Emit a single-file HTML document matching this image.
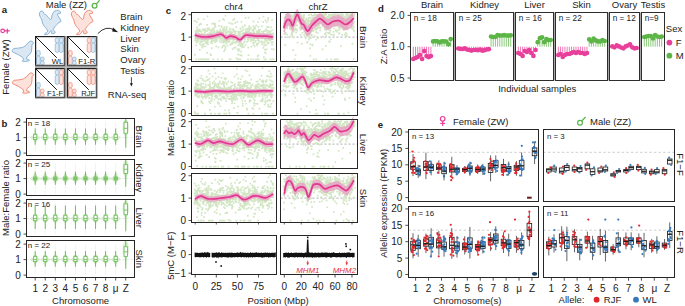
<!DOCTYPE html>
<html><head><meta charset="utf-8"><style>
html,body{margin:0;padding:0;background:#fff;}
svg{display:block;font-family:"Liberation Sans",sans-serif;}
</style></head><body>
<svg width="685" height="306" viewBox="0 0 685 306">
<rect width="685" height="306" fill="#fff"/>
<text x="1.80" y="12.74" font-size="9.6" text-anchor="start" fill="#222222" font-weight="bold">a</text>
<text x="1.60" y="127.04" font-size="9.6" text-anchor="start" fill="#222222" font-weight="bold">b</text>
<text x="165.80" y="14.04" font-size="9.6" text-anchor="start" fill="#222222" font-weight="bold">c</text>
<text x="378.00" y="12.34" font-size="9.6" text-anchor="start" fill="#222222" font-weight="bold">d</text>
<text x="377.80" y="128.14" font-size="9.6" text-anchor="start" fill="#222222" font-weight="bold">e</text>
<polygon points="39.40,14.90 39.60,12.70 40.70,11.30 42.30,11.10 43.50,12.00 43.70,13.30 44.80,14.30 46.70,15.40 48.50,17.70 50.30,19.30 51.50,18.80 51.90,15.80 52.60,13.60 54.00,11.50 56.30,10.40 58.50,10.40 60.40,11.70 60.60,13.30 59.20,13.60 58.10,13.30 57.40,14.00 58.10,15.80 59.50,18.10 60.50,20.00 61.00,21.30 60.50,22.00 58.90,22.60 56.80,24.50 54.80,26.80 53.20,29.20 53.70,30.50 55.30,31.80 54.80,33.10 52.10,33.90 51.40,33.10 51.90,31.30 50.80,30.50 49.50,32.60 47.70,34.40 44.80,34.70 44.50,33.90 46.40,32.60 47.90,31.00 46.60,28.90 44.30,26.30 42.50,23.10 41.90,20.00 40.50,17.50" fill="#dbe8f3" stroke="#8ab6d8" stroke-width="1.0" stroke-linejoin="round"/>
<polygon points="71.40,14.90 71.60,12.70 72.70,11.30 74.30,11.10 75.50,12.00 75.70,13.30 76.80,14.30 78.70,15.40 80.50,17.70 82.30,19.30 83.50,18.80 83.90,15.80 84.60,13.60 86.00,11.50 88.30,10.40 90.50,10.40 92.40,11.70 92.60,13.30 91.20,13.60 90.10,13.30 89.40,14.00 90.10,15.80 91.50,18.10 92.50,20.00 93.00,21.30 92.50,22.00 90.90,22.60 88.80,24.50 86.80,26.80 85.20,29.20 85.70,30.50 87.30,31.80 86.80,33.10 84.10,33.90 83.40,33.10 83.90,31.30 82.80,30.50 81.50,32.60 79.70,34.40 76.80,34.70 76.50,33.90 78.40,32.60 79.90,31.00 78.60,28.90 76.30,26.30 74.50,23.10 73.90,20.00 72.50,17.50" fill="#fde2dc" stroke="#f0907c" stroke-width="1.0" stroke-linejoin="round"/>
<polygon points="12.20,50.40 13.70,48.50 17.60,48.20 22.50,47.50 25.90,45.50 27.90,43.10 29.90,41.30 31.80,41.10 33.50,42.90 32.80,44.00 31.80,45.00 31.80,48.00 31.30,51.90 29.40,54.80 26.90,56.80 26.40,58.90 28.90,59.70 29.40,60.70 25.40,61.50 22.50,61.20 23.50,59.20 22.50,57.30 18.60,54.80 14.70,52.90 12.50,51.90" fill="#dbe8f3" stroke="#8ab6d8" stroke-width="1.0" stroke-linejoin="round"/>
<polygon points="12.40,82.20 13.90,80.30 17.80,80.00 22.70,79.30 26.10,77.30 28.10,74.90 30.10,73.10 32.00,72.90 33.70,74.70 33.00,75.80 32.00,76.80 32.00,79.80 31.50,83.70 29.60,86.60 27.10,88.60 26.60,90.70 29.10,91.50 29.60,92.50 25.60,93.30 22.70,93.00 23.70,91.00 22.70,89.10 18.80,86.60 14.90,84.70 12.70,83.70" fill="#fde2dc" stroke="#f0907c" stroke-width="1.0" stroke-linejoin="round"/>
<text x="66.40" y="8.40" font-size="9.5" text-anchor="middle" fill="#222222" >Male (ZZ)</text>
<g transform="translate(5.90,67.00) rotate(-90)"><text x="0" y="3.40" font-size="9.5" text-anchor="middle" fill="#222222" >Female (ZW)</text></g>
<g stroke="#5cb548" stroke-width="1.25" fill="none"><circle cx="94.6" cy="5.7" r="2.4"/><line x1="96.4" y1="3.9" x2="99.6" y2="0.3"/></g>
<g stroke="#e8409a" stroke-width="1.25" fill="none"><circle cx="2.7" cy="30.85" r="1.85"/><line x1="4.6" y1="30.85" x2="9.8" y2="30.85"/><line x1="7.3" y1="28.7" x2="7.3" y2="33.4"/></g>
<rect x="35" y="36" width="62.5" height="62.5" fill="#b4b4b4"/>
<rect x="35" y="36" width="30" height="30" fill="#fff"/>
<rect x="55.20" y="37.70" width="3.90" height="5.40" rx="1.95" fill="#dbe8f3" stroke="#8ab6d8" stroke-width="0.75"/>
<rect x="55.20" y="43.10" width="3.90" height="9.40" rx="1.95" fill="#dbe8f3" stroke="#8ab6d8" stroke-width="0.75"/>
<rect x="59.30" y="37.70" width="3.90" height="5.40" rx="1.95" fill="#dbe8f3" stroke="#8ab6d8" stroke-width="0.75"/>
<rect x="59.30" y="43.10" width="3.90" height="9.40" rx="1.95" fill="#dbe8f3" stroke="#8ab6d8" stroke-width="0.75"/>
<rect x="36.60" y="50.40" width="3.60" height="5.60" rx="1.80" fill="#dbe8f3" stroke="#8ab6d8" stroke-width="0.75"/>
<rect x="36.60" y="56.00" width="3.60" height="9.00" rx="1.80" fill="#dbe8f3" stroke="#8ab6d8" stroke-width="0.75"/>
<rect x="40.40" y="57.00" width="3.80" height="3.90" rx="1.90" fill="#dbe8f3" stroke="#8ab6d8" stroke-width="0.75"/>
<rect x="40.40" y="60.90" width="3.80" height="4.10" rx="1.90" fill="#dbe8f3" stroke="#8ab6d8" stroke-width="0.75"/>
<line x1="35.50" y1="36.50" x2="56.80" y2="57.80" stroke="#1a1a1a" stroke-width="1.0" />
<line x1="35.00" y1="36.60" x2="65.00" y2="36.60" stroke="#202020" stroke-width="1.2" />
<line x1="35.60" y1="36.00" x2="35.60" y2="66.00" stroke="#202020" stroke-width="1.2" />
<line x1="64.50" y1="36.00" x2="64.50" y2="66.00" stroke="#555" stroke-width="1.5" />
<line x1="35.00" y1="65.50" x2="65.00" y2="65.50" stroke="#555" stroke-width="1.5" />
<text x="63.30" y="64.36" font-size="7.7" text-anchor="end" fill="#222222" >WL</text>
<rect x="67" y="36" width="30" height="30" fill="#fff"/>
<rect x="87.20" y="37.70" width="3.90" height="5.40" rx="1.95" fill="#fde2dc" stroke="#f0907c" stroke-width="0.75"/>
<rect x="87.20" y="43.10" width="3.90" height="9.40" rx="1.95" fill="#fde2dc" stroke="#f0907c" stroke-width="0.75"/>
<rect x="91.30" y="37.70" width="3.90" height="5.40" rx="1.95" fill="#dbe8f3" stroke="#8ab6d8" stroke-width="0.75"/>
<rect x="91.30" y="43.10" width="3.90" height="9.40" rx="1.95" fill="#dbe8f3" stroke="#8ab6d8" stroke-width="0.75"/>
<rect x="68.60" y="50.40" width="3.60" height="5.60" rx="1.80" fill="#fde2dc" stroke="#f0907c" stroke-width="0.75"/>
<rect x="68.60" y="56.00" width="3.60" height="9.00" rx="1.80" fill="#fde2dc" stroke="#f0907c" stroke-width="0.75"/>
<rect x="72.40" y="57.00" width="3.80" height="3.90" rx="1.90" fill="#dbe8f3" stroke="#8ab6d8" stroke-width="0.75"/>
<rect x="72.40" y="60.90" width="3.80" height="4.10" rx="1.90" fill="#dbe8f3" stroke="#8ab6d8" stroke-width="0.75"/>
<line x1="67.50" y1="36.50" x2="88.80" y2="57.80" stroke="#1a1a1a" stroke-width="1.0" />
<line x1="67.00" y1="36.60" x2="97.00" y2="36.60" stroke="#202020" stroke-width="1.2" />
<line x1="67.60" y1="36.00" x2="67.60" y2="66.00" stroke="#202020" stroke-width="1.2" />
<line x1="96.50" y1="36.00" x2="96.50" y2="66.00" stroke="#555" stroke-width="1.5" />
<line x1="67.00" y1="65.50" x2="97.00" y2="65.50" stroke="#555" stroke-width="1.5" />
<text x="95.30" y="64.36" font-size="7.7" text-anchor="end" fill="#222222" >F1-R</text>
<rect x="35" y="68" width="30" height="30" fill="#fff"/>
<rect x="55.20" y="69.70" width="3.90" height="5.40" rx="1.95" fill="#dbe8f3" stroke="#8ab6d8" stroke-width="0.75"/>
<rect x="55.20" y="75.10" width="3.90" height="9.40" rx="1.95" fill="#dbe8f3" stroke="#8ab6d8" stroke-width="0.75"/>
<rect x="59.30" y="69.70" width="3.90" height="5.40" rx="1.95" fill="#fde2dc" stroke="#f0907c" stroke-width="0.75"/>
<rect x="59.30" y="75.10" width="3.90" height="9.40" rx="1.95" fill="#fde2dc" stroke="#f0907c" stroke-width="0.75"/>
<rect x="36.60" y="82.40" width="3.60" height="5.60" rx="1.80" fill="#dbe8f3" stroke="#8ab6d8" stroke-width="0.75"/>
<rect x="36.60" y="88.00" width="3.60" height="9.00" rx="1.80" fill="#dbe8f3" stroke="#8ab6d8" stroke-width="0.75"/>
<rect x="40.40" y="89.00" width="3.80" height="3.90" rx="1.90" fill="#fde2dc" stroke="#f0907c" stroke-width="0.75"/>
<rect x="40.40" y="92.90" width="3.80" height="4.10" rx="1.90" fill="#fde2dc" stroke="#f0907c" stroke-width="0.75"/>
<line x1="35.50" y1="68.50" x2="56.80" y2="89.80" stroke="#1a1a1a" stroke-width="1.0" />
<line x1="35.00" y1="68.60" x2="65.00" y2="68.60" stroke="#202020" stroke-width="1.2" />
<line x1="35.60" y1="68.00" x2="35.60" y2="98.00" stroke="#202020" stroke-width="1.2" />
<line x1="64.50" y1="68.00" x2="64.50" y2="98.00" stroke="#555" stroke-width="1.5" />
<line x1="35.00" y1="97.50" x2="65.00" y2="97.50" stroke="#555" stroke-width="1.5" />
<text x="63.30" y="96.36" font-size="7.7" text-anchor="end" fill="#222222" >F1-F</text>
<rect x="67" y="68" width="30" height="30" fill="#fff"/>
<rect x="87.20" y="69.70" width="3.90" height="5.40" rx="1.95" fill="#fde2dc" stroke="#f0907c" stroke-width="0.75"/>
<rect x="87.20" y="75.10" width="3.90" height="9.40" rx="1.95" fill="#fde2dc" stroke="#f0907c" stroke-width="0.75"/>
<rect x="91.30" y="69.70" width="3.90" height="5.40" rx="1.95" fill="#fde2dc" stroke="#f0907c" stroke-width="0.75"/>
<rect x="91.30" y="75.10" width="3.90" height="9.40" rx="1.95" fill="#fde2dc" stroke="#f0907c" stroke-width="0.75"/>
<rect x="68.60" y="82.40" width="3.60" height="5.60" rx="1.80" fill="#fde2dc" stroke="#f0907c" stroke-width="0.75"/>
<rect x="68.60" y="88.00" width="3.60" height="9.00" rx="1.80" fill="#fde2dc" stroke="#f0907c" stroke-width="0.75"/>
<rect x="72.40" y="89.00" width="3.80" height="3.90" rx="1.90" fill="#fde2dc" stroke="#f0907c" stroke-width="0.75"/>
<rect x="72.40" y="92.90" width="3.80" height="4.10" rx="1.90" fill="#fde2dc" stroke="#f0907c" stroke-width="0.75"/>
<line x1="67.50" y1="68.50" x2="88.80" y2="89.80" stroke="#1a1a1a" stroke-width="1.0" />
<line x1="67.00" y1="68.60" x2="97.00" y2="68.60" stroke="#202020" stroke-width="1.2" />
<line x1="67.60" y1="68.00" x2="67.60" y2="98.00" stroke="#202020" stroke-width="1.2" />
<line x1="96.50" y1="68.00" x2="96.50" y2="98.00" stroke="#555" stroke-width="1.5" />
<line x1="67.00" y1="97.50" x2="97.00" y2="97.50" stroke="#555" stroke-width="1.5" />
<text x="95.30" y="96.36" font-size="7.7" text-anchor="end" fill="#222222" >RJF</text>
<text x="120.30" y="20.20" font-size="9.5" text-anchor="start" fill="#222222" >Brain</text>
<text x="120.30" y="30.96" font-size="9.5" text-anchor="start" fill="#222222" >Kidney</text>
<text x="120.30" y="41.72" font-size="9.5" text-anchor="start" fill="#222222" >Liver</text>
<text x="120.30" y="52.48" font-size="9.5" text-anchor="start" fill="#222222" >Skin</text>
<text x="120.30" y="63.24" font-size="9.5" text-anchor="start" fill="#222222" >Ovary</text>
<text x="120.30" y="74.00" font-size="9.5" text-anchor="start" fill="#222222" >Testis</text>
<path d="M97.8,33.6 Q106,25 114.5,30" fill="none" stroke="#1a1a1a" stroke-width="0.9"/>
<polygon points="113,27.6 118.2,32.2 112.2,31.6" fill="#1a1a1a"/>
<line x1="131.40" y1="77.20" x2="131.40" y2="84.50" stroke="#1a1a1a" stroke-width="0.8" />
<polygon points="129.9,83.2 132.9,83.2 131.4,86.6" fill="#1a1a1a"/>
<text x="107.80" y="98.10" font-size="9.5" text-anchor="start" fill="#222222" >RNA-seq</text>
<line x1="26.50" y1="137.60" x2="134.50" y2="137.60" stroke="#d0d0d0" stroke-width="0.6" stroke-dasharray="2,2"/>
<line x1="35.20" y1="152.79" x2="35.20" y2="122.10" stroke="#eef6ea" stroke-width="1" />
<polygon points="35.20,144.73 36.00,140.70 40.70,137.60 36.00,134.50 35.20,128.45 34.40,134.50 29.70,137.60 34.40,140.70" fill="#cfe8c4" opacity="0.8"/>
<polygon points="33.60,141.47 36.80,141.47 36.80,132.95 33.60,132.95" fill="#cfe8c4"/>
<line x1="35.20" y1="144.73" x2="35.20" y2="128.45" stroke="#6cc057" stroke-width="1" />
<rect x="33.60" y="134.34" width="3.20" height="5.27" fill="#fff" stroke="#6cc057" stroke-width="0.9" />
<line x1="33.60" y1="137.60" x2="36.80" y2="137.60" stroke="#6cc057" stroke-width="0.9" />
<line x1="45.26" y1="152.79" x2="45.26" y2="122.10" stroke="#eef6ea" stroke-width="1" />
<polygon points="45.26,144.73 46.06,140.70 50.76,137.60 46.06,134.50 45.26,128.45 44.46,134.50 39.76,137.60 44.46,140.70" fill="#cfe8c4" opacity="0.8"/>
<polygon points="43.66,141.47 46.86,141.47 46.86,132.95 43.66,132.95" fill="#cfe8c4"/>
<line x1="45.26" y1="144.73" x2="45.26" y2="128.45" stroke="#6cc057" stroke-width="1" />
<rect x="43.66" y="134.34" width="3.20" height="5.27" fill="#fff" stroke="#6cc057" stroke-width="0.9" />
<line x1="43.66" y1="137.60" x2="46.86" y2="137.60" stroke="#6cc057" stroke-width="0.9" />
<line x1="55.32" y1="152.79" x2="55.32" y2="122.10" stroke="#eef6ea" stroke-width="1" />
<polygon points="55.32,144.73 56.12,140.70 60.82,137.60 56.12,134.50 55.32,128.45 54.52,134.50 49.82,137.60 54.52,140.70" fill="#cfe8c4" opacity="0.8"/>
<polygon points="53.72,141.47 56.92,141.47 56.92,132.95 53.72,132.95" fill="#cfe8c4"/>
<line x1="55.32" y1="144.73" x2="55.32" y2="128.45" stroke="#6cc057" stroke-width="1" />
<rect x="53.72" y="134.34" width="3.20" height="5.27" fill="#fff" stroke="#6cc057" stroke-width="0.9" />
<line x1="53.72" y1="137.60" x2="56.92" y2="137.60" stroke="#6cc057" stroke-width="0.9" />
<line x1="65.38" y1="152.79" x2="65.38" y2="122.10" stroke="#eef6ea" stroke-width="1" />
<polygon points="65.38,144.73 66.18,140.70 70.88,137.60 66.18,134.50 65.38,128.45 64.58,134.50 59.88,137.60 64.58,140.70" fill="#cfe8c4" opacity="0.8"/>
<polygon points="63.78,141.47 66.98,141.47 66.98,132.95 63.78,132.95" fill="#cfe8c4"/>
<line x1="65.38" y1="144.73" x2="65.38" y2="128.45" stroke="#6cc057" stroke-width="1" />
<rect x="63.78" y="134.34" width="3.20" height="5.27" fill="#fff" stroke="#6cc057" stroke-width="0.9" />
<line x1="63.78" y1="137.60" x2="66.98" y2="137.60" stroke="#6cc057" stroke-width="0.9" />
<line x1="75.44" y1="152.79" x2="75.44" y2="122.10" stroke="#eef6ea" stroke-width="1" />
<polygon points="75.44,144.73 76.24,140.70 80.94,137.60 76.24,134.50 75.44,128.45 74.64,134.50 69.94,137.60 74.64,140.70" fill="#cfe8c4" opacity="0.8"/>
<polygon points="73.84,141.47 77.04,141.47 77.04,132.95 73.84,132.95" fill="#cfe8c4"/>
<line x1="75.44" y1="144.73" x2="75.44" y2="128.45" stroke="#6cc057" stroke-width="1" />
<rect x="73.84" y="134.34" width="3.20" height="5.27" fill="#fff" stroke="#6cc057" stroke-width="0.9" />
<line x1="73.84" y1="137.60" x2="77.04" y2="137.60" stroke="#6cc057" stroke-width="0.9" />
<line x1="85.50" y1="152.79" x2="85.50" y2="122.10" stroke="#eef6ea" stroke-width="1" />
<polygon points="85.50,144.73 86.30,140.70 91.00,137.60 86.30,134.50 85.50,128.45 84.70,134.50 80.00,137.60 84.70,140.70" fill="#cfe8c4" opacity="0.8"/>
<polygon points="83.90,141.47 87.10,141.47 87.10,132.95 83.90,132.95" fill="#cfe8c4"/>
<line x1="85.50" y1="144.73" x2="85.50" y2="128.45" stroke="#6cc057" stroke-width="1" />
<rect x="83.90" y="134.34" width="3.20" height="5.27" fill="#fff" stroke="#6cc057" stroke-width="0.9" />
<line x1="83.90" y1="137.60" x2="87.10" y2="137.60" stroke="#6cc057" stroke-width="0.9" />
<line x1="95.56" y1="152.79" x2="95.56" y2="122.10" stroke="#eef6ea" stroke-width="1" />
<polygon points="95.56,144.73 96.36,140.70 101.06,137.60 96.36,134.50 95.56,128.45 94.76,134.50 90.06,137.60 94.76,140.70" fill="#cfe8c4" opacity="0.8"/>
<polygon points="93.96,141.47 97.16,141.47 97.16,132.95 93.96,132.95" fill="#cfe8c4"/>
<line x1="95.56" y1="144.73" x2="95.56" y2="128.45" stroke="#6cc057" stroke-width="1" />
<rect x="93.96" y="134.34" width="3.20" height="5.27" fill="#fff" stroke="#6cc057" stroke-width="0.9" />
<line x1="93.96" y1="137.60" x2="97.16" y2="137.60" stroke="#6cc057" stroke-width="0.9" />
<line x1="105.62" y1="152.79" x2="105.62" y2="122.10" stroke="#eef6ea" stroke-width="1" />
<polygon points="105.62,144.73 106.42,140.70 111.12,137.60 106.42,134.50 105.62,128.45 104.82,134.50 100.12,137.60 104.82,140.70" fill="#cfe8c4" opacity="0.8"/>
<polygon points="104.02,141.47 107.22,141.47 107.22,132.95 104.02,132.95" fill="#cfe8c4"/>
<line x1="105.62" y1="144.73" x2="105.62" y2="128.45" stroke="#6cc057" stroke-width="1" />
<rect x="104.02" y="134.34" width="3.20" height="5.27" fill="#fff" stroke="#6cc057" stroke-width="0.9" />
<line x1="104.02" y1="137.60" x2="107.22" y2="137.60" stroke="#6cc057" stroke-width="0.9" />
<line x1="115.68" y1="152.79" x2="115.68" y2="122.10" stroke="#eef6ea" stroke-width="1" />
<polygon points="115.68,144.73 116.48,140.70 121.18,137.60 116.48,134.50 115.68,128.45 114.88,134.50 110.18,137.60 114.88,140.70" fill="#cfe8c4" opacity="0.8"/>
<polygon points="114.08,141.47 117.28,141.47 117.28,132.95 114.08,132.95" fill="#cfe8c4"/>
<line x1="115.68" y1="144.73" x2="115.68" y2="128.45" stroke="#6cc057" stroke-width="1" />
<rect x="114.08" y="134.34" width="3.20" height="5.27" fill="#fff" stroke="#6cc057" stroke-width="0.9" />
<line x1="114.08" y1="137.60" x2="117.28" y2="137.60" stroke="#6cc057" stroke-width="0.9" />
<line x1="125.74" y1="152.79" x2="125.74" y2="122.10" stroke="#eef6ea" stroke-width="1" />
<polygon points="125.74,147.67 126.94,136.05 128.94,130.62 128.74,123.65 127.24,119.78 124.24,119.78 122.74,123.65 122.54,130.62 124.54,136.05" fill="#cfe8c4" opacity="0.8"/>
<line x1="125.74" y1="147.67" x2="125.74" y2="119.00" stroke="#6cc057" stroke-width="1" />
<rect x="124.04" y="122.25" width="3.40" height="11.00" fill="#fff" stroke="#6cc057" stroke-width="0.9" />
<line x1="124.04" y1="128.30" x2="127.44" y2="128.30" stroke="#6cc057" stroke-width="0.9" />
<rect x="26.50" y="118.50" width="108.00" height="37.00" fill="none" stroke="#262626" stroke-width="1" />
<line x1="23.50" y1="153.10" x2="26.50" y2="153.10" stroke="#262626" stroke-width="0.8" />
<text x="20.70" y="156.68" font-size="10" text-anchor="end" fill="#222222" >0</text>
<line x1="23.50" y1="137.60" x2="26.50" y2="137.60" stroke="#262626" stroke-width="0.8" />
<text x="20.70" y="141.18" font-size="10" text-anchor="end" fill="#222222" >1</text>
<line x1="23.50" y1="122.10" x2="26.50" y2="122.10" stroke="#262626" stroke-width="0.8" />
<text x="20.70" y="125.68" font-size="10" text-anchor="end" fill="#222222" >2</text>
<text x="27.80" y="126.16" font-size="8" text-anchor="start" fill="#222222" >n = 18</text>
<g transform="translate(139.60,136.70) rotate(90)"><text x="0" y="3.40" font-size="9.5" text-anchor="middle" fill="#222222" >Brain</text></g>
<line x1="26.50" y1="178.60" x2="134.50" y2="178.60" stroke="#d0d0d0" stroke-width="0.6" stroke-dasharray="2,2"/>
<line x1="35.20" y1="193.79" x2="35.20" y2="163.10" stroke="#eef6ea" stroke-width="1" />
<polygon points="35.20,184.80 36.00,181.70 41.20,178.60 36.00,175.50 35.20,171.62 34.40,175.50 29.20,178.60 34.40,181.70" fill="#cfe8c4" opacity="0.8"/>
<polygon points="33.60,182.47 36.80,182.47 36.80,173.95 33.60,173.95" fill="#cfe8c4"/>
<line x1="35.20" y1="184.80" x2="35.20" y2="171.62" stroke="#6cc057" stroke-width="1" />
<rect x="33.60" y="177.05" width="3.20" height="2.79" fill="#a9dc96" stroke="#6cc057" stroke-width="0.9" />
<line x1="33.60" y1="178.60" x2="36.80" y2="178.60" stroke="#6cc057" stroke-width="0.9" />
<line x1="45.26" y1="193.79" x2="45.26" y2="163.10" stroke="#eef6ea" stroke-width="1" />
<polygon points="45.26,184.80 46.06,181.70 51.26,178.60 46.06,175.50 45.26,171.62 44.46,175.50 39.26,178.60 44.46,181.70" fill="#cfe8c4" opacity="0.8"/>
<polygon points="43.66,182.47 46.86,182.47 46.86,173.95 43.66,173.95" fill="#cfe8c4"/>
<line x1="45.26" y1="184.80" x2="45.26" y2="171.62" stroke="#6cc057" stroke-width="1" />
<rect x="43.66" y="177.05" width="3.20" height="2.79" fill="#a9dc96" stroke="#6cc057" stroke-width="0.9" />
<line x1="43.66" y1="178.60" x2="46.86" y2="178.60" stroke="#6cc057" stroke-width="0.9" />
<line x1="55.32" y1="193.79" x2="55.32" y2="163.10" stroke="#eef6ea" stroke-width="1" />
<polygon points="55.32,184.80 56.12,181.70 61.32,178.60 56.12,175.50 55.32,171.62 54.52,175.50 49.32,178.60 54.52,181.70" fill="#cfe8c4" opacity="0.8"/>
<polygon points="53.72,182.47 56.92,182.47 56.92,173.95 53.72,173.95" fill="#cfe8c4"/>
<line x1="55.32" y1="184.80" x2="55.32" y2="171.62" stroke="#6cc057" stroke-width="1" />
<rect x="53.72" y="177.05" width="3.20" height="2.79" fill="#a9dc96" stroke="#6cc057" stroke-width="0.9" />
<line x1="53.72" y1="178.60" x2="56.92" y2="178.60" stroke="#6cc057" stroke-width="0.9" />
<line x1="65.38" y1="193.79" x2="65.38" y2="163.10" stroke="#eef6ea" stroke-width="1" />
<polygon points="65.38,184.80 66.18,181.70 71.38,178.60 66.18,175.50 65.38,171.62 64.58,175.50 59.38,178.60 64.58,181.70" fill="#cfe8c4" opacity="0.8"/>
<polygon points="63.78,182.47 66.98,182.47 66.98,173.95 63.78,173.95" fill="#cfe8c4"/>
<line x1="65.38" y1="184.80" x2="65.38" y2="171.62" stroke="#6cc057" stroke-width="1" />
<rect x="63.78" y="177.05" width="3.20" height="2.79" fill="#a9dc96" stroke="#6cc057" stroke-width="0.9" />
<line x1="63.78" y1="178.60" x2="66.98" y2="178.60" stroke="#6cc057" stroke-width="0.9" />
<line x1="75.44" y1="193.79" x2="75.44" y2="163.10" stroke="#eef6ea" stroke-width="1" />
<polygon points="75.44,184.80 76.24,181.70 81.44,178.60 76.24,175.50 75.44,171.62 74.64,175.50 69.44,178.60 74.64,181.70" fill="#cfe8c4" opacity="0.8"/>
<polygon points="73.84,182.47 77.04,182.47 77.04,173.95 73.84,173.95" fill="#cfe8c4"/>
<line x1="75.44" y1="184.80" x2="75.44" y2="171.62" stroke="#6cc057" stroke-width="1" />
<rect x="73.84" y="177.05" width="3.20" height="2.79" fill="#a9dc96" stroke="#6cc057" stroke-width="0.9" />
<line x1="73.84" y1="178.60" x2="77.04" y2="178.60" stroke="#6cc057" stroke-width="0.9" />
<line x1="85.50" y1="193.79" x2="85.50" y2="163.10" stroke="#eef6ea" stroke-width="1" />
<polygon points="85.50,184.80 86.30,181.70 91.50,178.60 86.30,175.50 85.50,171.62 84.70,175.50 79.50,178.60 84.70,181.70" fill="#cfe8c4" opacity="0.8"/>
<polygon points="83.90,182.47 87.10,182.47 87.10,173.95 83.90,173.95" fill="#cfe8c4"/>
<line x1="85.50" y1="184.80" x2="85.50" y2="171.62" stroke="#6cc057" stroke-width="1" />
<rect x="83.90" y="177.05" width="3.20" height="2.79" fill="#a9dc96" stroke="#6cc057" stroke-width="0.9" />
<line x1="83.90" y1="178.60" x2="87.10" y2="178.60" stroke="#6cc057" stroke-width="0.9" />
<line x1="95.56" y1="193.79" x2="95.56" y2="163.10" stroke="#eef6ea" stroke-width="1" />
<polygon points="95.56,184.80 96.36,181.70 101.56,178.60 96.36,175.50 95.56,171.62 94.76,175.50 89.56,178.60 94.76,181.70" fill="#cfe8c4" opacity="0.8"/>
<polygon points="93.96,182.47 97.16,182.47 97.16,173.95 93.96,173.95" fill="#cfe8c4"/>
<line x1="95.56" y1="184.80" x2="95.56" y2="171.62" stroke="#6cc057" stroke-width="1" />
<rect x="93.96" y="177.05" width="3.20" height="2.79" fill="#a9dc96" stroke="#6cc057" stroke-width="0.9" />
<line x1="93.96" y1="178.60" x2="97.16" y2="178.60" stroke="#6cc057" stroke-width="0.9" />
<line x1="105.62" y1="193.79" x2="105.62" y2="163.10" stroke="#eef6ea" stroke-width="1" />
<polygon points="105.62,184.80 106.42,181.70 111.62,178.60 106.42,175.50 105.62,171.62 104.82,175.50 99.62,178.60 104.82,181.70" fill="#cfe8c4" opacity="0.8"/>
<polygon points="104.02,182.47 107.22,182.47 107.22,173.95 104.02,173.95" fill="#cfe8c4"/>
<line x1="105.62" y1="184.80" x2="105.62" y2="171.62" stroke="#6cc057" stroke-width="1" />
<rect x="104.02" y="177.05" width="3.20" height="2.79" fill="#a9dc96" stroke="#6cc057" stroke-width="0.9" />
<line x1="104.02" y1="178.60" x2="107.22" y2="178.60" stroke="#6cc057" stroke-width="0.9" />
<line x1="115.68" y1="193.79" x2="115.68" y2="163.10" stroke="#eef6ea" stroke-width="1" />
<polygon points="115.68,184.80 116.48,181.70 121.68,178.60 116.48,175.50 115.68,171.62 114.88,175.50 109.68,178.60 114.88,181.70" fill="#cfe8c4" opacity="0.8"/>
<polygon points="114.08,182.47 117.28,182.47 117.28,173.95 114.08,173.95" fill="#cfe8c4"/>
<line x1="115.68" y1="184.80" x2="115.68" y2="171.62" stroke="#6cc057" stroke-width="1" />
<rect x="114.08" y="177.05" width="3.20" height="2.79" fill="#a9dc96" stroke="#6cc057" stroke-width="0.9" />
<line x1="114.08" y1="178.60" x2="117.28" y2="178.60" stroke="#6cc057" stroke-width="0.9" />
<line x1="125.74" y1="193.79" x2="125.74" y2="163.10" stroke="#eef6ea" stroke-width="1" />
<polygon points="125.74,186.81 126.94,177.05 128.94,171.62 128.74,164.65 127.24,160.78 124.24,160.78 122.74,164.65 122.54,171.62 124.54,177.05" fill="#cfe8c4" opacity="0.8"/>
<line x1="125.74" y1="186.81" x2="125.74" y2="160.00" stroke="#6cc057" stroke-width="1" />
<rect x="124.04" y="164.65" width="3.40" height="8.83" fill="#fff" stroke="#6cc057" stroke-width="0.9" />
<line x1="124.04" y1="169.30" x2="127.44" y2="169.30" stroke="#6cc057" stroke-width="0.9" />
<rect x="26.50" y="159.50" width="108.00" height="36.00" fill="none" stroke="#262626" stroke-width="1" />
<line x1="23.50" y1="194.10" x2="26.50" y2="194.10" stroke="#262626" stroke-width="0.8" />
<text x="20.70" y="197.68" font-size="10" text-anchor="end" fill="#222222" >0</text>
<line x1="23.50" y1="178.60" x2="26.50" y2="178.60" stroke="#262626" stroke-width="0.8" />
<text x="20.70" y="182.18" font-size="10" text-anchor="end" fill="#222222" >1</text>
<line x1="23.50" y1="163.10" x2="26.50" y2="163.10" stroke="#262626" stroke-width="0.8" />
<text x="20.70" y="166.68" font-size="10" text-anchor="end" fill="#222222" >2</text>
<text x="27.80" y="167.16" font-size="8" text-anchor="start" fill="#222222" >n = 25</text>
<g transform="translate(139.60,177.70) rotate(90)"><text x="0" y="3.40" font-size="9.5" text-anchor="middle" fill="#222222" >Kidney</text></g>
<line x1="26.50" y1="218.60" x2="134.50" y2="218.60" stroke="#d0d0d0" stroke-width="0.6" stroke-dasharray="2,2"/>
<line x1="35.20" y1="233.79" x2="35.20" y2="203.10" stroke="#eef6ea" stroke-width="1" />
<polygon points="35.20,228.98 36.00,221.70 40.70,218.60 36.00,215.50 35.20,205.58 34.40,215.50 29.70,218.60 34.40,221.70" fill="#cfe8c4" opacity="0.8"/>
<polygon points="33.60,222.47 36.80,222.47 36.80,213.95 33.60,213.95" fill="#cfe8c4"/>
<line x1="35.20" y1="228.98" x2="35.20" y2="205.58" stroke="#6cc057" stroke-width="1" />
<rect x="33.60" y="215.19" width="3.20" height="5.58" fill="#fff" stroke="#6cc057" stroke-width="0.9" />
<line x1="33.60" y1="218.60" x2="36.80" y2="218.60" stroke="#6cc057" stroke-width="0.9" />
<line x1="45.26" y1="233.79" x2="45.26" y2="203.10" stroke="#eef6ea" stroke-width="1" />
<polygon points="45.26,228.98 46.06,221.70 50.76,218.60 46.06,215.50 45.26,205.58 44.46,215.50 39.76,218.60 44.46,221.70" fill="#cfe8c4" opacity="0.8"/>
<polygon points="43.66,222.47 46.86,222.47 46.86,213.95 43.66,213.95" fill="#cfe8c4"/>
<line x1="45.26" y1="228.98" x2="45.26" y2="205.58" stroke="#6cc057" stroke-width="1" />
<rect x="43.66" y="215.19" width="3.20" height="5.58" fill="#fff" stroke="#6cc057" stroke-width="0.9" />
<line x1="43.66" y1="218.60" x2="46.86" y2="218.60" stroke="#6cc057" stroke-width="0.9" />
<line x1="55.32" y1="233.79" x2="55.32" y2="203.10" stroke="#eef6ea" stroke-width="1" />
<polygon points="55.32,228.98 56.12,221.70 60.82,218.60 56.12,215.50 55.32,205.58 54.52,215.50 49.82,218.60 54.52,221.70" fill="#cfe8c4" opacity="0.8"/>
<polygon points="53.72,222.47 56.92,222.47 56.92,213.95 53.72,213.95" fill="#cfe8c4"/>
<line x1="55.32" y1="228.98" x2="55.32" y2="205.58" stroke="#6cc057" stroke-width="1" />
<rect x="53.72" y="215.19" width="3.20" height="5.58" fill="#fff" stroke="#6cc057" stroke-width="0.9" />
<line x1="53.72" y1="218.60" x2="56.92" y2="218.60" stroke="#6cc057" stroke-width="0.9" />
<line x1="65.38" y1="233.79" x2="65.38" y2="203.10" stroke="#eef6ea" stroke-width="1" />
<polygon points="65.38,228.98 66.18,221.70 70.88,218.60 66.18,215.50 65.38,205.58 64.58,215.50 59.88,218.60 64.58,221.70" fill="#cfe8c4" opacity="0.8"/>
<polygon points="63.78,222.47 66.98,222.47 66.98,213.95 63.78,213.95" fill="#cfe8c4"/>
<line x1="65.38" y1="228.98" x2="65.38" y2="205.58" stroke="#6cc057" stroke-width="1" />
<rect x="63.78" y="215.19" width="3.20" height="5.58" fill="#fff" stroke="#6cc057" stroke-width="0.9" />
<line x1="63.78" y1="218.60" x2="66.98" y2="218.60" stroke="#6cc057" stroke-width="0.9" />
<line x1="75.44" y1="233.79" x2="75.44" y2="203.10" stroke="#eef6ea" stroke-width="1" />
<polygon points="75.44,228.98 76.24,221.70 80.94,218.60 76.24,215.50 75.44,205.58 74.64,215.50 69.94,218.60 74.64,221.70" fill="#cfe8c4" opacity="0.8"/>
<polygon points="73.84,222.47 77.04,222.47 77.04,213.95 73.84,213.95" fill="#cfe8c4"/>
<line x1="75.44" y1="228.98" x2="75.44" y2="205.58" stroke="#6cc057" stroke-width="1" />
<rect x="73.84" y="215.19" width="3.20" height="5.58" fill="#fff" stroke="#6cc057" stroke-width="0.9" />
<line x1="73.84" y1="218.60" x2="77.04" y2="218.60" stroke="#6cc057" stroke-width="0.9" />
<line x1="85.50" y1="233.79" x2="85.50" y2="203.10" stroke="#eef6ea" stroke-width="1" />
<polygon points="85.50,228.98 86.30,221.70 91.00,218.60 86.30,215.50 85.50,205.58 84.70,215.50 80.00,218.60 84.70,221.70" fill="#cfe8c4" opacity="0.8"/>
<polygon points="83.90,222.47 87.10,222.47 87.10,213.95 83.90,213.95" fill="#cfe8c4"/>
<line x1="85.50" y1="228.98" x2="85.50" y2="205.58" stroke="#6cc057" stroke-width="1" />
<rect x="83.90" y="215.19" width="3.20" height="5.58" fill="#fff" stroke="#6cc057" stroke-width="0.9" />
<line x1="83.90" y1="218.60" x2="87.10" y2="218.60" stroke="#6cc057" stroke-width="0.9" />
<line x1="95.56" y1="233.79" x2="95.56" y2="203.10" stroke="#eef6ea" stroke-width="1" />
<polygon points="95.56,228.98 96.36,221.70 101.06,218.60 96.36,215.50 95.56,205.58 94.76,215.50 90.06,218.60 94.76,221.70" fill="#cfe8c4" opacity="0.8"/>
<polygon points="93.96,222.47 97.16,222.47 97.16,213.95 93.96,213.95" fill="#cfe8c4"/>
<line x1="95.56" y1="228.98" x2="95.56" y2="205.58" stroke="#6cc057" stroke-width="1" />
<rect x="93.96" y="215.19" width="3.20" height="5.58" fill="#fff" stroke="#6cc057" stroke-width="0.9" />
<line x1="93.96" y1="218.60" x2="97.16" y2="218.60" stroke="#6cc057" stroke-width="0.9" />
<line x1="105.62" y1="233.79" x2="105.62" y2="203.10" stroke="#eef6ea" stroke-width="1" />
<polygon points="105.62,228.98 106.42,221.70 111.12,218.60 106.42,215.50 105.62,205.58 104.82,215.50 100.12,218.60 104.82,221.70" fill="#cfe8c4" opacity="0.8"/>
<polygon points="104.02,222.47 107.22,222.47 107.22,213.95 104.02,213.95" fill="#cfe8c4"/>
<line x1="105.62" y1="228.98" x2="105.62" y2="205.58" stroke="#6cc057" stroke-width="1" />
<rect x="104.02" y="215.19" width="3.20" height="5.58" fill="#fff" stroke="#6cc057" stroke-width="0.9" />
<line x1="104.02" y1="218.60" x2="107.22" y2="218.60" stroke="#6cc057" stroke-width="0.9" />
<line x1="115.68" y1="233.79" x2="115.68" y2="203.10" stroke="#eef6ea" stroke-width="1" />
<polygon points="115.68,228.98 116.48,221.70 121.18,218.60 116.48,215.50 115.68,205.58 114.88,215.50 110.18,218.60 114.88,221.70" fill="#cfe8c4" opacity="0.8"/>
<polygon points="114.08,222.47 117.28,222.47 117.28,213.95 114.08,213.95" fill="#cfe8c4"/>
<line x1="115.68" y1="228.98" x2="115.68" y2="205.58" stroke="#6cc057" stroke-width="1" />
<rect x="114.08" y="215.19" width="3.20" height="5.58" fill="#fff" stroke="#6cc057" stroke-width="0.9" />
<line x1="114.08" y1="218.60" x2="117.28" y2="218.60" stroke="#6cc057" stroke-width="0.9" />
<line x1="125.74" y1="233.79" x2="125.74" y2="203.10" stroke="#eef6ea" stroke-width="1" />
<polygon points="125.74,231.31 126.94,217.05 128.94,211.62 128.74,204.65 127.24,200.78 124.24,200.78 122.74,204.65 122.54,211.62 124.54,217.05" fill="#cfe8c4" opacity="0.8"/>
<line x1="125.74" y1="231.31" x2="125.74" y2="200.00" stroke="#6cc057" stroke-width="1" />
<rect x="124.04" y="203.88" width="3.40" height="10.85" fill="#fff" stroke="#6cc057" stroke-width="0.9" />
<line x1="124.04" y1="210.07" x2="127.44" y2="210.07" stroke="#6cc057" stroke-width="0.9" />
<rect x="26.50" y="199.50" width="108.00" height="37.00" fill="none" stroke="#262626" stroke-width="1" />
<line x1="23.50" y1="234.10" x2="26.50" y2="234.10" stroke="#262626" stroke-width="0.8" />
<text x="20.70" y="237.68" font-size="10" text-anchor="end" fill="#222222" >0</text>
<line x1="23.50" y1="218.60" x2="26.50" y2="218.60" stroke="#262626" stroke-width="0.8" />
<text x="20.70" y="222.18" font-size="10" text-anchor="end" fill="#222222" >1</text>
<line x1="23.50" y1="203.10" x2="26.50" y2="203.10" stroke="#262626" stroke-width="0.8" />
<text x="20.70" y="206.68" font-size="10" text-anchor="end" fill="#222222" >2</text>
<text x="27.80" y="207.16" font-size="8" text-anchor="start" fill="#222222" >n = 16</text>
<g transform="translate(139.60,217.70) rotate(90)"><text x="0" y="3.40" font-size="9.5" text-anchor="middle" fill="#222222" >Liver</text></g>
<line x1="26.50" y1="259.60" x2="134.50" y2="259.60" stroke="#d0d0d0" stroke-width="0.6" stroke-dasharray="2,2"/>
<line x1="35.20" y1="274.79" x2="35.20" y2="244.10" stroke="#eef6ea" stroke-width="1" />
<polygon points="35.20,266.73 36.00,262.70 40.70,259.60 36.00,256.50 35.20,251.08 34.40,256.50 29.70,259.60 34.40,262.70" fill="#cfe8c4" opacity="0.8"/>
<polygon points="33.60,263.48 36.80,263.48 36.80,254.95 33.60,254.95" fill="#cfe8c4"/>
<line x1="35.20" y1="266.73" x2="35.20" y2="251.08" stroke="#6cc057" stroke-width="1" />
<rect x="33.60" y="256.35" width="3.20" height="5.27" fill="#fff" stroke="#6cc057" stroke-width="0.9" />
<line x1="33.60" y1="259.60" x2="36.80" y2="259.60" stroke="#6cc057" stroke-width="0.9" />
<line x1="45.26" y1="274.79" x2="45.26" y2="244.10" stroke="#eef6ea" stroke-width="1" />
<polygon points="45.26,266.73 46.06,262.70 50.76,259.60 46.06,256.50 45.26,251.08 44.46,256.50 39.76,259.60 44.46,262.70" fill="#cfe8c4" opacity="0.8"/>
<polygon points="43.66,263.48 46.86,263.48 46.86,254.95 43.66,254.95" fill="#cfe8c4"/>
<line x1="45.26" y1="266.73" x2="45.26" y2="251.08" stroke="#6cc057" stroke-width="1" />
<rect x="43.66" y="256.35" width="3.20" height="5.27" fill="#fff" stroke="#6cc057" stroke-width="0.9" />
<line x1="43.66" y1="259.60" x2="46.86" y2="259.60" stroke="#6cc057" stroke-width="0.9" />
<line x1="55.32" y1="274.79" x2="55.32" y2="244.10" stroke="#eef6ea" stroke-width="1" />
<polygon points="55.32,266.73 56.12,262.70 60.82,259.60 56.12,256.50 55.32,251.08 54.52,256.50 49.82,259.60 54.52,262.70" fill="#cfe8c4" opacity="0.8"/>
<polygon points="53.72,263.48 56.92,263.48 56.92,254.95 53.72,254.95" fill="#cfe8c4"/>
<line x1="55.32" y1="266.73" x2="55.32" y2="251.08" stroke="#6cc057" stroke-width="1" />
<rect x="53.72" y="256.35" width="3.20" height="5.27" fill="#fff" stroke="#6cc057" stroke-width="0.9" />
<line x1="53.72" y1="259.60" x2="56.92" y2="259.60" stroke="#6cc057" stroke-width="0.9" />
<line x1="65.38" y1="274.79" x2="65.38" y2="244.10" stroke="#eef6ea" stroke-width="1" />
<polygon points="65.38,266.73 66.18,262.70 70.88,259.60 66.18,256.50 65.38,251.08 64.58,256.50 59.88,259.60 64.58,262.70" fill="#cfe8c4" opacity="0.8"/>
<polygon points="63.78,263.48 66.98,263.48 66.98,254.95 63.78,254.95" fill="#cfe8c4"/>
<line x1="65.38" y1="266.73" x2="65.38" y2="251.08" stroke="#6cc057" stroke-width="1" />
<rect x="63.78" y="256.35" width="3.20" height="5.27" fill="#fff" stroke="#6cc057" stroke-width="0.9" />
<line x1="63.78" y1="259.60" x2="66.98" y2="259.60" stroke="#6cc057" stroke-width="0.9" />
<line x1="75.44" y1="274.79" x2="75.44" y2="244.10" stroke="#eef6ea" stroke-width="1" />
<polygon points="75.44,266.73 76.24,262.70 80.94,259.60 76.24,256.50 75.44,251.08 74.64,256.50 69.94,259.60 74.64,262.70" fill="#cfe8c4" opacity="0.8"/>
<polygon points="73.84,263.48 77.04,263.48 77.04,254.95 73.84,254.95" fill="#cfe8c4"/>
<line x1="75.44" y1="266.73" x2="75.44" y2="251.08" stroke="#6cc057" stroke-width="1" />
<rect x="73.84" y="256.35" width="3.20" height="5.27" fill="#fff" stroke="#6cc057" stroke-width="0.9" />
<line x1="73.84" y1="259.60" x2="77.04" y2="259.60" stroke="#6cc057" stroke-width="0.9" />
<line x1="85.50" y1="274.79" x2="85.50" y2="244.10" stroke="#eef6ea" stroke-width="1" />
<polygon points="85.50,266.73 86.30,262.70 91.00,259.60 86.30,256.50 85.50,251.08 84.70,256.50 80.00,259.60 84.70,262.70" fill="#cfe8c4" opacity="0.8"/>
<polygon points="83.90,263.48 87.10,263.48 87.10,254.95 83.90,254.95" fill="#cfe8c4"/>
<line x1="85.50" y1="266.73" x2="85.50" y2="251.08" stroke="#6cc057" stroke-width="1" />
<rect x="83.90" y="256.35" width="3.20" height="5.27" fill="#fff" stroke="#6cc057" stroke-width="0.9" />
<line x1="83.90" y1="259.60" x2="87.10" y2="259.60" stroke="#6cc057" stroke-width="0.9" />
<line x1="95.56" y1="274.79" x2="95.56" y2="244.10" stroke="#eef6ea" stroke-width="1" />
<polygon points="95.56,266.73 96.36,262.70 101.06,259.60 96.36,256.50 95.56,251.08 94.76,256.50 90.06,259.60 94.76,262.70" fill="#cfe8c4" opacity="0.8"/>
<polygon points="93.96,263.48 97.16,263.48 97.16,254.95 93.96,254.95" fill="#cfe8c4"/>
<line x1="95.56" y1="266.73" x2="95.56" y2="251.08" stroke="#6cc057" stroke-width="1" />
<rect x="93.96" y="256.35" width="3.20" height="5.27" fill="#fff" stroke="#6cc057" stroke-width="0.9" />
<line x1="93.96" y1="259.60" x2="97.16" y2="259.60" stroke="#6cc057" stroke-width="0.9" />
<line x1="105.62" y1="274.79" x2="105.62" y2="244.10" stroke="#eef6ea" stroke-width="1" />
<polygon points="105.62,266.73 106.42,262.70 111.12,259.60 106.42,256.50 105.62,251.08 104.82,256.50 100.12,259.60 104.82,262.70" fill="#cfe8c4" opacity="0.8"/>
<polygon points="104.02,263.48 107.22,263.48 107.22,254.95 104.02,254.95" fill="#cfe8c4"/>
<line x1="105.62" y1="266.73" x2="105.62" y2="251.08" stroke="#6cc057" stroke-width="1" />
<rect x="104.02" y="256.35" width="3.20" height="5.27" fill="#fff" stroke="#6cc057" stroke-width="0.9" />
<line x1="104.02" y1="259.60" x2="107.22" y2="259.60" stroke="#6cc057" stroke-width="0.9" />
<line x1="115.68" y1="274.79" x2="115.68" y2="244.10" stroke="#eef6ea" stroke-width="1" />
<polygon points="115.68,266.73 116.48,262.70 121.18,259.60 116.48,256.50 115.68,251.08 114.88,256.50 110.18,259.60 114.88,262.70" fill="#cfe8c4" opacity="0.8"/>
<polygon points="114.08,263.48 117.28,263.48 117.28,254.95 114.08,254.95" fill="#cfe8c4"/>
<line x1="115.68" y1="266.73" x2="115.68" y2="251.08" stroke="#6cc057" stroke-width="1" />
<rect x="114.08" y="256.35" width="3.20" height="5.27" fill="#fff" stroke="#6cc057" stroke-width="0.9" />
<line x1="114.08" y1="259.60" x2="117.28" y2="259.60" stroke="#6cc057" stroke-width="0.9" />
<line x1="125.74" y1="274.79" x2="125.74" y2="244.10" stroke="#eef6ea" stroke-width="1" />
<polygon points="125.74,268.75 126.94,258.05 128.94,252.63 128.74,245.65 127.24,241.78 124.24,241.78 122.74,245.65 122.54,252.63 124.54,258.05" fill="#cfe8c4" opacity="0.8"/>
<line x1="125.74" y1="268.75" x2="125.74" y2="241.00" stroke="#6cc057" stroke-width="1" />
<rect x="124.04" y="246.74" width="3.40" height="9.61" fill="#fff" stroke="#6cc057" stroke-width="0.9" />
<line x1="124.04" y1="251.85" x2="127.44" y2="251.85" stroke="#6cc057" stroke-width="0.9" />
<rect x="26.50" y="240.50" width="108.00" height="37.00" fill="none" stroke="#262626" stroke-width="1" />
<line x1="23.50" y1="275.10" x2="26.50" y2="275.10" stroke="#262626" stroke-width="0.8" />
<text x="20.70" y="278.68" font-size="10" text-anchor="end" fill="#222222" >0</text>
<line x1="23.50" y1="259.60" x2="26.50" y2="259.60" stroke="#262626" stroke-width="0.8" />
<text x="20.70" y="263.18" font-size="10" text-anchor="end" fill="#222222" >1</text>
<line x1="23.50" y1="244.10" x2="26.50" y2="244.10" stroke="#262626" stroke-width="0.8" />
<text x="20.70" y="247.68" font-size="10" text-anchor="end" fill="#222222" >2</text>
<text x="27.80" y="248.16" font-size="8" text-anchor="start" fill="#222222" >n = 22</text>
<g transform="translate(139.60,258.70) rotate(90)"><text x="0" y="3.40" font-size="9.5" text-anchor="middle" fill="#222222" >Skin</text></g>
<line x1="35.20" y1="277.50" x2="35.20" y2="280.50" stroke="#262626" stroke-width="0.8" />
<text x="35.20" y="291.58" font-size="10" text-anchor="middle" fill="#222222" >1</text>
<line x1="45.26" y1="277.50" x2="45.26" y2="280.50" stroke="#262626" stroke-width="0.8" />
<text x="45.26" y="291.58" font-size="10" text-anchor="middle" fill="#222222" >2</text>
<line x1="55.32" y1="277.50" x2="55.32" y2="280.50" stroke="#262626" stroke-width="0.8" />
<text x="55.32" y="291.58" font-size="10" text-anchor="middle" fill="#222222" >3</text>
<line x1="65.38" y1="277.50" x2="65.38" y2="280.50" stroke="#262626" stroke-width="0.8" />
<text x="65.38" y="291.58" font-size="10" text-anchor="middle" fill="#222222" >4</text>
<line x1="75.44" y1="277.50" x2="75.44" y2="280.50" stroke="#262626" stroke-width="0.8" />
<text x="75.44" y="291.58" font-size="10" text-anchor="middle" fill="#222222" >5</text>
<line x1="85.50" y1="277.50" x2="85.50" y2="280.50" stroke="#262626" stroke-width="0.8" />
<text x="85.50" y="291.58" font-size="10" text-anchor="middle" fill="#222222" >6</text>
<line x1="95.56" y1="277.50" x2="95.56" y2="280.50" stroke="#262626" stroke-width="0.8" />
<text x="95.56" y="291.58" font-size="10" text-anchor="middle" fill="#222222" >7</text>
<line x1="105.62" y1="277.50" x2="105.62" y2="280.50" stroke="#262626" stroke-width="0.8" />
<text x="105.62" y="291.58" font-size="10" text-anchor="middle" fill="#222222" >8</text>
<line x1="115.68" y1="277.50" x2="115.68" y2="280.50" stroke="#262626" stroke-width="0.8" />
<text x="115.68" y="291.58" font-size="10" text-anchor="middle" fill="#222222" >&#956;</text>
<line x1="125.74" y1="277.50" x2="125.74" y2="280.50" stroke="#262626" stroke-width="0.8" />
<text x="125.74" y="291.58" font-size="10" text-anchor="middle" fill="#222222" >Z</text>
<text x="80.60" y="303.80" font-size="9.5" text-anchor="middle" fill="#222222" >Chromosome</text>
<g transform="translate(6.00,198.00) rotate(-90)"><text x="0" y="3.40" font-size="9.5" text-anchor="middle" fill="#222222" >Male:Female ratio</text></g>
<line x1="280.50" y1="37.10" x2="357.50" y2="37.10" stroke="#9a9a9a" stroke-width="0.8" stroke-dasharray="2,2"/>
<path d="M203.8,38.7h1.7v1.7h-1.7zM233.2,39.1h1.7v1.7h-1.7zM241.3,45.0h1.7v1.7h-1.7zM195.9,34.5h1.7v1.7h-1.7zM205.4,38.1h1.7v1.7h-1.7zM267.3,19.1h1.7v1.7h-1.7zM199.2,29.8h1.7v1.7h-1.7zM203.9,30.0h1.7v1.7h-1.7zM268.9,30.5h1.7v1.7h-1.7zM243.0,37.0h1.7v1.7h-1.7zM222.9,40.0h1.7v1.7h-1.7zM234.2,32.5h1.7v1.7h-1.7zM246.2,32.3h1.7v1.7h-1.7zM215.5,32.3h1.7v1.7h-1.7zM204.6,36.7h1.7v1.7h-1.7zM256.1,30.4h1.7v1.7h-1.7zM246.8,38.4h1.7v1.7h-1.7zM234.3,41.9h1.7v1.7h-1.7zM258.4,36.8h1.7v1.7h-1.7zM237.2,44.6h1.7v1.7h-1.7zM271.4,36.3h1.7v1.7h-1.7zM209.9,36.2h1.7v1.7h-1.7zM237.6,53.7h1.7v1.7h-1.7zM232.0,35.6h1.7v1.7h-1.7zM221.7,37.8h1.7v1.7h-1.7zM240.6,38.5h1.7v1.7h-1.7zM212.3,33.2h1.7v1.7h-1.7zM257.3,33.2h1.7v1.7h-1.7zM262.4,31.6h1.7v1.7h-1.7zM203.9,36.1h1.7v1.7h-1.7zM230.7,32.8h1.7v1.7h-1.7zM215.6,30.8h1.7v1.7h-1.7zM200.2,41.2h1.7v1.7h-1.7zM264.7,34.7h1.7v1.7h-1.7zM227.7,41.1h1.7v1.7h-1.7zM205.4,38.5h1.7v1.7h-1.7zM247.0,38.4h1.7v1.7h-1.7zM209.7,32.9h1.7v1.7h-1.7zM265.1,36.0h1.7v1.7h-1.7zM210.9,47.3h1.7v1.7h-1.7zM196.3,38.5h1.7v1.7h-1.7zM209.6,53.6h1.7v1.7h-1.7zM221.1,34.8h1.7v1.7h-1.7zM230.8,43.2h1.7v1.7h-1.7zM265.5,30.1h1.7v1.7h-1.7zM249.0,27.0h1.7v1.7h-1.7zM220.6,35.4h1.7v1.7h-1.7zM195.0,38.1h1.7v1.7h-1.7zM206.3,34.2h1.7v1.7h-1.7zM272.7,34.4h1.7v1.7h-1.7zM230.1,32.1h1.7v1.7h-1.7zM248.4,32.9h1.7v1.7h-1.7zM198.0,29.9h1.7v1.7h-1.7zM196.4,28.4h1.7v1.7h-1.7zM260.7,34.8h1.7v1.7h-1.7zM240.3,30.4h1.7v1.7h-1.7zM218.1,25.1h1.7v1.7h-1.7zM218.8,30.8h1.7v1.7h-1.7zM200.7,31.1h1.7v1.7h-1.7zM207.3,36.9h1.7v1.7h-1.7zM195.6,30.5h1.7v1.7h-1.7zM260.2,34.8h1.7v1.7h-1.7zM230.6,30.9h1.7v1.7h-1.7zM203.7,29.2h1.7v1.7h-1.7zM252.3,39.4h1.7v1.7h-1.7zM209.2,37.2h1.7v1.7h-1.7zM198.6,33.3h1.7v1.7h-1.7zM241.1,43.7h1.7v1.7h-1.7zM264.7,36.0h1.7v1.7h-1.7zM195.8,35.9h1.7v1.7h-1.7zM257.5,42.3h1.7v1.7h-1.7zM208.7,31.9h1.7v1.7h-1.7zM201.0,37.6h1.7v1.7h-1.7zM195.1,36.3h1.7v1.7h-1.7zM216.9,33.1h1.7v1.7h-1.7zM251.3,29.5h1.7v1.7h-1.7zM232.8,41.9h1.7v1.7h-1.7zM261.3,37.3h1.7v1.7h-1.7zM210.9,35.5h1.7v1.7h-1.7zM218.6,33.9h1.7v1.7h-1.7zM214.1,34.8h1.7v1.7h-1.7zM271.2,19.4h1.7v1.7h-1.7zM268.3,36.8h1.7v1.7h-1.7zM220.7,25.2h1.7v1.7h-1.7zM228.2,35.5h1.7v1.7h-1.7zM218.6,20.1h1.7v1.7h-1.7zM252.8,31.5h1.7v1.7h-1.7zM196.8,38.0h1.7v1.7h-1.7zM199.0,34.2h1.7v1.7h-1.7zM225.7,32.1h1.7v1.7h-1.7zM213.1,37.2h1.7v1.7h-1.7zM260.7,33.8h1.7v1.7h-1.7zM252.5,30.9h1.7v1.7h-1.7zM236.9,35.6h1.7v1.7h-1.7zM246.1,41.0h1.7v1.7h-1.7zM248.5,37.4h1.7v1.7h-1.7zM255.6,37.2h1.7v1.7h-1.7zM267.2,30.0h1.7v1.7h-1.7zM205.5,38.7h1.7v1.7h-1.7zM205.0,38.0h1.7v1.7h-1.7zM228.8,30.3h1.7v1.7h-1.7zM256.0,43.7h1.7v1.7h-1.7zM264.6,19.6h1.7v1.7h-1.7zM253.9,45.5h1.7v1.7h-1.7zM196.5,41.5h1.7v1.7h-1.7zM222.2,18.2h1.7v1.7h-1.7zM206.6,33.3h1.7v1.7h-1.7zM272.9,48.6h1.7v1.7h-1.7zM205.1,40.9h1.7v1.7h-1.7zM213.0,27.4h1.7v1.7h-1.7zM222.0,29.3h1.7v1.7h-1.7zM198.5,24.4h1.7v1.7h-1.7zM262.7,15.8h1.7v1.7h-1.7zM244.1,31.9h1.7v1.7h-1.7zM206.3,52.0h1.7v1.7h-1.7zM233.2,36.4h1.7v1.7h-1.7zM199.9,30.6h1.7v1.7h-1.7zM242.1,29.6h1.7v1.7h-1.7zM212.0,38.0h1.7v1.7h-1.7zM196.7,37.8h1.7v1.7h-1.7zM202.8,18.4h1.7v1.7h-1.7zM237.7,58.6h1.7v1.7h-1.7zM244.2,24.7h1.7v1.7h-1.7zM219.4,32.2h1.7v1.7h-1.7zM244.7,36.3h1.7v1.7h-1.7zM221.6,41.6h1.7v1.7h-1.7zM204.0,28.7h1.7v1.7h-1.7zM218.6,35.9h1.7v1.7h-1.7zM225.0,42.5h1.7v1.7h-1.7zM266.0,40.4h1.7v1.7h-1.7zM202.8,45.5h1.7v1.7h-1.7zM200.5,40.2h1.7v1.7h-1.7zM238.2,39.9h1.7v1.7h-1.7zM270.0,38.5h1.7v1.7h-1.7zM265.6,39.2h1.7v1.7h-1.7zM249.2,34.3h1.7v1.7h-1.7zM198.9,42.4h1.7v1.7h-1.7zM257.6,26.1h1.7v1.7h-1.7zM247.8,30.2h1.7v1.7h-1.7zM205.1,42.3h1.7v1.7h-1.7zM230.5,37.1h1.7v1.7h-1.7zM197.6,28.8h1.7v1.7h-1.7zM257.2,36.7h1.7v1.7h-1.7zM250.6,39.4h1.7v1.7h-1.7zM257.5,32.5h1.7v1.7h-1.7zM254.0,41.4h1.7v1.7h-1.7zM214.8,33.1h1.7v1.7h-1.7zM256.3,33.7h1.7v1.7h-1.7zM213.4,33.9h1.7v1.7h-1.7zM204.6,45.5h1.7v1.7h-1.7zM224.6,31.3h1.7v1.7h-1.7zM233.1,34.2h1.7v1.7h-1.7zM216.3,37.1h1.7v1.7h-1.7zM241.7,25.6h1.7v1.7h-1.7zM241.4,29.9h1.7v1.7h-1.7zM212.7,39.8h1.7v1.7h-1.7zM243.0,35.7h1.7v1.7h-1.7zM222.0,33.6h1.7v1.7h-1.7zM251.9,35.3h1.7v1.7h-1.7zM216.7,29.7h1.7v1.7h-1.7zM257.0,58.6h1.7v1.7h-1.7zM226.6,31.8h1.7v1.7h-1.7zM237.5,33.4h1.7v1.7h-1.7zM247.0,27.9h1.7v1.7h-1.7zM234.8,34.4h1.7v1.7h-1.7zM214.1,41.5h1.7v1.7h-1.7zM271.3,35.9h1.7v1.7h-1.7zM201.3,38.2h1.7v1.7h-1.7zM219.4,28.8h1.7v1.7h-1.7zM237.2,53.4h1.7v1.7h-1.7zM195.9,35.6h1.7v1.7h-1.7zM205.9,30.2h1.7v1.7h-1.7zM257.0,38.4h1.7v1.7h-1.7zM255.8,33.3h1.7v1.7h-1.7zM244.2,37.4h1.7v1.7h-1.7zM265.2,35.7h1.7v1.7h-1.7zM253.6,36.9h1.7v1.7h-1.7zM217.3,34.5h1.7v1.7h-1.7zM244.8,17.1h1.7v1.7h-1.7zM220.6,26.4h1.7v1.7h-1.7zM253.1,39.1h1.7v1.7h-1.7zM224.2,35.4h1.7v1.7h-1.7zM205.8,38.1h1.7v1.7h-1.7zM263.2,30.5h1.7v1.7h-1.7zM248.4,25.3h1.7v1.7h-1.7zM252.7,29.0h1.7v1.7h-1.7zM238.0,50.0h1.7v1.7h-1.7zM255.7,31.4h1.7v1.7h-1.7zM229.2,33.4h1.7v1.7h-1.7zM198.6,30.2h1.7v1.7h-1.7zM237.7,36.0h1.7v1.7h-1.7zM258.2,34.0h1.7v1.7h-1.7zM249.6,32.2h1.7v1.7h-1.7zM257.3,32.1h1.7v1.7h-1.7zM233.0,30.3h1.7v1.7h-1.7zM263.5,34.5h1.7v1.7h-1.7zM202.2,38.2h1.7v1.7h-1.7zM263.1,33.4h1.7v1.7h-1.7zM223.1,50.4h1.7v1.7h-1.7zM200.9,36.5h1.7v1.7h-1.7zM242.8,37.0h1.7v1.7h-1.7zM229.7,32.0h1.7v1.7h-1.7zM227.6,40.4h1.7v1.7h-1.7zM261.2,25.5h1.7v1.7h-1.7zM204.6,28.5h1.7v1.7h-1.7zM242.6,27.0h1.7v1.7h-1.7zM226.5,39.0h1.7v1.7h-1.7zM235.5,26.0h1.7v1.7h-1.7zM233.3,47.1h1.7v1.7h-1.7zM204.3,35.7h1.7v1.7h-1.7zM234.3,22.1h1.7v1.7h-1.7zM262.0,33.9h1.7v1.7h-1.7zM207.2,43.6h1.7v1.7h-1.7zM194.6,30.2h1.7v1.7h-1.7zM199.0,29.4h1.7v1.7h-1.7zM230.1,37.3h1.7v1.7h-1.7zM270.9,41.6h1.7v1.7h-1.7zM197.2,39.3h1.7v1.7h-1.7zM272.2,32.6h1.7v1.7h-1.7zM236.2,37.7h1.7v1.7h-1.7zM203.2,38.3h1.7v1.7h-1.7zM226.8,41.3h1.7v1.7h-1.7zM210.1,54.2h1.7v1.7h-1.7zM250.3,34.0h1.7v1.7h-1.7zM236.6,48.4h1.7v1.7h-1.7zM216.5,30.7h1.7v1.7h-1.7zM213.9,39.6h1.7v1.7h-1.7zM262.4,30.7h1.7v1.7h-1.7zM254.4,27.7h1.7v1.7h-1.7zM228.2,37.4h1.7v1.7h-1.7zM225.8,28.1h1.7v1.7h-1.7zM252.1,42.3h1.7v1.7h-1.7zM270.6,33.2h1.7v1.7h-1.7zM200.0,35.8h1.7v1.7h-1.7zM206.3,34.6h1.7v1.7h-1.7zM222.4,27.6h1.7v1.7h-1.7zM233.9,36.8h1.7v1.7h-1.7zM199.3,40.2h1.7v1.7h-1.7zM197.9,58.6h1.7v1.7h-1.7zM211.1,29.8h1.7v1.7h-1.7zM224.3,37.4h1.7v1.7h-1.7zM252.3,32.8h1.7v1.7h-1.7zM242.0,32.4h1.7v1.7h-1.7zM196.0,36.7h1.7v1.7h-1.7zM197.2,30.8h1.7v1.7h-1.7zM229.5,34.6h1.7v1.7h-1.7zM263.0,56.2h1.7v1.7h-1.7zM266.2,26.1h1.7v1.7h-1.7zM222.6,35.8h1.7v1.7h-1.7zM264.0,38.6h1.7v1.7h-1.7zM267.3,17.1h1.7v1.7h-1.7zM225.9,38.8h1.7v1.7h-1.7zM252.8,37.5h1.7v1.7h-1.7zM222.6,33.1h1.7v1.7h-1.7zM205.8,41.2h1.7v1.7h-1.7zM239.3,32.5h1.7v1.7h-1.7zM200.5,38.4h1.7v1.7h-1.7zM246.3,33.1h1.7v1.7h-1.7zM257.8,30.2h1.7v1.7h-1.7zM266.2,34.3h1.7v1.7h-1.7zM229.2,31.7h1.7v1.7h-1.7zM203.0,42.7h1.7v1.7h-1.7zM265.2,28.3h1.7v1.7h-1.7zM262.7,34.1h1.7v1.7h-1.7zM270.4,26.5h1.7v1.7h-1.7zM240.8,44.6h1.7v1.7h-1.7zM247.1,29.2h1.7v1.7h-1.7zM223.3,44.4h1.7v1.7h-1.7zM208.2,27.6h1.7v1.7h-1.7zM216.8,35.5h1.7v1.7h-1.7zM250.8,33.9h1.7v1.7h-1.7zM219.4,35.1h1.7v1.7h-1.7zM248.5,31.2h1.7v1.7h-1.7zM233.5,18.0h1.7v1.7h-1.7zM229.3,28.1h1.7v1.7h-1.7zM270.4,41.5h1.7v1.7h-1.7zM206.8,36.6h1.7v1.7h-1.7zM232.3,19.0h1.7v1.7h-1.7zM206.3,39.7h1.7v1.7h-1.7zM268.0,32.0h1.7v1.7h-1.7zM232.4,28.6h1.7v1.7h-1.7zM207.0,40.8h1.7v1.7h-1.7zM240.8,54.7h1.7v1.7h-1.7zM225.3,32.3h1.7v1.7h-1.7zM203.7,36.9h1.7v1.7h-1.7zM196.2,38.8h1.7v1.7h-1.7zM224.7,45.8h1.7v1.7h-1.7zM239.9,27.4h1.7v1.7h-1.7zM234.8,36.8h1.7v1.7h-1.7zM265.0,37.8h1.7v1.7h-1.7zM265.9,21.3h1.7v1.7h-1.7zM267.9,38.5h1.7v1.7h-1.7zM257.1,35.7h1.7v1.7h-1.7zM231.5,38.5h1.7v1.7h-1.7zM235.2,30.7h1.7v1.7h-1.7zM225.2,40.0h1.7v1.7h-1.7zM225.3,33.8h1.7v1.7h-1.7zM196.9,39.6h1.7v1.7h-1.7zM257.0,35.5h1.7v1.7h-1.7zM213.2,30.9h1.7v1.7h-1.7zM196.0,21.2h1.7v1.7h-1.7zM230.6,42.4h1.7v1.7h-1.7zM250.6,39.4h1.7v1.7h-1.7zM228.2,39.3h1.7v1.7h-1.7zM222.5,28.1h1.7v1.7h-1.7zM245.9,30.4h1.7v1.7h-1.7zM206.6,43.1h1.7v1.7h-1.7zM194.5,37.3h1.7v1.7h-1.7zM240.6,21.0h1.7v1.7h-1.7zM235.7,36.8h1.7v1.7h-1.7zM262.3,35.5h1.7v1.7h-1.7zM226.6,35.1h1.7v1.7h-1.7zM256.0,30.6h1.7v1.7h-1.7zM195.1,39.7h1.7v1.7h-1.7zM195.8,39.1h1.7v1.7h-1.7zM241.1,36.3h1.7v1.7h-1.7zM211.6,27.9h1.7v1.7h-1.7zM199.0,23.5h1.7v1.7h-1.7zM203.8,35.6h1.7v1.7h-1.7zM223.4,39.1h1.7v1.7h-1.7zM220.4,31.5h1.7v1.7h-1.7zM238.4,42.8h1.7v1.7h-1.7zM264.0,35.5h1.7v1.7h-1.7zM222.6,27.6h1.7v1.7h-1.7zM239.5,27.5h1.7v1.7h-1.7zM193.8,20.3h1.7v1.7h-1.7zM224.2,34.2h1.7v1.7h-1.7zM218.8,35.0h1.7v1.7h-1.7zM224.4,48.2h1.7v1.7h-1.7zM197.7,34.4h1.7v1.7h-1.7zM237.6,32.4h1.7v1.7h-1.7zM243.1,46.0h1.7v1.7h-1.7zM253.1,36.1h1.7v1.7h-1.7zM269.6,32.8h1.7v1.7h-1.7zM221.8,32.8h1.7v1.7h-1.7zM245.7,28.0h1.7v1.7h-1.7zM228.7,40.7h1.7v1.7h-1.7zM210.7,38.2h1.7v1.7h-1.7zM264.2,48.8h1.7v1.7h-1.7zM252.8,44.2h1.7v1.7h-1.7zM268.4,39.3h1.7v1.7h-1.7zM258.8,40.6h1.7v1.7h-1.7zM266.4,33.9h1.7v1.7h-1.7zM203.8,31.5h1.7v1.7h-1.7zM194.9,32.3h1.7v1.7h-1.7zM209.4,29.8h1.7v1.7h-1.7zM226.3,34.7h1.7v1.7h-1.7zM248.2,32.9h1.7v1.7h-1.7zM228.4,38.5h1.7v1.7h-1.7zM234.4,35.0h1.7v1.7h-1.7zM254.0,26.3h1.7v1.7h-1.7zM199.2,35.5h1.7v1.7h-1.7zM247.4,46.7h1.7v1.7h-1.7zM197.5,18.2h1.7v1.7h-1.7zM213.4,31.4h1.7v1.7h-1.7zM250.9,34.5h1.7v1.7h-1.7zM225.8,26.0h1.7v1.7h-1.7zM217.0,34.3h1.7v1.7h-1.7zM259.3,29.1h1.7v1.7h-1.7zM215.4,35.7h1.7v1.7h-1.7zM196.1,36.4h1.7v1.7h-1.7zM213.3,23.3h1.7v1.7h-1.7zM195.3,34.4h1.7v1.7h-1.7zM257.9,39.9h1.7v1.7h-1.7zM203.3,35.0h1.7v1.7h-1.7zM270.9,37.8h1.7v1.7h-1.7zM210.5,40.8h1.7v1.7h-1.7zM217.9,31.5h1.7v1.7h-1.7zM240.1,42.6h1.7v1.7h-1.7zM218.1,37.1h1.7v1.7h-1.7zM223.7,26.6h1.7v1.7h-1.7zM201.9,40.2h1.7v1.7h-1.7zM224.5,40.2h1.7v1.7h-1.7zM195.7,41.5h1.7v1.7h-1.7zM211.4,29.3h1.7v1.7h-1.7zM265.8,39.2h1.7v1.7h-1.7zM215.9,40.5h1.7v1.7h-1.7zM215.1,35.5h1.7v1.7h-1.7zM247.5,39.7h1.7v1.7h-1.7zM263.7,40.9h1.7v1.7h-1.7zM217.1,33.9h1.7v1.7h-1.7zM223.5,41.4h1.7v1.7h-1.7zM250.3,31.9h1.7v1.7h-1.7zM256.5,44.6h1.7v1.7h-1.7zM242.3,35.5h1.7v1.7h-1.7zM207.8,33.2h1.7v1.7h-1.7zM208.0,35.6h1.7v1.7h-1.7zM253.8,34.6h1.7v1.7h-1.7zM249.7,37.9h1.7v1.7h-1.7zM264.7,39.2h1.7v1.7h-1.7zM255.5,24.6h1.7v1.7h-1.7zM227.1,30.2h1.7v1.7h-1.7zM204.2,39.1h1.7v1.7h-1.7zM264.3,43.5h1.7v1.7h-1.7zM248.8,35.2h1.7v1.7h-1.7zM239.4,58.6h1.7v1.7h-1.7zM247.7,54.3h1.7v1.7h-1.7zM224.2,35.4h1.7v1.7h-1.7zM220.9,40.0h1.7v1.7h-1.7zM239.3,44.6h1.7v1.7h-1.7zM231.9,37.4h1.7v1.7h-1.7zM267.9,36.0h1.7v1.7h-1.7zM260.8,35.4h1.7v1.7h-1.7zM224.4,46.0h1.7v1.7h-1.7zM223.2,19.0h1.7v1.7h-1.7zM267.1,42.5h1.7v1.7h-1.7zM224.9,35.5h1.7v1.7h-1.7zM257.1,39.4h1.7v1.7h-1.7zM201.0,33.2h1.7v1.7h-1.7zM229.4,36.9h1.7v1.7h-1.7zM234.6,46.6h1.7v1.7h-1.7zM257.8,35.6h1.7v1.7h-1.7zM263.2,44.7h1.7v1.7h-1.7zM205.8,35.4h1.7v1.7h-1.7zM242.6,32.7h1.7v1.7h-1.7zM243.5,34.6h1.7v1.7h-1.7zM205.7,33.9h1.7v1.7h-1.7zM259.8,34.2h1.7v1.7h-1.7zM237.5,50.1h1.7v1.7h-1.7zM269.9,30.7h1.7v1.7h-1.7zM208.4,28.4h1.7v1.7h-1.7zM235.3,36.7h1.7v1.7h-1.7zM219.3,41.4h1.7v1.7h-1.7zM244.6,44.1h1.7v1.7h-1.7zM241.9,42.9h1.7v1.7h-1.7zM234.3,42.0h1.7v1.7h-1.7zM219.4,30.5h1.7v1.7h-1.7zM233.6,36.8h1.7v1.7h-1.7zM264.3,29.9h1.7v1.7h-1.7zM230.2,38.2h1.7v1.7h-1.7zM231.3,28.8h1.7v1.7h-1.7zM214.2,25.8h1.7v1.7h-1.7zM213.8,23.5h1.7v1.7h-1.7zM269.3,38.0h1.7v1.7h-1.7zM218.6,39.3h1.7v1.7h-1.7zM262.5,47.0h1.7v1.7h-1.7zM240.8,44.3h1.7v1.7h-1.7zM271.4,29.4h1.7v1.7h-1.7zM206.7,15.5h1.7v1.7h-1.7zM268.3,39.0h1.7v1.7h-1.7zM254.9,40.1h1.7v1.7h-1.7zM238.7,31.3h1.7v1.7h-1.7zM249.9,32.6h1.7v1.7h-1.7zM250.9,33.0h1.7v1.7h-1.7zM229.2,36.1h1.7v1.7h-1.7zM244.0,34.6h1.7v1.7h-1.7zM211.8,40.4h1.7v1.7h-1.7zM195.3,44.5h1.7v1.7h-1.7zM247.3,35.1h1.7v1.7h-1.7zM231.3,42.8h1.7v1.7h-1.7zM265.5,44.5h1.7v1.7h-1.7zM214.6,26.1h1.7v1.7h-1.7zM258.5,30.8h1.7v1.7h-1.7zM271.9,41.3h1.7v1.7h-1.7zM264.9,52.4h1.7v1.7h-1.7zM270.1,37.0h1.7v1.7h-1.7zM206.3,41.2h1.7v1.7h-1.7zM206.7,33.8h1.7v1.7h-1.7zM211.8,39.8h1.7v1.7h-1.7zM222.3,29.8h1.7v1.7h-1.7zM202.8,39.3h1.7v1.7h-1.7zM205.6,38.2h1.7v1.7h-1.7zM195.1,38.7h1.7v1.7h-1.7zM267.7,42.1h1.7v1.7h-1.7zM222.3,45.0h1.7v1.7h-1.7zM243.3,33.4h1.7v1.7h-1.7zM229.7,44.0h1.7v1.7h-1.7zM252.6,20.5h1.7v1.7h-1.7zM257.6,54.6h1.7v1.7h-1.7zM224.0,48.9h1.7v1.7h-1.7zM236.1,40.0h1.7v1.7h-1.7zM201.4,46.7h1.7v1.7h-1.7zM216.3,35.1h1.7v1.7h-1.7zM211.3,39.6h1.7v1.7h-1.7zM218.1,30.9h1.7v1.7h-1.7zM219.4,37.2h1.7v1.7h-1.7zM239.2,35.8h1.7v1.7h-1.7zM220.0,30.8h1.7v1.7h-1.7zM219.6,35.8h1.7v1.7h-1.7zM259.6,35.5h1.7v1.7h-1.7zM194.6,19.9h1.7v1.7h-1.7zM194.1,54.0h1.7v1.7h-1.7zM198.2,37.7h1.7v1.7h-1.7zM262.3,21.2h1.7v1.7h-1.7zM243.9,40.6h1.7v1.7h-1.7zM251.4,35.7h1.7v1.7h-1.7zM269.6,38.8h1.7v1.7h-1.7zM210.9,39.2h1.7v1.7h-1.7zM266.6,32.0h1.7v1.7h-1.7zM212.9,22.5h1.7v1.7h-1.7zM234.8,36.6h1.7v1.7h-1.7zM247.7,36.2h1.7v1.7h-1.7zM256.9,55.5h1.7v1.7h-1.7zM213.3,29.4h1.7v1.7h-1.7zM231.5,34.4h1.7v1.7h-1.7zM197.3,39.8h1.7v1.7h-1.7zM216.5,32.7h1.7v1.7h-1.7zM271.4,35.5h1.7v1.7h-1.7zM265.4,37.1h1.7v1.7h-1.7zM239.8,34.7h1.7v1.7h-1.7zM256.0,42.9h1.7v1.7h-1.7zM265.2,28.2h1.7v1.7h-1.7zM220.0,34.3h1.7v1.7h-1.7zM271.4,35.2h1.7v1.7h-1.7zM229.2,32.8h1.7v1.7h-1.7zM206.3,39.0h1.7v1.7h-1.7zM235.7,57.3h1.7v1.7h-1.7zM240.7,44.9h1.7v1.7h-1.7zM248.6,37.8h1.7v1.7h-1.7zM246.9,33.1h1.7v1.7h-1.7zM196.9,39.4h1.7v1.7h-1.7zM244.3,28.9h1.7v1.7h-1.7zM266.7,36.3h1.7v1.7h-1.7zM246.8,37.4h1.7v1.7h-1.7zM271.0,48.3h1.7v1.7h-1.7zM234.2,31.7h1.7v1.7h-1.7zM257.9,29.1h1.7v1.7h-1.7zM204.8,58.6h1.7v1.7h-1.7zM264.7,33.5h1.7v1.7h-1.7zM228.3,22.0h1.7v1.7h-1.7zM263.2,30.2h1.7v1.7h-1.7zM219.1,34.3h1.7v1.7h-1.7zM243.2,41.6h1.7v1.7h-1.7zM260.8,35.7h1.7v1.7h-1.7zM250.1,40.6h1.7v1.7h-1.7zM242.8,37.6h1.7v1.7h-1.7zM270.6,38.6h1.7v1.7h-1.7zM200.6,40.7h1.7v1.7h-1.7zM201.7,33.4h1.7v1.7h-1.7zM237.4,39.5h1.7v1.7h-1.7zM269.4,34.5h1.7v1.7h-1.7zM248.1,29.7h1.7v1.7h-1.7zM218.2,37.3h1.7v1.7h-1.7zM202.2,29.4h1.7v1.7h-1.7zM229.2,36.2h1.7v1.7h-1.7zM231.7,23.1h1.7v1.7h-1.7zM230.8,35.5h1.7v1.7h-1.7zM242.8,32.2h1.7v1.7h-1.7zM215.3,39.9h1.7v1.7h-1.7zM263.5,36.0h1.7v1.7h-1.7zM216.5,35.8h1.7v1.7h-1.7zM202.1,43.6h1.7v1.7h-1.7zM267.9,26.3h1.7v1.7h-1.7zM206.3,24.0h1.7v1.7h-1.7zM215.7,35.0h1.7v1.7h-1.7zM267.1,37.8h1.7v1.7h-1.7zM221.3,46.5h1.7v1.7h-1.7zM260.5,36.7h1.7v1.7h-1.7zM197.3,31.4h1.7v1.7h-1.7zM264.1,51.4h1.7v1.7h-1.7zM212.5,36.8h1.7v1.7h-1.7zM208.0,34.9h1.7v1.7h-1.7zM252.5,25.3h1.7v1.7h-1.7zM272.1,38.2h1.7v1.7h-1.7zM269.7,33.9h1.7v1.7h-1.7zM253.3,33.2h1.7v1.7h-1.7zM266.2,36.5h1.7v1.7h-1.7zM271.9,38.4h1.7v1.7h-1.7zM237.5,30.8h1.7v1.7h-1.7zM205.1,41.9h1.7v1.7h-1.7zM261.0,30.9h1.7v1.7h-1.7zM225.0,32.1h1.7v1.7h-1.7zM218.4,35.5h1.7v1.7h-1.7zM233.4,36.8h1.7v1.7h-1.7zM196.4,35.7h1.7v1.7h-1.7zM195.1,32.8h1.7v1.7h-1.7zM214.6,35.1h1.7v1.7h-1.7zM240.9,32.9h1.7v1.7h-1.7zM253.1,27.8h1.7v1.7h-1.7zM269.6,39.3h1.7v1.7h-1.7zM258.5,17.5h1.7v1.7h-1.7zM268.3,32.0h1.7v1.7h-1.7zM244.1,38.4h1.7v1.7h-1.7zM251.8,35.3h1.7v1.7h-1.7zM240.2,50.7h1.7v1.7h-1.7zM200.1,23.4h1.7v1.7h-1.7zM198.6,28.9h1.7v1.7h-1.7zM253.9,36.1h1.7v1.7h-1.7zM209.7,41.8h1.7v1.7h-1.7zM256.3,34.2h1.7v1.7h-1.7zM230.4,22.8h1.7v1.7h-1.7zM194.2,39.5h1.7v1.7h-1.7zM238.2,34.1h1.7v1.7h-1.7zM228.8,34.0h1.7v1.7h-1.7zM199.5,43.7h1.7v1.7h-1.7zM214.4,23.1h1.7v1.7h-1.7zM218.0,32.1h1.7v1.7h-1.7zM221.1,38.3h1.7v1.7h-1.7zM249.7,33.9h1.7v1.7h-1.7zM206.9,37.3h1.7v1.7h-1.7zM228.8,31.4h1.7v1.7h-1.7zM241.8,36.5h1.7v1.7h-1.7zM268.7,30.9h1.7v1.7h-1.7zM202.8,29.0h1.7v1.7h-1.7zM199.9,58.6h1.7v1.7h-1.7zM208.9,37.8h1.7v1.7h-1.7zM211.1,39.6h1.7v1.7h-1.7zM206.6,27.4h1.7v1.7h-1.7zM199.7,35.5h1.7v1.7h-1.7zM210.3,33.7h1.7v1.7h-1.7zM211.4,22.7h1.7v1.7h-1.7zM231.7,40.7h1.7v1.7h-1.7zM245.0,31.1h1.7v1.7h-1.7zM222.5,31.4h1.7v1.7h-1.7zM207.0,29.2h1.7v1.7h-1.7zM201.2,44.8h1.7v1.7h-1.7zM214.5,38.2h1.7v1.7h-1.7zM207.2,37.7h1.7v1.7h-1.7zM231.8,31.7h1.7v1.7h-1.7zM262.7,32.9h1.7v1.7h-1.7zM250.5,45.8h1.7v1.7h-1.7zM209.8,33.2h1.7v1.7h-1.7zM196.5,37.3h1.7v1.7h-1.7zM199.0,36.2h1.7v1.7h-1.7zM228.2,30.8h1.7v1.7h-1.7zM222.5,41.8h1.7v1.7h-1.7zM247.8,16.8h1.7v1.7h-1.7zM200.3,36.8h1.7v1.7h-1.7zM213.8,34.6h1.7v1.7h-1.7zM248.0,27.4h1.7v1.7h-1.7zM238.7,41.4h1.7v1.7h-1.7zM234.6,41.1h1.7v1.7h-1.7zM265.2,35.6h1.7v1.7h-1.7zM202.6,28.6h1.7v1.7h-1.7zM209.2,37.7h1.7v1.7h-1.7zM238.5,48.4h1.7v1.7h-1.7zM238.5,39.3h1.7v1.7h-1.7zM271.4,43.8h1.7v1.7h-1.7zM271.2,43.8h1.7v1.7h-1.7zM240.2,41.8h1.7v1.7h-1.7zM253.8,41.3h1.7v1.7h-1.7zM249.0,28.8h1.7v1.7h-1.7zM204.2,31.4h1.7v1.7h-1.7zM241.4,46.6h1.7v1.7h-1.7zM217.9,36.4h1.7v1.7h-1.7zM222.1,41.4h1.7v1.7h-1.7zM206.0,41.2h1.7v1.7h-1.7zM194.3,35.2h1.7v1.7h-1.7zM261.3,36.3h1.7v1.7h-1.7zM250.5,33.6h1.7v1.7h-1.7zM253.3,31.9h1.7v1.7h-1.7zM216.5,32.4h1.7v1.7h-1.7zM226.7,44.6h1.7v1.7h-1.7zM207.6,33.8h1.7v1.7h-1.7zM241.4,35.8h1.7v1.7h-1.7zM260.2,36.0h1.7v1.7h-1.7zM255.4,33.0h1.7v1.7h-1.7zM267.7,34.7h1.7v1.7h-1.7zM214.3,25.2h1.7v1.7h-1.7zM249.3,36.5h1.7v1.7h-1.7zM203.7,33.5h1.7v1.7h-1.7zM236.2,38.2h1.7v1.7h-1.7zM202.4,37.7h1.7v1.7h-1.7zM236.5,21.0h1.7v1.7h-1.7zM236.6,48.3h1.7v1.7h-1.7zM221.2,34.8h1.7v1.7h-1.7zM221.4,38.1h1.7v1.7h-1.7zM250.0,27.1h1.7v1.7h-1.7zM231.8,48.2h1.7v1.7h-1.7zM226.0,41.1h1.7v1.7h-1.7zM202.6,34.7h1.7v1.7h-1.7zM216.0,36.0h1.7v1.7h-1.7zM260.8,41.5h1.7v1.7h-1.7zM270.7,35.0h1.7v1.7h-1.7zM223.2,28.5h1.7v1.7h-1.7zM262.7,41.8h1.7v1.7h-1.7zM262.9,37.0h1.7v1.7h-1.7zM210.9,35.3h1.7v1.7h-1.7zM215.4,45.6h1.7v1.7h-1.7zM248.8,36.0h1.7v1.7h-1.7zM217.9,33.6h1.7v1.7h-1.7zM269.4,39.5h1.7v1.7h-1.7zM222.6,30.5h1.7v1.7h-1.7zM251.6,36.5h1.7v1.7h-1.7zM249.7,37.4h1.7v1.7h-1.7zM210.6,30.9h1.7v1.7h-1.7zM262.3,34.7h1.7v1.7h-1.7zM219.7,37.7h1.7v1.7h-1.7zM202.4,38.3h1.7v1.7h-1.7zM197.6,38.4h1.7v1.7h-1.7zM229.5,43.6h1.7v1.7h-1.7zM243.8,37.0h1.7v1.7h-1.7zM215.2,37.6h1.7v1.7h-1.7zM260.4,33.0h1.7v1.7h-1.7zM214.9,34.2h1.7v1.7h-1.7zM260.9,40.5h1.7v1.7h-1.7zM196.3,26.5h1.7v1.7h-1.7zM214.5,37.0h1.7v1.7h-1.7zM206.3,58.6h1.7v1.7h-1.7zM229.2,27.7h1.7v1.7h-1.7zM221.5,58.6h1.7v1.7h-1.7zM225.0,29.5h1.7v1.7h-1.7zM261.2,43.6h1.7v1.7h-1.7zM239.6,54.2h1.7v1.7h-1.7zM241.7,44.2h1.7v1.7h-1.7zM224.6,29.2h1.7v1.7h-1.7zM257.7,29.8h1.7v1.7h-1.7zM233.4,30.1h1.7v1.7h-1.7zM252.8,42.1h1.7v1.7h-1.7zM266.1,34.0h1.7v1.7h-1.7zM242.2,37.0h1.7v1.7h-1.7zM228.2,38.7h1.7v1.7h-1.7zM214.6,39.0h1.7v1.7h-1.7zM266.0,40.7h1.7v1.7h-1.7zM254.3,35.9h1.7v1.7h-1.7zM257.1,21.3h1.7v1.7h-1.7zM211.2,42.2h1.7v1.7h-1.7zM263.7,41.0h1.7v1.7h-1.7zM213.2,30.1h1.7v1.7h-1.7zM258.2,34.6h1.7v1.7h-1.7zM236.4,35.1h1.7v1.7h-1.7zM211.0,32.5h1.7v1.7h-1.7zM223.4,35.9h1.7v1.7h-1.7zM199.7,33.6h1.7v1.7h-1.7zM247.0,29.8h1.7v1.7h-1.7zM251.3,38.9h1.7v1.7h-1.7zM195.9,29.9h1.7v1.7h-1.7zM217.6,46.5h1.7v1.7h-1.7zM254.6,34.1h1.7v1.7h-1.7zM209.5,29.6h1.7v1.7h-1.7zM236.2,41.5h1.7v1.7h-1.7zM257.6,39.4h1.7v1.7h-1.7zM238.8,34.5h1.7v1.7h-1.7zM203.3,34.9h1.7v1.7h-1.7zM265.7,48.5h1.7v1.7h-1.7zM252.9,30.7h1.7v1.7h-1.7zM238.4,31.0h1.7v1.7h-1.7zM220.0,35.4h1.7v1.7h-1.7zM239.8,28.1h1.7v1.7h-1.7zM224.7,14.9h1.7v1.7h-1.7zM203.1,28.7h1.7v1.7h-1.7zM203.3,39.7h1.7v1.7h-1.7zM197.2,38.2h1.7v1.7h-1.7zM207.2,38.7h1.7v1.7h-1.7zM213.1,37.0h1.7v1.7h-1.7zM244.0,24.4h1.7v1.7h-1.7zM239.7,45.2h1.7v1.7h-1.7zM240.5,43.4h1.7v1.7h-1.7zM258.8,32.3h1.7v1.7h-1.7zM201.2,44.6h1.7v1.7h-1.7zM224.5,30.6h1.7v1.7h-1.7zM199.9,36.8h1.7v1.7h-1.7zM226.9,38.2h1.7v1.7h-1.7zM199.9,22.8h1.7v1.7h-1.7zM198.9,49.0h1.7v1.7h-1.7zM201.9,28.6h1.7v1.7h-1.7zM224.6,36.3h1.7v1.7h-1.7zM254.2,33.1h1.7v1.7h-1.7zM216.0,38.9h1.7v1.7h-1.7zM252.5,37.1h1.7v1.7h-1.7zM212.1,35.6h1.7v1.7h-1.7zM200.2,58.6h1.7v1.7h-1.7zM255.2,58.6h1.7v1.7h-1.7zM269.3,58.6h1.7v1.7h-1.7zM201.8,58.6h1.7v1.7h-1.7zM255.7,58.6h1.7v1.7h-1.7zM195.5,58.6h1.7v1.7h-1.7zM203.6,58.6h1.7v1.7h-1.7zM216.9,58.6h1.7v1.7h-1.7zM272.9,58.6h1.7v1.7h-1.7zM197.9,58.6h1.7v1.7h-1.7zM229.8,58.6h1.7v1.7h-1.7zM228.7,58.6h1.7v1.7h-1.7zM207.7,58.6h1.7v1.7h-1.7zM271.2,58.6h1.7v1.7h-1.7zM212.4,58.6h1.7v1.7h-1.7zM265.1,58.6h1.7v1.7h-1.7zM236.7,58.6h1.7v1.7h-1.7zM250.2,58.6h1.7v1.7h-1.7zM252.6,58.6h1.7v1.7h-1.7zM247.2,58.6h1.7v1.7h-1.7zM257.8,58.6h1.7v1.7h-1.7zM263.5,58.6h1.7v1.7h-1.7zM292.7,20.0h1.7v1.7h-1.7zM289.0,22.9h1.7v1.7h-1.7zM315.0,14.4h1.7v1.7h-1.7zM290.3,15.4h1.7v1.7h-1.7zM324.8,21.8h1.7v1.7h-1.7zM349.8,14.4h1.7v1.7h-1.7zM319.4,19.1h1.7v1.7h-1.7zM294.6,14.9h1.7v1.7h-1.7zM291.0,17.7h1.7v1.7h-1.7zM320.6,21.5h1.7v1.7h-1.7zM335.6,22.5h1.7v1.7h-1.7zM336.5,16.7h1.7v1.7h-1.7zM315.8,19.5h1.7v1.7h-1.7zM345.1,23.8h1.7v1.7h-1.7zM321.2,13.2h1.7v1.7h-1.7zM331.4,14.2h1.7v1.7h-1.7zM282.8,25.5h1.7v1.7h-1.7zM317.6,22.4h1.7v1.7h-1.7zM304.1,20.0h1.7v1.7h-1.7zM288.1,14.7h1.7v1.7h-1.7zM333.4,22.3h1.7v1.7h-1.7zM310.8,18.6h1.7v1.7h-1.7zM298.2,15.9h1.7v1.7h-1.7zM329.8,23.5h1.7v1.7h-1.7zM306.6,32.8h1.7v1.7h-1.7zM291.4,32.4h1.7v1.7h-1.7zM317.6,17.7h1.7v1.7h-1.7zM337.7,26.2h1.7v1.7h-1.7zM319.2,17.8h1.7v1.7h-1.7zM304.7,22.0h1.7v1.7h-1.7zM290.7,27.4h1.7v1.7h-1.7zM298.6,13.4h1.7v1.7h-1.7zM339.0,20.0h1.7v1.7h-1.7zM294.0,27.6h1.7v1.7h-1.7zM352.6,22.7h1.7v1.7h-1.7zM311.4,23.9h1.7v1.7h-1.7zM315.8,17.2h1.7v1.7h-1.7zM291.1,25.0h1.7v1.7h-1.7zM288.1,19.0h1.7v1.7h-1.7zM334.3,21.4h1.7v1.7h-1.7zM350.4,21.8h1.7v1.7h-1.7zM322.3,35.7h1.7v1.7h-1.7zM351.1,14.8h1.7v1.7h-1.7zM309.3,32.5h1.7v1.7h-1.7zM293.0,14.3h1.7v1.7h-1.7zM287.6,14.2h1.7v1.7h-1.7zM301.7,16.4h1.7v1.7h-1.7zM337.1,16.1h1.7v1.7h-1.7zM316.1,17.3h1.7v1.7h-1.7zM346.9,20.4h1.7v1.7h-1.7zM323.8,28.2h1.7v1.7h-1.7zM325.6,22.4h1.7v1.7h-1.7zM341.1,14.3h1.7v1.7h-1.7zM330.5,26.2h1.7v1.7h-1.7zM299.9,22.6h1.7v1.7h-1.7zM350.6,19.2h1.7v1.7h-1.7zM328.9,21.0h1.7v1.7h-1.7zM332.7,22.7h1.7v1.7h-1.7zM289.7,26.1h1.7v1.7h-1.7zM316.5,27.9h1.7v1.7h-1.7zM350.2,24.1h1.7v1.7h-1.7zM346.5,28.0h1.7v1.7h-1.7zM339.2,27.7h1.7v1.7h-1.7zM329.9,21.1h1.7v1.7h-1.7zM299.3,19.6h1.7v1.7h-1.7zM343.9,33.7h1.7v1.7h-1.7zM326.2,23.3h1.7v1.7h-1.7zM325.1,45.0h1.7v1.7h-1.7zM350.6,18.7h1.7v1.7h-1.7zM322.5,15.4h1.7v1.7h-1.7zM305.9,24.3h1.7v1.7h-1.7zM312.8,19.1h1.7v1.7h-1.7zM344.8,21.5h1.7v1.7h-1.7zM342.7,19.8h1.7v1.7h-1.7zM311.0,20.7h1.7v1.7h-1.7zM328.2,24.3h1.7v1.7h-1.7zM339.9,14.9h1.7v1.7h-1.7zM296.7,18.6h1.7v1.7h-1.7zM328.0,15.7h1.7v1.7h-1.7zM292.6,23.6h1.7v1.7h-1.7zM342.5,14.1h1.7v1.7h-1.7zM334.7,13.4h1.7v1.7h-1.7zM349.3,18.2h1.7v1.7h-1.7zM302.9,26.9h1.7v1.7h-1.7zM294.8,28.2h1.7v1.7h-1.7zM323.3,23.3h1.7v1.7h-1.7zM341.2,19.9h1.7v1.7h-1.7zM293.2,23.7h1.7v1.7h-1.7zM332.8,31.1h1.7v1.7h-1.7zM286.2,14.4h1.7v1.7h-1.7zM312.7,30.1h1.7v1.7h-1.7zM295.6,19.6h1.7v1.7h-1.7zM338.3,13.5h1.7v1.7h-1.7zM286.5,25.5h1.7v1.7h-1.7zM296.7,19.9h1.7v1.7h-1.7zM337.7,19.3h1.7v1.7h-1.7zM319.4,29.6h1.7v1.7h-1.7zM290.9,22.3h1.7v1.7h-1.7zM353.2,21.1h1.7v1.7h-1.7zM309.1,30.9h1.7v1.7h-1.7zM335.5,19.5h1.7v1.7h-1.7zM317.8,15.7h1.7v1.7h-1.7zM341.8,18.0h1.7v1.7h-1.7zM300.2,16.2h1.7v1.7h-1.7zM342.5,25.7h1.7v1.7h-1.7zM328.0,21.6h1.7v1.7h-1.7zM324.0,16.8h1.7v1.7h-1.7zM308.3,32.7h1.7v1.7h-1.7zM330.0,25.5h1.7v1.7h-1.7zM343.1,20.2h1.7v1.7h-1.7zM316.3,20.7h1.7v1.7h-1.7zM292.4,19.4h1.7v1.7h-1.7zM340.0,22.1h1.7v1.7h-1.7zM320.3,21.0h1.7v1.7h-1.7zM331.3,17.3h1.7v1.7h-1.7zM289.9,19.1h1.7v1.7h-1.7zM338.6,32.2h1.7v1.7h-1.7zM309.2,16.7h1.7v1.7h-1.7zM346.1,35.3h1.7v1.7h-1.7zM300.3,17.0h1.7v1.7h-1.7zM283.1,22.4h1.7v1.7h-1.7zM305.4,19.5h1.7v1.7h-1.7zM343.1,18.4h1.7v1.7h-1.7zM297.7,19.7h1.7v1.7h-1.7zM325.0,20.0h1.7v1.7h-1.7zM287.8,14.4h1.7v1.7h-1.7zM346.5,15.2h1.7v1.7h-1.7zM325.5,29.4h1.7v1.7h-1.7zM325.6,22.7h1.7v1.7h-1.7zM347.1,13.5h1.7v1.7h-1.7zM306.2,30.6h1.7v1.7h-1.7zM322.3,25.0h1.7v1.7h-1.7zM340.4,14.4h1.7v1.7h-1.7zM309.0,47.6h1.7v1.7h-1.7zM295.8,28.2h1.7v1.7h-1.7zM313.5,14.7h1.7v1.7h-1.7zM287.0,23.4h1.7v1.7h-1.7zM314.3,28.0h1.7v1.7h-1.7zM310.5,27.6h1.7v1.7h-1.7zM335.0,29.9h1.7v1.7h-1.7zM283.7,20.5h1.7v1.7h-1.7zM328.0,22.5h1.7v1.7h-1.7zM285.8,24.5h1.7v1.7h-1.7zM317.3,15.9h1.7v1.7h-1.7zM284.1,25.5h1.7v1.7h-1.7zM347.6,18.5h1.7v1.7h-1.7zM317.4,20.8h1.7v1.7h-1.7zM316.7,20.3h1.7v1.7h-1.7zM338.7,19.2h1.7v1.7h-1.7zM339.1,22.3h1.7v1.7h-1.7zM310.2,21.7h1.7v1.7h-1.7zM287.0,15.4h1.7v1.7h-1.7zM352.9,25.7h1.7v1.7h-1.7zM300.8,26.6h1.7v1.7h-1.7zM285.6,16.8h1.7v1.7h-1.7zM344.9,32.0h1.7v1.7h-1.7zM288.9,16.0h1.7v1.7h-1.7zM285.9,15.3h1.7v1.7h-1.7zM330.9,25.3h1.7v1.7h-1.7zM323.5,14.1h1.7v1.7h-1.7zM301.1,20.8h1.7v1.7h-1.7zM301.5,25.4h1.7v1.7h-1.7zM337.4,22.5h1.7v1.7h-1.7zM284.1,16.8h1.7v1.7h-1.7zM299.8,25.4h1.7v1.7h-1.7zM308.5,31.9h1.7v1.7h-1.7zM337.9,26.5h1.7v1.7h-1.7zM305.1,25.9h1.7v1.7h-1.7zM286.5,19.3h1.7v1.7h-1.7zM335.7,23.0h1.7v1.7h-1.7zM331.7,21.1h1.7v1.7h-1.7zM291.7,23.9h1.7v1.7h-1.7zM334.6,18.0h1.7v1.7h-1.7zM327.1,20.4h1.7v1.7h-1.7zM308.9,23.2h1.7v1.7h-1.7zM323.9,14.4h1.7v1.7h-1.7zM318.5,18.3h1.7v1.7h-1.7zM339.2,17.4h1.7v1.7h-1.7zM307.0,28.0h1.7v1.7h-1.7zM289.1,25.7h1.7v1.7h-1.7zM308.6,32.6h1.7v1.7h-1.7zM293.7,29.9h1.7v1.7h-1.7zM297.8,15.1h1.7v1.7h-1.7zM343.2,21.3h1.7v1.7h-1.7zM333.6,17.6h1.7v1.7h-1.7zM291.6,23.1h1.7v1.7h-1.7zM304.0,19.8h1.7v1.7h-1.7zM302.0,26.9h1.7v1.7h-1.7zM342.5,19.5h1.7v1.7h-1.7zM303.3,29.9h1.7v1.7h-1.7zM322.9,23.6h1.7v1.7h-1.7zM309.9,24.6h1.7v1.7h-1.7zM287.6,16.8h1.7v1.7h-1.7zM285.2,16.2h1.7v1.7h-1.7zM332.2,16.6h1.7v1.7h-1.7zM327.4,19.8h1.7v1.7h-1.7zM317.7,23.0h1.7v1.7h-1.7zM306.9,30.3h1.7v1.7h-1.7zM318.8,19.6h1.7v1.7h-1.7zM298.0,16.8h1.7v1.7h-1.7zM323.8,18.1h1.7v1.7h-1.7zM342.5,26.5h1.7v1.7h-1.7zM295.3,14.7h1.7v1.7h-1.7zM349.0,20.0h1.7v1.7h-1.7zM351.7,20.1h1.7v1.7h-1.7zM287.2,20.4h1.7v1.7h-1.7zM331.3,17.2h1.7v1.7h-1.7zM300.0,18.1h1.7v1.7h-1.7zM326.9,24.2h1.7v1.7h-1.7zM346.1,13.7h1.7v1.7h-1.7zM315.3,24.4h1.7v1.7h-1.7zM329.2,26.3h1.7v1.7h-1.7zM330.3,23.8h1.7v1.7h-1.7zM296.0,19.8h1.7v1.7h-1.7zM303.4,25.7h1.7v1.7h-1.7zM317.1,14.2h1.7v1.7h-1.7zM337.0,23.1h1.7v1.7h-1.7zM293.0,36.6h1.7v1.7h-1.7zM322.1,24.7h1.7v1.7h-1.7zM318.6,15.9h1.7v1.7h-1.7zM310.1,37.0h1.7v1.7h-1.7zM342.7,20.6h1.7v1.7h-1.7zM307.6,23.4h1.7v1.7h-1.7zM339.7,23.5h1.7v1.7h-1.7zM314.0,35.3h1.7v1.7h-1.7zM290.4,28.4h1.7v1.7h-1.7zM343.0,27.0h1.7v1.7h-1.7zM330.0,24.9h1.7v1.7h-1.7zM297.8,18.0h1.7v1.7h-1.7zM309.2,20.0h1.7v1.7h-1.7zM291.7,20.3h1.7v1.7h-1.7zM345.8,24.0h1.7v1.7h-1.7zM346.3,20.3h1.7v1.7h-1.7zM346.3,22.9h1.7v1.7h-1.7zM325.8,18.1h1.7v1.7h-1.7zM315.2,21.5h1.7v1.7h-1.7zM330.1,23.6h1.7v1.7h-1.7zM313.0,21.4h1.7v1.7h-1.7zM288.9,27.3h1.7v1.7h-1.7zM299.4,13.1h1.7v1.7h-1.7zM340.9,16.0h1.7v1.7h-1.7zM326.4,16.1h1.7v1.7h-1.7zM339.5,23.1h1.7v1.7h-1.7zM331.1,13.9h1.7v1.7h-1.7zM329.5,22.9h1.7v1.7h-1.7zM300.3,21.4h1.7v1.7h-1.7zM291.7,23.5h1.7v1.7h-1.7zM283.9,16.9h1.7v1.7h-1.7zM306.8,26.7h1.7v1.7h-1.7zM293.8,23.3h1.7v1.7h-1.7zM332.2,17.2h1.7v1.7h-1.7zM303.0,15.7h1.7v1.7h-1.7zM337.9,17.3h1.7v1.7h-1.7zM349.3,20.8h1.7v1.7h-1.7zM338.5,22.3h1.7v1.7h-1.7zM348.9,19.1h1.7v1.7h-1.7zM330.6,20.0h1.7v1.7h-1.7zM338.6,20.1h1.7v1.7h-1.7zM339.4,17.6h1.7v1.7h-1.7zM291.0,19.3h1.7v1.7h-1.7zM305.5,27.6h1.7v1.7h-1.7zM326.6,26.8h1.7v1.7h-1.7zM305.6,28.8h1.7v1.7h-1.7zM344.9,21.8h1.7v1.7h-1.7zM286.5,13.0h1.7v1.7h-1.7zM291.8,23.9h1.7v1.7h-1.7zM306.0,22.4h1.7v1.7h-1.7zM307.1,24.8h1.7v1.7h-1.7zM342.0,21.5h1.7v1.7h-1.7zM283.7,23.8h1.7v1.7h-1.7zM341.6,25.0h1.7v1.7h-1.7zM352.0,20.3h1.7v1.7h-1.7zM286.2,21.7h1.7v1.7h-1.7zM350.5,15.4h1.7v1.7h-1.7zM329.7,20.1h1.7v1.7h-1.7zM292.1,20.5h1.7v1.7h-1.7zM341.9,28.0h1.7v1.7h-1.7zM291.1,23.7h1.7v1.7h-1.7zM310.0,21.6h1.7v1.7h-1.7zM299.7,14.8h1.7v1.7h-1.7zM310.1,29.9h1.7v1.7h-1.7zM293.0,15.7h1.7v1.7h-1.7zM309.7,26.6h1.7v1.7h-1.7zM323.2,19.7h1.7v1.7h-1.7zM315.7,23.1h1.7v1.7h-1.7zM346.3,28.2h1.7v1.7h-1.7zM343.4,24.2h1.7v1.7h-1.7zM290.7,24.3h1.7v1.7h-1.7zM335.1,28.9h1.7v1.7h-1.7zM339.4,19.3h1.7v1.7h-1.7zM347.5,18.7h1.7v1.7h-1.7zM310.7,30.4h1.7v1.7h-1.7zM322.3,19.1h1.7v1.7h-1.7zM316.1,13.9h1.7v1.7h-1.7zM320.6,20.7h1.7v1.7h-1.7zM345.3,35.1h1.7v1.7h-1.7zM316.1,18.7h1.7v1.7h-1.7zM286.4,33.8h1.7v1.7h-1.7zM293.8,17.9h1.7v1.7h-1.7zM312.1,19.8h1.7v1.7h-1.7zM340.6,25.6h1.7v1.7h-1.7zM324.8,23.8h1.7v1.7h-1.7zM294.7,25.0h1.7v1.7h-1.7zM304.2,21.3h1.7v1.7h-1.7zM320.9,16.0h1.7v1.7h-1.7zM333.2,23.8h1.7v1.7h-1.7zM328.3,32.2h1.7v1.7h-1.7zM300.9,23.4h1.7v1.7h-1.7zM323.3,19.0h1.7v1.7h-1.7zM300.1,18.6h1.7v1.7h-1.7zM287.3,14.1h1.7v1.7h-1.7zM336.7,23.0h1.7v1.7h-1.7zM329.0,15.9h1.7v1.7h-1.7zM353.1,30.0h1.7v1.7h-1.7zM335.9,19.6h1.7v1.7h-1.7zM300.7,16.5h1.7v1.7h-1.7zM284.6,13.8h1.7v1.7h-1.7zM313.3,14.8h1.7v1.7h-1.7zM306.9,27.6h1.7v1.7h-1.7zM309.4,30.5h1.7v1.7h-1.7zM286.1,23.2h1.7v1.7h-1.7zM287.5,21.1h1.7v1.7h-1.7zM308.2,14.2h1.7v1.7h-1.7zM295.2,21.1h1.7v1.7h-1.7zM295.4,20.3h1.7v1.7h-1.7zM299.2,14.5h1.7v1.7h-1.7zM335.5,20.7h1.7v1.7h-1.7zM337.1,16.1h1.7v1.7h-1.7zM317.4,14.5h1.7v1.7h-1.7zM286.5,25.4h1.7v1.7h-1.7zM349.7,14.7h1.7v1.7h-1.7zM344.6,25.7h1.7v1.7h-1.7zM304.1,32.4h1.7v1.7h-1.7zM283.3,23.5h1.7v1.7h-1.7zM317.7,25.4h1.7v1.7h-1.7zM309.7,29.1h1.7v1.7h-1.7zM311.2,23.1h1.7v1.7h-1.7zM304.9,37.5h1.7v1.7h-1.7zM347.8,20.8h1.7v1.7h-1.7zM310.4,20.5h1.7v1.7h-1.7zM290.6,33.5h1.7v1.7h-1.7zM346.0,23.2h1.7v1.7h-1.7zM318.8,27.1h1.7v1.7h-1.7zM309.6,24.5h1.7v1.7h-1.7zM330.8,23.5h1.7v1.7h-1.7zM304.9,26.0h1.7v1.7h-1.7zM341.4,34.0h1.7v1.7h-1.7zM332.8,19.9h1.7v1.7h-1.7zM349.2,17.9h1.7v1.7h-1.7zM286.7,21.9h1.7v1.7h-1.7zM314.1,13.4h1.7v1.7h-1.7zM327.1,32.0h1.7v1.7h-1.7zM291.8,21.2h1.7v1.7h-1.7zM353.6,13.2h1.7v1.7h-1.7zM331.6,25.0h1.7v1.7h-1.7zM336.8,19.1h1.7v1.7h-1.7zM323.9,23.6h1.7v1.7h-1.7zM347.7,23.9h1.7v1.7h-1.7zM309.2,43.4h1.7v1.7h-1.7zM337.9,20.9h1.7v1.7h-1.7zM302.0,19.7h1.7v1.7h-1.7zM322.3,15.7h1.7v1.7h-1.7zM319.4,19.0h1.7v1.7h-1.7zM348.5,14.3h1.7v1.7h-1.7zM315.2,38.9h1.7v1.7h-1.7zM345.1,19.4h1.7v1.7h-1.7zM290.6,19.9h1.7v1.7h-1.7zM324.4,28.9h1.7v1.7h-1.7zM289.9,20.1h1.7v1.7h-1.7zM330.7,24.5h1.7v1.7h-1.7zM348.4,20.1h1.7v1.7h-1.7zM286.6,16.4h1.7v1.7h-1.7zM314.1,19.6h1.7v1.7h-1.7zM283.7,17.2h1.7v1.7h-1.7zM330.7,23.1h1.7v1.7h-1.7zM315.1,17.4h1.7v1.7h-1.7zM313.1,23.2h1.7v1.7h-1.7zM293.7,13.5h1.7v1.7h-1.7zM287.6,22.5h1.7v1.7h-1.7zM345.7,24.5h1.7v1.7h-1.7zM325.3,34.5h1.7v1.7h-1.7zM307.3,26.8h1.7v1.7h-1.7zM345.4,19.2h1.7v1.7h-1.7zM291.0,23.5h1.7v1.7h-1.7zM311.0,19.4h1.7v1.7h-1.7zM339.2,19.0h1.7v1.7h-1.7zM345.6,20.9h1.7v1.7h-1.7zM303.0,17.3h1.7v1.7h-1.7zM341.0,16.8h1.7v1.7h-1.7zM350.5,13.6h1.7v1.7h-1.7zM299.1,18.3h1.7v1.7h-1.7zM306.6,41.0h1.7v1.7h-1.7zM333.2,18.8h1.7v1.7h-1.7zM320.9,21.5h1.7v1.7h-1.7zM307.6,18.5h1.7v1.7h-1.7zM325.5,26.1h1.7v1.7h-1.7zM282.7,24.4h1.7v1.7h-1.7zM318.4,24.2h1.7v1.7h-1.7zM318.3,20.5h1.7v1.7h-1.7zM327.9,14.0h1.7v1.7h-1.7zM337.2,23.2h1.7v1.7h-1.7zM345.4,14.8h1.7v1.7h-1.7zM339.8,25.1h1.7v1.7h-1.7zM344.8,21.4h1.7v1.7h-1.7zM309.4,20.0h1.7v1.7h-1.7zM290.2,23.0h1.7v1.7h-1.7zM329.0,20.8h1.7v1.7h-1.7zM350.7,14.4h1.7v1.7h-1.7zM317.0,21.3h1.7v1.7h-1.7zM300.9,15.0h1.7v1.7h-1.7zM342.8,29.1h1.7v1.7h-1.7zM342.1,17.0h1.7v1.7h-1.7zM292.2,23.7h1.7v1.7h-1.7zM337.7,20.0h1.7v1.7h-1.7zM288.9,25.6h1.7v1.7h-1.7zM332.3,22.8h1.7v1.7h-1.7zM328.4,18.9h1.7v1.7h-1.7zM292.4,30.7h1.7v1.7h-1.7zM338.8,26.7h1.7v1.7h-1.7zM342.7,21.8h1.7v1.7h-1.7zM311.4,17.2h1.7v1.7h-1.7zM301.1,23.8h1.7v1.7h-1.7zM321.8,48.6h1.7v1.7h-1.7zM332.5,13.5h1.7v1.7h-1.7zM336.9,20.6h1.7v1.7h-1.7zM326.1,16.6h1.7v1.7h-1.7zM328.7,21.8h1.7v1.7h-1.7zM324.8,24.2h1.7v1.7h-1.7zM333.8,24.2h1.7v1.7h-1.7zM304.7,27.4h1.7v1.7h-1.7zM299.4,28.8h1.7v1.7h-1.7zM303.2,14.4h1.7v1.7h-1.7zM351.7,19.3h1.7v1.7h-1.7zM305.3,28.4h1.7v1.7h-1.7zM329.3,14.0h1.7v1.7h-1.7zM324.1,33.2h1.7v1.7h-1.7zM345.4,16.0h1.7v1.7h-1.7zM327.0,23.8h1.7v1.7h-1.7zM344.7,24.8h1.7v1.7h-1.7zM351.5,27.6h1.7v1.7h-1.7zM312.3,14.8h1.7v1.7h-1.7zM342.5,18.5h1.7v1.7h-1.7zM349.3,17.2h1.7v1.7h-1.7zM299.5,17.6h1.7v1.7h-1.7zM346.0,15.6h1.7v1.7h-1.7zM291.2,14.8h1.7v1.7h-1.7zM286.3,14.3h1.7v1.7h-1.7zM285.0,22.3h1.7v1.7h-1.7zM288.0,23.5h1.7v1.7h-1.7zM289.5,13.6h1.7v1.7h-1.7zM299.4,20.3h1.7v1.7h-1.7zM303.2,26.2h1.7v1.7h-1.7zM351.8,14.5h1.7v1.7h-1.7zM339.8,17.6h1.7v1.7h-1.7zM290.0,19.9h1.7v1.7h-1.7zM296.4,24.5h1.7v1.7h-1.7zM332.1,20.3h1.7v1.7h-1.7zM325.5,13.7h1.7v1.7h-1.7zM314.4,18.9h1.7v1.7h-1.7zM313.0,16.7h1.7v1.7h-1.7zM335.8,23.4h1.7v1.7h-1.7zM283.5,30.3h1.7v1.7h-1.7zM289.8,21.0h1.7v1.7h-1.7zM295.9,13.0h1.7v1.7h-1.7zM324.9,31.8h1.7v1.7h-1.7zM344.6,24.8h1.7v1.7h-1.7zM306.3,29.9h1.7v1.7h-1.7zM286.9,13.7h1.7v1.7h-1.7zM345.8,18.5h1.7v1.7h-1.7zM349.0,22.4h1.7v1.7h-1.7zM284.4,16.2h1.7v1.7h-1.7zM282.9,29.9h1.7v1.7h-1.7zM295.3,31.8h1.7v1.7h-1.7zM308.4,25.4h1.7v1.7h-1.7zM333.0,34.1h1.7v1.7h-1.7zM315.2,31.3h1.7v1.7h-1.7zM329.8,14.5h1.7v1.7h-1.7zM340.7,13.5h1.7v1.7h-1.7zM295.2,14.2h1.7v1.7h-1.7zM351.9,16.8h1.7v1.7h-1.7zM321.2,18.7h1.7v1.7h-1.7zM317.8,19.1h1.7v1.7h-1.7zM321.9,21.7h1.7v1.7h-1.7zM321.7,23.9h1.7v1.7h-1.7zM334.3,17.1h1.7v1.7h-1.7zM344.7,28.0h1.7v1.7h-1.7zM327.2,26.1h1.7v1.7h-1.7zM327.7,23.9h1.7v1.7h-1.7zM323.9,18.8h1.7v1.7h-1.7zM299.7,34.1h1.7v1.7h-1.7zM337.1,14.7h1.7v1.7h-1.7zM296.8,16.0h1.7v1.7h-1.7zM301.0,26.3h1.7v1.7h-1.7zM306.9,22.6h1.7v1.7h-1.7zM341.0,13.9h1.7v1.7h-1.7zM308.1,27.3h1.7v1.7h-1.7zM325.6,22.6h1.7v1.7h-1.7zM313.7,24.4h1.7v1.7h-1.7zM314.5,28.2h1.7v1.7h-1.7zM351.6,43.0h1.7v1.7h-1.7zM328.8,23.1h1.7v1.7h-1.7zM283.9,20.7h1.7v1.7h-1.7zM344.3,16.3h1.7v1.7h-1.7zM318.4,23.2h1.7v1.7h-1.7zM351.4,21.4h1.7v1.7h-1.7zM291.5,20.4h1.7v1.7h-1.7zM351.1,15.1h1.7v1.7h-1.7zM329.4,20.0h1.7v1.7h-1.7zM318.1,16.6h1.7v1.7h-1.7zM351.6,22.4h1.7v1.7h-1.7zM342.3,18.9h1.7v1.7h-1.7zM309.4,25.7h1.7v1.7h-1.7zM310.4,28.0h1.7v1.7h-1.7zM316.7,32.2h1.7v1.7h-1.7zM295.5,18.5h1.7v1.7h-1.7zM299.3,22.6h1.7v1.7h-1.7zM329.8,20.1h1.7v1.7h-1.7zM347.3,18.5h1.7v1.7h-1.7zM304.7,25.3h1.7v1.7h-1.7zM295.8,21.5h1.7v1.7h-1.7zM327.3,26.5h1.7v1.7h-1.7zM304.2,28.9h1.7v1.7h-1.7zM305.5,27.5h1.7v1.7h-1.7zM287.5,21.3h1.7v1.7h-1.7zM337.8,14.0h1.7v1.7h-1.7zM292.4,22.3h1.7v1.7h-1.7zM317.6,17.4h1.7v1.7h-1.7zM344.6,17.8h1.7v1.7h-1.7zM307.7,16.9h1.7v1.7h-1.7zM286.9,15.1h1.7v1.7h-1.7zM337.3,23.6h1.7v1.7h-1.7zM333.2,15.9h1.7v1.7h-1.7zM310.9,33.9h1.7v1.7h-1.7zM352.7,17.1h1.7v1.7h-1.7zM333.7,15.3h1.7v1.7h-1.7zM324.7,26.2h1.7v1.7h-1.7zM288.3,23.0h1.7v1.7h-1.7zM294.4,21.0h1.7v1.7h-1.7zM337.5,14.7h1.7v1.7h-1.7zM324.0,26.1h1.7v1.7h-1.7zM310.8,14.7h1.7v1.7h-1.7zM324.8,13.0h1.7v1.7h-1.7zM291.3,33.8h1.7v1.7h-1.7zM307.6,18.7h1.7v1.7h-1.7zM306.4,21.2h1.7v1.7h-1.7zM320.3,14.0h1.7v1.7h-1.7zM303.2,22.5h1.7v1.7h-1.7zM310.0,29.1h1.7v1.7h-1.7zM308.5,33.7h1.7v1.7h-1.7zM338.7,16.8h1.7v1.7h-1.7zM341.7,27.6h1.7v1.7h-1.7zM350.5,27.2h1.7v1.7h-1.7zM349.7,17.9h1.7v1.7h-1.7zM317.5,19.6h1.7v1.7h-1.7zM322.5,25.4h1.7v1.7h-1.7zM325.6,27.7h1.7v1.7h-1.7zM318.8,19.7h1.7v1.7h-1.7zM285.4,17.6h1.7v1.7h-1.7zM290.5,34.1h1.7v1.7h-1.7zM339.4,20.0h1.7v1.7h-1.7zM336.3,19.1h1.7v1.7h-1.7zM304.8,27.2h1.7v1.7h-1.7zM296.7,41.7h1.7v1.7h-1.7zM323.2,13.6h1.7v1.7h-1.7zM343.1,20.5h1.7v1.7h-1.7zM329.1,27.7h1.7v1.7h-1.7zM298.7,21.4h1.7v1.7h-1.7zM300.9,43.0h1.7v1.7h-1.7zM314.1,14.6h1.7v1.7h-1.7zM294.3,16.3h1.7v1.7h-1.7zM335.8,30.9h1.7v1.7h-1.7zM289.5,20.4h1.7v1.7h-1.7zM318.0,18.3h1.7v1.7h-1.7zM330.3,20.9h1.7v1.7h-1.7zM341.8,21.6h1.7v1.7h-1.7zM322.1,16.7h1.7v1.7h-1.7zM291.9,25.0h1.7v1.7h-1.7zM349.6,17.1h1.7v1.7h-1.7zM347.9,19.8h1.7v1.7h-1.7zM327.0,16.3h1.7v1.7h-1.7zM325.3,23.1h1.7v1.7h-1.7zM310.3,34.3h1.7v1.7h-1.7zM325.5,17.3h1.7v1.7h-1.7zM345.8,27.0h1.7v1.7h-1.7zM284.4,44.3h1.7v1.7h-1.7zM322.2,24.6h1.7v1.7h-1.7zM328.1,28.7h1.7v1.7h-1.7zM348.2,20.0h1.7v1.7h-1.7zM283.7,21.0h1.7v1.7h-1.7zM309.0,27.9h1.7v1.7h-1.7zM291.7,27.0h1.7v1.7h-1.7zM304.8,28.9h1.7v1.7h-1.7zM347.3,16.1h1.7v1.7h-1.7zM308.3,20.6h1.7v1.7h-1.7zM341.2,17.2h1.7v1.7h-1.7zM348.0,21.8h1.7v1.7h-1.7zM291.5,16.0h1.7v1.7h-1.7zM287.8,15.7h1.7v1.7h-1.7zM298.5,17.5h1.7v1.7h-1.7zM317.9,23.5h1.7v1.7h-1.7zM331.1,21.6h1.7v1.7h-1.7zM291.0,31.2h1.7v1.7h-1.7zM327.4,19.0h1.7v1.7h-1.7zM351.3,22.2h1.7v1.7h-1.7zM322.3,14.4h1.7v1.7h-1.7zM292.6,18.8h1.7v1.7h-1.7zM317.9,26.0h1.7v1.7h-1.7zM337.6,21.4h1.7v1.7h-1.7zM321.3,14.2h1.7v1.7h-1.7zM345.7,13.5h1.7v1.7h-1.7zM302.7,24.2h1.7v1.7h-1.7zM351.8,19.0h1.7v1.7h-1.7zM283.9,27.6h1.7v1.7h-1.7zM309.5,55.0h1.7v1.7h-1.7zM293.9,18.4h1.7v1.7h-1.7zM353.1,15.1h1.7v1.7h-1.7zM284.0,20.2h1.7v1.7h-1.7zM303.2,21.7h1.7v1.7h-1.7zM310.3,13.4h1.7v1.7h-1.7zM348.1,19.6h1.7v1.7h-1.7zM311.6,28.0h1.7v1.7h-1.7zM294.4,28.9h1.7v1.7h-1.7zM311.6,27.5h1.7v1.7h-1.7zM326.4,21.7h1.7v1.7h-1.7zM343.5,25.1h1.7v1.7h-1.7zM300.0,16.8h1.7v1.7h-1.7zM329.8,19.5h1.7v1.7h-1.7zM294.0,17.2h1.7v1.7h-1.7zM284.9,20.4h1.7v1.7h-1.7zM284.4,21.6h1.7v1.7h-1.7zM351.4,14.1h1.7v1.7h-1.7zM300.2,28.3h1.7v1.7h-1.7zM287.4,15.4h1.7v1.7h-1.7zM329.6,17.2h1.7v1.7h-1.7zM302.3,26.0h1.7v1.7h-1.7zM349.9,14.1h1.7v1.7h-1.7zM330.0,20.3h1.7v1.7h-1.7zM345.9,33.1h1.7v1.7h-1.7zM329.1,22.1h1.7v1.7h-1.7zM334.9,25.0h1.7v1.7h-1.7zM315.5,17.6h1.7v1.7h-1.7zM312.9,17.3h1.7v1.7h-1.7zM338.4,17.7h1.7v1.7h-1.7zM287.3,15.3h1.7v1.7h-1.7zM347.6,14.0h1.7v1.7h-1.7zM310.0,31.2h1.7v1.7h-1.7zM322.5,21.8h1.7v1.7h-1.7zM310.8,22.6h1.7v1.7h-1.7zM338.0,32.7h1.7v1.7h-1.7zM337.7,29.3h1.7v1.7h-1.7zM305.3,17.8h1.7v1.7h-1.7zM323.2,15.8h1.7v1.7h-1.7zM317.1,37.4h1.7v1.7h-1.7zM343.0,16.1h1.7v1.7h-1.7zM312.4,16.9h1.7v1.7h-1.7zM341.5,20.0h1.7v1.7h-1.7zM349.7,13.3h1.7v1.7h-1.7zM323.6,17.3h1.7v1.7h-1.7zM340.8,21.2h1.7v1.7h-1.7zM345.9,28.4h1.7v1.7h-1.7zM298.9,17.9h1.7v1.7h-1.7zM314.8,20.7h1.7v1.7h-1.7zM346.9,26.9h1.7v1.7h-1.7zM336.9,24.6h1.7v1.7h-1.7zM343.0,19.5h1.7v1.7h-1.7zM309.7,20.6h1.7v1.7h-1.7zM338.7,27.3h1.7v1.7h-1.7zM307.3,21.0h1.7v1.7h-1.7zM324.1,16.7h1.7v1.7h-1.7zM311.2,30.1h1.7v1.7h-1.7zM314.6,19.8h1.7v1.7h-1.7zM290.8,18.3h1.7v1.7h-1.7zM289.9,14.1h1.7v1.7h-1.7zM345.8,13.0h1.7v1.7h-1.7zM352.9,58.6h1.7v1.7h-1.7zM294.2,16.3h1.7v1.7h-1.7zM308.8,27.9h1.7v1.7h-1.7zM330.7,17.5h1.7v1.7h-1.7zM292.9,28.9h1.7v1.7h-1.7zM302.8,19.7h1.7v1.7h-1.7zM350.8,19.4h1.7v1.7h-1.7zM319.8,26.8h1.7v1.7h-1.7zM324.5,19.7h1.7v1.7h-1.7zM321.2,13.7h1.7v1.7h-1.7zM318.8,14.8h1.7v1.7h-1.7zM301.8,18.2h1.7v1.7h-1.7zM327.3,18.3h1.7v1.7h-1.7zM314.0,20.6h1.7v1.7h-1.7zM343.2,23.7h1.7v1.7h-1.7zM303.3,20.3h1.7v1.7h-1.7zM296.4,29.9h1.7v1.7h-1.7zM344.0,21.4h1.7v1.7h-1.7zM320.9,18.5h1.7v1.7h-1.7zM299.0,14.8h1.7v1.7h-1.7zM338.1,21.4h1.7v1.7h-1.7zM303.1,26.3h1.7v1.7h-1.7zM333.9,21.8h1.7v1.7h-1.7zM329.4,17.0h1.7v1.7h-1.7zM303.5,34.2h1.7v1.7h-1.7zM328.4,16.9h1.7v1.7h-1.7zM317.5,17.8h1.7v1.7h-1.7zM284.8,23.3h1.7v1.7h-1.7zM352.4,28.4h1.7v1.7h-1.7zM301.2,18.1h1.7v1.7h-1.7zM310.0,19.7h1.7v1.7h-1.7zM345.4,23.0h1.7v1.7h-1.7zM331.9,24.8h1.7v1.7h-1.7zM328.4,40.6h1.7v1.7h-1.7zM336.0,30.5h1.7v1.7h-1.7zM325.8,26.4h1.7v1.7h-1.7zM329.9,38.6h1.7v1.7h-1.7zM307.9,38.8h1.7v1.7h-1.7zM329.4,30.1h1.7v1.7h-1.7zM315.4,29.0h1.7v1.7h-1.7zM336.0,16.9h1.7v1.7h-1.7zM285.1,17.5h1.7v1.7h-1.7zM301.6,32.1h1.7v1.7h-1.7zM293.8,19.3h1.7v1.7h-1.7zM319.1,14.6h1.7v1.7h-1.7zM298.3,18.1h1.7v1.7h-1.7zM309.1,28.7h1.7v1.7h-1.7zM283.6,24.8h1.7v1.7h-1.7zM290.6,24.7h1.7v1.7h-1.7zM283.7,32.9h1.7v1.7h-1.7zM303.3,24.4h1.7v1.7h-1.7zM299.8,14.5h1.7v1.7h-1.7zM306.2,41.7h1.7v1.7h-1.7zM308.1,24.8h1.7v1.7h-1.7zM339.4,24.3h1.7v1.7h-1.7zM304.8,24.1h1.7v1.7h-1.7zM324.1,17.3h1.7v1.7h-1.7zM297.6,18.1h1.7v1.7h-1.7zM291.5,35.6h1.7v1.7h-1.7zM305.3,30.4h1.7v1.7h-1.7zM332.9,15.6h1.7v1.7h-1.7zM298.7,16.2h1.7v1.7h-1.7zM305.8,35.1h1.7v1.7h-1.7zM299.8,18.4h1.7v1.7h-1.7zM306.3,33.5h1.7v1.7h-1.7zM331.6,15.3h1.7v1.7h-1.7zM300.4,27.3h1.7v1.7h-1.7zM348.9,22.0h1.7v1.7h-1.7zM295.0,23.3h1.7v1.7h-1.7zM284.4,33.3h1.7v1.7h-1.7zM313.1,23.9h1.7v1.7h-1.7zM323.3,14.5h1.7v1.7h-1.7zM305.7,22.1h1.7v1.7h-1.7zM338.3,21.7h1.7v1.7h-1.7zM342.9,22.6h1.7v1.7h-1.7zM317.4,19.5h1.7v1.7h-1.7zM341.1,21.8h1.7v1.7h-1.7zM340.0,45.2h1.7v1.7h-1.7zM295.4,19.0h1.7v1.7h-1.7zM292.7,25.5h1.7v1.7h-1.7zM292.1,19.6h1.7v1.7h-1.7zM288.8,16.8h1.7v1.7h-1.7zM309.9,22.0h1.7v1.7h-1.7zM292.7,21.5h1.7v1.7h-1.7zM303.8,21.3h1.7v1.7h-1.7zM286.0,27.4h1.7v1.7h-1.7zM312.2,20.7h1.7v1.7h-1.7zM341.6,13.5h1.7v1.7h-1.7zM332.9,13.3h1.7v1.7h-1.7zM352.9,15.6h1.7v1.7h-1.7zM316.5,24.9h1.7v1.7h-1.7zM351.3,16.9h1.7v1.7h-1.7zM309.9,31.9h1.7v1.7h-1.7zM317.6,18.7h1.7v1.7h-1.7zM335.8,13.4h1.7v1.7h-1.7zM315.3,27.3h1.7v1.7h-1.7zM294.6,13.7h1.7v1.7h-1.7zM333.3,27.4h1.7v1.7h-1.7zM348.0,17.8h1.7v1.7h-1.7zM308.1,26.9h1.7v1.7h-1.7zM312.3,17.8h1.7v1.7h-1.7zM304.7,23.9h1.7v1.7h-1.7zM331.8,23.1h1.7v1.7h-1.7zM317.8,15.9h1.7v1.7h-1.7zM299.0,26.8h1.7v1.7h-1.7zM346.7,23.0h1.7v1.7h-1.7zM283.7,30.4h1.7v1.7h-1.7zM342.2,21.4h1.7v1.7h-1.7zM344.3,27.7h1.7v1.7h-1.7zM289.4,28.5h1.7v1.7h-1.7zM283.9,22.1h1.7v1.7h-1.7zM328.8,41.3h1.7v1.7h-1.7zM324.2,26.8h1.7v1.7h-1.7zM295.0,17.4h1.7v1.7h-1.7zM313.5,19.9h1.7v1.7h-1.7zM289.5,18.6h1.7v1.7h-1.7zM312.1,21.4h1.7v1.7h-1.7zM320.1,19.4h1.7v1.7h-1.7zM309.4,26.0h1.7v1.7h-1.7zM350.5,25.8h1.7v1.7h-1.7zM328.1,25.0h1.7v1.7h-1.7zM292.3,49.3h1.7v1.7h-1.7zM286.9,36.5h1.7v1.7h-1.7zM309.8,27.3h1.7v1.7h-1.7zM299.9,28.6h1.7v1.7h-1.7zM308.8,29.8h1.7v1.7h-1.7zM302.0,27.2h1.7v1.7h-1.7zM347.7,16.4h1.7v1.7h-1.7zM340.5,20.8h1.7v1.7h-1.7zM330.5,26.6h1.7v1.7h-1.7zM289.1,20.9h1.7v1.7h-1.7zM339.1,17.4h1.7v1.7h-1.7zM311.0,23.5h1.7v1.7h-1.7zM344.6,16.6h1.7v1.7h-1.7zM286.3,15.1h1.7v1.7h-1.7zM293.1,13.4h1.7v1.7h-1.7zM291.9,28.2h1.7v1.7h-1.7zM340.8,25.0h1.7v1.7h-1.7zM350.7,17.7h1.7v1.7h-1.7zM304.6,24.3h1.7v1.7h-1.7zM286.3,27.2h1.7v1.7h-1.7zM294.8,13.0h1.7v1.7h-1.7zM340.4,13.3h1.7v1.7h-1.7zM316.3,25.0h1.7v1.7h-1.7zM311.9,23.7h1.7v1.7h-1.7zM291.0,19.1h1.7v1.7h-1.7zM314.9,21.8h1.7v1.7h-1.7zM330.6,17.9h1.7v1.7h-1.7zM306.4,23.6h1.7v1.7h-1.7zM317.0,26.8h1.7v1.7h-1.7zM339.3,20.7h1.7v1.7h-1.7zM328.7,31.9h1.7v1.7h-1.7zM311.1,26.9h1.7v1.7h-1.7zM315.5,19.3h1.7v1.7h-1.7zM353.0,16.9h1.7v1.7h-1.7zM285.0,31.9h1.7v1.7h-1.7zM311.3,43.7h1.7v1.7h-1.7zM291.9,21.2h1.7v1.7h-1.7zM290.1,22.9h1.7v1.7h-1.7zM286.4,15.7h1.7v1.7h-1.7zM337.2,21.4h1.7v1.7h-1.7zM315.2,16.9h1.7v1.7h-1.7zM321.8,14.2h1.7v1.7h-1.7zM304.2,27.1h1.7v1.7h-1.7zM310.8,34.7h1.7v1.7h-1.7zM314.9,23.4h1.7v1.7h-1.7zM341.7,24.0h1.7v1.7h-1.7zM289.1,19.4h1.7v1.7h-1.7zM294.7,14.7h1.7v1.7h-1.7zM315.8,17.4h1.7v1.7h-1.7zM316.7,20.5h1.7v1.7h-1.7zM331.2,33.9h1.7v1.7h-1.7zM353.1,29.2h1.7v1.7h-1.7zM299.8,19.2h1.7v1.7h-1.7zM311.7,21.0h1.7v1.7h-1.7zM320.5,20.5h1.7v1.7h-1.7zM339.0,18.8h1.7v1.7h-1.7zM294.0,13.0h1.7v1.7h-1.7zM286.2,16.8h1.7v1.7h-1.7zM325.9,20.6h1.7v1.7h-1.7zM315.1,27.9h1.7v1.7h-1.7zM310.0,24.1h1.7v1.7h-1.7zM351.1,14.8h1.7v1.7h-1.7zM332.5,18.5h1.7v1.7h-1.7zM352.2,16.8h1.7v1.7h-1.7zM319.6,21.0h1.7v1.7h-1.7zM311.7,44.6h1.7v1.7h-1.7zM322.1,24.5h1.7v1.7h-1.7zM284.4,21.7h1.7v1.7h-1.7zM294.7,54.4h1.7v1.7h-1.7zM303.1,14.1h1.7v1.7h-1.7zM300.1,16.2h1.7v1.7h-1.7zM313.6,14.3h1.7v1.7h-1.7zM346.0,25.4h1.7v1.7h-1.7zM286.0,21.8h1.7v1.7h-1.7zM322.8,17.2h1.7v1.7h-1.7zM308.6,37.3h1.7v1.7h-1.7zM286.0,22.2h1.7v1.7h-1.7zM349.5,19.1h1.7v1.7h-1.7zM335.8,13.3h1.7v1.7h-1.7zM339.7,18.6h1.7v1.7h-1.7zM336.7,18.3h1.7v1.7h-1.7zM352.4,26.3h1.7v1.7h-1.7zM292.6,19.3h1.7v1.7h-1.7zM345.2,14.5h1.7v1.7h-1.7zM332.7,19.4h1.7v1.7h-1.7zM343.0,29.4h1.7v1.7h-1.7zM322.0,21.4h1.7v1.7h-1.7zM329.6,33.2h1.7v1.7h-1.7zM300.2,16.9h1.7v1.7h-1.7zM306.5,19.7h1.7v1.7h-1.7zM330.4,58.6h1.7v1.7h-1.7zM335.6,58.6h1.7v1.7h-1.7zM325.9,58.6h1.7v1.7h-1.7zM293.9,58.6h1.7v1.7h-1.7zM336.9,58.6h1.7v1.7h-1.7zM334.0,58.6h1.7v1.7h-1.7zM334.8,58.6h1.7v1.7h-1.7zM315.4,58.6h1.7v1.7h-1.7zM312.9,58.6h1.7v1.7h-1.7z" fill="#d2e6c4"/>
<path d="M195.40,32.60 C196.25,32.83 198.70,33.70 200.50,34.00 C202.30,34.30 204.05,34.48 206.20,34.40 C208.35,34.32 210.85,33.95 213.40,33.50 C215.95,33.05 219.40,31.40 221.50,31.70 C223.60,32.00 224.50,35.00 226.00,35.30 C227.50,35.60 228.92,33.60 230.50,33.50 C232.08,33.40 233.85,34.10 235.50,34.70 C237.15,35.30 238.68,37.45 240.40,37.10 C242.12,36.75 243.12,33.20 245.80,32.60 C248.48,32.00 253.22,33.35 256.50,33.50 C259.78,33.65 262.80,33.35 265.50,33.50 C268.20,33.65 271.50,34.25 272.70,34.40 L272.70,39.60 C271.50,39.45 268.20,38.85 265.50,38.70 C262.80,38.55 259.78,38.85 256.50,38.70 C253.22,38.55 248.48,37.20 245.80,37.80 C243.12,38.40 242.12,41.95 240.40,42.30 C238.68,42.65 237.15,40.50 235.50,39.90 C233.85,39.30 232.08,38.60 230.50,38.70 C228.92,38.80 227.50,40.80 226.00,40.50 C224.50,40.20 223.60,37.20 221.50,36.90 C219.40,36.60 215.95,38.25 213.40,38.70 C210.85,39.15 208.35,39.52 206.20,39.60 C204.05,39.68 202.30,39.50 200.50,39.20 C198.70,38.90 196.25,38.03 195.40,37.80 Z" fill="#ee92c2" opacity="0.68"/>
<path d="M195.40,35.20 C196.25,35.43 198.70,36.30 200.50,36.60 C202.30,36.90 204.05,37.08 206.20,37.00 C208.35,36.92 210.85,36.55 213.40,36.10 C215.95,35.65 219.40,34.00 221.50,34.30 C223.60,34.60 224.50,37.60 226.00,37.90 C227.50,38.20 228.92,36.20 230.50,36.10 C232.08,36.00 233.85,36.70 235.50,37.30 C237.15,37.90 238.68,40.05 240.40,39.70 C242.12,39.35 243.12,35.80 245.80,35.20 C248.48,34.60 253.22,35.95 256.50,36.10 C259.78,36.25 262.80,35.95 265.50,36.10 C268.20,36.25 271.50,36.85 272.70,37.00" fill="none" stroke="#e2368f" stroke-width="1.7" stroke-linecap="round"/>
<path d="M283.90,20.04 C284.22,19.17 285.07,16.02 285.80,14.82 C286.53,13.62 287.50,12.75 288.30,12.86 C289.10,12.97 289.87,14.33 290.60,15.49 C291.33,16.65 291.97,20.17 292.70,19.80 C293.43,19.43 294.25,15.10 295.00,13.26 C295.75,11.42 296.45,8.77 297.20,8.76 C297.95,8.76 298.77,11.67 299.50,13.24 C300.23,14.81 300.93,17.22 301.60,18.19 C302.27,19.15 302.68,17.94 303.50,19.02 C304.32,20.09 305.67,23.62 306.50,24.65 C307.33,25.67 307.58,25.93 308.50,25.16 C309.42,24.40 310.75,21.59 312.00,20.08 C313.25,18.57 314.67,17.23 316.00,16.09 C317.33,14.94 318.67,13.19 320.00,13.19 C321.33,13.19 322.70,15.10 324.00,16.09 C325.30,17.07 326.30,19.08 327.80,19.08 C329.30,19.07 331.20,16.71 333.00,16.04 C334.80,15.37 337.10,14.92 338.60,15.06 C340.10,15.19 340.85,16.25 342.00,16.85 C343.15,17.45 344.25,18.76 345.50,18.66 C346.75,18.55 348.20,17.42 349.50,16.24 C350.80,15.06 352.67,12.36 353.30,11.58 L353.30,25.62 C352.67,26.14 350.80,27.98 349.50,28.76 C348.20,29.55 346.75,30.45 345.50,30.34 C344.25,30.24 343.15,28.85 342.00,28.15 C340.85,27.45 340.10,26.34 338.60,26.14 C337.10,25.94 334.80,26.33 333.00,26.96 C331.20,27.59 329.30,29.93 327.80,29.92 C326.30,29.92 325.30,27.90 324.00,26.91 C322.70,25.93 321.33,24.01 320.00,24.01 C318.67,24.01 317.33,25.76 316.00,26.91 C314.67,28.07 313.25,29.40 312.00,30.92 C310.75,32.44 309.42,35.27 308.50,36.04 C307.58,36.81 307.33,36.56 306.50,35.55 C305.67,34.54 304.32,31.04 303.50,29.98 C302.68,28.93 302.27,30.15 301.60,29.21 C300.93,28.28 300.23,25.89 299.50,24.36 C298.77,22.83 297.95,19.97 297.20,20.04 C296.45,20.10 295.75,22.81 295.00,24.74 C294.25,26.67 293.43,31.11 292.70,31.60 C291.97,32.10 291.33,28.69 290.60,27.71 C289.87,26.73 289.10,25.56 288.30,25.74 C287.50,25.92 286.53,27.21 285.80,28.78 C285.07,30.35 284.22,34.10 283.90,35.16 Z" fill="#ee92c2" opacity="0.68"/>
<path d="M283.90,27.60 C284.22,26.63 285.07,23.18 285.80,21.80 C286.53,20.42 287.50,19.33 288.30,19.30 C289.10,19.27 289.87,20.53 290.60,21.60 C291.33,22.67 291.97,26.13 292.70,25.70 C293.43,25.27 294.25,20.88 295.00,19.00 C295.75,17.12 296.45,14.43 297.20,14.40 C297.95,14.37 298.77,17.25 299.50,18.80 C300.23,20.35 300.93,22.75 301.60,23.70 C302.27,24.65 302.68,23.43 303.50,24.50 C304.32,25.57 305.67,29.08 306.50,30.10 C307.33,31.12 307.58,31.37 308.50,30.60 C309.42,29.83 310.75,27.02 312.00,25.50 C313.25,23.98 314.67,22.65 316.00,21.50 C317.33,20.35 318.67,18.60 320.00,18.60 C321.33,18.60 322.70,20.52 324.00,21.50 C325.30,22.48 326.30,24.50 327.80,24.50 C329.30,24.50 331.20,22.15 333.00,21.50 C334.80,20.85 337.10,20.43 338.60,20.60 C340.10,20.77 340.85,21.85 342.00,22.50 C343.15,23.15 344.25,24.50 345.50,24.50 C346.75,24.50 348.20,23.48 349.50,22.50 C350.80,21.52 352.67,19.25 353.30,18.60" fill="none" stroke="#e2368f" stroke-width="1.7" stroke-linecap="round"/>
<rect x="191.50" y="12.50" width="85.00" height="49.00" fill="none" stroke="#262626" stroke-width="1" />
<rect x="280.50" y="12.50" width="77.00" height="49.00" fill="none" stroke="#262626" stroke-width="1" />
<line x1="188.50" y1="59.50" x2="191.50" y2="59.50" stroke="#262626" stroke-width="0.8" />
<text x="186.00" y="63.08" font-size="10" text-anchor="end" fill="#222222" >0</text>
<line x1="188.50" y1="37.10" x2="191.50" y2="37.10" stroke="#262626" stroke-width="0.8" />
<text x="186.00" y="40.68" font-size="10" text-anchor="end" fill="#222222" >1</text>
<line x1="188.50" y1="14.70" x2="191.50" y2="14.70" stroke="#262626" stroke-width="0.8" />
<text x="186.00" y="20.48" font-size="10" text-anchor="end" fill="#222222" >2</text>
<g transform="translate(363.40,37.10) rotate(90)"><text x="0" y="3.40" font-size="9.5" text-anchor="middle" fill="#222222" >Brain</text></g>
<line x1="280.50" y1="91.10" x2="357.50" y2="91.10" stroke="#9a9a9a" stroke-width="0.8" stroke-dasharray="2,2"/>
<path d="M205.3,89.9h1.7v1.7h-1.7zM258.3,95.0h1.7v1.7h-1.7zM228.2,92.4h1.7v1.7h-1.7zM269.3,79.2h1.7v1.7h-1.7zM215.2,94.6h1.7v1.7h-1.7zM232.0,92.0h1.7v1.7h-1.7zM221.5,89.1h1.7v1.7h-1.7zM241.8,90.0h1.7v1.7h-1.7zM270.3,84.2h1.7v1.7h-1.7zM211.3,95.5h1.7v1.7h-1.7zM224.2,89.8h1.7v1.7h-1.7zM217.1,83.0h1.7v1.7h-1.7zM201.1,86.9h1.7v1.7h-1.7zM196.5,105.2h1.7v1.7h-1.7zM272.4,100.3h1.7v1.7h-1.7zM219.8,93.9h1.7v1.7h-1.7zM249.7,86.9h1.7v1.7h-1.7zM255.7,92.8h1.7v1.7h-1.7zM244.5,94.9h1.7v1.7h-1.7zM214.7,90.5h1.7v1.7h-1.7zM246.8,93.6h1.7v1.7h-1.7zM266.7,100.4h1.7v1.7h-1.7zM229.9,95.2h1.7v1.7h-1.7zM264.4,94.3h1.7v1.7h-1.7zM261.9,98.6h1.7v1.7h-1.7zM254.8,84.9h1.7v1.7h-1.7zM248.9,87.9h1.7v1.7h-1.7zM269.7,93.9h1.7v1.7h-1.7zM233.4,98.0h1.7v1.7h-1.7zM266.6,91.0h1.7v1.7h-1.7zM200.6,95.7h1.7v1.7h-1.7zM249.9,90.7h1.7v1.7h-1.7zM203.1,86.6h1.7v1.7h-1.7zM223.0,92.5h1.7v1.7h-1.7zM240.0,92.1h1.7v1.7h-1.7zM248.6,74.6h1.7v1.7h-1.7zM247.8,82.7h1.7v1.7h-1.7zM207.9,90.9h1.7v1.7h-1.7zM200.7,86.3h1.7v1.7h-1.7zM205.0,93.2h1.7v1.7h-1.7zM242.7,84.1h1.7v1.7h-1.7zM207.8,94.4h1.7v1.7h-1.7zM266.3,84.7h1.7v1.7h-1.7zM247.6,93.7h1.7v1.7h-1.7zM217.6,76.3h1.7v1.7h-1.7zM243.7,94.5h1.7v1.7h-1.7zM199.5,91.7h1.7v1.7h-1.7zM241.6,99.7h1.7v1.7h-1.7zM205.9,76.0h1.7v1.7h-1.7zM243.8,82.0h1.7v1.7h-1.7zM215.8,96.8h1.7v1.7h-1.7zM237.5,94.1h1.7v1.7h-1.7zM249.3,82.5h1.7v1.7h-1.7zM211.1,92.8h1.7v1.7h-1.7zM198.3,94.9h1.7v1.7h-1.7zM204.9,97.3h1.7v1.7h-1.7zM260.1,91.5h1.7v1.7h-1.7zM269.1,76.4h1.7v1.7h-1.7zM239.4,81.3h1.7v1.7h-1.7zM200.3,100.2h1.7v1.7h-1.7zM241.1,92.0h1.7v1.7h-1.7zM220.5,99.4h1.7v1.7h-1.7zM207.4,89.3h1.7v1.7h-1.7zM252.8,89.5h1.7v1.7h-1.7zM262.3,89.2h1.7v1.7h-1.7zM236.0,73.6h1.7v1.7h-1.7zM239.2,88.7h1.7v1.7h-1.7zM268.7,85.2h1.7v1.7h-1.7zM193.9,86.8h1.7v1.7h-1.7zM261.6,95.2h1.7v1.7h-1.7zM267.3,90.5h1.7v1.7h-1.7zM260.9,84.1h1.7v1.7h-1.7zM237.3,105.8h1.7v1.7h-1.7zM264.3,112.7h1.7v1.7h-1.7zM233.0,90.6h1.7v1.7h-1.7zM222.8,82.7h1.7v1.7h-1.7zM233.2,96.2h1.7v1.7h-1.7zM197.1,96.5h1.7v1.7h-1.7zM196.0,87.9h1.7v1.7h-1.7zM234.8,96.7h1.7v1.7h-1.7zM240.4,86.4h1.7v1.7h-1.7zM199.2,89.6h1.7v1.7h-1.7zM254.2,88.4h1.7v1.7h-1.7zM205.6,91.8h1.7v1.7h-1.7zM210.6,89.3h1.7v1.7h-1.7zM231.4,97.0h1.7v1.7h-1.7zM255.1,88.9h1.7v1.7h-1.7zM232.4,94.6h1.7v1.7h-1.7zM265.1,90.7h1.7v1.7h-1.7zM253.7,92.8h1.7v1.7h-1.7zM238.2,82.8h1.7v1.7h-1.7zM262.6,90.0h1.7v1.7h-1.7zM221.1,96.7h1.7v1.7h-1.7zM239.6,93.8h1.7v1.7h-1.7zM244.7,69.5h1.7v1.7h-1.7zM200.9,87.3h1.7v1.7h-1.7zM214.5,72.3h1.7v1.7h-1.7zM271.5,83.8h1.7v1.7h-1.7zM217.9,84.6h1.7v1.7h-1.7zM265.8,79.3h1.7v1.7h-1.7zM197.7,92.8h1.7v1.7h-1.7zM213.5,98.5h1.7v1.7h-1.7zM212.0,91.8h1.7v1.7h-1.7zM193.8,88.3h1.7v1.7h-1.7zM251.1,91.4h1.7v1.7h-1.7zM212.2,86.9h1.7v1.7h-1.7zM240.1,94.8h1.7v1.7h-1.7zM201.3,101.4h1.7v1.7h-1.7zM232.9,92.2h1.7v1.7h-1.7zM231.0,90.7h1.7v1.7h-1.7zM256.2,92.3h1.7v1.7h-1.7zM221.5,89.2h1.7v1.7h-1.7zM257.6,89.2h1.7v1.7h-1.7zM213.0,86.7h1.7v1.7h-1.7zM217.2,89.6h1.7v1.7h-1.7zM242.2,89.9h1.7v1.7h-1.7zM208.1,88.4h1.7v1.7h-1.7zM194.1,111.2h1.7v1.7h-1.7zM241.9,84.6h1.7v1.7h-1.7zM249.5,87.1h1.7v1.7h-1.7zM202.1,79.5h1.7v1.7h-1.7zM238.9,89.3h1.7v1.7h-1.7zM231.3,97.5h1.7v1.7h-1.7zM234.1,90.0h1.7v1.7h-1.7zM267.9,75.4h1.7v1.7h-1.7zM197.1,84.6h1.7v1.7h-1.7zM208.3,100.7h1.7v1.7h-1.7zM200.2,87.6h1.7v1.7h-1.7zM242.8,93.0h1.7v1.7h-1.7zM262.0,87.0h1.7v1.7h-1.7zM236.3,87.8h1.7v1.7h-1.7zM196.2,90.3h1.7v1.7h-1.7zM233.6,75.7h1.7v1.7h-1.7zM202.4,96.3h1.7v1.7h-1.7zM200.5,85.7h1.7v1.7h-1.7zM217.7,91.7h1.7v1.7h-1.7zM261.2,92.1h1.7v1.7h-1.7zM248.8,101.1h1.7v1.7h-1.7zM271.7,94.5h1.7v1.7h-1.7zM231.9,98.1h1.7v1.7h-1.7zM208.4,88.3h1.7v1.7h-1.7zM222.4,89.9h1.7v1.7h-1.7zM200.3,90.8h1.7v1.7h-1.7zM225.4,100.3h1.7v1.7h-1.7zM241.5,85.7h1.7v1.7h-1.7zM245.7,94.1h1.7v1.7h-1.7zM270.6,103.1h1.7v1.7h-1.7zM223.6,86.2h1.7v1.7h-1.7zM200.6,82.5h1.7v1.7h-1.7zM262.1,85.5h1.7v1.7h-1.7zM207.5,90.1h1.7v1.7h-1.7zM219.4,105.4h1.7v1.7h-1.7zM205.0,93.1h1.7v1.7h-1.7zM250.0,95.7h1.7v1.7h-1.7zM263.7,87.0h1.7v1.7h-1.7zM210.4,90.3h1.7v1.7h-1.7zM239.6,91.4h1.7v1.7h-1.7zM195.6,86.7h1.7v1.7h-1.7zM248.0,93.2h1.7v1.7h-1.7zM205.1,89.7h1.7v1.7h-1.7zM218.4,91.4h1.7v1.7h-1.7zM237.5,77.7h1.7v1.7h-1.7zM230.2,81.4h1.7v1.7h-1.7zM255.1,102.9h1.7v1.7h-1.7zM196.3,91.1h1.7v1.7h-1.7zM210.3,89.8h1.7v1.7h-1.7zM209.4,102.2h1.7v1.7h-1.7zM224.4,109.4h1.7v1.7h-1.7zM261.0,98.8h1.7v1.7h-1.7zM270.1,84.6h1.7v1.7h-1.7zM270.0,93.9h1.7v1.7h-1.7zM208.4,91.8h1.7v1.7h-1.7zM209.9,86.8h1.7v1.7h-1.7zM216.4,96.8h1.7v1.7h-1.7zM240.4,97.3h1.7v1.7h-1.7zM259.9,92.9h1.7v1.7h-1.7zM234.0,83.4h1.7v1.7h-1.7zM196.6,87.7h1.7v1.7h-1.7zM247.7,95.6h1.7v1.7h-1.7zM242.8,91.5h1.7v1.7h-1.7zM223.6,88.3h1.7v1.7h-1.7zM236.1,91.9h1.7v1.7h-1.7zM212.7,90.6h1.7v1.7h-1.7zM217.4,83.7h1.7v1.7h-1.7zM240.2,89.5h1.7v1.7h-1.7zM223.1,97.9h1.7v1.7h-1.7zM220.8,92.2h1.7v1.7h-1.7zM205.0,83.8h1.7v1.7h-1.7zM263.2,84.1h1.7v1.7h-1.7zM234.7,93.5h1.7v1.7h-1.7zM262.2,81.3h1.7v1.7h-1.7zM240.6,91.8h1.7v1.7h-1.7zM199.5,90.2h1.7v1.7h-1.7zM196.5,79.5h1.7v1.7h-1.7zM207.6,69.7h1.7v1.7h-1.7zM223.0,83.5h1.7v1.7h-1.7zM207.2,90.9h1.7v1.7h-1.7zM221.4,90.6h1.7v1.7h-1.7zM266.3,96.0h1.7v1.7h-1.7zM195.0,90.9h1.7v1.7h-1.7zM199.6,90.6h1.7v1.7h-1.7zM250.1,92.4h1.7v1.7h-1.7zM251.7,83.6h1.7v1.7h-1.7zM214.0,105.9h1.7v1.7h-1.7zM199.6,88.3h1.7v1.7h-1.7zM220.5,83.0h1.7v1.7h-1.7zM248.8,88.4h1.7v1.7h-1.7zM215.6,95.7h1.7v1.7h-1.7zM233.9,85.5h1.7v1.7h-1.7zM228.2,87.4h1.7v1.7h-1.7zM264.5,101.3h1.7v1.7h-1.7zM242.5,95.6h1.7v1.7h-1.7zM221.1,88.7h1.7v1.7h-1.7zM224.9,93.8h1.7v1.7h-1.7zM203.6,88.1h1.7v1.7h-1.7zM256.7,103.1h1.7v1.7h-1.7zM208.8,85.9h1.7v1.7h-1.7zM202.6,86.5h1.7v1.7h-1.7zM219.4,86.7h1.7v1.7h-1.7zM246.3,82.2h1.7v1.7h-1.7zM235.5,89.9h1.7v1.7h-1.7zM194.4,93.5h1.7v1.7h-1.7zM239.8,86.4h1.7v1.7h-1.7zM252.4,107.7h1.7v1.7h-1.7zM251.7,91.7h1.7v1.7h-1.7zM209.9,93.6h1.7v1.7h-1.7zM199.6,83.9h1.7v1.7h-1.7zM223.2,90.2h1.7v1.7h-1.7zM210.4,94.4h1.7v1.7h-1.7zM269.5,85.7h1.7v1.7h-1.7zM247.7,87.3h1.7v1.7h-1.7zM218.0,86.6h1.7v1.7h-1.7zM259.0,78.5h1.7v1.7h-1.7zM241.3,92.9h1.7v1.7h-1.7zM196.9,83.4h1.7v1.7h-1.7zM210.9,97.8h1.7v1.7h-1.7zM214.1,84.5h1.7v1.7h-1.7zM266.3,88.6h1.7v1.7h-1.7zM244.4,90.4h1.7v1.7h-1.7zM208.6,72.9h1.7v1.7h-1.7zM260.8,80.5h1.7v1.7h-1.7zM224.4,87.6h1.7v1.7h-1.7zM272.3,90.1h1.7v1.7h-1.7zM237.5,81.6h1.7v1.7h-1.7zM194.6,91.6h1.7v1.7h-1.7zM225.7,82.3h1.7v1.7h-1.7zM246.9,91.7h1.7v1.7h-1.7zM228.1,109.4h1.7v1.7h-1.7zM246.0,107.6h1.7v1.7h-1.7zM201.1,95.2h1.7v1.7h-1.7zM194.9,84.1h1.7v1.7h-1.7zM201.1,88.9h1.7v1.7h-1.7zM244.3,100.3h1.7v1.7h-1.7zM211.3,88.8h1.7v1.7h-1.7zM258.4,93.1h1.7v1.7h-1.7zM256.4,85.9h1.7v1.7h-1.7zM203.9,94.4h1.7v1.7h-1.7zM198.3,91.4h1.7v1.7h-1.7zM246.6,70.4h1.7v1.7h-1.7zM249.1,89.9h1.7v1.7h-1.7zM264.0,92.6h1.7v1.7h-1.7zM221.4,92.8h1.7v1.7h-1.7zM195.8,92.1h1.7v1.7h-1.7zM253.6,96.2h1.7v1.7h-1.7zM241.1,89.8h1.7v1.7h-1.7zM269.3,83.3h1.7v1.7h-1.7zM217.7,98.4h1.7v1.7h-1.7zM194.4,112.7h1.7v1.7h-1.7zM198.1,87.6h1.7v1.7h-1.7zM263.8,103.7h1.7v1.7h-1.7zM221.7,89.6h1.7v1.7h-1.7zM199.5,77.4h1.7v1.7h-1.7zM195.9,82.5h1.7v1.7h-1.7zM244.3,82.5h1.7v1.7h-1.7zM222.2,95.7h1.7v1.7h-1.7zM252.5,91.4h1.7v1.7h-1.7zM241.9,85.2h1.7v1.7h-1.7zM212.0,92.6h1.7v1.7h-1.7zM241.9,102.7h1.7v1.7h-1.7zM225.0,89.9h1.7v1.7h-1.7zM246.9,87.1h1.7v1.7h-1.7zM213.2,91.8h1.7v1.7h-1.7zM217.7,86.5h1.7v1.7h-1.7zM207.0,95.2h1.7v1.7h-1.7zM204.3,95.4h1.7v1.7h-1.7zM225.6,92.3h1.7v1.7h-1.7zM242.3,88.2h1.7v1.7h-1.7zM240.1,90.5h1.7v1.7h-1.7zM208.7,77.8h1.7v1.7h-1.7zM224.4,97.6h1.7v1.7h-1.7zM228.3,111.8h1.7v1.7h-1.7zM210.9,90.5h1.7v1.7h-1.7zM242.9,80.9h1.7v1.7h-1.7zM220.7,87.3h1.7v1.7h-1.7zM201.5,77.8h1.7v1.7h-1.7zM247.9,82.0h1.7v1.7h-1.7zM207.4,89.4h1.7v1.7h-1.7zM221.6,88.9h1.7v1.7h-1.7zM254.8,87.5h1.7v1.7h-1.7zM203.8,95.9h1.7v1.7h-1.7zM237.3,90.4h1.7v1.7h-1.7zM240.5,85.6h1.7v1.7h-1.7zM215.1,93.8h1.7v1.7h-1.7zM202.6,79.5h1.7v1.7h-1.7zM225.7,87.4h1.7v1.7h-1.7zM212.1,82.8h1.7v1.7h-1.7zM224.1,91.8h1.7v1.7h-1.7zM204.8,86.0h1.7v1.7h-1.7zM225.4,88.0h1.7v1.7h-1.7zM266.7,91.3h1.7v1.7h-1.7zM194.4,94.6h1.7v1.7h-1.7zM239.1,91.1h1.7v1.7h-1.7zM226.7,95.6h1.7v1.7h-1.7zM260.7,85.4h1.7v1.7h-1.7zM254.6,94.0h1.7v1.7h-1.7zM229.5,98.0h1.7v1.7h-1.7zM213.9,90.1h1.7v1.7h-1.7zM268.4,70.3h1.7v1.7h-1.7zM258.7,107.7h1.7v1.7h-1.7zM263.7,89.2h1.7v1.7h-1.7zM200.5,93.6h1.7v1.7h-1.7zM224.8,91.8h1.7v1.7h-1.7zM230.7,96.0h1.7v1.7h-1.7zM217.0,101.2h1.7v1.7h-1.7zM211.3,90.9h1.7v1.7h-1.7zM219.5,93.8h1.7v1.7h-1.7zM207.2,79.0h1.7v1.7h-1.7zM269.5,86.1h1.7v1.7h-1.7zM265.1,89.5h1.7v1.7h-1.7zM242.9,97.2h1.7v1.7h-1.7zM239.1,86.2h1.7v1.7h-1.7zM272.2,88.6h1.7v1.7h-1.7zM233.2,93.3h1.7v1.7h-1.7zM254.1,85.7h1.7v1.7h-1.7zM196.2,84.6h1.7v1.7h-1.7zM208.8,94.1h1.7v1.7h-1.7zM200.4,85.6h1.7v1.7h-1.7zM260.5,91.6h1.7v1.7h-1.7zM251.6,92.8h1.7v1.7h-1.7zM221.8,72.4h1.7v1.7h-1.7zM203.3,92.9h1.7v1.7h-1.7zM256.9,80.6h1.7v1.7h-1.7zM221.6,89.9h1.7v1.7h-1.7zM255.6,80.9h1.7v1.7h-1.7zM241.7,91.1h1.7v1.7h-1.7zM250.8,91.4h1.7v1.7h-1.7zM241.0,91.6h1.7v1.7h-1.7zM269.8,92.9h1.7v1.7h-1.7zM212.7,87.3h1.7v1.7h-1.7zM262.8,83.5h1.7v1.7h-1.7zM243.2,84.6h1.7v1.7h-1.7zM248.8,99.3h1.7v1.7h-1.7zM271.7,80.7h1.7v1.7h-1.7zM196.3,88.9h1.7v1.7h-1.7zM214.9,93.2h1.7v1.7h-1.7zM251.1,89.1h1.7v1.7h-1.7zM256.2,85.8h1.7v1.7h-1.7zM213.4,80.6h1.7v1.7h-1.7zM231.0,98.8h1.7v1.7h-1.7zM261.8,79.5h1.7v1.7h-1.7zM270.9,75.4h1.7v1.7h-1.7zM270.7,87.2h1.7v1.7h-1.7zM210.2,90.6h1.7v1.7h-1.7zM223.8,81.6h1.7v1.7h-1.7zM227.8,91.2h1.7v1.7h-1.7zM232.1,90.4h1.7v1.7h-1.7zM261.8,94.0h1.7v1.7h-1.7zM232.1,90.4h1.7v1.7h-1.7zM216.9,85.7h1.7v1.7h-1.7zM243.8,82.8h1.7v1.7h-1.7zM256.2,86.6h1.7v1.7h-1.7zM241.7,87.7h1.7v1.7h-1.7zM267.2,103.8h1.7v1.7h-1.7zM271.4,84.7h1.7v1.7h-1.7zM252.9,94.0h1.7v1.7h-1.7zM264.1,90.5h1.7v1.7h-1.7zM200.6,74.9h1.7v1.7h-1.7zM239.7,93.3h1.7v1.7h-1.7zM195.5,88.3h1.7v1.7h-1.7zM215.1,83.5h1.7v1.7h-1.7zM244.6,92.0h1.7v1.7h-1.7zM248.1,95.9h1.7v1.7h-1.7zM259.4,88.9h1.7v1.7h-1.7zM260.2,84.7h1.7v1.7h-1.7zM215.2,84.2h1.7v1.7h-1.7zM228.7,88.5h1.7v1.7h-1.7zM254.8,95.3h1.7v1.7h-1.7zM210.2,91.0h1.7v1.7h-1.7zM263.4,91.9h1.7v1.7h-1.7zM196.1,95.4h1.7v1.7h-1.7zM223.6,77.3h1.7v1.7h-1.7zM197.0,91.8h1.7v1.7h-1.7zM216.0,95.0h1.7v1.7h-1.7zM260.4,91.0h1.7v1.7h-1.7zM271.7,83.4h1.7v1.7h-1.7zM227.5,87.0h1.7v1.7h-1.7zM212.4,93.1h1.7v1.7h-1.7zM219.3,92.0h1.7v1.7h-1.7zM260.2,92.0h1.7v1.7h-1.7zM209.0,85.3h1.7v1.7h-1.7zM254.6,92.6h1.7v1.7h-1.7zM218.2,103.0h1.7v1.7h-1.7zM213.4,90.2h1.7v1.7h-1.7zM264.7,101.9h1.7v1.7h-1.7zM211.1,94.1h1.7v1.7h-1.7zM268.3,93.7h1.7v1.7h-1.7zM228.8,87.4h1.7v1.7h-1.7zM272.7,87.1h1.7v1.7h-1.7zM251.6,84.3h1.7v1.7h-1.7zM259.9,100.1h1.7v1.7h-1.7zM236.8,112.0h1.7v1.7h-1.7zM270.6,80.6h1.7v1.7h-1.7zM250.3,78.8h1.7v1.7h-1.7zM228.3,91.0h1.7v1.7h-1.7zM198.2,96.3h1.7v1.7h-1.7zM208.7,92.7h1.7v1.7h-1.7zM262.3,92.8h1.7v1.7h-1.7zM268.4,92.2h1.7v1.7h-1.7zM196.1,95.4h1.7v1.7h-1.7zM226.2,89.9h1.7v1.7h-1.7zM229.1,92.6h1.7v1.7h-1.7zM206.4,93.7h1.7v1.7h-1.7zM196.3,89.9h1.7v1.7h-1.7zM262.0,97.4h1.7v1.7h-1.7zM259.5,85.3h1.7v1.7h-1.7zM263.8,88.2h1.7v1.7h-1.7zM217.2,86.3h1.7v1.7h-1.7zM264.0,94.7h1.7v1.7h-1.7zM270.9,94.9h1.7v1.7h-1.7zM256.8,83.4h1.7v1.7h-1.7zM221.1,90.6h1.7v1.7h-1.7zM223.4,88.3h1.7v1.7h-1.7zM233.4,84.1h1.7v1.7h-1.7zM266.2,75.2h1.7v1.7h-1.7zM233.3,93.0h1.7v1.7h-1.7zM227.5,93.0h1.7v1.7h-1.7zM198.5,83.8h1.7v1.7h-1.7zM219.4,90.0h1.7v1.7h-1.7zM210.4,97.5h1.7v1.7h-1.7zM231.2,102.5h1.7v1.7h-1.7zM231.4,91.8h1.7v1.7h-1.7zM209.1,83.0h1.7v1.7h-1.7zM200.4,83.6h1.7v1.7h-1.7zM243.9,90.9h1.7v1.7h-1.7zM212.8,88.7h1.7v1.7h-1.7zM246.3,87.6h1.7v1.7h-1.7zM238.7,86.8h1.7v1.7h-1.7zM262.6,87.5h1.7v1.7h-1.7zM214.5,90.6h1.7v1.7h-1.7zM270.7,93.0h1.7v1.7h-1.7zM260.7,75.1h1.7v1.7h-1.7zM232.9,98.5h1.7v1.7h-1.7zM221.3,96.6h1.7v1.7h-1.7zM210.3,89.2h1.7v1.7h-1.7zM238.7,91.2h1.7v1.7h-1.7zM208.3,97.2h1.7v1.7h-1.7zM221.8,82.1h1.7v1.7h-1.7zM198.7,87.8h1.7v1.7h-1.7zM246.6,84.7h1.7v1.7h-1.7zM241.4,85.5h1.7v1.7h-1.7zM247.6,93.5h1.7v1.7h-1.7zM260.6,89.0h1.7v1.7h-1.7zM237.2,91.5h1.7v1.7h-1.7zM223.1,90.8h1.7v1.7h-1.7zM213.6,88.2h1.7v1.7h-1.7zM235.0,96.8h1.7v1.7h-1.7zM228.3,89.0h1.7v1.7h-1.7zM228.4,86.7h1.7v1.7h-1.7zM214.9,77.7h1.7v1.7h-1.7zM209.2,87.4h1.7v1.7h-1.7zM256.7,91.0h1.7v1.7h-1.7zM271.0,90.8h1.7v1.7h-1.7zM246.7,92.8h1.7v1.7h-1.7zM241.6,88.2h1.7v1.7h-1.7zM207.2,92.6h1.7v1.7h-1.7zM229.0,98.4h1.7v1.7h-1.7zM268.3,84.7h1.7v1.7h-1.7zM269.9,93.6h1.7v1.7h-1.7zM199.5,92.5h1.7v1.7h-1.7zM260.4,88.8h1.7v1.7h-1.7zM210.8,100.0h1.7v1.7h-1.7zM268.6,90.3h1.7v1.7h-1.7zM211.6,86.9h1.7v1.7h-1.7zM254.9,94.5h1.7v1.7h-1.7zM269.6,105.8h1.7v1.7h-1.7zM197.4,80.2h1.7v1.7h-1.7zM194.7,90.0h1.7v1.7h-1.7zM236.0,94.0h1.7v1.7h-1.7zM227.8,93.3h1.7v1.7h-1.7zM268.3,99.1h1.7v1.7h-1.7zM216.9,101.8h1.7v1.7h-1.7zM195.3,82.5h1.7v1.7h-1.7zM262.6,93.1h1.7v1.7h-1.7zM241.3,75.6h1.7v1.7h-1.7zM234.5,86.0h1.7v1.7h-1.7zM243.7,85.3h1.7v1.7h-1.7zM265.4,92.2h1.7v1.7h-1.7zM214.4,82.7h1.7v1.7h-1.7zM213.6,90.5h1.7v1.7h-1.7zM272.1,83.4h1.7v1.7h-1.7zM234.7,99.0h1.7v1.7h-1.7zM196.3,88.1h1.7v1.7h-1.7zM254.0,90.3h1.7v1.7h-1.7zM238.4,84.7h1.7v1.7h-1.7zM197.3,85.3h1.7v1.7h-1.7zM223.3,96.3h1.7v1.7h-1.7zM240.7,92.1h1.7v1.7h-1.7zM262.2,79.7h1.7v1.7h-1.7zM246.1,81.2h1.7v1.7h-1.7zM244.2,89.5h1.7v1.7h-1.7zM252.8,98.2h1.7v1.7h-1.7zM227.0,88.4h1.7v1.7h-1.7zM258.0,92.1h1.7v1.7h-1.7zM251.1,95.2h1.7v1.7h-1.7zM201.2,101.3h1.7v1.7h-1.7zM251.1,96.2h1.7v1.7h-1.7zM264.5,80.5h1.7v1.7h-1.7zM268.5,85.7h1.7v1.7h-1.7zM228.7,98.1h1.7v1.7h-1.7zM203.3,92.7h1.7v1.7h-1.7zM201.5,86.1h1.7v1.7h-1.7zM239.1,87.9h1.7v1.7h-1.7zM252.9,88.9h1.7v1.7h-1.7zM240.7,92.9h1.7v1.7h-1.7zM248.7,93.4h1.7v1.7h-1.7zM253.1,102.3h1.7v1.7h-1.7zM231.6,81.9h1.7v1.7h-1.7zM214.1,91.3h1.7v1.7h-1.7zM256.1,88.4h1.7v1.7h-1.7zM234.0,85.5h1.7v1.7h-1.7zM249.1,94.2h1.7v1.7h-1.7zM224.4,78.6h1.7v1.7h-1.7zM265.4,83.9h1.7v1.7h-1.7zM225.0,97.7h1.7v1.7h-1.7zM241.2,91.8h1.7v1.7h-1.7zM243.9,93.8h1.7v1.7h-1.7zM235.6,96.0h1.7v1.7h-1.7zM256.7,84.5h1.7v1.7h-1.7zM214.9,96.2h1.7v1.7h-1.7zM198.6,91.5h1.7v1.7h-1.7zM206.0,95.5h1.7v1.7h-1.7zM227.5,97.8h1.7v1.7h-1.7zM249.3,96.1h1.7v1.7h-1.7zM205.8,89.1h1.7v1.7h-1.7zM227.0,90.6h1.7v1.7h-1.7zM243.6,90.9h1.7v1.7h-1.7zM210.1,99.9h1.7v1.7h-1.7zM244.7,80.3h1.7v1.7h-1.7zM245.2,102.9h1.7v1.7h-1.7zM211.9,81.9h1.7v1.7h-1.7zM264.4,99.8h1.7v1.7h-1.7zM269.0,92.3h1.7v1.7h-1.7zM267.4,105.9h1.7v1.7h-1.7zM211.7,88.3h1.7v1.7h-1.7zM219.4,98.1h1.7v1.7h-1.7zM236.8,93.9h1.7v1.7h-1.7zM258.2,92.1h1.7v1.7h-1.7zM195.5,94.6h1.7v1.7h-1.7zM213.6,67.8h1.7v1.7h-1.7zM211.6,75.8h1.7v1.7h-1.7zM211.1,90.7h1.7v1.7h-1.7zM272.7,89.2h1.7v1.7h-1.7zM241.9,105.0h1.7v1.7h-1.7zM248.3,92.0h1.7v1.7h-1.7zM200.7,101.9h1.7v1.7h-1.7zM217.3,87.1h1.7v1.7h-1.7zM203.3,92.5h1.7v1.7h-1.7zM213.3,85.7h1.7v1.7h-1.7zM204.3,80.5h1.7v1.7h-1.7zM202.6,82.9h1.7v1.7h-1.7zM254.5,89.5h1.7v1.7h-1.7zM215.6,86.0h1.7v1.7h-1.7zM264.6,87.7h1.7v1.7h-1.7zM194.5,86.0h1.7v1.7h-1.7zM219.1,80.4h1.7v1.7h-1.7zM217.6,102.8h1.7v1.7h-1.7zM225.6,90.7h1.7v1.7h-1.7zM239.6,84.0h1.7v1.7h-1.7zM233.6,88.4h1.7v1.7h-1.7zM221.2,90.4h1.7v1.7h-1.7zM220.6,77.0h1.7v1.7h-1.7zM249.9,99.9h1.7v1.7h-1.7zM218.7,81.8h1.7v1.7h-1.7zM248.8,92.7h1.7v1.7h-1.7zM233.5,88.1h1.7v1.7h-1.7zM212.6,86.4h1.7v1.7h-1.7zM253.5,104.9h1.7v1.7h-1.7zM236.4,87.2h1.7v1.7h-1.7zM244.1,83.2h1.7v1.7h-1.7zM199.7,88.2h1.7v1.7h-1.7zM230.1,85.8h1.7v1.7h-1.7zM234.3,94.9h1.7v1.7h-1.7zM226.3,94.2h1.7v1.7h-1.7zM223.2,84.9h1.7v1.7h-1.7zM204.2,112.7h1.7v1.7h-1.7zM233.0,87.8h1.7v1.7h-1.7zM255.3,84.2h1.7v1.7h-1.7zM239.9,94.7h1.7v1.7h-1.7zM218.2,93.0h1.7v1.7h-1.7zM208.9,80.9h1.7v1.7h-1.7zM223.2,85.1h1.7v1.7h-1.7zM218.6,88.4h1.7v1.7h-1.7zM208.7,84.0h1.7v1.7h-1.7zM226.2,95.1h1.7v1.7h-1.7zM222.0,91.5h1.7v1.7h-1.7zM235.9,67.7h1.7v1.7h-1.7zM259.5,85.0h1.7v1.7h-1.7zM222.0,87.7h1.7v1.7h-1.7zM247.1,96.0h1.7v1.7h-1.7zM207.2,84.4h1.7v1.7h-1.7zM212.5,92.7h1.7v1.7h-1.7zM261.9,83.7h1.7v1.7h-1.7zM252.8,92.2h1.7v1.7h-1.7zM250.3,84.9h1.7v1.7h-1.7zM258.7,91.8h1.7v1.7h-1.7zM264.5,85.8h1.7v1.7h-1.7zM268.0,86.5h1.7v1.7h-1.7zM251.3,107.6h1.7v1.7h-1.7zM267.3,94.0h1.7v1.7h-1.7zM215.0,84.1h1.7v1.7h-1.7zM231.5,100.5h1.7v1.7h-1.7zM208.7,88.5h1.7v1.7h-1.7zM202.0,102.5h1.7v1.7h-1.7zM225.1,77.8h1.7v1.7h-1.7zM220.6,88.9h1.7v1.7h-1.7zM243.7,85.7h1.7v1.7h-1.7zM225.9,83.6h1.7v1.7h-1.7zM206.0,79.6h1.7v1.7h-1.7zM233.0,107.3h1.7v1.7h-1.7zM219.8,90.0h1.7v1.7h-1.7zM254.5,88.7h1.7v1.7h-1.7zM248.3,82.6h1.7v1.7h-1.7zM269.4,99.8h1.7v1.7h-1.7zM270.2,95.0h1.7v1.7h-1.7zM239.3,88.9h1.7v1.7h-1.7zM214.3,83.6h1.7v1.7h-1.7zM238.3,92.3h1.7v1.7h-1.7zM217.3,90.0h1.7v1.7h-1.7zM253.9,99.7h1.7v1.7h-1.7zM251.1,93.6h1.7v1.7h-1.7zM230.0,85.8h1.7v1.7h-1.7zM217.8,86.3h1.7v1.7h-1.7zM196.0,93.8h1.7v1.7h-1.7zM261.7,100.5h1.7v1.7h-1.7zM259.6,92.6h1.7v1.7h-1.7zM241.7,92.3h1.7v1.7h-1.7zM257.8,88.4h1.7v1.7h-1.7zM209.0,109.1h1.7v1.7h-1.7zM245.9,87.6h1.7v1.7h-1.7zM216.8,92.1h1.7v1.7h-1.7zM258.8,91.8h1.7v1.7h-1.7zM225.4,89.2h1.7v1.7h-1.7zM231.7,93.9h1.7v1.7h-1.7zM222.6,97.4h1.7v1.7h-1.7zM227.5,80.5h1.7v1.7h-1.7zM262.8,88.1h1.7v1.7h-1.7zM270.8,95.8h1.7v1.7h-1.7zM214.9,96.5h1.7v1.7h-1.7zM257.3,86.0h1.7v1.7h-1.7zM269.6,93.2h1.7v1.7h-1.7zM234.8,91.1h1.7v1.7h-1.7zM241.1,91.4h1.7v1.7h-1.7zM258.9,87.3h1.7v1.7h-1.7zM246.2,108.7h1.7v1.7h-1.7zM236.2,112.0h1.7v1.7h-1.7zM264.7,97.4h1.7v1.7h-1.7zM238.1,92.5h1.7v1.7h-1.7zM256.0,91.0h1.7v1.7h-1.7zM266.3,95.3h1.7v1.7h-1.7zM218.9,112.7h1.7v1.7h-1.7zM259.8,89.2h1.7v1.7h-1.7zM208.6,89.9h1.7v1.7h-1.7zM236.6,98.2h1.7v1.7h-1.7zM245.6,85.2h1.7v1.7h-1.7zM261.7,67.3h1.7v1.7h-1.7zM218.7,94.8h1.7v1.7h-1.7zM270.5,96.6h1.7v1.7h-1.7zM253.2,102.8h1.7v1.7h-1.7zM266.8,99.5h1.7v1.7h-1.7zM213.9,95.2h1.7v1.7h-1.7zM237.0,84.1h1.7v1.7h-1.7zM229.5,95.4h1.7v1.7h-1.7zM269.9,72.7h1.7v1.7h-1.7zM258.1,83.2h1.7v1.7h-1.7zM206.7,89.9h1.7v1.7h-1.7zM265.9,84.4h1.7v1.7h-1.7zM222.4,80.7h1.7v1.7h-1.7zM231.2,84.8h1.7v1.7h-1.7zM198.0,88.8h1.7v1.7h-1.7zM234.1,91.0h1.7v1.7h-1.7zM265.5,81.0h1.7v1.7h-1.7zM230.4,87.8h1.7v1.7h-1.7zM196.2,89.2h1.7v1.7h-1.7zM260.5,90.9h1.7v1.7h-1.7zM230.9,92.7h1.7v1.7h-1.7zM201.7,97.9h1.7v1.7h-1.7zM248.9,91.6h1.7v1.7h-1.7zM208.3,92.7h1.7v1.7h-1.7zM242.0,93.2h1.7v1.7h-1.7zM226.9,90.7h1.7v1.7h-1.7zM213.3,91.9h1.7v1.7h-1.7zM228.1,86.5h1.7v1.7h-1.7zM217.3,91.3h1.7v1.7h-1.7zM230.9,99.5h1.7v1.7h-1.7zM240.0,78.4h1.7v1.7h-1.7zM233.7,102.4h1.7v1.7h-1.7zM198.1,88.3h1.7v1.7h-1.7zM238.9,94.9h1.7v1.7h-1.7zM268.6,105.5h1.7v1.7h-1.7zM261.3,91.2h1.7v1.7h-1.7zM227.2,87.3h1.7v1.7h-1.7zM254.9,92.5h1.7v1.7h-1.7zM207.1,89.0h1.7v1.7h-1.7zM250.0,86.5h1.7v1.7h-1.7zM219.2,112.7h1.7v1.7h-1.7zM271.7,112.7h1.7v1.7h-1.7zM209.9,112.7h1.7v1.7h-1.7zM217.6,112.7h1.7v1.7h-1.7zM197.4,112.7h1.7v1.7h-1.7zM218.0,112.7h1.7v1.7h-1.7zM261.2,112.7h1.7v1.7h-1.7zM217.4,112.7h1.7v1.7h-1.7zM252.6,112.7h1.7v1.7h-1.7zM272.4,112.7h1.7v1.7h-1.7zM203.9,112.7h1.7v1.7h-1.7zM214.2,112.7h1.7v1.7h-1.7zM223.4,112.7h1.7v1.7h-1.7zM195.1,112.7h1.7v1.7h-1.7zM196.3,112.7h1.7v1.7h-1.7zM266.5,112.7h1.7v1.7h-1.7zM271.9,112.7h1.7v1.7h-1.7zM228.9,112.7h1.7v1.7h-1.7zM266.3,112.7h1.7v1.7h-1.7zM210.6,112.7h1.7v1.7h-1.7zM225.5,112.7h1.7v1.7h-1.7zM247.5,112.7h1.7v1.7h-1.7zM303.5,72.1h1.7v1.7h-1.7zM330.1,91.9h1.7v1.7h-1.7zM325.6,81.4h1.7v1.7h-1.7zM351.7,73.1h1.7v1.7h-1.7zM341.0,70.3h1.7v1.7h-1.7zM306.9,79.3h1.7v1.7h-1.7zM323.8,67.9h1.7v1.7h-1.7zM317.3,78.0h1.7v1.7h-1.7zM319.5,75.6h1.7v1.7h-1.7zM315.5,73.2h1.7v1.7h-1.7zM285.1,85.1h1.7v1.7h-1.7zM300.1,78.3h1.7v1.7h-1.7zM350.6,75.3h1.7v1.7h-1.7zM348.7,97.1h1.7v1.7h-1.7zM347.1,78.5h1.7v1.7h-1.7zM338.6,85.4h1.7v1.7h-1.7zM327.0,77.7h1.7v1.7h-1.7zM284.9,72.0h1.7v1.7h-1.7zM349.4,84.8h1.7v1.7h-1.7zM305.9,105.6h1.7v1.7h-1.7zM352.6,71.0h1.7v1.7h-1.7zM284.8,82.3h1.7v1.7h-1.7zM320.2,82.3h1.7v1.7h-1.7zM350.3,77.9h1.7v1.7h-1.7zM353.9,76.2h1.7v1.7h-1.7zM337.0,67.6h1.7v1.7h-1.7zM303.0,77.0h1.7v1.7h-1.7zM352.3,74.8h1.7v1.7h-1.7zM339.7,84.6h1.7v1.7h-1.7zM302.6,75.0h1.7v1.7h-1.7zM348.4,86.7h1.7v1.7h-1.7zM299.9,82.0h1.7v1.7h-1.7zM344.3,82.8h1.7v1.7h-1.7zM342.7,77.4h1.7v1.7h-1.7zM330.4,79.7h1.7v1.7h-1.7zM320.2,78.2h1.7v1.7h-1.7zM304.8,79.8h1.7v1.7h-1.7zM294.5,85.2h1.7v1.7h-1.7zM313.1,97.3h1.7v1.7h-1.7zM293.0,78.1h1.7v1.7h-1.7zM320.6,83.9h1.7v1.7h-1.7zM324.9,79.5h1.7v1.7h-1.7zM335.2,75.9h1.7v1.7h-1.7zM310.0,74.6h1.7v1.7h-1.7zM313.6,81.3h1.7v1.7h-1.7zM335.1,74.4h1.7v1.7h-1.7zM309.0,85.5h1.7v1.7h-1.7zM289.7,81.5h1.7v1.7h-1.7zM345.8,81.8h1.7v1.7h-1.7zM293.6,84.5h1.7v1.7h-1.7zM286.7,68.6h1.7v1.7h-1.7zM343.0,76.1h1.7v1.7h-1.7zM336.5,75.3h1.7v1.7h-1.7zM290.8,76.6h1.7v1.7h-1.7zM328.6,88.7h1.7v1.7h-1.7zM344.7,79.9h1.7v1.7h-1.7zM349.4,83.4h1.7v1.7h-1.7zM321.1,76.2h1.7v1.7h-1.7zM344.5,70.4h1.7v1.7h-1.7zM308.2,97.9h1.7v1.7h-1.7zM284.7,70.8h1.7v1.7h-1.7zM293.7,71.9h1.7v1.7h-1.7zM301.7,72.0h1.7v1.7h-1.7zM285.6,76.3h1.7v1.7h-1.7zM351.5,81.4h1.7v1.7h-1.7zM353.9,70.6h1.7v1.7h-1.7zM346.3,85.4h1.7v1.7h-1.7zM320.4,77.9h1.7v1.7h-1.7zM313.6,72.4h1.7v1.7h-1.7zM306.0,76.9h1.7v1.7h-1.7zM291.9,75.5h1.7v1.7h-1.7zM307.1,78.0h1.7v1.7h-1.7zM339.8,72.5h1.7v1.7h-1.7zM289.8,77.5h1.7v1.7h-1.7zM302.3,79.5h1.7v1.7h-1.7zM341.7,74.2h1.7v1.7h-1.7zM338.8,77.4h1.7v1.7h-1.7zM329.5,74.0h1.7v1.7h-1.7zM323.6,99.4h1.7v1.7h-1.7zM329.9,68.4h1.7v1.7h-1.7zM296.6,71.3h1.7v1.7h-1.7zM313.4,78.0h1.7v1.7h-1.7zM349.0,84.8h1.7v1.7h-1.7zM294.8,77.1h1.7v1.7h-1.7zM344.7,74.2h1.7v1.7h-1.7zM336.6,74.0h1.7v1.7h-1.7zM294.7,79.8h1.7v1.7h-1.7zM283.6,74.0h1.7v1.7h-1.7zM287.3,76.8h1.7v1.7h-1.7zM319.7,77.3h1.7v1.7h-1.7zM300.6,76.2h1.7v1.7h-1.7zM333.8,77.6h1.7v1.7h-1.7zM322.1,80.3h1.7v1.7h-1.7zM309.9,87.7h1.7v1.7h-1.7zM322.4,71.0h1.7v1.7h-1.7zM334.1,78.5h1.7v1.7h-1.7zM300.8,68.0h1.7v1.7h-1.7zM296.9,80.2h1.7v1.7h-1.7zM325.8,80.2h1.7v1.7h-1.7zM350.5,77.1h1.7v1.7h-1.7zM316.1,82.0h1.7v1.7h-1.7zM310.5,76.6h1.7v1.7h-1.7zM303.4,74.4h1.7v1.7h-1.7zM314.8,75.2h1.7v1.7h-1.7zM352.0,76.0h1.7v1.7h-1.7zM351.6,74.9h1.7v1.7h-1.7zM322.3,79.9h1.7v1.7h-1.7zM334.6,75.2h1.7v1.7h-1.7zM284.3,93.7h1.7v1.7h-1.7zM323.9,78.3h1.7v1.7h-1.7zM326.7,78.3h1.7v1.7h-1.7zM342.6,86.4h1.7v1.7h-1.7zM313.4,93.1h1.7v1.7h-1.7zM312.6,72.5h1.7v1.7h-1.7zM343.4,73.4h1.7v1.7h-1.7zM292.4,86.9h1.7v1.7h-1.7zM350.9,90.5h1.7v1.7h-1.7zM332.7,79.5h1.7v1.7h-1.7zM344.6,77.2h1.7v1.7h-1.7zM345.2,81.1h1.7v1.7h-1.7zM310.9,74.4h1.7v1.7h-1.7zM348.6,68.6h1.7v1.7h-1.7zM334.1,81.9h1.7v1.7h-1.7zM291.9,74.8h1.7v1.7h-1.7zM318.3,80.3h1.7v1.7h-1.7zM322.7,82.3h1.7v1.7h-1.7zM293.3,73.1h1.7v1.7h-1.7zM306.5,80.2h1.7v1.7h-1.7zM316.8,82.4h1.7v1.7h-1.7zM298.4,74.2h1.7v1.7h-1.7zM300.3,87.2h1.7v1.7h-1.7zM311.2,79.7h1.7v1.7h-1.7zM292.1,84.3h1.7v1.7h-1.7zM304.8,78.7h1.7v1.7h-1.7zM311.1,85.7h1.7v1.7h-1.7zM300.8,76.2h1.7v1.7h-1.7zM298.5,76.3h1.7v1.7h-1.7zM312.7,73.7h1.7v1.7h-1.7zM330.1,79.5h1.7v1.7h-1.7zM286.8,72.3h1.7v1.7h-1.7zM306.2,83.4h1.7v1.7h-1.7zM302.9,71.3h1.7v1.7h-1.7zM291.3,74.7h1.7v1.7h-1.7zM349.8,79.8h1.7v1.7h-1.7zM321.7,71.7h1.7v1.7h-1.7zM325.1,73.1h1.7v1.7h-1.7zM294.1,72.3h1.7v1.7h-1.7zM283.8,72.2h1.7v1.7h-1.7zM285.8,71.1h1.7v1.7h-1.7zM308.6,77.7h1.7v1.7h-1.7zM299.9,68.3h1.7v1.7h-1.7zM351.1,81.3h1.7v1.7h-1.7zM285.6,86.6h1.7v1.7h-1.7zM282.7,89.0h1.7v1.7h-1.7zM288.6,71.8h1.7v1.7h-1.7zM283.2,79.3h1.7v1.7h-1.7zM317.4,74.2h1.7v1.7h-1.7zM304.4,71.0h1.7v1.7h-1.7zM351.3,71.2h1.7v1.7h-1.7zM335.9,78.2h1.7v1.7h-1.7zM296.3,87.4h1.7v1.7h-1.7zM289.4,71.8h1.7v1.7h-1.7zM343.3,74.4h1.7v1.7h-1.7zM288.0,78.9h1.7v1.7h-1.7zM342.5,68.0h1.7v1.7h-1.7zM326.0,75.9h1.7v1.7h-1.7zM338.2,77.5h1.7v1.7h-1.7zM334.4,75.5h1.7v1.7h-1.7zM305.4,82.1h1.7v1.7h-1.7zM343.7,78.1h1.7v1.7h-1.7zM285.7,72.1h1.7v1.7h-1.7zM349.4,82.7h1.7v1.7h-1.7zM286.4,75.9h1.7v1.7h-1.7zM330.1,78.8h1.7v1.7h-1.7zM316.1,82.2h1.7v1.7h-1.7zM328.0,77.5h1.7v1.7h-1.7zM349.0,77.2h1.7v1.7h-1.7zM334.4,77.9h1.7v1.7h-1.7zM318.1,78.5h1.7v1.7h-1.7zM331.7,95.7h1.7v1.7h-1.7zM308.9,84.8h1.7v1.7h-1.7zM292.8,80.5h1.7v1.7h-1.7zM292.4,93.1h1.7v1.7h-1.7zM301.8,67.3h1.7v1.7h-1.7zM346.9,78.8h1.7v1.7h-1.7zM313.7,84.9h1.7v1.7h-1.7zM331.8,77.3h1.7v1.7h-1.7zM306.7,83.2h1.7v1.7h-1.7zM341.7,73.4h1.7v1.7h-1.7zM327.7,78.6h1.7v1.7h-1.7zM300.5,69.3h1.7v1.7h-1.7zM286.4,76.8h1.7v1.7h-1.7zM337.9,78.0h1.7v1.7h-1.7zM295.4,76.4h1.7v1.7h-1.7zM337.0,80.4h1.7v1.7h-1.7zM292.8,73.0h1.7v1.7h-1.7zM340.3,72.6h1.7v1.7h-1.7zM332.4,79.4h1.7v1.7h-1.7zM295.5,79.7h1.7v1.7h-1.7zM314.6,74.1h1.7v1.7h-1.7zM329.4,71.9h1.7v1.7h-1.7zM295.6,76.7h1.7v1.7h-1.7zM296.8,67.8h1.7v1.7h-1.7zM295.5,80.1h1.7v1.7h-1.7zM287.3,70.6h1.7v1.7h-1.7zM350.7,81.8h1.7v1.7h-1.7zM298.3,75.5h1.7v1.7h-1.7zM321.8,80.6h1.7v1.7h-1.7zM295.4,75.2h1.7v1.7h-1.7zM302.0,77.7h1.7v1.7h-1.7zM346.0,79.7h1.7v1.7h-1.7zM296.1,81.0h1.7v1.7h-1.7zM287.8,73.7h1.7v1.7h-1.7zM342.5,74.5h1.7v1.7h-1.7zM319.0,77.1h1.7v1.7h-1.7zM314.5,84.8h1.7v1.7h-1.7zM349.5,75.5h1.7v1.7h-1.7zM308.4,83.9h1.7v1.7h-1.7zM338.2,82.5h1.7v1.7h-1.7zM311.3,83.1h1.7v1.7h-1.7zM313.4,84.8h1.7v1.7h-1.7zM335.1,68.3h1.7v1.7h-1.7zM311.0,76.8h1.7v1.7h-1.7zM284.5,77.2h1.7v1.7h-1.7zM301.5,83.2h1.7v1.7h-1.7zM325.9,82.6h1.7v1.7h-1.7zM325.9,79.4h1.7v1.7h-1.7zM339.5,71.6h1.7v1.7h-1.7zM309.6,86.1h1.7v1.7h-1.7zM330.4,78.5h1.7v1.7h-1.7zM308.8,81.0h1.7v1.7h-1.7zM301.0,73.6h1.7v1.7h-1.7zM287.9,69.8h1.7v1.7h-1.7zM340.8,78.8h1.7v1.7h-1.7zM288.3,69.1h1.7v1.7h-1.7zM309.8,73.3h1.7v1.7h-1.7zM328.4,72.5h1.7v1.7h-1.7zM302.0,76.2h1.7v1.7h-1.7zM318.4,82.4h1.7v1.7h-1.7zM341.8,72.1h1.7v1.7h-1.7zM335.6,70.6h1.7v1.7h-1.7zM307.3,85.8h1.7v1.7h-1.7zM347.1,86.3h1.7v1.7h-1.7zM344.2,75.3h1.7v1.7h-1.7zM340.8,83.0h1.7v1.7h-1.7zM298.4,72.9h1.7v1.7h-1.7zM311.1,86.6h1.7v1.7h-1.7zM353.7,73.3h1.7v1.7h-1.7zM324.8,70.8h1.7v1.7h-1.7zM300.1,82.8h1.7v1.7h-1.7zM314.5,75.6h1.7v1.7h-1.7zM308.8,82.4h1.7v1.7h-1.7zM323.1,72.4h1.7v1.7h-1.7zM305.1,79.8h1.7v1.7h-1.7zM350.2,72.4h1.7v1.7h-1.7zM318.2,78.2h1.7v1.7h-1.7zM317.6,85.9h1.7v1.7h-1.7zM284.9,80.9h1.7v1.7h-1.7zM299.2,80.4h1.7v1.7h-1.7zM297.2,80.9h1.7v1.7h-1.7zM312.5,81.7h1.7v1.7h-1.7zM287.4,71.3h1.7v1.7h-1.7zM304.3,73.0h1.7v1.7h-1.7zM342.4,84.9h1.7v1.7h-1.7zM318.3,74.3h1.7v1.7h-1.7zM346.8,78.8h1.7v1.7h-1.7zM311.6,74.2h1.7v1.7h-1.7zM324.2,80.0h1.7v1.7h-1.7zM344.2,99.0h1.7v1.7h-1.7zM308.8,82.7h1.7v1.7h-1.7zM316.0,82.4h1.7v1.7h-1.7zM312.3,77.5h1.7v1.7h-1.7zM320.3,78.4h1.7v1.7h-1.7zM302.3,73.0h1.7v1.7h-1.7zM298.2,79.1h1.7v1.7h-1.7zM287.4,75.8h1.7v1.7h-1.7zM291.7,80.2h1.7v1.7h-1.7zM293.8,86.1h1.7v1.7h-1.7zM318.0,84.6h1.7v1.7h-1.7zM337.8,77.4h1.7v1.7h-1.7zM312.9,69.6h1.7v1.7h-1.7zM294.4,101.2h1.7v1.7h-1.7zM337.3,73.7h1.7v1.7h-1.7zM310.7,78.9h1.7v1.7h-1.7zM284.4,80.9h1.7v1.7h-1.7zM331.8,77.8h1.7v1.7h-1.7zM341.1,80.8h1.7v1.7h-1.7zM344.4,74.4h1.7v1.7h-1.7zM284.9,79.6h1.7v1.7h-1.7zM331.4,74.4h1.7v1.7h-1.7zM323.5,72.7h1.7v1.7h-1.7zM309.8,83.5h1.7v1.7h-1.7zM290.7,70.2h1.7v1.7h-1.7zM293.0,77.7h1.7v1.7h-1.7zM338.1,77.1h1.7v1.7h-1.7zM305.5,76.4h1.7v1.7h-1.7zM327.9,78.0h1.7v1.7h-1.7zM323.9,88.4h1.7v1.7h-1.7zM334.2,73.2h1.7v1.7h-1.7zM333.2,74.1h1.7v1.7h-1.7zM309.8,79.6h1.7v1.7h-1.7zM293.3,79.6h1.7v1.7h-1.7zM319.0,81.6h1.7v1.7h-1.7zM301.1,70.5h1.7v1.7h-1.7zM335.8,76.2h1.7v1.7h-1.7zM322.7,103.6h1.7v1.7h-1.7zM324.3,71.1h1.7v1.7h-1.7zM335.1,79.3h1.7v1.7h-1.7zM333.8,89.2h1.7v1.7h-1.7zM316.6,71.7h1.7v1.7h-1.7zM337.5,71.2h1.7v1.7h-1.7zM338.9,86.3h1.7v1.7h-1.7zM289.3,70.0h1.7v1.7h-1.7zM338.7,75.8h1.7v1.7h-1.7zM322.4,78.9h1.7v1.7h-1.7zM316.0,77.9h1.7v1.7h-1.7zM337.5,84.1h1.7v1.7h-1.7zM345.3,80.5h1.7v1.7h-1.7zM341.1,67.8h1.7v1.7h-1.7zM286.3,73.5h1.7v1.7h-1.7zM345.4,81.1h1.7v1.7h-1.7zM294.9,70.7h1.7v1.7h-1.7zM321.9,78.7h1.7v1.7h-1.7zM348.2,75.1h1.7v1.7h-1.7zM330.9,69.9h1.7v1.7h-1.7zM306.4,88.9h1.7v1.7h-1.7zM294.2,78.6h1.7v1.7h-1.7zM343.9,70.9h1.7v1.7h-1.7zM339.3,78.9h1.7v1.7h-1.7zM347.8,76.5h1.7v1.7h-1.7zM297.1,72.5h1.7v1.7h-1.7zM287.8,67.3h1.7v1.7h-1.7zM317.7,89.9h1.7v1.7h-1.7zM341.3,92.3h1.7v1.7h-1.7zM341.1,77.9h1.7v1.7h-1.7zM283.4,74.7h1.7v1.7h-1.7zM305.6,71.7h1.7v1.7h-1.7zM305.6,77.4h1.7v1.7h-1.7zM351.1,74.5h1.7v1.7h-1.7zM302.7,81.1h1.7v1.7h-1.7zM337.4,75.6h1.7v1.7h-1.7zM294.8,84.4h1.7v1.7h-1.7zM297.1,75.3h1.7v1.7h-1.7zM323.3,79.4h1.7v1.7h-1.7zM322.9,85.8h1.7v1.7h-1.7zM294.2,81.9h1.7v1.7h-1.7zM342.4,85.8h1.7v1.7h-1.7zM300.1,73.0h1.7v1.7h-1.7zM323.6,78.3h1.7v1.7h-1.7zM306.2,84.9h1.7v1.7h-1.7zM296.3,80.4h1.7v1.7h-1.7zM349.9,80.1h1.7v1.7h-1.7zM322.4,76.2h1.7v1.7h-1.7zM313.8,76.0h1.7v1.7h-1.7zM300.9,72.9h1.7v1.7h-1.7zM352.3,69.1h1.7v1.7h-1.7zM303.0,71.9h1.7v1.7h-1.7zM316.7,85.1h1.7v1.7h-1.7zM306.2,86.4h1.7v1.7h-1.7zM290.4,78.6h1.7v1.7h-1.7zM345.9,81.7h1.7v1.7h-1.7zM332.9,78.2h1.7v1.7h-1.7zM348.2,75.8h1.7v1.7h-1.7zM343.9,76.4h1.7v1.7h-1.7zM325.7,80.6h1.7v1.7h-1.7zM332.6,77.1h1.7v1.7h-1.7zM310.3,72.8h1.7v1.7h-1.7zM334.4,83.1h1.7v1.7h-1.7zM292.2,79.4h1.7v1.7h-1.7zM324.4,75.4h1.7v1.7h-1.7zM332.7,75.8h1.7v1.7h-1.7zM292.4,74.7h1.7v1.7h-1.7zM285.8,79.8h1.7v1.7h-1.7zM312.1,88.6h1.7v1.7h-1.7zM337.5,75.9h1.7v1.7h-1.7zM304.9,75.6h1.7v1.7h-1.7zM294.5,81.9h1.7v1.7h-1.7zM332.6,77.2h1.7v1.7h-1.7zM334.5,74.9h1.7v1.7h-1.7zM302.8,72.0h1.7v1.7h-1.7zM313.8,69.1h1.7v1.7h-1.7zM295.5,73.1h1.7v1.7h-1.7zM283.5,71.4h1.7v1.7h-1.7zM341.6,69.9h1.7v1.7h-1.7zM320.2,85.6h1.7v1.7h-1.7zM295.7,78.7h1.7v1.7h-1.7zM303.7,82.4h1.7v1.7h-1.7zM305.4,76.1h1.7v1.7h-1.7zM313.6,85.4h1.7v1.7h-1.7zM349.1,79.8h1.7v1.7h-1.7zM340.1,82.5h1.7v1.7h-1.7zM290.4,79.2h1.7v1.7h-1.7zM333.2,77.7h1.7v1.7h-1.7zM315.0,109.0h1.7v1.7h-1.7zM300.8,70.5h1.7v1.7h-1.7zM287.4,69.8h1.7v1.7h-1.7zM327.2,82.5h1.7v1.7h-1.7zM351.7,71.9h1.7v1.7h-1.7zM284.9,78.7h1.7v1.7h-1.7zM347.7,111.7h1.7v1.7h-1.7zM343.5,76.7h1.7v1.7h-1.7zM306.0,83.0h1.7v1.7h-1.7zM333.7,67.8h1.7v1.7h-1.7zM332.2,67.8h1.7v1.7h-1.7zM327.2,80.6h1.7v1.7h-1.7zM340.5,87.3h1.7v1.7h-1.7zM344.2,78.6h1.7v1.7h-1.7zM299.9,80.6h1.7v1.7h-1.7zM319.0,71.9h1.7v1.7h-1.7zM347.5,77.2h1.7v1.7h-1.7zM289.7,72.8h1.7v1.7h-1.7zM322.0,81.2h1.7v1.7h-1.7zM339.5,76.4h1.7v1.7h-1.7zM346.8,80.5h1.7v1.7h-1.7zM329.6,89.0h1.7v1.7h-1.7zM319.9,69.4h1.7v1.7h-1.7zM317.9,76.4h1.7v1.7h-1.7zM301.5,75.9h1.7v1.7h-1.7zM306.9,78.8h1.7v1.7h-1.7zM331.8,78.0h1.7v1.7h-1.7zM345.7,70.6h1.7v1.7h-1.7zM350.3,67.3h1.7v1.7h-1.7zM348.8,75.7h1.7v1.7h-1.7zM300.2,108.3h1.7v1.7h-1.7zM288.5,80.4h1.7v1.7h-1.7zM346.7,87.8h1.7v1.7h-1.7zM322.6,91.0h1.7v1.7h-1.7zM306.4,89.6h1.7v1.7h-1.7zM328.9,76.6h1.7v1.7h-1.7zM341.5,76.0h1.7v1.7h-1.7zM296.2,82.0h1.7v1.7h-1.7zM322.6,76.6h1.7v1.7h-1.7zM302.5,69.0h1.7v1.7h-1.7zM323.1,80.2h1.7v1.7h-1.7zM297.7,72.8h1.7v1.7h-1.7zM331.3,67.0h1.7v1.7h-1.7zM307.6,82.3h1.7v1.7h-1.7zM286.9,71.5h1.7v1.7h-1.7zM322.7,74.5h1.7v1.7h-1.7zM325.9,80.2h1.7v1.7h-1.7zM294.3,77.7h1.7v1.7h-1.7zM336.7,81.7h1.7v1.7h-1.7zM287.7,85.3h1.7v1.7h-1.7zM294.4,96.8h1.7v1.7h-1.7zM342.0,71.7h1.7v1.7h-1.7zM314.3,80.5h1.7v1.7h-1.7zM293.9,81.1h1.7v1.7h-1.7zM317.2,73.9h1.7v1.7h-1.7zM302.0,72.8h1.7v1.7h-1.7zM309.1,78.4h1.7v1.7h-1.7zM295.2,74.8h1.7v1.7h-1.7zM347.7,79.5h1.7v1.7h-1.7zM341.4,87.8h1.7v1.7h-1.7zM352.9,72.8h1.7v1.7h-1.7zM307.4,88.5h1.7v1.7h-1.7zM313.5,79.7h1.7v1.7h-1.7zM331.5,80.4h1.7v1.7h-1.7zM348.1,85.2h1.7v1.7h-1.7zM291.7,68.9h1.7v1.7h-1.7zM292.4,81.2h1.7v1.7h-1.7zM287.4,74.8h1.7v1.7h-1.7zM286.1,76.6h1.7v1.7h-1.7zM298.2,79.8h1.7v1.7h-1.7zM304.1,67.0h1.7v1.7h-1.7zM314.5,75.7h1.7v1.7h-1.7zM331.6,76.6h1.7v1.7h-1.7zM346.7,74.3h1.7v1.7h-1.7zM339.4,73.1h1.7v1.7h-1.7zM304.7,74.5h1.7v1.7h-1.7zM307.2,76.0h1.7v1.7h-1.7zM292.5,75.7h1.7v1.7h-1.7zM346.3,73.1h1.7v1.7h-1.7zM347.8,87.7h1.7v1.7h-1.7zM313.2,79.4h1.7v1.7h-1.7zM296.1,77.5h1.7v1.7h-1.7zM305.2,86.2h1.7v1.7h-1.7zM349.7,75.8h1.7v1.7h-1.7zM289.7,73.0h1.7v1.7h-1.7zM334.1,92.6h1.7v1.7h-1.7zM285.2,78.4h1.7v1.7h-1.7zM328.9,76.0h1.7v1.7h-1.7zM340.4,70.5h1.7v1.7h-1.7zM325.5,73.4h1.7v1.7h-1.7zM283.4,80.8h1.7v1.7h-1.7zM317.6,75.3h1.7v1.7h-1.7zM337.0,75.0h1.7v1.7h-1.7zM291.7,69.2h1.7v1.7h-1.7zM310.1,99.7h1.7v1.7h-1.7zM350.9,72.7h1.7v1.7h-1.7zM283.3,71.7h1.7v1.7h-1.7zM296.1,79.7h1.7v1.7h-1.7zM296.1,88.3h1.7v1.7h-1.7zM343.5,79.1h1.7v1.7h-1.7zM351.8,73.3h1.7v1.7h-1.7zM335.4,74.1h1.7v1.7h-1.7zM283.2,85.4h1.7v1.7h-1.7zM294.7,84.6h1.7v1.7h-1.7zM322.3,78.0h1.7v1.7h-1.7zM339.5,78.3h1.7v1.7h-1.7zM340.6,75.6h1.7v1.7h-1.7zM323.4,80.0h1.7v1.7h-1.7zM299.3,78.4h1.7v1.7h-1.7zM304.8,75.1h1.7v1.7h-1.7zM344.1,97.8h1.7v1.7h-1.7zM351.7,73.4h1.7v1.7h-1.7zM297.4,81.7h1.7v1.7h-1.7zM331.4,77.7h1.7v1.7h-1.7zM338.0,75.1h1.7v1.7h-1.7zM295.6,88.6h1.7v1.7h-1.7zM323.7,80.9h1.7v1.7h-1.7zM330.4,83.9h1.7v1.7h-1.7zM310.4,85.9h1.7v1.7h-1.7zM309.7,91.5h1.7v1.7h-1.7zM305.7,77.7h1.7v1.7h-1.7zM335.3,75.3h1.7v1.7h-1.7zM346.4,74.8h1.7v1.7h-1.7zM325.3,73.5h1.7v1.7h-1.7zM289.2,74.1h1.7v1.7h-1.7zM309.5,81.5h1.7v1.7h-1.7zM348.3,83.3h1.7v1.7h-1.7zM315.3,82.9h1.7v1.7h-1.7zM325.8,75.9h1.7v1.7h-1.7zM325.3,76.3h1.7v1.7h-1.7zM346.4,83.5h1.7v1.7h-1.7zM331.2,83.4h1.7v1.7h-1.7zM322.0,76.8h1.7v1.7h-1.7zM324.7,79.1h1.7v1.7h-1.7zM326.0,80.4h1.7v1.7h-1.7zM333.6,74.0h1.7v1.7h-1.7zM348.6,83.0h1.7v1.7h-1.7zM312.1,82.0h1.7v1.7h-1.7zM317.7,83.6h1.7v1.7h-1.7zM335.8,70.5h1.7v1.7h-1.7zM344.8,79.5h1.7v1.7h-1.7zM340.9,81.8h1.7v1.7h-1.7zM333.2,72.5h1.7v1.7h-1.7zM324.5,76.7h1.7v1.7h-1.7zM292.2,76.5h1.7v1.7h-1.7zM291.3,73.3h1.7v1.7h-1.7zM286.6,69.9h1.7v1.7h-1.7zM298.6,73.1h1.7v1.7h-1.7zM328.4,74.2h1.7v1.7h-1.7zM311.2,85.7h1.7v1.7h-1.7zM284.5,94.7h1.7v1.7h-1.7zM350.4,78.4h1.7v1.7h-1.7zM344.4,74.8h1.7v1.7h-1.7zM283.5,80.8h1.7v1.7h-1.7zM324.1,72.6h1.7v1.7h-1.7zM348.5,81.8h1.7v1.7h-1.7zM290.7,77.8h1.7v1.7h-1.7zM316.9,75.5h1.7v1.7h-1.7zM309.4,82.6h1.7v1.7h-1.7zM353.7,76.4h1.7v1.7h-1.7zM287.6,77.6h1.7v1.7h-1.7zM287.4,69.7h1.7v1.7h-1.7zM314.1,76.0h1.7v1.7h-1.7zM316.3,71.0h1.7v1.7h-1.7zM310.6,78.4h1.7v1.7h-1.7zM325.4,73.6h1.7v1.7h-1.7zM302.7,75.5h1.7v1.7h-1.7zM335.2,79.0h1.7v1.7h-1.7zM313.6,73.2h1.7v1.7h-1.7zM288.2,69.4h1.7v1.7h-1.7zM328.0,71.2h1.7v1.7h-1.7zM297.1,76.2h1.7v1.7h-1.7zM327.2,74.4h1.7v1.7h-1.7zM321.3,79.2h1.7v1.7h-1.7zM300.7,79.3h1.7v1.7h-1.7zM310.5,91.3h1.7v1.7h-1.7zM319.9,76.5h1.7v1.7h-1.7zM327.4,79.3h1.7v1.7h-1.7zM346.9,78.7h1.7v1.7h-1.7zM323.8,82.5h1.7v1.7h-1.7zM324.5,76.9h1.7v1.7h-1.7zM322.9,72.0h1.7v1.7h-1.7zM292.8,77.8h1.7v1.7h-1.7zM331.3,91.8h1.7v1.7h-1.7zM353.6,71.1h1.7v1.7h-1.7zM298.1,77.2h1.7v1.7h-1.7zM340.4,73.2h1.7v1.7h-1.7zM326.0,79.5h1.7v1.7h-1.7zM288.1,73.7h1.7v1.7h-1.7zM299.5,67.6h1.7v1.7h-1.7zM317.4,80.6h1.7v1.7h-1.7zM291.2,73.2h1.7v1.7h-1.7zM309.5,81.3h1.7v1.7h-1.7zM351.5,74.7h1.7v1.7h-1.7zM301.2,75.9h1.7v1.7h-1.7zM352.1,71.9h1.7v1.7h-1.7zM295.5,78.0h1.7v1.7h-1.7zM311.2,85.1h1.7v1.7h-1.7zM344.8,80.7h1.7v1.7h-1.7zM344.9,72.6h1.7v1.7h-1.7zM323.1,78.4h1.7v1.7h-1.7zM324.4,77.6h1.7v1.7h-1.7zM340.6,82.3h1.7v1.7h-1.7zM338.1,82.7h1.7v1.7h-1.7zM291.8,76.6h1.7v1.7h-1.7zM321.8,74.7h1.7v1.7h-1.7zM349.3,84.2h1.7v1.7h-1.7zM304.0,70.6h1.7v1.7h-1.7zM293.5,77.3h1.7v1.7h-1.7zM348.7,86.2h1.7v1.7h-1.7zM329.4,80.1h1.7v1.7h-1.7zM338.5,79.8h1.7v1.7h-1.7zM328.1,78.0h1.7v1.7h-1.7zM290.6,79.5h1.7v1.7h-1.7zM347.3,90.3h1.7v1.7h-1.7zM298.3,77.5h1.7v1.7h-1.7zM342.7,76.4h1.7v1.7h-1.7zM318.2,82.6h1.7v1.7h-1.7zM308.9,111.3h1.7v1.7h-1.7zM298.8,77.4h1.7v1.7h-1.7zM347.2,74.3h1.7v1.7h-1.7zM342.4,78.8h1.7v1.7h-1.7zM293.1,74.3h1.7v1.7h-1.7zM352.2,78.5h1.7v1.7h-1.7zM296.6,75.9h1.7v1.7h-1.7zM351.6,74.7h1.7v1.7h-1.7zM326.9,78.7h1.7v1.7h-1.7zM319.3,89.8h1.7v1.7h-1.7zM342.6,78.8h1.7v1.7h-1.7zM312.1,81.3h1.7v1.7h-1.7zM343.8,82.2h1.7v1.7h-1.7zM345.4,72.0h1.7v1.7h-1.7zM312.9,89.8h1.7v1.7h-1.7zM335.3,69.9h1.7v1.7h-1.7zM327.5,81.8h1.7v1.7h-1.7zM324.0,75.8h1.7v1.7h-1.7zM324.3,77.2h1.7v1.7h-1.7zM294.0,75.5h1.7v1.7h-1.7zM329.7,67.5h1.7v1.7h-1.7zM289.8,79.0h1.7v1.7h-1.7zM320.7,72.8h1.7v1.7h-1.7zM298.4,78.0h1.7v1.7h-1.7zM315.2,71.2h1.7v1.7h-1.7zM337.3,83.5h1.7v1.7h-1.7zM311.6,79.4h1.7v1.7h-1.7zM289.6,77.1h1.7v1.7h-1.7zM351.9,71.0h1.7v1.7h-1.7zM312.5,82.1h1.7v1.7h-1.7zM302.0,74.7h1.7v1.7h-1.7zM337.2,72.0h1.7v1.7h-1.7zM282.9,80.4h1.7v1.7h-1.7zM350.8,82.4h1.7v1.7h-1.7zM321.8,95.3h1.7v1.7h-1.7zM287.7,81.9h1.7v1.7h-1.7zM343.3,83.4h1.7v1.7h-1.7zM320.8,82.2h1.7v1.7h-1.7zM285.6,74.9h1.7v1.7h-1.7zM308.8,86.1h1.7v1.7h-1.7zM293.5,86.8h1.7v1.7h-1.7zM283.3,77.3h1.7v1.7h-1.7zM332.9,70.5h1.7v1.7h-1.7zM332.7,72.0h1.7v1.7h-1.7zM289.7,78.4h1.7v1.7h-1.7zM311.4,77.8h1.7v1.7h-1.7zM333.8,72.6h1.7v1.7h-1.7zM296.5,68.1h1.7v1.7h-1.7zM321.1,80.2h1.7v1.7h-1.7zM292.4,68.8h1.7v1.7h-1.7zM288.2,71.3h1.7v1.7h-1.7zM334.3,72.0h1.7v1.7h-1.7zM305.4,90.4h1.7v1.7h-1.7zM329.7,85.1h1.7v1.7h-1.7zM327.5,88.5h1.7v1.7h-1.7zM342.9,72.4h1.7v1.7h-1.7zM317.1,80.2h1.7v1.7h-1.7zM339.2,72.1h1.7v1.7h-1.7zM316.0,89.0h1.7v1.7h-1.7zM332.1,76.7h1.7v1.7h-1.7zM345.4,82.0h1.7v1.7h-1.7zM294.2,75.9h1.7v1.7h-1.7zM306.2,81.6h1.7v1.7h-1.7zM340.1,79.9h1.7v1.7h-1.7zM306.9,92.3h1.7v1.7h-1.7zM326.3,87.7h1.7v1.7h-1.7zM315.8,79.1h1.7v1.7h-1.7zM330.7,73.8h1.7v1.7h-1.7zM339.1,69.6h1.7v1.7h-1.7zM329.2,77.8h1.7v1.7h-1.7zM296.3,73.8h1.7v1.7h-1.7zM340.4,68.9h1.7v1.7h-1.7zM296.6,78.9h1.7v1.7h-1.7zM326.4,80.1h1.7v1.7h-1.7zM343.3,73.9h1.7v1.7h-1.7zM331.7,83.7h1.7v1.7h-1.7zM286.1,74.0h1.7v1.7h-1.7zM342.1,76.4h1.7v1.7h-1.7zM306.3,87.5h1.7v1.7h-1.7zM291.8,78.7h1.7v1.7h-1.7zM351.6,67.9h1.7v1.7h-1.7zM309.5,79.5h1.7v1.7h-1.7zM343.0,80.4h1.7v1.7h-1.7zM328.9,77.4h1.7v1.7h-1.7zM290.3,78.1h1.7v1.7h-1.7zM284.6,72.7h1.7v1.7h-1.7zM348.4,68.8h1.7v1.7h-1.7zM351.0,78.6h1.7v1.7h-1.7zM347.6,84.3h1.7v1.7h-1.7zM286.5,76.8h1.7v1.7h-1.7zM348.1,72.4h1.7v1.7h-1.7zM305.0,91.1h1.7v1.7h-1.7zM310.1,85.6h1.7v1.7h-1.7zM295.9,75.6h1.7v1.7h-1.7zM302.4,74.3h1.7v1.7h-1.7zM284.8,74.1h1.7v1.7h-1.7zM287.6,77.4h1.7v1.7h-1.7zM353.5,68.1h1.7v1.7h-1.7zM286.5,75.5h1.7v1.7h-1.7zM288.7,75.3h1.7v1.7h-1.7zM350.4,75.1h1.7v1.7h-1.7zM292.8,72.6h1.7v1.7h-1.7zM334.5,83.6h1.7v1.7h-1.7zM337.7,79.1h1.7v1.7h-1.7zM333.9,68.2h1.7v1.7h-1.7zM296.1,72.0h1.7v1.7h-1.7zM341.2,79.3h1.7v1.7h-1.7zM303.4,90.3h1.7v1.7h-1.7zM345.1,86.5h1.7v1.7h-1.7zM286.7,70.4h1.7v1.7h-1.7zM286.9,86.0h1.7v1.7h-1.7zM289.7,70.8h1.7v1.7h-1.7zM296.2,83.7h1.7v1.7h-1.7zM348.3,80.7h1.7v1.7h-1.7zM302.2,73.4h1.7v1.7h-1.7zM283.4,74.0h1.7v1.7h-1.7zM322.5,75.6h1.7v1.7h-1.7zM319.9,77.7h1.7v1.7h-1.7zM299.0,81.9h1.7v1.7h-1.7zM333.8,75.0h1.7v1.7h-1.7zM312.5,76.1h1.7v1.7h-1.7zM282.7,84.4h1.7v1.7h-1.7zM308.1,88.5h1.7v1.7h-1.7zM310.0,82.6h1.7v1.7h-1.7zM302.1,84.4h1.7v1.7h-1.7zM294.5,80.8h1.7v1.7h-1.7zM316.3,86.4h1.7v1.7h-1.7zM345.7,77.9h1.7v1.7h-1.7zM296.5,74.6h1.7v1.7h-1.7zM346.6,74.9h1.7v1.7h-1.7zM288.5,72.8h1.7v1.7h-1.7zM326.7,79.1h1.7v1.7h-1.7zM291.0,72.6h1.7v1.7h-1.7zM327.5,70.9h1.7v1.7h-1.7zM303.4,71.0h1.7v1.7h-1.7zM332.5,72.0h1.7v1.7h-1.7zM342.4,84.5h1.7v1.7h-1.7zM302.4,72.6h1.7v1.7h-1.7zM341.5,72.7h1.7v1.7h-1.7zM299.4,72.7h1.7v1.7h-1.7zM315.0,75.6h1.7v1.7h-1.7zM288.4,70.6h1.7v1.7h-1.7zM316.7,112.7h1.7v1.7h-1.7zM343.0,112.7h1.7v1.7h-1.7zM324.2,112.7h1.7v1.7h-1.7zM338.3,112.7h1.7v1.7h-1.7zM326.9,112.7h1.7v1.7h-1.7zM327.5,112.7h1.7v1.7h-1.7zM314.6,112.7h1.7v1.7h-1.7zM337.2,112.7h1.7v1.7h-1.7zM296.6,112.7h1.7v1.7h-1.7z" fill="#d2e6c4"/>
<path d="M195.00,89.20 C196.67,89.30 201.67,89.85 205.00,89.80 C208.33,89.75 211.17,88.95 215.00,88.90 C218.83,88.85 223.83,89.52 228.00,89.50 C232.17,89.48 236.00,88.82 240.00,88.80 C244.00,88.78 248.33,89.38 252.00,89.40 C255.67,89.42 258.60,88.97 262.00,88.90 C265.40,88.83 270.67,88.98 272.40,89.00 L272.40,93.00 C270.67,92.98 265.40,92.83 262.00,92.90 C258.60,92.97 255.67,93.42 252.00,93.40 C248.33,93.38 244.00,92.78 240.00,92.80 C236.00,92.82 232.17,93.48 228.00,93.50 C223.83,93.52 218.83,92.85 215.00,92.90 C211.17,92.95 208.33,93.75 205.00,93.80 C201.67,93.85 196.67,93.30 195.00,93.20 Z" fill="#ee92c2" opacity="0.68"/>
<path d="M195.00,91.20 C196.67,91.30 201.67,91.85 205.00,91.80 C208.33,91.75 211.17,90.95 215.00,90.90 C218.83,90.85 223.83,91.52 228.00,91.50 C232.17,91.48 236.00,90.82 240.00,90.80 C244.00,90.78 248.33,91.38 252.00,91.40 C255.67,91.42 258.60,90.97 262.00,90.90 C265.40,90.83 270.67,90.98 272.40,91.00" fill="none" stroke="#e2368f" stroke-width="1.7" stroke-linecap="round"/>
<path d="M284.30,76.90 C284.75,75.92 286.10,71.96 287.00,71.03 C287.90,70.10 288.35,70.01 289.70,71.31 C291.05,72.60 293.00,78.43 295.10,78.80 C297.20,79.17 300.65,73.81 302.30,73.54 C303.95,73.27 304.02,75.36 305.00,77.16 C305.98,78.97 307.00,83.92 308.20,84.38 C309.40,84.83 310.33,81.08 312.20,79.89 C314.07,78.69 316.70,77.49 319.40,77.19 C322.10,76.89 325.70,78.54 328.40,78.09 C331.10,77.63 333.65,74.92 335.60,74.45 C337.55,73.99 338.47,74.73 340.10,75.30 C341.73,75.87 343.77,77.63 345.40,77.87 C347.03,78.10 348.55,78.17 349.90,76.71 C351.25,75.24 352.90,70.37 353.50,69.10 L353.50,76.90 C352.90,78.03 351.25,82.46 349.90,83.69 C348.55,84.93 347.03,84.70 345.40,84.33 C343.77,83.97 341.73,82.13 340.10,81.50 C338.47,80.87 337.55,80.11 335.60,80.55 C333.65,80.98 331.10,83.67 328.40,84.11 C325.70,84.56 322.10,82.91 319.40,83.21 C316.70,83.51 314.07,84.71 312.20,85.91 C310.33,87.12 309.40,90.87 308.20,90.42 C307.00,89.98 305.98,85.03 305.00,83.24 C304.02,81.44 303.95,79.33 302.30,79.66 C300.65,79.99 297.20,85.43 295.10,85.20 C293.00,84.97 291.05,79.40 289.70,78.29 C288.35,77.19 287.90,77.40 287.00,78.57 C286.10,79.74 284.75,84.18 284.30,85.30 Z" fill="#ee92c2" opacity="0.68"/>
<path d="M284.30,81.10 C284.75,80.05 286.10,75.85 287.00,74.80 C287.90,73.75 288.35,73.60 289.70,74.80 C291.05,76.00 293.00,81.70 295.10,82.00 C297.20,82.30 300.65,76.90 302.30,76.60 C303.95,76.30 304.02,78.40 305.00,80.20 C305.98,82.00 307.00,86.95 308.20,87.40 C309.40,87.85 310.33,84.10 312.20,82.90 C314.07,81.70 316.70,80.50 319.40,80.20 C322.10,79.90 325.70,81.55 328.40,81.10 C331.10,80.65 333.65,77.95 335.60,77.50 C337.55,77.05 338.47,77.80 340.10,78.40 C341.73,79.00 343.77,80.80 345.40,81.10 C347.03,81.40 348.55,81.55 349.90,80.20 C351.25,78.85 352.90,74.20 353.50,73.00" fill="none" stroke="#e2368f" stroke-width="1.7" stroke-linecap="round"/>
<rect x="191.50" y="66.50" width="85.00" height="49.00" fill="none" stroke="#262626" stroke-width="1" />
<rect x="280.50" y="66.50" width="77.00" height="49.00" fill="none" stroke="#262626" stroke-width="1" />
<line x1="188.50" y1="113.50" x2="191.50" y2="113.50" stroke="#262626" stroke-width="0.8" />
<text x="186.00" y="117.08" font-size="10" text-anchor="end" fill="#222222" >0</text>
<line x1="188.50" y1="91.10" x2="191.50" y2="91.10" stroke="#262626" stroke-width="0.8" />
<text x="186.00" y="94.68" font-size="10" text-anchor="end" fill="#222222" >1</text>
<line x1="188.50" y1="68.70" x2="191.50" y2="68.70" stroke="#262626" stroke-width="0.8" />
<text x="186.00" y="74.48" font-size="10" text-anchor="end" fill="#222222" >2</text>
<g transform="translate(363.40,91.10) rotate(90)"><text x="0" y="3.40" font-size="9.5" text-anchor="middle" fill="#222222" >Kidney</text></g>
<line x1="280.50" y1="144.10" x2="357.50" y2="144.10" stroke="#9a9a9a" stroke-width="0.8" stroke-dasharray="2,2"/>
<path d="M262.2,139.9h1.7v1.7h-1.7zM208.4,155.9h1.7v1.7h-1.7zM227.4,141.3h1.7v1.7h-1.7zM239.0,147.8h1.7v1.7h-1.7zM213.7,129.7h1.7v1.7h-1.7zM267.7,145.6h1.7v1.7h-1.7zM195.2,124.0h1.7v1.7h-1.7zM216.8,139.1h1.7v1.7h-1.7zM240.4,138.7h1.7v1.7h-1.7zM226.6,130.5h1.7v1.7h-1.7zM234.9,152.1h1.7v1.7h-1.7zM271.2,138.3h1.7v1.7h-1.7zM215.3,137.3h1.7v1.7h-1.7zM214.3,149.3h1.7v1.7h-1.7zM217.0,145.2h1.7v1.7h-1.7zM212.3,131.6h1.7v1.7h-1.7zM226.9,146.3h1.7v1.7h-1.7zM227.2,147.3h1.7v1.7h-1.7zM251.1,137.9h1.7v1.7h-1.7zM249.3,143.3h1.7v1.7h-1.7zM217.3,137.8h1.7v1.7h-1.7zM271.9,140.0h1.7v1.7h-1.7zM214.1,157.2h1.7v1.7h-1.7zM258.4,149.3h1.7v1.7h-1.7zM232.1,136.2h1.7v1.7h-1.7zM264.9,122.2h1.7v1.7h-1.7zM213.1,149.1h1.7v1.7h-1.7zM222.4,143.9h1.7v1.7h-1.7zM216.6,138.6h1.7v1.7h-1.7zM257.0,142.3h1.7v1.7h-1.7zM263.0,120.3h1.7v1.7h-1.7zM208.8,134.2h1.7v1.7h-1.7zM240.3,135.7h1.7v1.7h-1.7zM196.3,165.2h1.7v1.7h-1.7zM254.5,140.8h1.7v1.7h-1.7zM213.7,137.7h1.7v1.7h-1.7zM200.9,136.6h1.7v1.7h-1.7zM272.3,153.1h1.7v1.7h-1.7zM250.7,146.2h1.7v1.7h-1.7zM211.9,139.8h1.7v1.7h-1.7zM258.8,139.2h1.7v1.7h-1.7zM196.9,149.7h1.7v1.7h-1.7zM222.6,139.4h1.7v1.7h-1.7zM207.5,138.9h1.7v1.7h-1.7zM236.8,135.2h1.7v1.7h-1.7zM254.2,146.5h1.7v1.7h-1.7zM267.0,142.2h1.7v1.7h-1.7zM221.3,148.9h1.7v1.7h-1.7zM197.6,156.7h1.7v1.7h-1.7zM227.2,141.2h1.7v1.7h-1.7zM247.9,146.8h1.7v1.7h-1.7zM230.7,141.6h1.7v1.7h-1.7zM214.5,138.7h1.7v1.7h-1.7zM243.2,137.4h1.7v1.7h-1.7zM237.3,139.0h1.7v1.7h-1.7zM239.9,139.8h1.7v1.7h-1.7zM268.9,151.0h1.7v1.7h-1.7zM261.6,145.5h1.7v1.7h-1.7zM201.8,140.0h1.7v1.7h-1.7zM252.4,146.2h1.7v1.7h-1.7zM222.4,137.7h1.7v1.7h-1.7zM243.4,144.2h1.7v1.7h-1.7zM226.6,147.4h1.7v1.7h-1.7zM270.3,141.0h1.7v1.7h-1.7zM257.2,144.2h1.7v1.7h-1.7zM247.8,149.1h1.7v1.7h-1.7zM213.6,148.0h1.7v1.7h-1.7zM203.2,133.5h1.7v1.7h-1.7zM203.6,133.8h1.7v1.7h-1.7zM238.9,139.2h1.7v1.7h-1.7zM224.2,139.7h1.7v1.7h-1.7zM271.4,137.0h1.7v1.7h-1.7zM226.5,145.9h1.7v1.7h-1.7zM209.7,143.1h1.7v1.7h-1.7zM269.6,154.1h1.7v1.7h-1.7zM234.5,144.7h1.7v1.7h-1.7zM256.5,155.0h1.7v1.7h-1.7zM213.6,136.5h1.7v1.7h-1.7zM237.2,138.9h1.7v1.7h-1.7zM253.5,147.1h1.7v1.7h-1.7zM271.4,145.0h1.7v1.7h-1.7zM197.9,136.2h1.7v1.7h-1.7zM238.3,136.5h1.7v1.7h-1.7zM256.2,142.4h1.7v1.7h-1.7zM216.5,141.8h1.7v1.7h-1.7zM223.1,138.6h1.7v1.7h-1.7zM212.6,139.9h1.7v1.7h-1.7zM207.4,138.6h1.7v1.7h-1.7zM218.7,138.8h1.7v1.7h-1.7zM249.9,145.1h1.7v1.7h-1.7zM210.7,144.3h1.7v1.7h-1.7zM260.1,134.5h1.7v1.7h-1.7zM209.1,165.7h1.7v1.7h-1.7zM227.5,144.0h1.7v1.7h-1.7zM267.7,142.3h1.7v1.7h-1.7zM255.9,156.7h1.7v1.7h-1.7zM265.8,143.3h1.7v1.7h-1.7zM197.7,132.7h1.7v1.7h-1.7zM218.6,129.2h1.7v1.7h-1.7zM211.8,131.9h1.7v1.7h-1.7zM258.6,135.1h1.7v1.7h-1.7zM197.4,127.5h1.7v1.7h-1.7zM215.5,138.1h1.7v1.7h-1.7zM259.6,137.2h1.7v1.7h-1.7zM223.0,147.3h1.7v1.7h-1.7zM217.2,143.0h1.7v1.7h-1.7zM219.3,136.9h1.7v1.7h-1.7zM223.2,146.3h1.7v1.7h-1.7zM246.9,142.7h1.7v1.7h-1.7zM221.4,132.5h1.7v1.7h-1.7zM222.9,141.6h1.7v1.7h-1.7zM257.1,152.6h1.7v1.7h-1.7zM231.7,143.5h1.7v1.7h-1.7zM262.5,136.9h1.7v1.7h-1.7zM218.3,141.4h1.7v1.7h-1.7zM207.3,134.7h1.7v1.7h-1.7zM257.7,142.7h1.7v1.7h-1.7zM221.1,142.4h1.7v1.7h-1.7zM219.3,138.0h1.7v1.7h-1.7zM204.4,148.3h1.7v1.7h-1.7zM262.9,157.5h1.7v1.7h-1.7zM268.3,149.5h1.7v1.7h-1.7zM237.5,146.1h1.7v1.7h-1.7zM197.0,146.5h1.7v1.7h-1.7zM205.2,139.9h1.7v1.7h-1.7zM269.9,143.5h1.7v1.7h-1.7zM227.8,149.3h1.7v1.7h-1.7zM234.5,143.9h1.7v1.7h-1.7zM234.9,146.2h1.7v1.7h-1.7zM246.0,136.1h1.7v1.7h-1.7zM232.4,150.2h1.7v1.7h-1.7zM249.2,152.2h1.7v1.7h-1.7zM216.0,142.9h1.7v1.7h-1.7zM255.0,144.5h1.7v1.7h-1.7zM220.1,138.1h1.7v1.7h-1.7zM196.4,142.5h1.7v1.7h-1.7zM236.1,132.0h1.7v1.7h-1.7zM238.0,132.1h1.7v1.7h-1.7zM272.3,147.9h1.7v1.7h-1.7zM195.4,141.1h1.7v1.7h-1.7zM220.8,138.8h1.7v1.7h-1.7zM252.4,140.6h1.7v1.7h-1.7zM213.0,165.7h1.7v1.7h-1.7zM206.2,144.7h1.7v1.7h-1.7zM222.3,150.0h1.7v1.7h-1.7zM268.6,142.4h1.7v1.7h-1.7zM236.8,138.4h1.7v1.7h-1.7zM271.6,145.8h1.7v1.7h-1.7zM272.6,150.4h1.7v1.7h-1.7zM237.2,134.6h1.7v1.7h-1.7zM255.3,143.3h1.7v1.7h-1.7zM233.4,141.6h1.7v1.7h-1.7zM238.7,144.4h1.7v1.7h-1.7zM268.1,146.6h1.7v1.7h-1.7zM262.2,141.2h1.7v1.7h-1.7zM254.0,137.7h1.7v1.7h-1.7zM209.5,139.9h1.7v1.7h-1.7zM205.5,145.5h1.7v1.7h-1.7zM249.9,135.6h1.7v1.7h-1.7zM203.3,142.5h1.7v1.7h-1.7zM212.8,141.4h1.7v1.7h-1.7zM226.3,141.3h1.7v1.7h-1.7zM217.0,142.1h1.7v1.7h-1.7zM226.7,144.6h1.7v1.7h-1.7zM252.8,141.7h1.7v1.7h-1.7zM256.6,151.7h1.7v1.7h-1.7zM243.3,138.8h1.7v1.7h-1.7zM237.3,150.3h1.7v1.7h-1.7zM203.6,133.2h1.7v1.7h-1.7zM198.6,150.3h1.7v1.7h-1.7zM195.6,141.1h1.7v1.7h-1.7zM219.3,135.5h1.7v1.7h-1.7zM236.5,133.4h1.7v1.7h-1.7zM216.0,133.3h1.7v1.7h-1.7zM252.7,142.4h1.7v1.7h-1.7zM221.7,141.1h1.7v1.7h-1.7zM243.8,147.2h1.7v1.7h-1.7zM258.3,139.9h1.7v1.7h-1.7zM241.9,138.6h1.7v1.7h-1.7zM206.2,138.7h1.7v1.7h-1.7zM258.5,143.0h1.7v1.7h-1.7zM218.8,140.9h1.7v1.7h-1.7zM269.5,150.1h1.7v1.7h-1.7zM243.5,138.7h1.7v1.7h-1.7zM270.3,137.5h1.7v1.7h-1.7zM252.1,139.9h1.7v1.7h-1.7zM229.4,139.4h1.7v1.7h-1.7zM214.9,139.9h1.7v1.7h-1.7zM253.3,133.5h1.7v1.7h-1.7zM225.0,122.7h1.7v1.7h-1.7zM219.1,132.8h1.7v1.7h-1.7zM243.8,136.0h1.7v1.7h-1.7zM195.8,130.7h1.7v1.7h-1.7zM233.4,134.6h1.7v1.7h-1.7zM241.9,144.4h1.7v1.7h-1.7zM257.4,141.5h1.7v1.7h-1.7zM221.3,133.5h1.7v1.7h-1.7zM221.4,135.2h1.7v1.7h-1.7zM194.5,138.1h1.7v1.7h-1.7zM241.2,141.1h1.7v1.7h-1.7zM222.8,141.5h1.7v1.7h-1.7zM234.7,142.8h1.7v1.7h-1.7zM218.0,138.9h1.7v1.7h-1.7zM251.9,145.4h1.7v1.7h-1.7zM212.3,142.7h1.7v1.7h-1.7zM251.6,153.2h1.7v1.7h-1.7zM236.7,143.7h1.7v1.7h-1.7zM258.9,141.1h1.7v1.7h-1.7zM213.2,139.7h1.7v1.7h-1.7zM210.1,138.2h1.7v1.7h-1.7zM194.2,137.5h1.7v1.7h-1.7zM205.3,141.1h1.7v1.7h-1.7zM262.9,146.7h1.7v1.7h-1.7zM270.9,156.6h1.7v1.7h-1.7zM203.3,142.8h1.7v1.7h-1.7zM215.4,145.5h1.7v1.7h-1.7zM231.1,144.4h1.7v1.7h-1.7zM236.0,140.2h1.7v1.7h-1.7zM253.7,150.6h1.7v1.7h-1.7zM231.9,148.4h1.7v1.7h-1.7zM195.6,140.3h1.7v1.7h-1.7zM240.0,136.7h1.7v1.7h-1.7zM203.6,140.8h1.7v1.7h-1.7zM218.9,131.4h1.7v1.7h-1.7zM219.3,146.1h1.7v1.7h-1.7zM238.2,150.2h1.7v1.7h-1.7zM251.2,141.1h1.7v1.7h-1.7zM259.0,142.0h1.7v1.7h-1.7zM234.5,143.6h1.7v1.7h-1.7zM214.8,134.0h1.7v1.7h-1.7zM236.6,147.8h1.7v1.7h-1.7zM270.3,140.6h1.7v1.7h-1.7zM258.1,145.4h1.7v1.7h-1.7zM198.5,155.4h1.7v1.7h-1.7zM262.9,160.0h1.7v1.7h-1.7zM264.6,138.3h1.7v1.7h-1.7zM250.3,141.0h1.7v1.7h-1.7zM202.4,131.1h1.7v1.7h-1.7zM243.9,141.3h1.7v1.7h-1.7zM243.7,155.7h1.7v1.7h-1.7zM216.1,147.1h1.7v1.7h-1.7zM245.2,140.6h1.7v1.7h-1.7zM194.8,132.9h1.7v1.7h-1.7zM232.3,150.6h1.7v1.7h-1.7zM245.6,146.1h1.7v1.7h-1.7zM203.1,140.6h1.7v1.7h-1.7zM258.1,136.6h1.7v1.7h-1.7zM257.1,154.4h1.7v1.7h-1.7zM265.0,159.1h1.7v1.7h-1.7zM271.2,165.7h1.7v1.7h-1.7zM216.8,145.0h1.7v1.7h-1.7zM199.4,136.8h1.7v1.7h-1.7zM201.4,144.0h1.7v1.7h-1.7zM200.5,133.5h1.7v1.7h-1.7zM214.7,149.0h1.7v1.7h-1.7zM227.2,137.9h1.7v1.7h-1.7zM221.5,128.2h1.7v1.7h-1.7zM266.9,141.0h1.7v1.7h-1.7zM255.4,139.6h1.7v1.7h-1.7zM202.3,148.9h1.7v1.7h-1.7zM196.9,146.6h1.7v1.7h-1.7zM236.8,137.4h1.7v1.7h-1.7zM256.4,146.5h1.7v1.7h-1.7zM202.2,145.1h1.7v1.7h-1.7zM254.7,147.5h1.7v1.7h-1.7zM222.3,127.1h1.7v1.7h-1.7zM252.4,132.5h1.7v1.7h-1.7zM197.2,133.8h1.7v1.7h-1.7zM213.2,144.3h1.7v1.7h-1.7zM253.0,145.7h1.7v1.7h-1.7zM202.2,140.8h1.7v1.7h-1.7zM270.6,153.3h1.7v1.7h-1.7zM200.5,138.8h1.7v1.7h-1.7zM200.9,144.5h1.7v1.7h-1.7zM227.8,139.8h1.7v1.7h-1.7zM265.1,137.0h1.7v1.7h-1.7zM221.7,139.5h1.7v1.7h-1.7zM204.4,141.4h1.7v1.7h-1.7zM202.3,130.3h1.7v1.7h-1.7zM239.8,136.2h1.7v1.7h-1.7zM200.5,142.8h1.7v1.7h-1.7zM260.0,135.3h1.7v1.7h-1.7zM257.9,149.1h1.7v1.7h-1.7zM258.3,146.3h1.7v1.7h-1.7zM219.3,141.1h1.7v1.7h-1.7zM224.1,146.8h1.7v1.7h-1.7zM254.0,121.0h1.7v1.7h-1.7zM252.5,137.4h1.7v1.7h-1.7zM224.9,148.2h1.7v1.7h-1.7zM253.0,137.5h1.7v1.7h-1.7zM268.9,147.7h1.7v1.7h-1.7zM258.5,142.6h1.7v1.7h-1.7zM258.8,142.1h1.7v1.7h-1.7zM243.9,138.7h1.7v1.7h-1.7zM223.9,131.6h1.7v1.7h-1.7zM247.9,130.6h1.7v1.7h-1.7zM206.9,132.0h1.7v1.7h-1.7zM266.2,147.5h1.7v1.7h-1.7zM246.6,143.3h1.7v1.7h-1.7zM211.5,144.9h1.7v1.7h-1.7zM200.6,137.8h1.7v1.7h-1.7zM206.7,140.5h1.7v1.7h-1.7zM269.0,148.3h1.7v1.7h-1.7zM256.8,136.3h1.7v1.7h-1.7zM264.4,140.9h1.7v1.7h-1.7zM222.4,139.9h1.7v1.7h-1.7zM214.7,160.7h1.7v1.7h-1.7zM209.5,151.3h1.7v1.7h-1.7zM220.9,150.1h1.7v1.7h-1.7zM194.6,154.5h1.7v1.7h-1.7zM239.4,138.3h1.7v1.7h-1.7zM225.6,143.9h1.7v1.7h-1.7zM226.2,143.0h1.7v1.7h-1.7zM233.9,140.1h1.7v1.7h-1.7zM216.6,141.4h1.7v1.7h-1.7zM251.1,143.6h1.7v1.7h-1.7zM220.0,131.0h1.7v1.7h-1.7zM229.7,145.9h1.7v1.7h-1.7zM258.6,138.4h1.7v1.7h-1.7zM254.0,135.0h1.7v1.7h-1.7zM256.5,136.8h1.7v1.7h-1.7zM239.3,142.8h1.7v1.7h-1.7zM203.9,134.9h1.7v1.7h-1.7zM200.6,155.4h1.7v1.7h-1.7zM262.1,144.2h1.7v1.7h-1.7zM271.2,142.9h1.7v1.7h-1.7zM244.1,136.8h1.7v1.7h-1.7zM214.5,137.4h1.7v1.7h-1.7zM210.0,145.8h1.7v1.7h-1.7zM212.6,141.9h1.7v1.7h-1.7zM265.7,146.2h1.7v1.7h-1.7zM222.6,142.4h1.7v1.7h-1.7zM249.9,146.4h1.7v1.7h-1.7zM267.5,149.3h1.7v1.7h-1.7zM265.7,139.2h1.7v1.7h-1.7zM264.3,144.0h1.7v1.7h-1.7zM220.7,138.6h1.7v1.7h-1.7zM216.7,149.4h1.7v1.7h-1.7zM250.5,128.1h1.7v1.7h-1.7zM200.0,141.8h1.7v1.7h-1.7zM219.2,151.7h1.7v1.7h-1.7zM218.6,128.2h1.7v1.7h-1.7zM259.1,137.2h1.7v1.7h-1.7zM272.5,143.7h1.7v1.7h-1.7zM249.5,131.1h1.7v1.7h-1.7zM245.1,142.0h1.7v1.7h-1.7zM212.1,142.9h1.7v1.7h-1.7zM225.8,145.4h1.7v1.7h-1.7zM236.3,141.3h1.7v1.7h-1.7zM209.2,142.3h1.7v1.7h-1.7zM254.9,135.5h1.7v1.7h-1.7zM234.8,142.5h1.7v1.7h-1.7zM263.1,143.2h1.7v1.7h-1.7zM270.6,144.9h1.7v1.7h-1.7zM208.5,143.2h1.7v1.7h-1.7zM241.8,142.7h1.7v1.7h-1.7zM250.0,145.6h1.7v1.7h-1.7zM209.1,141.4h1.7v1.7h-1.7zM228.8,142.7h1.7v1.7h-1.7zM248.1,141.1h1.7v1.7h-1.7zM203.3,146.8h1.7v1.7h-1.7zM201.4,147.7h1.7v1.7h-1.7zM230.1,140.3h1.7v1.7h-1.7zM228.1,147.7h1.7v1.7h-1.7zM257.9,139.2h1.7v1.7h-1.7zM203.2,140.4h1.7v1.7h-1.7zM212.5,137.3h1.7v1.7h-1.7zM233.0,139.7h1.7v1.7h-1.7zM256.3,144.7h1.7v1.7h-1.7zM233.1,144.6h1.7v1.7h-1.7zM246.2,146.5h1.7v1.7h-1.7zM215.3,138.0h1.7v1.7h-1.7zM233.8,131.9h1.7v1.7h-1.7zM224.3,144.9h1.7v1.7h-1.7zM266.4,142.0h1.7v1.7h-1.7zM241.2,142.0h1.7v1.7h-1.7zM235.8,149.3h1.7v1.7h-1.7zM268.7,161.3h1.7v1.7h-1.7zM205.3,120.4h1.7v1.7h-1.7zM222.7,138.9h1.7v1.7h-1.7zM268.4,141.2h1.7v1.7h-1.7zM270.3,150.1h1.7v1.7h-1.7zM220.9,133.3h1.7v1.7h-1.7zM259.2,138.8h1.7v1.7h-1.7zM270.0,161.4h1.7v1.7h-1.7zM200.6,139.8h1.7v1.7h-1.7zM212.4,128.5h1.7v1.7h-1.7zM272.7,132.2h1.7v1.7h-1.7zM258.2,141.9h1.7v1.7h-1.7zM201.2,142.2h1.7v1.7h-1.7zM262.3,141.0h1.7v1.7h-1.7zM214.6,140.9h1.7v1.7h-1.7zM216.3,136.2h1.7v1.7h-1.7zM247.1,142.8h1.7v1.7h-1.7zM214.1,143.7h1.7v1.7h-1.7zM228.6,138.6h1.7v1.7h-1.7zM204.0,141.5h1.7v1.7h-1.7zM213.5,139.4h1.7v1.7h-1.7zM220.3,144.8h1.7v1.7h-1.7zM264.1,148.2h1.7v1.7h-1.7zM209.4,143.4h1.7v1.7h-1.7zM195.5,151.2h1.7v1.7h-1.7zM269.0,138.2h1.7v1.7h-1.7zM211.7,140.1h1.7v1.7h-1.7zM224.0,142.6h1.7v1.7h-1.7zM224.5,138.9h1.7v1.7h-1.7zM243.2,145.8h1.7v1.7h-1.7zM266.2,142.2h1.7v1.7h-1.7zM235.7,129.3h1.7v1.7h-1.7zM261.0,136.7h1.7v1.7h-1.7zM215.5,142.4h1.7v1.7h-1.7zM237.3,165.7h1.7v1.7h-1.7zM239.2,139.7h1.7v1.7h-1.7zM209.8,133.6h1.7v1.7h-1.7zM270.1,144.1h1.7v1.7h-1.7zM200.4,136.2h1.7v1.7h-1.7zM229.6,136.5h1.7v1.7h-1.7zM234.8,165.6h1.7v1.7h-1.7zM271.5,154.0h1.7v1.7h-1.7zM255.8,139.6h1.7v1.7h-1.7zM220.3,140.5h1.7v1.7h-1.7zM213.6,140.5h1.7v1.7h-1.7zM236.1,144.7h1.7v1.7h-1.7zM232.8,146.6h1.7v1.7h-1.7zM265.8,162.6h1.7v1.7h-1.7zM203.6,131.1h1.7v1.7h-1.7zM265.1,141.8h1.7v1.7h-1.7zM234.4,145.6h1.7v1.7h-1.7zM218.2,141.2h1.7v1.7h-1.7zM205.6,126.5h1.7v1.7h-1.7zM210.4,141.1h1.7v1.7h-1.7zM219.3,149.6h1.7v1.7h-1.7zM264.2,123.1h1.7v1.7h-1.7zM247.7,158.0h1.7v1.7h-1.7zM236.9,139.0h1.7v1.7h-1.7zM227.0,149.2h1.7v1.7h-1.7zM206.8,144.1h1.7v1.7h-1.7zM209.4,142.3h1.7v1.7h-1.7zM201.5,141.9h1.7v1.7h-1.7zM232.1,142.3h1.7v1.7h-1.7zM233.9,135.8h1.7v1.7h-1.7zM205.7,142.7h1.7v1.7h-1.7zM202.5,147.8h1.7v1.7h-1.7zM213.0,128.1h1.7v1.7h-1.7zM237.8,134.3h1.7v1.7h-1.7zM251.4,120.2h1.7v1.7h-1.7zM237.5,125.6h1.7v1.7h-1.7zM221.2,133.5h1.7v1.7h-1.7zM223.9,145.9h1.7v1.7h-1.7zM256.7,139.4h1.7v1.7h-1.7zM234.9,141.9h1.7v1.7h-1.7zM248.7,141.2h1.7v1.7h-1.7zM208.4,129.3h1.7v1.7h-1.7zM217.2,144.5h1.7v1.7h-1.7zM215.6,153.1h1.7v1.7h-1.7zM210.4,130.0h1.7v1.7h-1.7zM271.7,136.5h1.7v1.7h-1.7zM219.6,142.1h1.7v1.7h-1.7zM260.6,130.9h1.7v1.7h-1.7zM201.9,138.2h1.7v1.7h-1.7zM200.3,144.7h1.7v1.7h-1.7zM263.1,142.8h1.7v1.7h-1.7zM265.8,151.5h1.7v1.7h-1.7zM251.5,139.0h1.7v1.7h-1.7zM243.6,143.8h1.7v1.7h-1.7zM208.2,142.3h1.7v1.7h-1.7zM243.4,149.4h1.7v1.7h-1.7zM211.2,138.0h1.7v1.7h-1.7zM240.3,138.4h1.7v1.7h-1.7zM253.8,136.3h1.7v1.7h-1.7zM205.2,143.3h1.7v1.7h-1.7zM243.8,144.4h1.7v1.7h-1.7zM251.8,157.2h1.7v1.7h-1.7zM219.5,139.8h1.7v1.7h-1.7zM218.0,144.6h1.7v1.7h-1.7zM237.6,141.3h1.7v1.7h-1.7zM247.5,151.8h1.7v1.7h-1.7zM272.3,143.5h1.7v1.7h-1.7zM246.9,142.1h1.7v1.7h-1.7zM213.5,146.1h1.7v1.7h-1.7zM254.6,140.1h1.7v1.7h-1.7zM193.9,139.3h1.7v1.7h-1.7zM205.4,132.5h1.7v1.7h-1.7zM240.7,141.2h1.7v1.7h-1.7zM261.2,147.6h1.7v1.7h-1.7zM202.1,143.8h1.7v1.7h-1.7zM219.7,160.0h1.7v1.7h-1.7zM202.9,140.2h1.7v1.7h-1.7zM210.5,144.9h1.7v1.7h-1.7zM215.0,145.7h1.7v1.7h-1.7zM259.0,139.1h1.7v1.7h-1.7zM251.0,136.3h1.7v1.7h-1.7zM236.0,139.2h1.7v1.7h-1.7zM248.2,144.5h1.7v1.7h-1.7zM255.2,143.7h1.7v1.7h-1.7zM246.0,134.2h1.7v1.7h-1.7zM217.3,165.7h1.7v1.7h-1.7zM205.9,146.0h1.7v1.7h-1.7zM270.7,142.2h1.7v1.7h-1.7zM205.5,131.0h1.7v1.7h-1.7zM271.8,140.4h1.7v1.7h-1.7zM218.5,142.6h1.7v1.7h-1.7zM195.5,150.7h1.7v1.7h-1.7zM222.7,143.3h1.7v1.7h-1.7zM208.3,125.9h1.7v1.7h-1.7zM250.7,138.5h1.7v1.7h-1.7zM261.8,141.8h1.7v1.7h-1.7zM234.4,138.3h1.7v1.7h-1.7zM218.6,137.7h1.7v1.7h-1.7zM256.3,140.4h1.7v1.7h-1.7zM215.7,147.0h1.7v1.7h-1.7zM226.5,130.9h1.7v1.7h-1.7zM265.2,148.8h1.7v1.7h-1.7zM264.0,125.6h1.7v1.7h-1.7zM272.6,138.9h1.7v1.7h-1.7zM251.3,137.7h1.7v1.7h-1.7zM215.9,144.9h1.7v1.7h-1.7zM271.4,145.4h1.7v1.7h-1.7zM226.6,152.4h1.7v1.7h-1.7zM249.3,136.2h1.7v1.7h-1.7zM250.9,131.8h1.7v1.7h-1.7zM214.3,161.2h1.7v1.7h-1.7zM221.5,146.4h1.7v1.7h-1.7zM224.0,130.7h1.7v1.7h-1.7zM251.0,137.7h1.7v1.7h-1.7zM270.0,143.5h1.7v1.7h-1.7zM231.6,149.8h1.7v1.7h-1.7zM194.8,159.7h1.7v1.7h-1.7zM234.8,137.0h1.7v1.7h-1.7zM197.0,145.8h1.7v1.7h-1.7zM245.6,141.7h1.7v1.7h-1.7zM264.9,140.6h1.7v1.7h-1.7zM238.9,135.9h1.7v1.7h-1.7zM239.4,128.2h1.7v1.7h-1.7zM260.1,133.1h1.7v1.7h-1.7zM239.4,137.7h1.7v1.7h-1.7zM207.7,142.0h1.7v1.7h-1.7zM267.2,136.9h1.7v1.7h-1.7zM210.4,165.7h1.7v1.7h-1.7zM253.7,134.5h1.7v1.7h-1.7zM203.3,145.2h1.7v1.7h-1.7zM239.5,134.8h1.7v1.7h-1.7zM208.3,129.4h1.7v1.7h-1.7zM232.7,153.3h1.7v1.7h-1.7zM231.8,145.7h1.7v1.7h-1.7zM252.1,132.9h1.7v1.7h-1.7zM209.0,145.1h1.7v1.7h-1.7zM257.5,132.7h1.7v1.7h-1.7zM220.1,145.0h1.7v1.7h-1.7zM259.5,144.5h1.7v1.7h-1.7zM254.6,140.6h1.7v1.7h-1.7zM198.0,139.9h1.7v1.7h-1.7zM268.5,141.6h1.7v1.7h-1.7zM259.2,140.4h1.7v1.7h-1.7zM224.1,138.2h1.7v1.7h-1.7zM226.4,144.4h1.7v1.7h-1.7zM261.3,136.2h1.7v1.7h-1.7zM207.6,131.9h1.7v1.7h-1.7zM197.2,144.1h1.7v1.7h-1.7zM254.5,148.8h1.7v1.7h-1.7zM270.1,148.0h1.7v1.7h-1.7zM211.7,141.1h1.7v1.7h-1.7zM202.8,135.0h1.7v1.7h-1.7zM258.0,135.5h1.7v1.7h-1.7zM200.3,149.1h1.7v1.7h-1.7zM201.7,149.3h1.7v1.7h-1.7zM215.7,133.6h1.7v1.7h-1.7zM257.5,141.1h1.7v1.7h-1.7zM242.2,146.9h1.7v1.7h-1.7zM261.4,143.5h1.7v1.7h-1.7zM239.2,140.0h1.7v1.7h-1.7zM212.3,137.2h1.7v1.7h-1.7zM242.6,132.7h1.7v1.7h-1.7zM231.4,147.1h1.7v1.7h-1.7zM203.4,144.5h1.7v1.7h-1.7zM263.7,146.2h1.7v1.7h-1.7zM261.2,147.5h1.7v1.7h-1.7zM245.0,141.6h1.7v1.7h-1.7zM238.1,138.2h1.7v1.7h-1.7zM224.0,144.1h1.7v1.7h-1.7zM230.7,132.1h1.7v1.7h-1.7zM204.8,131.9h1.7v1.7h-1.7zM264.0,141.3h1.7v1.7h-1.7zM256.7,136.8h1.7v1.7h-1.7zM215.0,137.6h1.7v1.7h-1.7zM248.3,144.3h1.7v1.7h-1.7zM198.3,146.3h1.7v1.7h-1.7zM228.9,137.1h1.7v1.7h-1.7zM251.6,123.9h1.7v1.7h-1.7zM262.2,134.4h1.7v1.7h-1.7zM258.2,132.2h1.7v1.7h-1.7zM225.1,141.3h1.7v1.7h-1.7zM262.8,142.3h1.7v1.7h-1.7zM222.7,146.2h1.7v1.7h-1.7zM225.4,151.7h1.7v1.7h-1.7zM197.5,133.9h1.7v1.7h-1.7zM207.3,144.4h1.7v1.7h-1.7zM235.4,140.7h1.7v1.7h-1.7zM236.4,141.8h1.7v1.7h-1.7zM260.7,140.0h1.7v1.7h-1.7zM254.4,145.7h1.7v1.7h-1.7zM208.3,156.3h1.7v1.7h-1.7zM271.6,150.1h1.7v1.7h-1.7zM198.7,152.7h1.7v1.7h-1.7zM229.8,137.1h1.7v1.7h-1.7zM237.3,140.3h1.7v1.7h-1.7zM236.4,158.7h1.7v1.7h-1.7zM202.8,151.6h1.7v1.7h-1.7zM209.0,146.3h1.7v1.7h-1.7zM198.7,140.2h1.7v1.7h-1.7zM199.5,152.8h1.7v1.7h-1.7zM242.6,136.6h1.7v1.7h-1.7zM221.3,150.8h1.7v1.7h-1.7zM214.3,140.3h1.7v1.7h-1.7zM196.6,141.1h1.7v1.7h-1.7zM271.1,147.7h1.7v1.7h-1.7zM259.3,137.5h1.7v1.7h-1.7zM211.8,150.1h1.7v1.7h-1.7zM198.2,143.8h1.7v1.7h-1.7zM195.9,134.0h1.7v1.7h-1.7zM209.6,140.9h1.7v1.7h-1.7zM226.8,148.7h1.7v1.7h-1.7zM255.7,147.1h1.7v1.7h-1.7zM238.7,150.5h1.7v1.7h-1.7zM253.9,135.0h1.7v1.7h-1.7zM200.7,139.6h1.7v1.7h-1.7zM223.4,129.7h1.7v1.7h-1.7zM236.1,128.9h1.7v1.7h-1.7zM271.9,165.7h1.7v1.7h-1.7zM257.1,138.0h1.7v1.7h-1.7zM269.3,142.1h1.7v1.7h-1.7zM245.6,141.0h1.7v1.7h-1.7zM237.3,133.0h1.7v1.7h-1.7zM249.7,151.9h1.7v1.7h-1.7zM247.3,144.7h1.7v1.7h-1.7zM206.0,134.6h1.7v1.7h-1.7zM237.9,138.9h1.7v1.7h-1.7zM228.3,144.7h1.7v1.7h-1.7zM205.7,141.9h1.7v1.7h-1.7zM235.9,145.3h1.7v1.7h-1.7zM269.2,149.2h1.7v1.7h-1.7zM210.6,139.3h1.7v1.7h-1.7zM239.2,122.5h1.7v1.7h-1.7zM249.4,139.4h1.7v1.7h-1.7zM231.9,146.3h1.7v1.7h-1.7zM249.4,140.6h1.7v1.7h-1.7zM246.1,146.1h1.7v1.7h-1.7zM247.2,122.4h1.7v1.7h-1.7zM216.0,141.3h1.7v1.7h-1.7zM257.7,141.8h1.7v1.7h-1.7zM220.0,133.5h1.7v1.7h-1.7zM264.2,150.1h1.7v1.7h-1.7zM194.5,149.9h1.7v1.7h-1.7zM250.2,129.1h1.7v1.7h-1.7zM260.4,137.8h1.7v1.7h-1.7zM271.2,142.4h1.7v1.7h-1.7zM222.2,145.0h1.7v1.7h-1.7zM261.1,132.7h1.7v1.7h-1.7zM251.8,142.8h1.7v1.7h-1.7zM253.1,165.7h1.7v1.7h-1.7zM267.5,146.1h1.7v1.7h-1.7zM242.6,130.7h1.7v1.7h-1.7zM240.5,136.2h1.7v1.7h-1.7zM260.4,142.5h1.7v1.7h-1.7zM253.3,143.4h1.7v1.7h-1.7zM198.2,144.7h1.7v1.7h-1.7zM272.4,143.5h1.7v1.7h-1.7zM268.6,133.5h1.7v1.7h-1.7zM205.7,136.6h1.7v1.7h-1.7zM267.0,137.8h1.7v1.7h-1.7zM228.8,143.5h1.7v1.7h-1.7zM216.8,146.0h1.7v1.7h-1.7zM270.4,137.6h1.7v1.7h-1.7zM250.5,149.1h1.7v1.7h-1.7zM243.9,165.7h1.7v1.7h-1.7zM227.7,144.9h1.7v1.7h-1.7zM264.6,146.8h1.7v1.7h-1.7zM245.5,140.6h1.7v1.7h-1.7zM231.4,138.6h1.7v1.7h-1.7zM241.0,141.3h1.7v1.7h-1.7zM199.9,144.9h1.7v1.7h-1.7zM222.9,151.2h1.7v1.7h-1.7zM254.8,138.9h1.7v1.7h-1.7zM197.7,133.5h1.7v1.7h-1.7zM245.9,138.1h1.7v1.7h-1.7zM208.2,141.1h1.7v1.7h-1.7zM247.4,134.9h1.7v1.7h-1.7zM270.5,148.9h1.7v1.7h-1.7zM226.9,140.4h1.7v1.7h-1.7zM263.0,142.2h1.7v1.7h-1.7zM266.6,140.3h1.7v1.7h-1.7zM205.8,154.0h1.7v1.7h-1.7zM206.6,133.7h1.7v1.7h-1.7zM199.0,155.2h1.7v1.7h-1.7zM263.2,144.2h1.7v1.7h-1.7zM210.8,146.5h1.7v1.7h-1.7zM235.3,145.2h1.7v1.7h-1.7zM215.3,136.5h1.7v1.7h-1.7zM269.5,135.6h1.7v1.7h-1.7zM196.4,132.6h1.7v1.7h-1.7zM260.7,139.7h1.7v1.7h-1.7zM231.2,144.9h1.7v1.7h-1.7zM254.7,142.1h1.7v1.7h-1.7zM234.7,137.6h1.7v1.7h-1.7zM215.0,143.5h1.7v1.7h-1.7zM257.4,133.2h1.7v1.7h-1.7zM212.3,152.9h1.7v1.7h-1.7zM199.5,155.8h1.7v1.7h-1.7zM216.3,146.4h1.7v1.7h-1.7zM222.8,144.6h1.7v1.7h-1.7zM198.4,150.5h1.7v1.7h-1.7zM224.5,135.3h1.7v1.7h-1.7zM194.4,132.2h1.7v1.7h-1.7zM269.5,143.0h1.7v1.7h-1.7zM218.1,140.4h1.7v1.7h-1.7zM230.6,141.1h1.7v1.7h-1.7zM257.0,141.8h1.7v1.7h-1.7zM261.4,138.3h1.7v1.7h-1.7zM198.1,157.1h1.7v1.7h-1.7zM222.8,141.6h1.7v1.7h-1.7zM255.4,135.7h1.7v1.7h-1.7zM266.3,139.6h1.7v1.7h-1.7zM196.4,135.6h1.7v1.7h-1.7zM202.2,146.1h1.7v1.7h-1.7zM262.7,132.7h1.7v1.7h-1.7zM257.9,131.3h1.7v1.7h-1.7zM220.8,132.2h1.7v1.7h-1.7zM195.0,150.3h1.7v1.7h-1.7zM219.7,140.6h1.7v1.7h-1.7zM241.6,147.9h1.7v1.7h-1.7zM209.5,146.2h1.7v1.7h-1.7zM215.0,157.9h1.7v1.7h-1.7zM235.1,144.5h1.7v1.7h-1.7zM198.4,145.4h1.7v1.7h-1.7zM262.2,128.8h1.7v1.7h-1.7zM256.6,132.9h1.7v1.7h-1.7zM257.5,138.2h1.7v1.7h-1.7zM223.0,149.6h1.7v1.7h-1.7zM268.8,149.1h1.7v1.7h-1.7zM272.3,147.8h1.7v1.7h-1.7zM220.1,131.6h1.7v1.7h-1.7zM228.0,137.5h1.7v1.7h-1.7zM233.8,139.6h1.7v1.7h-1.7zM244.1,143.3h1.7v1.7h-1.7zM223.1,141.8h1.7v1.7h-1.7zM263.2,137.9h1.7v1.7h-1.7zM270.7,128.6h1.7v1.7h-1.7zM217.7,144.7h1.7v1.7h-1.7zM271.3,138.0h1.7v1.7h-1.7zM270.5,141.8h1.7v1.7h-1.7zM231.4,142.5h1.7v1.7h-1.7zM215.0,165.7h1.7v1.7h-1.7zM222.4,165.7h1.7v1.7h-1.7zM247.3,165.7h1.7v1.7h-1.7zM265.0,165.7h1.7v1.7h-1.7zM209.3,165.7h1.7v1.7h-1.7zM213.8,165.7h1.7v1.7h-1.7zM248.0,165.7h1.7v1.7h-1.7zM267.3,165.7h1.7v1.7h-1.7zM242.5,165.7h1.7v1.7h-1.7zM222.3,165.7h1.7v1.7h-1.7zM260.4,165.7h1.7v1.7h-1.7zM255.8,165.7h1.7v1.7h-1.7zM208.9,165.7h1.7v1.7h-1.7zM227.7,165.7h1.7v1.7h-1.7zM201.6,165.7h1.7v1.7h-1.7zM237.0,165.7h1.7v1.7h-1.7zM234.7,165.7h1.7v1.7h-1.7zM241.2,165.7h1.7v1.7h-1.7zM268.8,165.7h1.7v1.7h-1.7zM221.0,165.7h1.7v1.7h-1.7zM256.9,165.7h1.7v1.7h-1.7zM205.4,165.7h1.7v1.7h-1.7zM289.4,121.2h1.7v1.7h-1.7zM284.2,124.6h1.7v1.7h-1.7zM327.6,135.2h1.7v1.7h-1.7zM353.0,125.7h1.7v1.7h-1.7zM312.2,136.8h1.7v1.7h-1.7zM295.9,129.4h1.7v1.7h-1.7zM287.1,131.1h1.7v1.7h-1.7zM307.0,147.8h1.7v1.7h-1.7zM327.3,131.6h1.7v1.7h-1.7zM316.8,138.7h1.7v1.7h-1.7zM283.2,136.1h1.7v1.7h-1.7zM300.3,131.9h1.7v1.7h-1.7zM340.7,128.1h1.7v1.7h-1.7zM337.7,120.3h1.7v1.7h-1.7zM316.8,133.6h1.7v1.7h-1.7zM295.5,129.3h1.7v1.7h-1.7zM297.6,132.5h1.7v1.7h-1.7zM321.0,122.9h1.7v1.7h-1.7zM311.7,132.5h1.7v1.7h-1.7zM289.2,140.5h1.7v1.7h-1.7zM326.4,137.2h1.7v1.7h-1.7zM322.2,133.1h1.7v1.7h-1.7zM334.2,126.3h1.7v1.7h-1.7zM300.3,139.1h1.7v1.7h-1.7zM325.2,139.1h1.7v1.7h-1.7zM344.7,128.9h1.7v1.7h-1.7zM290.1,125.9h1.7v1.7h-1.7zM341.1,130.4h1.7v1.7h-1.7zM284.4,131.5h1.7v1.7h-1.7zM285.9,120.5h1.7v1.7h-1.7zM320.0,135.4h1.7v1.7h-1.7zM322.0,125.6h1.7v1.7h-1.7zM310.7,148.2h1.7v1.7h-1.7zM337.3,130.1h1.7v1.7h-1.7zM308.5,138.3h1.7v1.7h-1.7zM303.6,134.9h1.7v1.7h-1.7zM301.0,131.5h1.7v1.7h-1.7zM286.3,129.8h1.7v1.7h-1.7zM322.8,134.1h1.7v1.7h-1.7zM322.9,135.2h1.7v1.7h-1.7zM312.6,137.5h1.7v1.7h-1.7zM335.1,128.8h1.7v1.7h-1.7zM307.6,142.6h1.7v1.7h-1.7zM311.2,136.2h1.7v1.7h-1.7zM293.0,130.5h1.7v1.7h-1.7zM346.7,126.0h1.7v1.7h-1.7zM323.5,123.7h1.7v1.7h-1.7zM292.3,130.0h1.7v1.7h-1.7zM306.1,133.6h1.7v1.7h-1.7zM301.6,122.6h1.7v1.7h-1.7zM336.5,128.6h1.7v1.7h-1.7zM348.4,134.8h1.7v1.7h-1.7zM346.9,128.7h1.7v1.7h-1.7zM304.3,131.9h1.7v1.7h-1.7zM343.7,122.5h1.7v1.7h-1.7zM298.9,134.7h1.7v1.7h-1.7zM351.5,122.2h1.7v1.7h-1.7zM299.0,128.7h1.7v1.7h-1.7zM340.4,120.1h1.7v1.7h-1.7zM317.2,125.0h1.7v1.7h-1.7zM303.1,136.3h1.7v1.7h-1.7zM312.0,125.5h1.7v1.7h-1.7zM282.9,134.1h1.7v1.7h-1.7zM348.4,126.0h1.7v1.7h-1.7zM295.6,125.4h1.7v1.7h-1.7zM300.6,140.4h1.7v1.7h-1.7zM328.8,126.1h1.7v1.7h-1.7zM346.3,120.4h1.7v1.7h-1.7zM326.8,127.4h1.7v1.7h-1.7zM339.9,132.7h1.7v1.7h-1.7zM319.0,143.7h1.7v1.7h-1.7zM292.7,132.8h1.7v1.7h-1.7zM340.4,126.7h1.7v1.7h-1.7zM298.6,130.8h1.7v1.7h-1.7zM312.6,132.2h1.7v1.7h-1.7zM290.3,135.8h1.7v1.7h-1.7zM324.5,132.4h1.7v1.7h-1.7zM309.2,141.5h1.7v1.7h-1.7zM305.3,131.8h1.7v1.7h-1.7zM313.3,137.0h1.7v1.7h-1.7zM336.0,124.8h1.7v1.7h-1.7zM329.5,123.5h1.7v1.7h-1.7zM317.5,129.9h1.7v1.7h-1.7zM332.0,123.4h1.7v1.7h-1.7zM343.7,129.2h1.7v1.7h-1.7zM314.4,129.2h1.7v1.7h-1.7zM292.2,132.2h1.7v1.7h-1.7zM331.6,128.1h1.7v1.7h-1.7zM333.4,128.6h1.7v1.7h-1.7zM307.1,142.8h1.7v1.7h-1.7zM283.5,125.8h1.7v1.7h-1.7zM321.2,135.4h1.7v1.7h-1.7zM309.5,139.9h1.7v1.7h-1.7zM339.2,133.0h1.7v1.7h-1.7zM327.4,127.6h1.7v1.7h-1.7zM324.7,125.4h1.7v1.7h-1.7zM293.7,135.9h1.7v1.7h-1.7zM330.9,130.9h1.7v1.7h-1.7zM296.1,128.1h1.7v1.7h-1.7zM320.6,128.5h1.7v1.7h-1.7zM287.7,134.7h1.7v1.7h-1.7zM349.6,121.0h1.7v1.7h-1.7zM338.6,123.7h1.7v1.7h-1.7zM318.0,138.7h1.7v1.7h-1.7zM312.1,134.1h1.7v1.7h-1.7zM310.1,135.5h1.7v1.7h-1.7zM289.2,124.4h1.7v1.7h-1.7zM299.9,132.6h1.7v1.7h-1.7zM301.9,132.7h1.7v1.7h-1.7zM352.3,124.5h1.7v1.7h-1.7zM309.8,121.6h1.7v1.7h-1.7zM305.4,139.4h1.7v1.7h-1.7zM332.6,139.8h1.7v1.7h-1.7zM285.8,132.4h1.7v1.7h-1.7zM321.9,130.0h1.7v1.7h-1.7zM329.1,137.5h1.7v1.7h-1.7zM335.0,135.2h1.7v1.7h-1.7zM301.1,128.8h1.7v1.7h-1.7zM306.3,135.1h1.7v1.7h-1.7zM329.1,129.7h1.7v1.7h-1.7zM328.1,124.5h1.7v1.7h-1.7zM330.6,126.3h1.7v1.7h-1.7zM325.2,137.3h1.7v1.7h-1.7zM288.4,146.7h1.7v1.7h-1.7zM319.0,125.3h1.7v1.7h-1.7zM287.6,135.3h1.7v1.7h-1.7zM295.3,123.7h1.7v1.7h-1.7zM345.7,125.0h1.7v1.7h-1.7zM310.3,138.2h1.7v1.7h-1.7zM306.4,131.0h1.7v1.7h-1.7zM352.4,122.1h1.7v1.7h-1.7zM330.0,123.9h1.7v1.7h-1.7zM300.8,137.9h1.7v1.7h-1.7zM307.9,131.5h1.7v1.7h-1.7zM329.4,143.6h1.7v1.7h-1.7zM292.3,123.4h1.7v1.7h-1.7zM301.9,141.8h1.7v1.7h-1.7zM289.8,133.3h1.7v1.7h-1.7zM353.7,120.3h1.7v1.7h-1.7zM332.4,132.2h1.7v1.7h-1.7zM294.1,124.0h1.7v1.7h-1.7zM344.6,129.3h1.7v1.7h-1.7zM296.2,126.0h1.7v1.7h-1.7zM331.7,124.7h1.7v1.7h-1.7zM344.8,126.6h1.7v1.7h-1.7zM306.1,133.9h1.7v1.7h-1.7zM350.6,124.7h1.7v1.7h-1.7zM311.4,129.2h1.7v1.7h-1.7zM303.3,135.4h1.7v1.7h-1.7zM338.2,128.1h1.7v1.7h-1.7zM324.5,124.8h1.7v1.7h-1.7zM316.8,129.7h1.7v1.7h-1.7zM292.8,132.4h1.7v1.7h-1.7zM349.0,124.8h1.7v1.7h-1.7zM336.3,130.5h1.7v1.7h-1.7zM283.8,136.6h1.7v1.7h-1.7zM318.5,133.7h1.7v1.7h-1.7zM310.5,128.0h1.7v1.7h-1.7zM324.2,135.6h1.7v1.7h-1.7zM299.2,131.3h1.7v1.7h-1.7zM311.8,134.9h1.7v1.7h-1.7zM324.3,129.1h1.7v1.7h-1.7zM322.2,130.3h1.7v1.7h-1.7zM302.9,132.3h1.7v1.7h-1.7zM351.4,120.4h1.7v1.7h-1.7zM290.4,136.8h1.7v1.7h-1.7zM283.7,137.8h1.7v1.7h-1.7zM317.6,143.0h1.7v1.7h-1.7zM336.3,121.1h1.7v1.7h-1.7zM296.1,126.2h1.7v1.7h-1.7zM316.4,155.6h1.7v1.7h-1.7zM339.0,141.3h1.7v1.7h-1.7zM300.6,136.7h1.7v1.7h-1.7zM339.1,124.0h1.7v1.7h-1.7zM351.0,122.8h1.7v1.7h-1.7zM345.3,130.3h1.7v1.7h-1.7zM325.0,126.0h1.7v1.7h-1.7zM343.0,130.1h1.7v1.7h-1.7zM308.4,126.8h1.7v1.7h-1.7zM350.1,134.6h1.7v1.7h-1.7zM350.8,121.9h1.7v1.7h-1.7zM303.0,137.1h1.7v1.7h-1.7zM305.4,140.9h1.7v1.7h-1.7zM327.4,135.6h1.7v1.7h-1.7zM294.4,130.4h1.7v1.7h-1.7zM295.1,130.9h1.7v1.7h-1.7zM332.8,125.7h1.7v1.7h-1.7zM332.2,123.9h1.7v1.7h-1.7zM297.3,128.0h1.7v1.7h-1.7zM318.3,122.0h1.7v1.7h-1.7zM333.7,129.1h1.7v1.7h-1.7zM340.4,139.6h1.7v1.7h-1.7zM313.4,123.3h1.7v1.7h-1.7zM315.9,129.5h1.7v1.7h-1.7zM320.5,129.4h1.7v1.7h-1.7zM314.9,122.3h1.7v1.7h-1.7zM291.2,122.5h1.7v1.7h-1.7zM312.5,137.2h1.7v1.7h-1.7zM307.2,128.7h1.7v1.7h-1.7zM285.1,131.9h1.7v1.7h-1.7zM287.8,124.0h1.7v1.7h-1.7zM317.4,139.3h1.7v1.7h-1.7zM347.2,122.6h1.7v1.7h-1.7zM321.5,135.5h1.7v1.7h-1.7zM290.8,129.0h1.7v1.7h-1.7zM349.6,121.0h1.7v1.7h-1.7zM289.8,146.9h1.7v1.7h-1.7zM349.3,152.1h1.7v1.7h-1.7zM339.2,123.5h1.7v1.7h-1.7zM332.3,123.5h1.7v1.7h-1.7zM303.0,127.4h1.7v1.7h-1.7zM320.4,134.6h1.7v1.7h-1.7zM331.7,129.5h1.7v1.7h-1.7zM303.1,135.5h1.7v1.7h-1.7zM319.0,124.0h1.7v1.7h-1.7zM298.2,132.7h1.7v1.7h-1.7zM298.2,134.0h1.7v1.7h-1.7zM321.4,122.6h1.7v1.7h-1.7zM314.1,126.9h1.7v1.7h-1.7zM303.2,126.8h1.7v1.7h-1.7zM283.8,135.4h1.7v1.7h-1.7zM306.8,129.6h1.7v1.7h-1.7zM332.4,125.0h1.7v1.7h-1.7zM289.8,128.9h1.7v1.7h-1.7zM325.2,129.7h1.7v1.7h-1.7zM315.0,125.9h1.7v1.7h-1.7zM338.1,123.3h1.7v1.7h-1.7zM322.8,137.0h1.7v1.7h-1.7zM346.7,137.6h1.7v1.7h-1.7zM345.8,126.4h1.7v1.7h-1.7zM326.7,122.6h1.7v1.7h-1.7zM351.7,122.5h1.7v1.7h-1.7zM304.2,136.9h1.7v1.7h-1.7zM348.8,123.3h1.7v1.7h-1.7zM303.4,124.9h1.7v1.7h-1.7zM315.9,130.6h1.7v1.7h-1.7zM331.9,130.4h1.7v1.7h-1.7zM341.7,138.0h1.7v1.7h-1.7zM336.3,125.9h1.7v1.7h-1.7zM285.7,125.2h1.7v1.7h-1.7zM328.5,130.0h1.7v1.7h-1.7zM338.7,125.6h1.7v1.7h-1.7zM302.5,130.7h1.7v1.7h-1.7zM301.7,136.6h1.7v1.7h-1.7zM352.4,121.4h1.7v1.7h-1.7zM331.3,135.1h1.7v1.7h-1.7zM337.8,150.0h1.7v1.7h-1.7zM282.9,126.9h1.7v1.7h-1.7zM348.4,128.4h1.7v1.7h-1.7zM338.0,137.5h1.7v1.7h-1.7zM308.4,128.8h1.7v1.7h-1.7zM286.7,136.8h1.7v1.7h-1.7zM325.1,139.6h1.7v1.7h-1.7zM320.2,135.7h1.7v1.7h-1.7zM335.5,125.0h1.7v1.7h-1.7zM351.0,124.2h1.7v1.7h-1.7zM299.9,125.1h1.7v1.7h-1.7zM292.1,132.3h1.7v1.7h-1.7zM292.7,127.6h1.7v1.7h-1.7zM349.0,134.5h1.7v1.7h-1.7zM327.3,149.3h1.7v1.7h-1.7zM290.3,123.0h1.7v1.7h-1.7zM319.2,135.3h1.7v1.7h-1.7zM329.1,123.2h1.7v1.7h-1.7zM304.9,139.2h1.7v1.7h-1.7zM340.2,132.4h1.7v1.7h-1.7zM298.4,126.2h1.7v1.7h-1.7zM299.7,136.2h1.7v1.7h-1.7zM286.4,132.6h1.7v1.7h-1.7zM317.7,136.0h1.7v1.7h-1.7zM285.7,131.7h1.7v1.7h-1.7zM302.8,132.3h1.7v1.7h-1.7zM339.8,135.0h1.7v1.7h-1.7zM353.1,124.6h1.7v1.7h-1.7zM284.6,129.0h1.7v1.7h-1.7zM343.1,124.5h1.7v1.7h-1.7zM343.3,125.9h1.7v1.7h-1.7zM306.0,148.9h1.7v1.7h-1.7zM328.2,120.6h1.7v1.7h-1.7zM322.3,138.3h1.7v1.7h-1.7zM297.5,141.0h1.7v1.7h-1.7zM302.7,142.4h1.7v1.7h-1.7zM303.8,140.4h1.7v1.7h-1.7zM315.5,131.5h1.7v1.7h-1.7zM346.5,123.3h1.7v1.7h-1.7zM353.5,125.4h1.7v1.7h-1.7zM293.3,130.6h1.7v1.7h-1.7zM322.0,125.5h1.7v1.7h-1.7zM338.0,127.3h1.7v1.7h-1.7zM326.1,138.5h1.7v1.7h-1.7zM297.9,122.2h1.7v1.7h-1.7zM335.9,132.3h1.7v1.7h-1.7zM334.1,125.7h1.7v1.7h-1.7zM312.2,132.6h1.7v1.7h-1.7zM288.9,131.9h1.7v1.7h-1.7zM288.2,127.4h1.7v1.7h-1.7zM293.8,123.2h1.7v1.7h-1.7zM341.2,130.1h1.7v1.7h-1.7zM298.8,126.8h1.7v1.7h-1.7zM341.0,124.9h1.7v1.7h-1.7zM325.9,133.7h1.7v1.7h-1.7zM322.0,128.5h1.7v1.7h-1.7zM329.6,127.5h1.7v1.7h-1.7zM312.5,134.7h1.7v1.7h-1.7zM314.2,132.5h1.7v1.7h-1.7zM347.9,133.0h1.7v1.7h-1.7zM343.4,127.5h1.7v1.7h-1.7zM316.2,131.5h1.7v1.7h-1.7zM349.6,125.9h1.7v1.7h-1.7zM322.9,132.5h1.7v1.7h-1.7zM341.4,130.4h1.7v1.7h-1.7zM284.2,132.5h1.7v1.7h-1.7zM298.7,134.4h1.7v1.7h-1.7zM305.9,141.1h1.7v1.7h-1.7zM338.9,122.1h1.7v1.7h-1.7zM289.1,146.6h1.7v1.7h-1.7zM312.2,131.6h1.7v1.7h-1.7zM291.1,120.5h1.7v1.7h-1.7zM325.7,129.0h1.7v1.7h-1.7zM283.9,131.6h1.7v1.7h-1.7zM320.5,137.7h1.7v1.7h-1.7zM305.5,137.3h1.7v1.7h-1.7zM308.1,142.0h1.7v1.7h-1.7zM332.5,126.4h1.7v1.7h-1.7zM313.8,137.5h1.7v1.7h-1.7zM296.4,122.2h1.7v1.7h-1.7zM304.5,133.1h1.7v1.7h-1.7zM304.9,135.6h1.7v1.7h-1.7zM336.2,127.9h1.7v1.7h-1.7zM299.2,135.4h1.7v1.7h-1.7zM324.7,135.9h1.7v1.7h-1.7zM345.4,134.4h1.7v1.7h-1.7zM314.4,127.8h1.7v1.7h-1.7zM313.8,131.3h1.7v1.7h-1.7zM328.5,127.8h1.7v1.7h-1.7zM342.4,128.4h1.7v1.7h-1.7zM305.1,130.9h1.7v1.7h-1.7zM289.5,125.4h1.7v1.7h-1.7zM300.6,123.6h1.7v1.7h-1.7zM282.9,132.9h1.7v1.7h-1.7zM345.1,138.6h1.7v1.7h-1.7zM353.2,124.8h1.7v1.7h-1.7zM345.1,133.4h1.7v1.7h-1.7zM352.2,122.9h1.7v1.7h-1.7zM318.1,138.0h1.7v1.7h-1.7zM327.2,122.8h1.7v1.7h-1.7zM317.7,133.3h1.7v1.7h-1.7zM311.1,132.0h1.7v1.7h-1.7zM312.9,132.1h1.7v1.7h-1.7zM287.5,136.8h1.7v1.7h-1.7zM306.0,129.1h1.7v1.7h-1.7zM290.7,134.2h1.7v1.7h-1.7zM348.2,125.3h1.7v1.7h-1.7zM298.5,132.1h1.7v1.7h-1.7zM321.6,133.3h1.7v1.7h-1.7zM311.9,135.0h1.7v1.7h-1.7zM331.0,125.1h1.7v1.7h-1.7zM326.4,137.1h1.7v1.7h-1.7zM306.2,151.8h1.7v1.7h-1.7zM285.4,131.1h1.7v1.7h-1.7zM292.0,127.0h1.7v1.7h-1.7zM286.1,125.1h1.7v1.7h-1.7zM292.3,131.7h1.7v1.7h-1.7zM298.7,137.9h1.7v1.7h-1.7zM300.6,135.7h1.7v1.7h-1.7zM339.6,131.1h1.7v1.7h-1.7zM334.6,134.0h1.7v1.7h-1.7zM305.4,124.0h1.7v1.7h-1.7zM323.5,133.5h1.7v1.7h-1.7zM333.9,120.3h1.7v1.7h-1.7zM344.6,128.6h1.7v1.7h-1.7zM295.7,123.2h1.7v1.7h-1.7zM307.3,125.8h1.7v1.7h-1.7zM333.3,127.8h1.7v1.7h-1.7zM293.2,134.1h1.7v1.7h-1.7zM341.6,129.8h1.7v1.7h-1.7zM333.4,123.7h1.7v1.7h-1.7zM350.6,130.2h1.7v1.7h-1.7zM315.7,135.6h1.7v1.7h-1.7zM311.8,131.0h1.7v1.7h-1.7zM301.6,131.3h1.7v1.7h-1.7zM316.1,142.1h1.7v1.7h-1.7zM296.2,125.2h1.7v1.7h-1.7zM314.2,122.2h1.7v1.7h-1.7zM321.8,141.6h1.7v1.7h-1.7zM327.7,131.3h1.7v1.7h-1.7zM307.8,139.9h1.7v1.7h-1.7zM317.6,137.6h1.7v1.7h-1.7zM342.1,122.9h1.7v1.7h-1.7zM309.4,134.2h1.7v1.7h-1.7zM287.8,130.7h1.7v1.7h-1.7zM326.2,135.7h1.7v1.7h-1.7zM295.6,126.1h1.7v1.7h-1.7zM316.9,123.0h1.7v1.7h-1.7zM322.8,127.0h1.7v1.7h-1.7zM286.3,135.3h1.7v1.7h-1.7zM341.8,127.4h1.7v1.7h-1.7zM302.9,120.7h1.7v1.7h-1.7zM351.9,122.2h1.7v1.7h-1.7zM285.2,133.5h1.7v1.7h-1.7zM298.6,125.4h1.7v1.7h-1.7zM321.3,129.0h1.7v1.7h-1.7zM323.1,129.0h1.7v1.7h-1.7zM333.4,129.8h1.7v1.7h-1.7zM323.8,133.1h1.7v1.7h-1.7zM304.7,131.8h1.7v1.7h-1.7zM304.9,121.9h1.7v1.7h-1.7zM287.9,131.1h1.7v1.7h-1.7zM303.9,139.2h1.7v1.7h-1.7zM301.0,140.2h1.7v1.7h-1.7zM341.1,125.8h1.7v1.7h-1.7zM338.7,135.6h1.7v1.7h-1.7zM312.4,133.8h1.7v1.7h-1.7zM317.7,156.1h1.7v1.7h-1.7zM318.7,140.5h1.7v1.7h-1.7zM300.1,136.5h1.7v1.7h-1.7zM294.0,131.2h1.7v1.7h-1.7zM316.3,128.2h1.7v1.7h-1.7zM303.9,133.5h1.7v1.7h-1.7zM294.4,133.5h1.7v1.7h-1.7zM320.5,131.0h1.7v1.7h-1.7zM328.4,138.0h1.7v1.7h-1.7zM328.1,123.7h1.7v1.7h-1.7zM339.1,129.3h1.7v1.7h-1.7zM295.3,138.0h1.7v1.7h-1.7zM313.5,138.9h1.7v1.7h-1.7zM300.5,122.6h1.7v1.7h-1.7zM283.9,131.2h1.7v1.7h-1.7zM344.5,129.2h1.7v1.7h-1.7zM348.4,126.6h1.7v1.7h-1.7zM351.1,121.5h1.7v1.7h-1.7zM313.9,134.1h1.7v1.7h-1.7zM300.9,130.3h1.7v1.7h-1.7zM336.2,128.5h1.7v1.7h-1.7zM304.9,144.5h1.7v1.7h-1.7zM344.1,120.9h1.7v1.7h-1.7zM349.4,131.0h1.7v1.7h-1.7zM289.1,124.4h1.7v1.7h-1.7zM308.2,134.4h1.7v1.7h-1.7zM338.3,124.0h1.7v1.7h-1.7zM326.4,132.3h1.7v1.7h-1.7zM307.9,135.8h1.7v1.7h-1.7zM342.3,130.8h1.7v1.7h-1.7zM327.6,132.5h1.7v1.7h-1.7zM291.3,130.0h1.7v1.7h-1.7zM327.1,124.5h1.7v1.7h-1.7zM289.2,130.7h1.7v1.7h-1.7zM339.5,135.9h1.7v1.7h-1.7zM328.6,135.7h1.7v1.7h-1.7zM337.8,137.1h1.7v1.7h-1.7zM329.1,121.1h1.7v1.7h-1.7zM312.7,128.4h1.7v1.7h-1.7zM345.4,126.5h1.7v1.7h-1.7zM307.7,133.4h1.7v1.7h-1.7zM309.5,130.6h1.7v1.7h-1.7zM312.7,153.5h1.7v1.7h-1.7zM303.7,121.8h1.7v1.7h-1.7zM310.8,145.4h1.7v1.7h-1.7zM322.9,130.4h1.7v1.7h-1.7zM318.9,130.9h1.7v1.7h-1.7zM351.9,125.8h1.7v1.7h-1.7zM322.5,132.7h1.7v1.7h-1.7zM341.9,134.3h1.7v1.7h-1.7zM302.4,140.4h1.7v1.7h-1.7zM301.8,136.8h1.7v1.7h-1.7zM295.3,127.4h1.7v1.7h-1.7zM318.9,130.7h1.7v1.7h-1.7zM339.6,121.4h1.7v1.7h-1.7zM317.9,134.3h1.7v1.7h-1.7zM332.3,122.8h1.7v1.7h-1.7zM286.0,145.6h1.7v1.7h-1.7zM304.1,129.5h1.7v1.7h-1.7zM341.3,124.2h1.7v1.7h-1.7zM305.9,134.3h1.7v1.7h-1.7zM342.9,125.7h1.7v1.7h-1.7zM348.4,130.6h1.7v1.7h-1.7zM316.9,136.0h1.7v1.7h-1.7zM326.1,136.9h1.7v1.7h-1.7zM287.6,133.3h1.7v1.7h-1.7zM298.2,128.6h1.7v1.7h-1.7zM335.7,130.1h1.7v1.7h-1.7zM335.5,125.5h1.7v1.7h-1.7zM288.8,135.4h1.7v1.7h-1.7zM284.6,128.9h1.7v1.7h-1.7zM320.5,133.7h1.7v1.7h-1.7zM315.4,125.3h1.7v1.7h-1.7zM330.2,124.0h1.7v1.7h-1.7zM285.9,130.1h1.7v1.7h-1.7zM300.1,133.9h1.7v1.7h-1.7zM296.1,129.4h1.7v1.7h-1.7zM316.8,152.2h1.7v1.7h-1.7zM331.9,131.2h1.7v1.7h-1.7zM345.7,122.1h1.7v1.7h-1.7zM290.5,130.3h1.7v1.7h-1.7zM283.0,132.8h1.7v1.7h-1.7zM348.9,134.7h1.7v1.7h-1.7zM282.7,132.0h1.7v1.7h-1.7zM334.5,122.9h1.7v1.7h-1.7zM286.2,128.4h1.7v1.7h-1.7zM335.9,135.6h1.7v1.7h-1.7zM327.1,133.4h1.7v1.7h-1.7zM314.6,142.2h1.7v1.7h-1.7zM324.8,128.8h1.7v1.7h-1.7zM286.2,137.7h1.7v1.7h-1.7zM318.2,130.6h1.7v1.7h-1.7zM317.6,121.6h1.7v1.7h-1.7zM307.2,135.6h1.7v1.7h-1.7zM320.3,134.4h1.7v1.7h-1.7zM288.8,132.7h1.7v1.7h-1.7zM322.6,132.0h1.7v1.7h-1.7zM329.7,136.4h1.7v1.7h-1.7zM307.1,143.6h1.7v1.7h-1.7zM328.8,139.3h1.7v1.7h-1.7zM330.2,122.5h1.7v1.7h-1.7zM318.6,136.4h1.7v1.7h-1.7zM301.8,130.8h1.7v1.7h-1.7zM298.0,129.4h1.7v1.7h-1.7zM292.5,126.5h1.7v1.7h-1.7zM291.9,130.6h1.7v1.7h-1.7zM346.2,124.6h1.7v1.7h-1.7zM327.6,136.2h1.7v1.7h-1.7zM322.0,128.9h1.7v1.7h-1.7zM318.2,132.4h1.7v1.7h-1.7zM287.6,133.0h1.7v1.7h-1.7zM283.6,134.5h1.7v1.7h-1.7zM306.1,140.6h1.7v1.7h-1.7zM317.3,130.5h1.7v1.7h-1.7zM316.5,132.6h1.7v1.7h-1.7zM353.2,125.8h1.7v1.7h-1.7zM313.9,132.9h1.7v1.7h-1.7zM302.7,131.7h1.7v1.7h-1.7zM338.7,123.5h1.7v1.7h-1.7zM312.9,143.1h1.7v1.7h-1.7zM289.3,120.3h1.7v1.7h-1.7zM287.3,127.5h1.7v1.7h-1.7zM338.7,124.3h1.7v1.7h-1.7zM339.6,132.9h1.7v1.7h-1.7zM343.2,129.0h1.7v1.7h-1.7zM321.1,126.1h1.7v1.7h-1.7zM339.1,132.9h1.7v1.7h-1.7zM310.0,145.3h1.7v1.7h-1.7zM330.4,125.8h1.7v1.7h-1.7zM309.7,129.4h1.7v1.7h-1.7zM293.1,133.1h1.7v1.7h-1.7zM292.4,130.3h1.7v1.7h-1.7zM344.0,129.2h1.7v1.7h-1.7zM338.8,129.8h1.7v1.7h-1.7zM310.2,137.2h1.7v1.7h-1.7zM327.4,123.3h1.7v1.7h-1.7zM299.8,133.5h1.7v1.7h-1.7zM292.0,130.2h1.7v1.7h-1.7zM312.0,123.6h1.7v1.7h-1.7zM333.6,120.2h1.7v1.7h-1.7zM340.7,133.3h1.7v1.7h-1.7zM294.1,133.5h1.7v1.7h-1.7zM293.9,128.6h1.7v1.7h-1.7zM285.5,130.8h1.7v1.7h-1.7zM342.0,126.4h1.7v1.7h-1.7zM324.6,123.2h1.7v1.7h-1.7zM319.6,165.7h1.7v1.7h-1.7zM293.9,129.6h1.7v1.7h-1.7zM347.8,126.0h1.7v1.7h-1.7zM289.6,130.6h1.7v1.7h-1.7zM317.6,135.5h1.7v1.7h-1.7zM304.0,136.8h1.7v1.7h-1.7zM282.9,130.8h1.7v1.7h-1.7zM310.5,131.6h1.7v1.7h-1.7zM344.2,127.0h1.7v1.7h-1.7zM350.0,121.9h1.7v1.7h-1.7zM348.4,132.7h1.7v1.7h-1.7zM302.6,144.0h1.7v1.7h-1.7zM333.6,129.9h1.7v1.7h-1.7zM351.6,128.2h1.7v1.7h-1.7zM313.2,128.2h1.7v1.7h-1.7zM327.6,122.4h1.7v1.7h-1.7zM311.8,123.7h1.7v1.7h-1.7zM318.5,137.3h1.7v1.7h-1.7zM307.4,139.0h1.7v1.7h-1.7zM311.3,138.2h1.7v1.7h-1.7zM329.9,126.0h1.7v1.7h-1.7zM324.8,131.7h1.7v1.7h-1.7zM292.3,145.8h1.7v1.7h-1.7zM303.4,133.5h1.7v1.7h-1.7zM311.0,134.1h1.7v1.7h-1.7zM298.2,125.0h1.7v1.7h-1.7zM337.4,131.4h1.7v1.7h-1.7zM317.3,129.0h1.7v1.7h-1.7zM329.3,130.2h1.7v1.7h-1.7zM348.0,129.9h1.7v1.7h-1.7zM345.5,133.8h1.7v1.7h-1.7zM353.6,122.7h1.7v1.7h-1.7zM315.2,132.0h1.7v1.7h-1.7zM310.8,130.9h1.7v1.7h-1.7zM339.6,135.5h1.7v1.7h-1.7zM338.5,129.7h1.7v1.7h-1.7zM321.3,120.3h1.7v1.7h-1.7zM333.5,127.6h1.7v1.7h-1.7zM342.2,130.6h1.7v1.7h-1.7zM310.0,132.9h1.7v1.7h-1.7zM305.6,131.0h1.7v1.7h-1.7zM287.5,130.0h1.7v1.7h-1.7zM302.8,134.8h1.7v1.7h-1.7zM298.8,125.2h1.7v1.7h-1.7zM341.9,133.7h1.7v1.7h-1.7zM337.5,124.7h1.7v1.7h-1.7zM347.7,127.9h1.7v1.7h-1.7zM326.2,137.1h1.7v1.7h-1.7zM338.8,130.3h1.7v1.7h-1.7zM294.5,133.6h1.7v1.7h-1.7zM298.7,132.9h1.7v1.7h-1.7zM341.2,132.7h1.7v1.7h-1.7zM286.4,129.6h1.7v1.7h-1.7zM328.2,128.8h1.7v1.7h-1.7zM312.7,133.6h1.7v1.7h-1.7zM340.1,126.6h1.7v1.7h-1.7zM293.3,133.8h1.7v1.7h-1.7zM351.7,120.6h1.7v1.7h-1.7zM327.7,165.7h1.7v1.7h-1.7zM297.7,126.0h1.7v1.7h-1.7zM301.3,122.5h1.7v1.7h-1.7zM288.2,125.6h1.7v1.7h-1.7zM318.7,129.3h1.7v1.7h-1.7zM353.6,121.0h1.7v1.7h-1.7zM339.1,132.8h1.7v1.7h-1.7zM348.3,123.2h1.7v1.7h-1.7zM302.1,129.0h1.7v1.7h-1.7zM331.1,128.7h1.7v1.7h-1.7zM312.9,133.3h1.7v1.7h-1.7zM284.1,131.6h1.7v1.7h-1.7zM322.1,129.6h1.7v1.7h-1.7zM289.1,138.5h1.7v1.7h-1.7zM294.5,129.0h1.7v1.7h-1.7zM284.7,130.9h1.7v1.7h-1.7zM326.7,124.9h1.7v1.7h-1.7zM296.0,132.0h1.7v1.7h-1.7zM289.4,127.6h1.7v1.7h-1.7zM317.5,134.8h1.7v1.7h-1.7zM345.6,140.6h1.7v1.7h-1.7zM311.4,123.7h1.7v1.7h-1.7zM299.8,121.8h1.7v1.7h-1.7zM320.1,131.4h1.7v1.7h-1.7zM284.9,128.7h1.7v1.7h-1.7zM329.0,130.3h1.7v1.7h-1.7zM328.9,137.6h1.7v1.7h-1.7zM315.6,131.3h1.7v1.7h-1.7zM332.2,122.7h1.7v1.7h-1.7zM323.9,126.1h1.7v1.7h-1.7zM339.8,130.5h1.7v1.7h-1.7zM333.7,129.1h1.7v1.7h-1.7zM346.4,131.0h1.7v1.7h-1.7zM297.7,125.5h1.7v1.7h-1.7zM332.2,121.8h1.7v1.7h-1.7zM302.5,141.0h1.7v1.7h-1.7zM302.7,136.2h1.7v1.7h-1.7zM329.7,128.2h1.7v1.7h-1.7zM347.6,127.2h1.7v1.7h-1.7zM302.9,125.5h1.7v1.7h-1.7zM332.0,129.5h1.7v1.7h-1.7zM336.4,123.1h1.7v1.7h-1.7zM339.2,121.3h1.7v1.7h-1.7zM321.1,131.1h1.7v1.7h-1.7zM342.3,147.0h1.7v1.7h-1.7zM302.3,134.9h1.7v1.7h-1.7zM341.8,130.6h1.7v1.7h-1.7zM307.3,146.6h1.7v1.7h-1.7zM287.0,122.6h1.7v1.7h-1.7zM288.7,131.8h1.7v1.7h-1.7zM318.5,149.8h1.7v1.7h-1.7zM346.8,123.5h1.7v1.7h-1.7zM336.5,128.6h1.7v1.7h-1.7zM321.4,134.5h1.7v1.7h-1.7zM334.5,161.4h1.7v1.7h-1.7zM291.5,133.5h1.7v1.7h-1.7zM296.1,123.3h1.7v1.7h-1.7zM335.2,124.3h1.7v1.7h-1.7zM305.3,136.1h1.7v1.7h-1.7zM293.5,126.8h1.7v1.7h-1.7zM334.9,125.8h1.7v1.7h-1.7zM289.2,127.3h1.7v1.7h-1.7zM293.2,131.2h1.7v1.7h-1.7zM284.2,125.9h1.7v1.7h-1.7zM349.2,125.1h1.7v1.7h-1.7zM303.8,134.1h1.7v1.7h-1.7zM293.1,125.6h1.7v1.7h-1.7zM339.7,140.5h1.7v1.7h-1.7zM285.0,132.0h1.7v1.7h-1.7zM286.4,137.6h1.7v1.7h-1.7zM346.3,133.7h1.7v1.7h-1.7zM282.7,129.8h1.7v1.7h-1.7zM348.2,133.5h1.7v1.7h-1.7zM345.4,121.0h1.7v1.7h-1.7zM311.7,136.8h1.7v1.7h-1.7zM290.6,125.4h1.7v1.7h-1.7zM316.0,138.7h1.7v1.7h-1.7zM326.1,132.2h1.7v1.7h-1.7zM336.5,123.6h1.7v1.7h-1.7zM298.8,132.9h1.7v1.7h-1.7zM346.2,122.9h1.7v1.7h-1.7zM334.3,121.0h1.7v1.7h-1.7zM322.2,126.9h1.7v1.7h-1.7zM314.2,136.7h1.7v1.7h-1.7zM341.5,157.9h1.7v1.7h-1.7zM346.2,134.8h1.7v1.7h-1.7zM301.5,140.0h1.7v1.7h-1.7zM293.3,132.3h1.7v1.7h-1.7zM289.4,133.9h1.7v1.7h-1.7zM309.5,135.6h1.7v1.7h-1.7zM309.9,135.1h1.7v1.7h-1.7zM325.6,128.1h1.7v1.7h-1.7zM310.8,138.9h1.7v1.7h-1.7zM327.4,131.3h1.7v1.7h-1.7zM349.7,126.5h1.7v1.7h-1.7zM323.7,140.5h1.7v1.7h-1.7zM326.3,133.7h1.7v1.7h-1.7zM342.1,125.7h1.7v1.7h-1.7zM331.4,126.4h1.7v1.7h-1.7zM308.0,137.7h1.7v1.7h-1.7zM297.9,131.9h1.7v1.7h-1.7zM286.9,134.1h1.7v1.7h-1.7zM305.5,133.0h1.7v1.7h-1.7zM288.0,134.6h1.7v1.7h-1.7zM346.6,130.3h1.7v1.7h-1.7zM287.8,122.0h1.7v1.7h-1.7zM348.4,132.4h1.7v1.7h-1.7zM301.6,132.9h1.7v1.7h-1.7zM335.4,126.6h1.7v1.7h-1.7zM305.4,139.5h1.7v1.7h-1.7zM331.5,135.0h1.7v1.7h-1.7zM324.5,130.7h1.7v1.7h-1.7zM284.3,132.9h1.7v1.7h-1.7zM303.9,165.7h1.7v1.7h-1.7zM323.9,165.7h1.7v1.7h-1.7zM288.9,165.7h1.7v1.7h-1.7zM332.2,165.7h1.7v1.7h-1.7zM313.2,165.7h1.7v1.7h-1.7zM298.8,165.7h1.7v1.7h-1.7zM295.4,165.7h1.7v1.7h-1.7zM322.2,165.7h1.7v1.7h-1.7zM311.5,165.7h1.7v1.7h-1.7z" fill="#d2e6c4"/>
<path d="M195.40,140.30 C196.30,140.45 198.70,141.65 200.80,141.20 C202.90,140.75 205.90,137.75 208.00,137.60 C210.10,137.45 211.45,140.15 213.40,140.30 C215.35,140.45 217.60,138.50 219.70,138.50 C221.80,138.50 223.75,139.85 226.00,140.30 C228.25,140.75 230.65,141.80 233.20,141.20 C235.75,140.60 238.75,136.55 241.30,136.70 C243.85,136.85 245.82,141.95 248.50,142.10 C251.18,142.25 254.57,137.75 257.40,137.60 C260.23,137.45 262.95,140.60 265.50,141.20 C268.05,141.80 271.50,141.20 272.70,141.20 L272.70,146.80 C271.50,146.80 268.05,147.40 265.50,146.80 C262.95,146.20 260.23,143.05 257.40,143.20 C254.57,143.35 251.18,147.85 248.50,147.70 C245.82,147.55 243.85,142.45 241.30,142.30 C238.75,142.15 235.75,146.20 233.20,146.80 C230.65,147.40 228.25,146.35 226.00,145.90 C223.75,145.45 221.80,144.10 219.70,144.10 C217.60,144.10 215.35,146.05 213.40,145.90 C211.45,145.75 210.10,143.05 208.00,143.20 C205.90,143.35 202.90,146.35 200.80,146.80 C198.70,147.25 196.30,146.05 195.40,145.90 Z" fill="#ee92c2" opacity="0.68"/>
<path d="M195.40,143.10 C196.30,143.25 198.70,144.45 200.80,144.00 C202.90,143.55 205.90,140.55 208.00,140.40 C210.10,140.25 211.45,142.95 213.40,143.10 C215.35,143.25 217.60,141.30 219.70,141.30 C221.80,141.30 223.75,142.65 226.00,143.10 C228.25,143.55 230.65,144.60 233.20,144.00 C235.75,143.40 238.75,139.35 241.30,139.50 C243.85,139.65 245.82,144.75 248.50,144.90 C251.18,145.05 254.57,140.55 257.40,140.40 C260.23,140.25 262.95,143.40 265.50,144.00 C268.05,144.60 271.50,144.00 272.70,144.00" fill="none" stroke="#e2368f" stroke-width="1.7" stroke-linecap="round"/>
<path d="M284.30,127.04 C284.60,126.66 285.35,124.64 286.10,124.79 C286.85,124.94 287.90,127.54 288.80,127.97 C289.70,128.40 290.60,127.14 291.50,127.37 C292.40,127.60 293.30,129.31 294.20,129.36 C295.10,129.41 296.15,128.25 296.90,127.68 C297.65,127.11 297.95,125.47 298.70,125.94 C299.45,126.41 300.50,130.03 301.40,130.50 C302.30,130.96 302.90,127.82 304.10,128.73 C305.30,129.65 306.95,135.66 308.60,135.97 C310.25,136.28 312.35,131.18 314.00,130.59 C315.65,129.99 317.00,132.54 318.50,132.39 C320.00,132.24 321.05,130.74 323.00,129.69 C324.95,128.64 328.25,127.28 330.20,126.07 C332.15,124.86 333.05,122.31 334.70,122.44 C336.35,122.57 338.17,126.31 340.10,126.86 C342.03,127.40 344.67,126.40 346.30,125.70 C347.93,125.00 348.70,124.33 349.90,122.67 C351.10,121.02 352.90,116.93 353.50,115.78 L353.50,127.22 C352.90,128.17 351.10,131.58 349.90,132.93 C348.70,134.27 347.93,134.80 346.30,135.30 C344.67,135.80 342.03,136.60 340.10,135.94 C338.17,135.29 336.35,131.53 334.70,131.36 C333.05,131.19 332.15,133.74 330.20,134.93 C328.25,136.12 324.95,137.46 323.00,138.51 C321.05,139.56 320.00,141.06 318.50,141.21 C317.00,141.36 315.65,138.81 314.00,139.41 C312.35,140.02 310.25,145.12 308.60,144.83 C306.95,144.54 305.30,138.55 304.10,137.67 C302.90,136.78 302.30,139.94 301.40,139.50 C300.50,139.07 299.45,135.49 298.70,135.06 C297.95,134.63 297.65,136.29 296.90,136.92 C296.15,137.55 295.10,138.79 294.20,138.84 C293.30,138.89 292.40,137.30 291.50,137.23 C290.60,137.16 289.70,138.60 288.80,138.43 C287.90,138.26 286.85,136.06 286.10,136.21 C285.35,136.36 284.60,138.84 284.30,139.36 Z" fill="#ee92c2" opacity="0.68"/>
<path d="M284.30,133.20 C284.60,132.75 285.35,130.50 286.10,130.50 C286.85,130.50 287.90,132.90 288.80,133.20 C289.70,133.50 290.60,132.15 291.50,132.30 C292.40,132.45 293.30,134.10 294.20,134.10 C295.10,134.10 296.15,132.90 296.90,132.30 C297.65,131.70 297.95,130.05 298.70,130.50 C299.45,130.95 300.50,134.55 301.40,135.00 C302.30,135.45 302.90,132.30 304.10,133.20 C305.30,134.10 306.95,140.10 308.60,140.40 C310.25,140.70 312.35,135.60 314.00,135.00 C315.65,134.40 317.00,136.95 318.50,136.80 C320.00,136.65 321.05,135.15 323.00,134.10 C324.95,133.05 328.25,131.70 330.20,130.50 C332.15,129.30 333.05,126.75 334.70,126.90 C336.35,127.05 338.17,130.80 340.10,131.40 C342.03,132.00 344.67,131.10 346.30,130.50 C347.93,129.90 348.70,129.30 349.90,127.80 C351.10,126.30 352.90,122.55 353.50,121.50" fill="none" stroke="#e2368f" stroke-width="1.7" stroke-linecap="round"/>
<rect x="191.50" y="119.50" width="85.00" height="49.00" fill="none" stroke="#262626" stroke-width="1" />
<rect x="280.50" y="119.50" width="77.00" height="49.00" fill="none" stroke="#262626" stroke-width="1" />
<line x1="188.50" y1="166.50" x2="191.50" y2="166.50" stroke="#262626" stroke-width="0.8" />
<text x="186.00" y="170.08" font-size="10" text-anchor="end" fill="#222222" >0</text>
<line x1="188.50" y1="144.10" x2="191.50" y2="144.10" stroke="#262626" stroke-width="0.8" />
<text x="186.00" y="147.68" font-size="10" text-anchor="end" fill="#222222" >1</text>
<line x1="188.50" y1="121.70" x2="191.50" y2="121.70" stroke="#262626" stroke-width="0.8" />
<text x="186.00" y="127.48" font-size="10" text-anchor="end" fill="#222222" >2</text>
<g transform="translate(363.40,144.10) rotate(90)"><text x="0" y="3.40" font-size="9.5" text-anchor="middle" fill="#222222" >Liver</text></g>
<line x1="280.50" y1="198.10" x2="357.50" y2="198.10" stroke="#9a9a9a" stroke-width="0.8" stroke-dasharray="2,2"/>
<path d="M258.7,200.1h1.7v1.7h-1.7zM261.4,211.4h1.7v1.7h-1.7zM201.8,200.8h1.7v1.7h-1.7zM267.2,187.5h1.7v1.7h-1.7zM261.4,196.1h1.7v1.7h-1.7zM264.2,195.6h1.7v1.7h-1.7zM262.1,206.7h1.7v1.7h-1.7zM246.0,198.1h1.7v1.7h-1.7zM263.9,195.8h1.7v1.7h-1.7zM247.9,189.5h1.7v1.7h-1.7zM243.1,202.2h1.7v1.7h-1.7zM206.4,190.5h1.7v1.7h-1.7zM252.5,197.4h1.7v1.7h-1.7zM242.0,199.7h1.7v1.7h-1.7zM202.5,196.2h1.7v1.7h-1.7zM200.6,194.7h1.7v1.7h-1.7zM270.9,192.3h1.7v1.7h-1.7zM197.4,196.1h1.7v1.7h-1.7zM255.1,189.0h1.7v1.7h-1.7zM242.7,178.7h1.7v1.7h-1.7zM209.8,196.8h1.7v1.7h-1.7zM208.3,203.6h1.7v1.7h-1.7zM268.9,192.7h1.7v1.7h-1.7zM245.7,194.1h1.7v1.7h-1.7zM263.1,196.6h1.7v1.7h-1.7zM252.8,185.5h1.7v1.7h-1.7zM231.1,190.8h1.7v1.7h-1.7zM204.0,194.6h1.7v1.7h-1.7zM272.1,193.7h1.7v1.7h-1.7zM218.1,196.7h1.7v1.7h-1.7zM251.4,206.4h1.7v1.7h-1.7zM217.1,194.1h1.7v1.7h-1.7zM253.8,188.3h1.7v1.7h-1.7zM195.2,192.7h1.7v1.7h-1.7zM245.1,194.9h1.7v1.7h-1.7zM218.0,196.2h1.7v1.7h-1.7zM263.8,191.0h1.7v1.7h-1.7zM222.7,199.0h1.7v1.7h-1.7zM272.3,195.4h1.7v1.7h-1.7zM268.1,191.4h1.7v1.7h-1.7zM202.5,201.1h1.7v1.7h-1.7zM200.5,194.5h1.7v1.7h-1.7zM227.0,187.3h1.7v1.7h-1.7zM251.1,193.0h1.7v1.7h-1.7zM196.6,193.5h1.7v1.7h-1.7zM262.6,205.0h1.7v1.7h-1.7zM267.2,189.7h1.7v1.7h-1.7zM193.8,203.2h1.7v1.7h-1.7zM203.4,199.6h1.7v1.7h-1.7zM204.5,196.1h1.7v1.7h-1.7zM246.0,199.7h1.7v1.7h-1.7zM208.8,195.6h1.7v1.7h-1.7zM256.4,193.2h1.7v1.7h-1.7zM197.7,184.6h1.7v1.7h-1.7zM225.8,200.6h1.7v1.7h-1.7zM231.3,206.4h1.7v1.7h-1.7zM262.7,187.2h1.7v1.7h-1.7zM198.6,195.9h1.7v1.7h-1.7zM229.0,219.7h1.7v1.7h-1.7zM226.0,205.1h1.7v1.7h-1.7zM215.8,212.2h1.7v1.7h-1.7zM223.3,196.5h1.7v1.7h-1.7zM222.4,203.1h1.7v1.7h-1.7zM210.7,199.4h1.7v1.7h-1.7zM253.5,186.2h1.7v1.7h-1.7zM235.4,196.0h1.7v1.7h-1.7zM261.7,198.3h1.7v1.7h-1.7zM267.9,202.2h1.7v1.7h-1.7zM196.2,192.2h1.7v1.7h-1.7zM194.8,190.1h1.7v1.7h-1.7zM246.4,200.8h1.7v1.7h-1.7zM238.7,207.0h1.7v1.7h-1.7zM209.1,205.6h1.7v1.7h-1.7zM195.1,201.1h1.7v1.7h-1.7zM265.1,194.7h1.7v1.7h-1.7zM235.6,194.7h1.7v1.7h-1.7zM211.4,219.7h1.7v1.7h-1.7zM220.6,180.1h1.7v1.7h-1.7zM204.4,196.8h1.7v1.7h-1.7zM224.7,212.2h1.7v1.7h-1.7zM227.0,197.2h1.7v1.7h-1.7zM197.1,188.8h1.7v1.7h-1.7zM261.1,191.1h1.7v1.7h-1.7zM205.2,204.4h1.7v1.7h-1.7zM231.6,191.2h1.7v1.7h-1.7zM205.0,198.3h1.7v1.7h-1.7zM249.6,196.5h1.7v1.7h-1.7zM215.6,200.8h1.7v1.7h-1.7zM208.0,201.6h1.7v1.7h-1.7zM265.4,200.4h1.7v1.7h-1.7zM259.1,196.9h1.7v1.7h-1.7zM266.8,199.3h1.7v1.7h-1.7zM226.2,196.0h1.7v1.7h-1.7zM211.6,194.0h1.7v1.7h-1.7zM261.3,195.8h1.7v1.7h-1.7zM206.3,200.2h1.7v1.7h-1.7zM261.5,200.6h1.7v1.7h-1.7zM253.1,203.6h1.7v1.7h-1.7zM237.6,192.4h1.7v1.7h-1.7zM205.6,188.5h1.7v1.7h-1.7zM261.4,187.3h1.7v1.7h-1.7zM263.7,198.9h1.7v1.7h-1.7zM245.1,180.2h1.7v1.7h-1.7zM195.2,185.1h1.7v1.7h-1.7zM209.6,199.1h1.7v1.7h-1.7zM241.3,199.0h1.7v1.7h-1.7zM208.5,200.7h1.7v1.7h-1.7zM196.2,197.8h1.7v1.7h-1.7zM220.5,203.9h1.7v1.7h-1.7zM226.8,201.1h1.7v1.7h-1.7zM221.5,195.9h1.7v1.7h-1.7zM231.9,195.5h1.7v1.7h-1.7zM219.0,199.5h1.7v1.7h-1.7zM212.2,193.3h1.7v1.7h-1.7zM200.7,198.0h1.7v1.7h-1.7zM269.8,187.6h1.7v1.7h-1.7zM245.6,207.8h1.7v1.7h-1.7zM246.1,200.2h1.7v1.7h-1.7zM203.6,193.7h1.7v1.7h-1.7zM218.8,197.4h1.7v1.7h-1.7zM244.7,193.4h1.7v1.7h-1.7zM216.2,199.4h1.7v1.7h-1.7zM234.5,200.4h1.7v1.7h-1.7zM264.6,195.0h1.7v1.7h-1.7zM244.1,201.1h1.7v1.7h-1.7zM215.3,203.4h1.7v1.7h-1.7zM234.7,194.3h1.7v1.7h-1.7zM266.6,204.7h1.7v1.7h-1.7zM203.8,183.7h1.7v1.7h-1.7zM202.6,195.3h1.7v1.7h-1.7zM248.9,204.0h1.7v1.7h-1.7zM244.1,204.0h1.7v1.7h-1.7zM230.4,190.4h1.7v1.7h-1.7zM246.3,197.3h1.7v1.7h-1.7zM206.9,209.9h1.7v1.7h-1.7zM215.3,205.1h1.7v1.7h-1.7zM252.2,191.8h1.7v1.7h-1.7zM264.9,200.5h1.7v1.7h-1.7zM241.7,195.8h1.7v1.7h-1.7zM243.7,204.6h1.7v1.7h-1.7zM265.2,189.9h1.7v1.7h-1.7zM196.1,192.7h1.7v1.7h-1.7zM209.1,198.6h1.7v1.7h-1.7zM254.5,195.4h1.7v1.7h-1.7zM249.6,196.3h1.7v1.7h-1.7zM193.8,182.7h1.7v1.7h-1.7zM242.0,204.9h1.7v1.7h-1.7zM207.8,197.3h1.7v1.7h-1.7zM222.7,192.1h1.7v1.7h-1.7zM220.9,219.7h1.7v1.7h-1.7zM244.4,200.8h1.7v1.7h-1.7zM269.7,190.2h1.7v1.7h-1.7zM228.9,204.1h1.7v1.7h-1.7zM231.7,191.4h1.7v1.7h-1.7zM268.4,206.1h1.7v1.7h-1.7zM239.7,219.7h1.7v1.7h-1.7zM211.2,204.9h1.7v1.7h-1.7zM262.0,205.5h1.7v1.7h-1.7zM215.3,203.1h1.7v1.7h-1.7zM196.1,216.3h1.7v1.7h-1.7zM219.3,213.5h1.7v1.7h-1.7zM222.3,187.0h1.7v1.7h-1.7zM254.8,198.8h1.7v1.7h-1.7zM217.2,198.2h1.7v1.7h-1.7zM241.7,206.5h1.7v1.7h-1.7zM220.8,198.7h1.7v1.7h-1.7zM232.4,198.2h1.7v1.7h-1.7zM205.1,196.1h1.7v1.7h-1.7zM209.3,203.6h1.7v1.7h-1.7zM228.4,200.3h1.7v1.7h-1.7zM262.3,198.9h1.7v1.7h-1.7zM212.0,219.7h1.7v1.7h-1.7zM203.2,216.2h1.7v1.7h-1.7zM202.3,202.2h1.7v1.7h-1.7zM256.6,195.6h1.7v1.7h-1.7zM220.3,195.0h1.7v1.7h-1.7zM224.1,207.3h1.7v1.7h-1.7zM204.4,193.8h1.7v1.7h-1.7zM231.8,200.4h1.7v1.7h-1.7zM220.8,194.4h1.7v1.7h-1.7zM202.2,190.2h1.7v1.7h-1.7zM243.8,192.4h1.7v1.7h-1.7zM229.0,203.5h1.7v1.7h-1.7zM222.2,194.4h1.7v1.7h-1.7zM206.7,190.6h1.7v1.7h-1.7zM230.1,187.3h1.7v1.7h-1.7zM198.9,189.8h1.7v1.7h-1.7zM219.4,191.2h1.7v1.7h-1.7zM219.8,195.3h1.7v1.7h-1.7zM197.4,210.7h1.7v1.7h-1.7zM236.8,191.1h1.7v1.7h-1.7zM253.4,175.8h1.7v1.7h-1.7zM197.9,197.6h1.7v1.7h-1.7zM253.2,212.9h1.7v1.7h-1.7zM216.7,195.1h1.7v1.7h-1.7zM271.3,181.9h1.7v1.7h-1.7zM249.4,219.7h1.7v1.7h-1.7zM196.4,189.7h1.7v1.7h-1.7zM239.8,196.9h1.7v1.7h-1.7zM202.2,192.8h1.7v1.7h-1.7zM231.9,198.6h1.7v1.7h-1.7zM196.1,199.6h1.7v1.7h-1.7zM253.1,194.3h1.7v1.7h-1.7zM250.7,194.5h1.7v1.7h-1.7zM229.3,197.8h1.7v1.7h-1.7zM207.4,196.8h1.7v1.7h-1.7zM199.1,191.3h1.7v1.7h-1.7zM231.0,196.0h1.7v1.7h-1.7zM239.6,198.7h1.7v1.7h-1.7zM197.7,219.7h1.7v1.7h-1.7zM234.8,198.9h1.7v1.7h-1.7zM205.2,189.7h1.7v1.7h-1.7zM247.6,198.5h1.7v1.7h-1.7zM211.5,192.4h1.7v1.7h-1.7zM269.5,202.8h1.7v1.7h-1.7zM260.6,197.9h1.7v1.7h-1.7zM236.6,189.8h1.7v1.7h-1.7zM256.6,191.2h1.7v1.7h-1.7zM196.4,200.4h1.7v1.7h-1.7zM225.8,189.3h1.7v1.7h-1.7zM207.1,192.7h1.7v1.7h-1.7zM218.4,197.2h1.7v1.7h-1.7zM226.0,192.9h1.7v1.7h-1.7zM211.1,198.1h1.7v1.7h-1.7zM242.7,200.1h1.7v1.7h-1.7zM266.8,204.1h1.7v1.7h-1.7zM201.3,209.1h1.7v1.7h-1.7zM239.7,208.6h1.7v1.7h-1.7zM206.7,191.8h1.7v1.7h-1.7zM264.4,199.6h1.7v1.7h-1.7zM203.8,188.7h1.7v1.7h-1.7zM261.8,194.2h1.7v1.7h-1.7zM229.9,191.1h1.7v1.7h-1.7zM233.0,189.9h1.7v1.7h-1.7zM210.6,189.2h1.7v1.7h-1.7zM207.2,202.0h1.7v1.7h-1.7zM225.8,196.9h1.7v1.7h-1.7zM239.7,189.6h1.7v1.7h-1.7zM217.2,198.9h1.7v1.7h-1.7zM271.3,192.7h1.7v1.7h-1.7zM250.7,199.3h1.7v1.7h-1.7zM217.2,196.0h1.7v1.7h-1.7zM220.7,199.6h1.7v1.7h-1.7zM231.4,185.0h1.7v1.7h-1.7zM267.1,204.6h1.7v1.7h-1.7zM234.0,198.3h1.7v1.7h-1.7zM215.7,195.1h1.7v1.7h-1.7zM245.6,187.2h1.7v1.7h-1.7zM209.7,187.9h1.7v1.7h-1.7zM253.1,193.1h1.7v1.7h-1.7zM272.7,187.2h1.7v1.7h-1.7zM197.2,195.2h1.7v1.7h-1.7zM205.6,195.9h1.7v1.7h-1.7zM265.4,196.9h1.7v1.7h-1.7zM204.1,188.4h1.7v1.7h-1.7zM264.7,188.7h1.7v1.7h-1.7zM260.9,199.9h1.7v1.7h-1.7zM248.5,196.5h1.7v1.7h-1.7zM262.0,201.8h1.7v1.7h-1.7zM255.7,189.6h1.7v1.7h-1.7zM207.1,194.5h1.7v1.7h-1.7zM251.4,184.5h1.7v1.7h-1.7zM250.4,207.8h1.7v1.7h-1.7zM220.1,180.4h1.7v1.7h-1.7zM266.5,186.1h1.7v1.7h-1.7zM229.8,197.7h1.7v1.7h-1.7zM214.8,202.7h1.7v1.7h-1.7zM193.9,188.4h1.7v1.7h-1.7zM228.0,187.5h1.7v1.7h-1.7zM205.9,187.1h1.7v1.7h-1.7zM218.6,201.3h1.7v1.7h-1.7zM214.6,203.3h1.7v1.7h-1.7zM212.4,195.9h1.7v1.7h-1.7zM244.3,193.2h1.7v1.7h-1.7zM263.9,196.2h1.7v1.7h-1.7zM207.8,197.0h1.7v1.7h-1.7zM258.4,197.6h1.7v1.7h-1.7zM262.7,191.7h1.7v1.7h-1.7zM231.0,200.7h1.7v1.7h-1.7zM209.9,188.4h1.7v1.7h-1.7zM243.0,193.9h1.7v1.7h-1.7zM251.9,194.1h1.7v1.7h-1.7zM259.8,199.8h1.7v1.7h-1.7zM200.6,195.1h1.7v1.7h-1.7zM270.5,201.8h1.7v1.7h-1.7zM253.0,200.8h1.7v1.7h-1.7zM224.5,194.2h1.7v1.7h-1.7zM215.1,202.4h1.7v1.7h-1.7zM215.1,192.9h1.7v1.7h-1.7zM211.2,192.0h1.7v1.7h-1.7zM224.5,212.4h1.7v1.7h-1.7zM195.3,200.3h1.7v1.7h-1.7zM226.5,212.1h1.7v1.7h-1.7zM209.4,197.4h1.7v1.7h-1.7zM242.6,196.2h1.7v1.7h-1.7zM233.1,188.2h1.7v1.7h-1.7zM199.0,203.4h1.7v1.7h-1.7zM267.4,198.8h1.7v1.7h-1.7zM200.3,180.7h1.7v1.7h-1.7zM237.0,186.4h1.7v1.7h-1.7zM226.3,192.8h1.7v1.7h-1.7zM263.7,184.9h1.7v1.7h-1.7zM222.8,201.7h1.7v1.7h-1.7zM218.7,196.6h1.7v1.7h-1.7zM256.9,198.3h1.7v1.7h-1.7zM203.0,197.2h1.7v1.7h-1.7zM204.5,181.7h1.7v1.7h-1.7zM216.4,195.0h1.7v1.7h-1.7zM267.6,176.5h1.7v1.7h-1.7zM215.5,202.0h1.7v1.7h-1.7zM266.0,198.2h1.7v1.7h-1.7zM241.8,192.6h1.7v1.7h-1.7zM212.2,204.4h1.7v1.7h-1.7zM227.3,218.9h1.7v1.7h-1.7zM248.3,187.9h1.7v1.7h-1.7zM206.6,189.2h1.7v1.7h-1.7zM230.8,196.8h1.7v1.7h-1.7zM206.5,199.8h1.7v1.7h-1.7zM231.6,187.1h1.7v1.7h-1.7zM240.5,191.4h1.7v1.7h-1.7zM206.9,189.6h1.7v1.7h-1.7zM225.8,202.2h1.7v1.7h-1.7zM215.5,199.0h1.7v1.7h-1.7zM249.7,190.1h1.7v1.7h-1.7zM247.2,192.8h1.7v1.7h-1.7zM205.9,192.1h1.7v1.7h-1.7zM236.9,195.0h1.7v1.7h-1.7zM223.0,206.4h1.7v1.7h-1.7zM216.6,204.4h1.7v1.7h-1.7zM227.7,200.2h1.7v1.7h-1.7zM196.4,191.7h1.7v1.7h-1.7zM228.9,201.1h1.7v1.7h-1.7zM217.9,194.1h1.7v1.7h-1.7zM237.4,191.6h1.7v1.7h-1.7zM247.9,207.0h1.7v1.7h-1.7zM268.4,193.2h1.7v1.7h-1.7zM227.2,199.9h1.7v1.7h-1.7zM226.9,199.0h1.7v1.7h-1.7zM259.1,192.8h1.7v1.7h-1.7zM204.9,197.9h1.7v1.7h-1.7zM205.4,208.1h1.7v1.7h-1.7zM240.9,196.8h1.7v1.7h-1.7zM207.9,187.0h1.7v1.7h-1.7zM256.6,206.9h1.7v1.7h-1.7zM253.5,192.7h1.7v1.7h-1.7zM222.0,189.8h1.7v1.7h-1.7zM242.4,195.9h1.7v1.7h-1.7zM234.8,211.7h1.7v1.7h-1.7zM271.9,194.5h1.7v1.7h-1.7zM200.8,212.1h1.7v1.7h-1.7zM249.5,182.7h1.7v1.7h-1.7zM243.2,196.8h1.7v1.7h-1.7zM246.6,198.1h1.7v1.7h-1.7zM217.0,196.4h1.7v1.7h-1.7zM215.7,191.1h1.7v1.7h-1.7zM271.9,184.1h1.7v1.7h-1.7zM247.7,191.9h1.7v1.7h-1.7zM220.5,194.9h1.7v1.7h-1.7zM264.2,196.0h1.7v1.7h-1.7zM225.5,195.1h1.7v1.7h-1.7zM220.5,187.3h1.7v1.7h-1.7zM194.5,190.1h1.7v1.7h-1.7zM267.2,207.7h1.7v1.7h-1.7zM239.8,203.5h1.7v1.7h-1.7zM200.1,195.4h1.7v1.7h-1.7zM254.1,200.0h1.7v1.7h-1.7zM264.5,201.2h1.7v1.7h-1.7zM260.4,200.1h1.7v1.7h-1.7zM271.2,190.8h1.7v1.7h-1.7zM205.8,198.0h1.7v1.7h-1.7zM210.9,195.7h1.7v1.7h-1.7zM254.3,180.6h1.7v1.7h-1.7zM241.8,186.0h1.7v1.7h-1.7zM269.8,195.5h1.7v1.7h-1.7zM248.8,196.6h1.7v1.7h-1.7zM221.7,199.1h1.7v1.7h-1.7zM246.7,197.7h1.7v1.7h-1.7zM222.3,197.7h1.7v1.7h-1.7zM232.4,196.6h1.7v1.7h-1.7zM226.5,191.5h1.7v1.7h-1.7zM215.4,194.4h1.7v1.7h-1.7zM207.5,208.4h1.7v1.7h-1.7zM253.1,198.7h1.7v1.7h-1.7zM229.7,201.6h1.7v1.7h-1.7zM242.6,189.3h1.7v1.7h-1.7zM235.5,194.8h1.7v1.7h-1.7zM228.9,202.4h1.7v1.7h-1.7zM204.7,198.5h1.7v1.7h-1.7zM196.2,202.3h1.7v1.7h-1.7zM231.3,203.9h1.7v1.7h-1.7zM211.3,197.8h1.7v1.7h-1.7zM266.8,190.4h1.7v1.7h-1.7zM243.9,192.6h1.7v1.7h-1.7zM198.6,189.4h1.7v1.7h-1.7zM214.5,178.7h1.7v1.7h-1.7zM193.9,192.5h1.7v1.7h-1.7zM261.2,193.0h1.7v1.7h-1.7zM202.7,219.7h1.7v1.7h-1.7zM264.9,189.3h1.7v1.7h-1.7zM263.2,197.6h1.7v1.7h-1.7zM239.6,195.8h1.7v1.7h-1.7zM223.4,195.6h1.7v1.7h-1.7zM230.3,184.6h1.7v1.7h-1.7zM197.1,201.4h1.7v1.7h-1.7zM203.4,194.1h1.7v1.7h-1.7zM196.6,207.2h1.7v1.7h-1.7zM269.7,195.8h1.7v1.7h-1.7zM195.7,191.2h1.7v1.7h-1.7zM261.1,204.1h1.7v1.7h-1.7zM200.7,189.9h1.7v1.7h-1.7zM268.0,204.8h1.7v1.7h-1.7zM243.5,201.6h1.7v1.7h-1.7zM258.9,200.5h1.7v1.7h-1.7zM216.2,191.2h1.7v1.7h-1.7zM195.4,193.9h1.7v1.7h-1.7zM232.9,190.9h1.7v1.7h-1.7zM237.2,192.7h1.7v1.7h-1.7zM237.1,189.6h1.7v1.7h-1.7zM218.5,183.2h1.7v1.7h-1.7zM257.4,201.3h1.7v1.7h-1.7zM230.8,191.1h1.7v1.7h-1.7zM209.9,206.1h1.7v1.7h-1.7zM228.2,190.9h1.7v1.7h-1.7zM230.4,196.2h1.7v1.7h-1.7zM205.1,192.8h1.7v1.7h-1.7zM197.4,187.4h1.7v1.7h-1.7zM194.9,196.2h1.7v1.7h-1.7zM245.0,192.9h1.7v1.7h-1.7zM202.0,194.7h1.7v1.7h-1.7zM253.6,193.8h1.7v1.7h-1.7zM246.4,193.3h1.7v1.7h-1.7zM254.3,194.9h1.7v1.7h-1.7zM237.4,195.4h1.7v1.7h-1.7zM243.6,202.3h1.7v1.7h-1.7zM215.0,196.7h1.7v1.7h-1.7zM244.6,175.8h1.7v1.7h-1.7zM194.0,194.9h1.7v1.7h-1.7zM252.4,194.8h1.7v1.7h-1.7zM205.7,195.1h1.7v1.7h-1.7zM213.8,211.0h1.7v1.7h-1.7zM243.3,205.8h1.7v1.7h-1.7zM265.1,198.8h1.7v1.7h-1.7zM201.8,198.0h1.7v1.7h-1.7zM250.0,199.1h1.7v1.7h-1.7zM230.1,193.5h1.7v1.7h-1.7zM265.0,198.9h1.7v1.7h-1.7zM210.1,201.9h1.7v1.7h-1.7zM209.4,204.4h1.7v1.7h-1.7zM195.9,190.1h1.7v1.7h-1.7zM201.9,193.4h1.7v1.7h-1.7zM250.0,194.3h1.7v1.7h-1.7zM258.6,198.0h1.7v1.7h-1.7zM232.9,202.2h1.7v1.7h-1.7zM223.7,219.7h1.7v1.7h-1.7zM215.0,194.5h1.7v1.7h-1.7zM239.4,203.7h1.7v1.7h-1.7zM271.8,189.8h1.7v1.7h-1.7zM251.5,200.2h1.7v1.7h-1.7zM240.5,205.1h1.7v1.7h-1.7zM206.2,198.5h1.7v1.7h-1.7zM251.8,192.4h1.7v1.7h-1.7zM269.6,199.3h1.7v1.7h-1.7zM258.4,209.4h1.7v1.7h-1.7zM254.1,188.8h1.7v1.7h-1.7zM228.9,202.6h1.7v1.7h-1.7zM227.2,195.8h1.7v1.7h-1.7zM260.6,198.9h1.7v1.7h-1.7zM237.8,189.1h1.7v1.7h-1.7zM228.3,196.2h1.7v1.7h-1.7zM239.6,196.4h1.7v1.7h-1.7zM207.8,185.0h1.7v1.7h-1.7zM208.2,204.9h1.7v1.7h-1.7zM201.8,207.2h1.7v1.7h-1.7zM214.1,197.0h1.7v1.7h-1.7zM230.8,204.2h1.7v1.7h-1.7zM237.6,209.2h1.7v1.7h-1.7zM231.1,207.7h1.7v1.7h-1.7zM210.6,193.2h1.7v1.7h-1.7zM200.8,214.4h1.7v1.7h-1.7zM231.3,197.8h1.7v1.7h-1.7zM229.1,203.7h1.7v1.7h-1.7zM253.0,180.7h1.7v1.7h-1.7zM260.7,195.9h1.7v1.7h-1.7zM203.5,193.1h1.7v1.7h-1.7zM229.4,191.6h1.7v1.7h-1.7zM266.3,181.0h1.7v1.7h-1.7zM217.1,181.6h1.7v1.7h-1.7zM257.7,199.6h1.7v1.7h-1.7zM229.1,195.5h1.7v1.7h-1.7zM245.7,196.7h1.7v1.7h-1.7zM257.0,186.6h1.7v1.7h-1.7zM262.4,197.1h1.7v1.7h-1.7zM262.1,185.9h1.7v1.7h-1.7zM254.3,212.7h1.7v1.7h-1.7zM241.6,196.3h1.7v1.7h-1.7zM270.4,196.3h1.7v1.7h-1.7zM211.4,196.5h1.7v1.7h-1.7zM205.2,193.3h1.7v1.7h-1.7zM247.0,185.7h1.7v1.7h-1.7zM213.2,202.0h1.7v1.7h-1.7zM213.3,198.2h1.7v1.7h-1.7zM272.3,183.0h1.7v1.7h-1.7zM217.5,198.4h1.7v1.7h-1.7zM243.3,207.8h1.7v1.7h-1.7zM267.4,196.0h1.7v1.7h-1.7zM254.7,208.8h1.7v1.7h-1.7zM261.2,194.2h1.7v1.7h-1.7zM221.8,179.3h1.7v1.7h-1.7zM248.0,190.7h1.7v1.7h-1.7zM256.2,193.7h1.7v1.7h-1.7zM204.2,198.5h1.7v1.7h-1.7zM265.9,204.2h1.7v1.7h-1.7zM210.6,219.7h1.7v1.7h-1.7zM251.3,195.5h1.7v1.7h-1.7zM221.8,197.3h1.7v1.7h-1.7zM223.9,204.1h1.7v1.7h-1.7zM200.6,197.3h1.7v1.7h-1.7zM227.7,193.2h1.7v1.7h-1.7zM257.0,196.0h1.7v1.7h-1.7zM260.5,203.1h1.7v1.7h-1.7zM245.5,197.5h1.7v1.7h-1.7zM254.3,187.6h1.7v1.7h-1.7zM202.8,203.2h1.7v1.7h-1.7zM250.8,195.1h1.7v1.7h-1.7zM246.7,203.1h1.7v1.7h-1.7zM270.9,191.2h1.7v1.7h-1.7zM219.2,188.0h1.7v1.7h-1.7zM242.5,192.6h1.7v1.7h-1.7zM238.4,182.3h1.7v1.7h-1.7zM268.8,195.6h1.7v1.7h-1.7zM254.3,197.9h1.7v1.7h-1.7zM195.5,195.5h1.7v1.7h-1.7zM204.3,212.1h1.7v1.7h-1.7zM269.3,174.1h1.7v1.7h-1.7zM207.7,191.8h1.7v1.7h-1.7zM224.2,197.2h1.7v1.7h-1.7zM239.3,208.9h1.7v1.7h-1.7zM264.1,197.6h1.7v1.7h-1.7zM254.5,180.6h1.7v1.7h-1.7zM215.4,202.0h1.7v1.7h-1.7zM229.4,176.8h1.7v1.7h-1.7zM207.7,196.3h1.7v1.7h-1.7zM207.7,189.3h1.7v1.7h-1.7zM223.2,195.2h1.7v1.7h-1.7zM271.1,191.5h1.7v1.7h-1.7zM205.5,196.2h1.7v1.7h-1.7zM253.0,195.5h1.7v1.7h-1.7zM209.4,200.1h1.7v1.7h-1.7zM217.0,198.1h1.7v1.7h-1.7zM263.4,196.9h1.7v1.7h-1.7zM251.6,177.8h1.7v1.7h-1.7zM255.7,189.0h1.7v1.7h-1.7zM230.0,191.3h1.7v1.7h-1.7zM243.9,191.7h1.7v1.7h-1.7zM244.2,187.7h1.7v1.7h-1.7zM266.2,192.2h1.7v1.7h-1.7zM215.8,208.7h1.7v1.7h-1.7zM254.2,189.4h1.7v1.7h-1.7zM213.8,189.7h1.7v1.7h-1.7zM245.7,197.7h1.7v1.7h-1.7zM226.0,211.7h1.7v1.7h-1.7zM212.3,201.1h1.7v1.7h-1.7zM210.2,194.5h1.7v1.7h-1.7zM220.4,198.5h1.7v1.7h-1.7zM247.5,193.4h1.7v1.7h-1.7zM244.5,199.2h1.7v1.7h-1.7zM226.2,193.3h1.7v1.7h-1.7zM246.9,215.0h1.7v1.7h-1.7zM217.4,189.4h1.7v1.7h-1.7zM245.1,200.1h1.7v1.7h-1.7zM204.2,200.1h1.7v1.7h-1.7zM199.8,194.5h1.7v1.7h-1.7zM194.6,200.5h1.7v1.7h-1.7zM245.9,208.0h1.7v1.7h-1.7zM261.5,189.9h1.7v1.7h-1.7zM260.2,196.8h1.7v1.7h-1.7zM238.4,199.9h1.7v1.7h-1.7zM262.8,187.6h1.7v1.7h-1.7zM225.1,185.3h1.7v1.7h-1.7zM219.2,189.5h1.7v1.7h-1.7zM216.6,206.0h1.7v1.7h-1.7zM225.1,198.9h1.7v1.7h-1.7zM241.3,194.6h1.7v1.7h-1.7zM244.6,193.0h1.7v1.7h-1.7zM215.5,196.3h1.7v1.7h-1.7zM262.1,199.4h1.7v1.7h-1.7zM251.6,187.3h1.7v1.7h-1.7zM197.5,202.3h1.7v1.7h-1.7zM237.6,201.5h1.7v1.7h-1.7zM269.3,219.9h1.7v1.7h-1.7zM199.9,199.7h1.7v1.7h-1.7zM261.5,199.5h1.7v1.7h-1.7zM200.9,197.6h1.7v1.7h-1.7zM231.8,205.8h1.7v1.7h-1.7zM221.1,202.3h1.7v1.7h-1.7zM212.0,196.9h1.7v1.7h-1.7zM251.9,190.0h1.7v1.7h-1.7zM260.7,193.5h1.7v1.7h-1.7zM202.1,196.5h1.7v1.7h-1.7zM269.7,187.1h1.7v1.7h-1.7zM205.9,196.8h1.7v1.7h-1.7zM237.1,188.1h1.7v1.7h-1.7zM208.7,198.1h1.7v1.7h-1.7zM257.1,194.8h1.7v1.7h-1.7zM203.5,197.6h1.7v1.7h-1.7zM253.0,216.0h1.7v1.7h-1.7zM243.6,198.9h1.7v1.7h-1.7zM211.1,182.2h1.7v1.7h-1.7zM234.5,200.6h1.7v1.7h-1.7zM272.2,194.5h1.7v1.7h-1.7zM266.9,198.1h1.7v1.7h-1.7zM216.0,197.3h1.7v1.7h-1.7zM249.5,189.9h1.7v1.7h-1.7zM257.1,197.3h1.7v1.7h-1.7zM229.1,199.6h1.7v1.7h-1.7zM239.5,181.2h1.7v1.7h-1.7zM244.8,195.6h1.7v1.7h-1.7zM198.9,186.9h1.7v1.7h-1.7zM235.9,186.6h1.7v1.7h-1.7zM244.9,202.3h1.7v1.7h-1.7zM217.8,196.0h1.7v1.7h-1.7zM271.0,206.9h1.7v1.7h-1.7zM223.0,189.8h1.7v1.7h-1.7zM239.4,197.0h1.7v1.7h-1.7zM203.0,200.7h1.7v1.7h-1.7zM193.7,202.0h1.7v1.7h-1.7zM208.5,206.7h1.7v1.7h-1.7zM220.4,200.9h1.7v1.7h-1.7zM211.6,199.9h1.7v1.7h-1.7zM264.4,198.9h1.7v1.7h-1.7zM242.3,204.7h1.7v1.7h-1.7zM225.5,199.3h1.7v1.7h-1.7zM248.3,196.7h1.7v1.7h-1.7zM216.5,196.8h1.7v1.7h-1.7zM239.5,202.6h1.7v1.7h-1.7zM248.9,192.4h1.7v1.7h-1.7zM271.9,189.6h1.7v1.7h-1.7zM259.7,204.4h1.7v1.7h-1.7zM238.2,194.6h1.7v1.7h-1.7zM201.1,192.7h1.7v1.7h-1.7zM214.0,200.7h1.7v1.7h-1.7zM254.2,193.0h1.7v1.7h-1.7zM260.3,191.8h1.7v1.7h-1.7zM195.5,201.7h1.7v1.7h-1.7zM199.8,205.8h1.7v1.7h-1.7zM220.7,188.7h1.7v1.7h-1.7zM267.9,193.6h1.7v1.7h-1.7zM263.4,199.0h1.7v1.7h-1.7zM197.5,207.5h1.7v1.7h-1.7zM235.3,201.4h1.7v1.7h-1.7zM259.9,202.7h1.7v1.7h-1.7zM235.5,192.7h1.7v1.7h-1.7zM257.1,199.3h1.7v1.7h-1.7zM269.9,199.2h1.7v1.7h-1.7zM214.0,193.0h1.7v1.7h-1.7zM271.0,202.2h1.7v1.7h-1.7zM231.1,196.7h1.7v1.7h-1.7zM213.6,195.3h1.7v1.7h-1.7zM218.5,200.2h1.7v1.7h-1.7zM264.0,201.1h1.7v1.7h-1.7zM272.1,190.8h1.7v1.7h-1.7zM271.0,192.4h1.7v1.7h-1.7zM201.4,192.3h1.7v1.7h-1.7zM250.2,195.1h1.7v1.7h-1.7zM255.7,190.3h1.7v1.7h-1.7zM201.7,183.0h1.7v1.7h-1.7zM256.3,199.1h1.7v1.7h-1.7zM270.2,180.3h1.7v1.7h-1.7zM197.9,190.1h1.7v1.7h-1.7zM201.2,178.1h1.7v1.7h-1.7zM208.2,207.4h1.7v1.7h-1.7zM229.7,189.3h1.7v1.7h-1.7zM248.9,194.6h1.7v1.7h-1.7zM252.9,192.1h1.7v1.7h-1.7zM196.8,204.0h1.7v1.7h-1.7zM206.3,194.3h1.7v1.7h-1.7zM258.4,206.8h1.7v1.7h-1.7zM228.6,196.1h1.7v1.7h-1.7zM237.6,201.4h1.7v1.7h-1.7zM199.5,197.0h1.7v1.7h-1.7zM252.5,194.9h1.7v1.7h-1.7zM244.3,187.3h1.7v1.7h-1.7zM213.9,195.3h1.7v1.7h-1.7zM200.8,194.9h1.7v1.7h-1.7zM234.2,192.1h1.7v1.7h-1.7zM262.8,199.2h1.7v1.7h-1.7zM207.2,197.8h1.7v1.7h-1.7zM259.3,199.4h1.7v1.7h-1.7zM231.8,192.6h1.7v1.7h-1.7zM220.5,195.9h1.7v1.7h-1.7zM247.9,200.9h1.7v1.7h-1.7zM240.7,198.7h1.7v1.7h-1.7zM228.0,203.7h1.7v1.7h-1.7zM194.0,199.8h1.7v1.7h-1.7zM215.1,195.6h1.7v1.7h-1.7zM235.8,198.7h1.7v1.7h-1.7zM232.6,197.2h1.7v1.7h-1.7zM245.0,200.5h1.7v1.7h-1.7zM211.9,204.6h1.7v1.7h-1.7zM218.7,179.1h1.7v1.7h-1.7zM234.9,196.9h1.7v1.7h-1.7zM261.9,196.9h1.7v1.7h-1.7zM198.3,204.9h1.7v1.7h-1.7zM259.9,191.5h1.7v1.7h-1.7zM218.2,198.7h1.7v1.7h-1.7zM204.5,193.9h1.7v1.7h-1.7zM230.4,182.4h1.7v1.7h-1.7zM205.0,192.7h1.7v1.7h-1.7zM245.2,204.0h1.7v1.7h-1.7zM263.8,190.6h1.7v1.7h-1.7zM194.1,199.6h1.7v1.7h-1.7zM234.1,181.8h1.7v1.7h-1.7zM199.1,199.0h1.7v1.7h-1.7zM226.3,201.9h1.7v1.7h-1.7zM210.8,199.0h1.7v1.7h-1.7zM227.3,186.4h1.7v1.7h-1.7zM267.3,195.7h1.7v1.7h-1.7zM247.3,202.7h1.7v1.7h-1.7zM241.5,194.5h1.7v1.7h-1.7zM240.4,187.8h1.7v1.7h-1.7zM272.2,196.5h1.7v1.7h-1.7zM196.7,197.0h1.7v1.7h-1.7zM255.5,193.9h1.7v1.7h-1.7zM268.8,190.7h1.7v1.7h-1.7zM236.2,179.0h1.7v1.7h-1.7zM252.9,194.4h1.7v1.7h-1.7zM270.2,192.4h1.7v1.7h-1.7zM245.3,202.2h1.7v1.7h-1.7zM254.2,196.3h1.7v1.7h-1.7zM249.7,189.3h1.7v1.7h-1.7zM196.3,199.3h1.7v1.7h-1.7zM224.8,195.7h1.7v1.7h-1.7zM232.7,196.0h1.7v1.7h-1.7zM224.1,196.0h1.7v1.7h-1.7zM238.0,198.1h1.7v1.7h-1.7zM217.9,203.1h1.7v1.7h-1.7zM239.4,204.9h1.7v1.7h-1.7zM197.2,210.6h1.7v1.7h-1.7zM217.4,202.6h1.7v1.7h-1.7zM223.8,199.0h1.7v1.7h-1.7zM255.1,191.3h1.7v1.7h-1.7zM266.6,193.7h1.7v1.7h-1.7zM245.5,198.3h1.7v1.7h-1.7zM206.3,198.0h1.7v1.7h-1.7zM222.0,189.9h1.7v1.7h-1.7zM254.0,190.5h1.7v1.7h-1.7zM206.4,199.9h1.7v1.7h-1.7zM260.7,196.4h1.7v1.7h-1.7zM272.6,194.7h1.7v1.7h-1.7zM229.0,188.4h1.7v1.7h-1.7zM243.7,191.1h1.7v1.7h-1.7zM210.8,200.5h1.7v1.7h-1.7zM210.0,202.5h1.7v1.7h-1.7zM206.1,202.3h1.7v1.7h-1.7zM247.6,219.7h1.7v1.7h-1.7zM208.4,219.7h1.7v1.7h-1.7zM209.9,219.7h1.7v1.7h-1.7zM229.7,219.7h1.7v1.7h-1.7zM249.1,219.7h1.7v1.7h-1.7zM222.4,219.7h1.7v1.7h-1.7zM208.0,219.7h1.7v1.7h-1.7zM228.9,219.7h1.7v1.7h-1.7zM208.7,219.7h1.7v1.7h-1.7zM219.1,219.7h1.7v1.7h-1.7zM200.0,219.7h1.7v1.7h-1.7zM244.0,219.7h1.7v1.7h-1.7zM257.2,219.7h1.7v1.7h-1.7zM210.2,219.7h1.7v1.7h-1.7zM208.3,219.7h1.7v1.7h-1.7zM235.5,219.7h1.7v1.7h-1.7zM248.9,219.7h1.7v1.7h-1.7zM242.7,219.7h1.7v1.7h-1.7zM249.7,219.7h1.7v1.7h-1.7zM199.9,219.7h1.7v1.7h-1.7zM200.7,219.7h1.7v1.7h-1.7zM208.5,219.7h1.7v1.7h-1.7zM341.3,180.3h1.7v1.7h-1.7zM308.0,194.3h1.7v1.7h-1.7zM345.6,191.2h1.7v1.7h-1.7zM290.2,181.6h1.7v1.7h-1.7zM301.1,190.5h1.7v1.7h-1.7zM343.0,177.5h1.7v1.7h-1.7zM301.8,175.6h1.7v1.7h-1.7zM308.9,191.7h1.7v1.7h-1.7zM296.7,183.1h1.7v1.7h-1.7zM315.8,187.7h1.7v1.7h-1.7zM337.1,186.0h1.7v1.7h-1.7zM312.8,184.8h1.7v1.7h-1.7zM324.4,180.5h1.7v1.7h-1.7zM321.2,200.4h1.7v1.7h-1.7zM328.4,188.7h1.7v1.7h-1.7zM347.2,183.8h1.7v1.7h-1.7zM301.4,183.5h1.7v1.7h-1.7zM292.5,191.6h1.7v1.7h-1.7zM345.7,190.3h1.7v1.7h-1.7zM300.8,219.7h1.7v1.7h-1.7zM326.7,186.0h1.7v1.7h-1.7zM314.1,176.8h1.7v1.7h-1.7zM287.1,178.9h1.7v1.7h-1.7zM291.8,192.0h1.7v1.7h-1.7zM294.5,198.0h1.7v1.7h-1.7zM295.5,184.9h1.7v1.7h-1.7zM335.7,178.9h1.7v1.7h-1.7zM326.0,191.6h1.7v1.7h-1.7zM336.2,190.9h1.7v1.7h-1.7zM342.3,201.5h1.7v1.7h-1.7zM326.1,178.9h1.7v1.7h-1.7zM312.3,179.4h1.7v1.7h-1.7zM350.6,182.7h1.7v1.7h-1.7zM313.6,181.6h1.7v1.7h-1.7zM290.6,176.5h1.7v1.7h-1.7zM290.3,182.9h1.7v1.7h-1.7zM329.4,176.5h1.7v1.7h-1.7zM305.3,193.9h1.7v1.7h-1.7zM345.3,185.4h1.7v1.7h-1.7zM327.1,181.7h1.7v1.7h-1.7zM306.6,194.5h1.7v1.7h-1.7zM345.6,192.1h1.7v1.7h-1.7zM305.4,196.9h1.7v1.7h-1.7zM304.8,185.7h1.7v1.7h-1.7zM333.5,185.0h1.7v1.7h-1.7zM307.8,195.0h1.7v1.7h-1.7zM302.7,189.3h1.7v1.7h-1.7zM346.6,203.2h1.7v1.7h-1.7zM308.4,192.8h1.7v1.7h-1.7zM330.2,183.7h1.7v1.7h-1.7zM303.1,193.3h1.7v1.7h-1.7zM329.3,178.2h1.7v1.7h-1.7zM306.5,180.8h1.7v1.7h-1.7zM303.6,185.5h1.7v1.7h-1.7zM310.0,185.2h1.7v1.7h-1.7zM338.7,190.2h1.7v1.7h-1.7zM320.2,196.2h1.7v1.7h-1.7zM283.6,194.8h1.7v1.7h-1.7zM329.2,181.9h1.7v1.7h-1.7zM306.8,189.1h1.7v1.7h-1.7zM311.1,190.4h1.7v1.7h-1.7zM287.6,186.7h1.7v1.7h-1.7zM344.3,188.4h1.7v1.7h-1.7zM353.9,187.0h1.7v1.7h-1.7zM318.9,186.0h1.7v1.7h-1.7zM285.7,180.4h1.7v1.7h-1.7zM335.7,202.6h1.7v1.7h-1.7zM340.6,186.0h1.7v1.7h-1.7zM325.0,185.8h1.7v1.7h-1.7zM335.6,179.7h1.7v1.7h-1.7zM347.4,175.7h1.7v1.7h-1.7zM346.9,184.6h1.7v1.7h-1.7zM293.7,193.3h1.7v1.7h-1.7zM287.4,184.7h1.7v1.7h-1.7zM288.6,180.7h1.7v1.7h-1.7zM303.7,179.2h1.7v1.7h-1.7zM335.5,219.7h1.7v1.7h-1.7zM340.6,183.6h1.7v1.7h-1.7zM353.0,179.4h1.7v1.7h-1.7zM345.6,218.4h1.7v1.7h-1.7zM298.9,185.6h1.7v1.7h-1.7zM338.2,174.1h1.7v1.7h-1.7zM307.2,196.6h1.7v1.7h-1.7zM323.9,185.5h1.7v1.7h-1.7zM337.2,184.6h1.7v1.7h-1.7zM327.1,192.2h1.7v1.7h-1.7zM325.8,199.6h1.7v1.7h-1.7zM300.7,197.5h1.7v1.7h-1.7zM310.5,184.9h1.7v1.7h-1.7zM328.7,182.4h1.7v1.7h-1.7zM305.7,193.6h1.7v1.7h-1.7zM344.6,189.7h1.7v1.7h-1.7zM348.9,181.1h1.7v1.7h-1.7zM304.8,186.4h1.7v1.7h-1.7zM326.7,183.1h1.7v1.7h-1.7zM311.6,176.6h1.7v1.7h-1.7zM315.2,183.6h1.7v1.7h-1.7zM308.3,189.8h1.7v1.7h-1.7zM301.6,192.9h1.7v1.7h-1.7zM344.6,193.7h1.7v1.7h-1.7zM331.5,185.0h1.7v1.7h-1.7zM331.4,185.5h1.7v1.7h-1.7zM306.6,194.7h1.7v1.7h-1.7zM336.9,183.5h1.7v1.7h-1.7zM298.9,174.6h1.7v1.7h-1.7zM290.5,178.9h1.7v1.7h-1.7zM304.7,190.2h1.7v1.7h-1.7zM306.7,200.7h1.7v1.7h-1.7zM347.6,191.4h1.7v1.7h-1.7zM325.2,193.2h1.7v1.7h-1.7zM350.6,184.0h1.7v1.7h-1.7zM307.9,190.3h1.7v1.7h-1.7zM333.0,211.1h1.7v1.7h-1.7zM295.2,181.2h1.7v1.7h-1.7zM313.9,176.8h1.7v1.7h-1.7zM291.8,184.8h1.7v1.7h-1.7zM285.4,182.7h1.7v1.7h-1.7zM337.4,179.8h1.7v1.7h-1.7zM347.1,189.4h1.7v1.7h-1.7zM349.0,188.5h1.7v1.7h-1.7zM343.5,190.3h1.7v1.7h-1.7zM315.5,182.7h1.7v1.7h-1.7zM333.9,178.2h1.7v1.7h-1.7zM310.6,184.1h1.7v1.7h-1.7zM350.6,191.5h1.7v1.7h-1.7zM299.8,186.6h1.7v1.7h-1.7zM311.2,182.5h1.7v1.7h-1.7zM293.4,198.7h1.7v1.7h-1.7zM294.4,189.6h1.7v1.7h-1.7zM335.7,179.8h1.7v1.7h-1.7zM288.3,182.1h1.7v1.7h-1.7zM304.4,192.9h1.7v1.7h-1.7zM309.7,191.9h1.7v1.7h-1.7zM312.6,217.8h1.7v1.7h-1.7zM296.9,197.3h1.7v1.7h-1.7zM311.3,183.3h1.7v1.7h-1.7zM338.4,182.9h1.7v1.7h-1.7zM291.7,184.1h1.7v1.7h-1.7zM338.9,179.2h1.7v1.7h-1.7zM341.4,186.6h1.7v1.7h-1.7zM294.0,180.9h1.7v1.7h-1.7zM346.7,182.4h1.7v1.7h-1.7zM322.2,192.0h1.7v1.7h-1.7zM349.3,177.6h1.7v1.7h-1.7zM317.6,182.4h1.7v1.7h-1.7zM294.7,187.2h1.7v1.7h-1.7zM288.8,175.9h1.7v1.7h-1.7zM312.3,180.6h1.7v1.7h-1.7zM293.7,192.9h1.7v1.7h-1.7zM291.6,195.2h1.7v1.7h-1.7zM325.9,185.7h1.7v1.7h-1.7zM341.2,183.2h1.7v1.7h-1.7zM335.6,184.5h1.7v1.7h-1.7zM307.1,191.7h1.7v1.7h-1.7zM344.0,185.2h1.7v1.7h-1.7zM328.5,181.1h1.7v1.7h-1.7zM296.1,185.0h1.7v1.7h-1.7zM292.1,178.1h1.7v1.7h-1.7zM319.9,182.4h1.7v1.7h-1.7zM339.0,182.1h1.7v1.7h-1.7zM319.2,191.0h1.7v1.7h-1.7zM298.3,185.8h1.7v1.7h-1.7zM294.1,187.5h1.7v1.7h-1.7zM286.7,188.9h1.7v1.7h-1.7zM334.0,200.5h1.7v1.7h-1.7zM347.6,186.2h1.7v1.7h-1.7zM352.7,177.0h1.7v1.7h-1.7zM320.9,179.4h1.7v1.7h-1.7zM309.4,191.8h1.7v1.7h-1.7zM311.6,180.8h1.7v1.7h-1.7zM294.3,194.2h1.7v1.7h-1.7zM352.0,188.4h1.7v1.7h-1.7zM292.3,178.4h1.7v1.7h-1.7zM315.7,184.8h1.7v1.7h-1.7zM294.9,190.3h1.7v1.7h-1.7zM296.0,179.1h1.7v1.7h-1.7zM313.0,183.5h1.7v1.7h-1.7zM348.2,182.2h1.7v1.7h-1.7zM282.9,188.5h1.7v1.7h-1.7zM323.9,188.3h1.7v1.7h-1.7zM349.2,181.1h1.7v1.7h-1.7zM324.1,194.1h1.7v1.7h-1.7zM339.6,185.5h1.7v1.7h-1.7zM307.8,195.0h1.7v1.7h-1.7zM338.6,178.4h1.7v1.7h-1.7zM316.6,186.2h1.7v1.7h-1.7zM349.7,192.6h1.7v1.7h-1.7zM302.5,183.8h1.7v1.7h-1.7zM297.4,188.8h1.7v1.7h-1.7zM327.6,182.9h1.7v1.7h-1.7zM311.2,182.9h1.7v1.7h-1.7zM283.4,193.7h1.7v1.7h-1.7zM286.3,178.5h1.7v1.7h-1.7zM318.6,181.9h1.7v1.7h-1.7zM345.1,190.2h1.7v1.7h-1.7zM295.6,182.4h1.7v1.7h-1.7zM332.4,187.4h1.7v1.7h-1.7zM283.1,178.4h1.7v1.7h-1.7zM311.5,181.1h1.7v1.7h-1.7zM337.3,188.5h1.7v1.7h-1.7zM330.3,188.8h1.7v1.7h-1.7zM308.9,191.7h1.7v1.7h-1.7zM308.0,193.7h1.7v1.7h-1.7zM335.3,185.4h1.7v1.7h-1.7zM287.7,176.6h1.7v1.7h-1.7zM341.4,186.4h1.7v1.7h-1.7zM345.1,195.9h1.7v1.7h-1.7zM345.6,190.1h1.7v1.7h-1.7zM298.8,181.5h1.7v1.7h-1.7zM316.8,174.5h1.7v1.7h-1.7zM351.7,189.6h1.7v1.7h-1.7zM329.3,192.8h1.7v1.7h-1.7zM347.7,192.7h1.7v1.7h-1.7zM348.4,199.3h1.7v1.7h-1.7zM284.3,178.3h1.7v1.7h-1.7zM315.9,186.6h1.7v1.7h-1.7zM329.3,188.6h1.7v1.7h-1.7zM343.5,182.8h1.7v1.7h-1.7zM317.2,182.5h1.7v1.7h-1.7zM308.8,186.2h1.7v1.7h-1.7zM301.7,182.7h1.7v1.7h-1.7zM293.9,183.8h1.7v1.7h-1.7zM352.9,183.3h1.7v1.7h-1.7zM348.6,196.3h1.7v1.7h-1.7zM285.6,190.6h1.7v1.7h-1.7zM295.4,175.8h1.7v1.7h-1.7zM332.6,188.2h1.7v1.7h-1.7zM330.4,183.0h1.7v1.7h-1.7zM288.9,184.1h1.7v1.7h-1.7zM309.4,182.8h1.7v1.7h-1.7zM308.8,185.3h1.7v1.7h-1.7zM345.1,197.8h1.7v1.7h-1.7zM319.6,176.9h1.7v1.7h-1.7zM335.6,186.7h1.7v1.7h-1.7zM322.8,185.3h1.7v1.7h-1.7zM333.1,189.2h1.7v1.7h-1.7zM297.9,181.6h1.7v1.7h-1.7zM329.3,193.4h1.7v1.7h-1.7zM307.6,194.5h1.7v1.7h-1.7zM297.6,185.1h1.7v1.7h-1.7zM318.1,183.6h1.7v1.7h-1.7zM292.3,183.0h1.7v1.7h-1.7zM312.6,177.2h1.7v1.7h-1.7zM339.8,184.4h1.7v1.7h-1.7zM312.6,184.4h1.7v1.7h-1.7zM292.1,183.9h1.7v1.7h-1.7zM332.8,182.4h1.7v1.7h-1.7zM292.8,187.7h1.7v1.7h-1.7zM349.2,180.5h1.7v1.7h-1.7zM349.9,186.2h1.7v1.7h-1.7zM351.9,181.3h1.7v1.7h-1.7zM342.9,189.3h1.7v1.7h-1.7zM321.5,186.5h1.7v1.7h-1.7zM292.2,186.8h1.7v1.7h-1.7zM301.3,180.4h1.7v1.7h-1.7zM329.3,192.6h1.7v1.7h-1.7zM296.7,187.3h1.7v1.7h-1.7zM349.4,185.8h1.7v1.7h-1.7zM327.1,186.6h1.7v1.7h-1.7zM297.3,193.0h1.7v1.7h-1.7zM321.8,182.0h1.7v1.7h-1.7zM320.6,190.8h1.7v1.7h-1.7zM342.5,198.7h1.7v1.7h-1.7zM334.3,184.0h1.7v1.7h-1.7zM298.9,181.1h1.7v1.7h-1.7zM300.9,177.2h1.7v1.7h-1.7zM295.3,189.0h1.7v1.7h-1.7zM286.0,181.4h1.7v1.7h-1.7zM322.9,176.8h1.7v1.7h-1.7zM337.9,180.3h1.7v1.7h-1.7zM326.6,190.7h1.7v1.7h-1.7zM339.1,182.4h1.7v1.7h-1.7zM336.5,184.4h1.7v1.7h-1.7zM309.6,193.2h1.7v1.7h-1.7zM327.6,185.4h1.7v1.7h-1.7zM309.2,183.6h1.7v1.7h-1.7zM301.7,187.6h1.7v1.7h-1.7zM334.7,180.1h1.7v1.7h-1.7zM292.1,179.7h1.7v1.7h-1.7zM291.6,182.1h1.7v1.7h-1.7zM306.7,187.6h1.7v1.7h-1.7zM341.3,187.5h1.7v1.7h-1.7zM324.0,190.9h1.7v1.7h-1.7zM298.2,182.9h1.7v1.7h-1.7zM303.5,187.3h1.7v1.7h-1.7zM340.1,185.8h1.7v1.7h-1.7zM307.4,192.8h1.7v1.7h-1.7zM329.3,195.9h1.7v1.7h-1.7zM345.6,187.8h1.7v1.7h-1.7zM292.5,191.7h1.7v1.7h-1.7zM293.3,184.6h1.7v1.7h-1.7zM290.5,187.6h1.7v1.7h-1.7zM341.6,185.4h1.7v1.7h-1.7zM288.6,176.1h1.7v1.7h-1.7zM285.0,181.7h1.7v1.7h-1.7zM347.6,186.5h1.7v1.7h-1.7zM308.6,194.8h1.7v1.7h-1.7zM341.9,181.1h1.7v1.7h-1.7zM292.6,197.1h1.7v1.7h-1.7zM312.4,183.3h1.7v1.7h-1.7zM294.3,195.4h1.7v1.7h-1.7zM326.5,181.7h1.7v1.7h-1.7zM287.1,182.2h1.7v1.7h-1.7zM346.0,185.6h1.7v1.7h-1.7zM305.2,192.1h1.7v1.7h-1.7zM329.4,182.6h1.7v1.7h-1.7zM289.1,175.0h1.7v1.7h-1.7zM336.1,183.1h1.7v1.7h-1.7zM321.2,184.1h1.7v1.7h-1.7zM326.0,185.4h1.7v1.7h-1.7zM352.0,179.5h1.7v1.7h-1.7zM314.7,185.4h1.7v1.7h-1.7zM299.9,189.7h1.7v1.7h-1.7zM330.2,197.4h1.7v1.7h-1.7zM336.6,184.7h1.7v1.7h-1.7zM317.8,177.6h1.7v1.7h-1.7zM340.0,213.6h1.7v1.7h-1.7zM311.8,184.1h1.7v1.7h-1.7zM289.1,186.7h1.7v1.7h-1.7zM330.0,185.7h1.7v1.7h-1.7zM294.7,188.6h1.7v1.7h-1.7zM307.8,189.0h1.7v1.7h-1.7zM283.4,180.6h1.7v1.7h-1.7zM347.8,184.1h1.7v1.7h-1.7zM344.4,187.1h1.7v1.7h-1.7zM349.8,179.3h1.7v1.7h-1.7zM348.7,185.2h1.7v1.7h-1.7zM341.5,185.9h1.7v1.7h-1.7zM300.3,183.0h1.7v1.7h-1.7zM344.0,190.2h1.7v1.7h-1.7zM333.7,182.2h1.7v1.7h-1.7zM327.1,180.6h1.7v1.7h-1.7zM338.6,185.9h1.7v1.7h-1.7zM325.3,186.4h1.7v1.7h-1.7zM314.7,178.5h1.7v1.7h-1.7zM290.5,180.6h1.7v1.7h-1.7zM312.4,184.6h1.7v1.7h-1.7zM318.8,201.0h1.7v1.7h-1.7zM312.3,179.4h1.7v1.7h-1.7zM330.1,187.7h1.7v1.7h-1.7zM300.5,192.7h1.7v1.7h-1.7zM330.4,179.9h1.7v1.7h-1.7zM296.0,195.9h1.7v1.7h-1.7zM303.1,193.6h1.7v1.7h-1.7zM344.9,186.1h1.7v1.7h-1.7zM346.2,194.5h1.7v1.7h-1.7zM310.2,185.6h1.7v1.7h-1.7zM300.1,192.2h1.7v1.7h-1.7zM338.0,178.8h1.7v1.7h-1.7zM316.8,194.7h1.7v1.7h-1.7zM305.2,192.1h1.7v1.7h-1.7zM343.2,191.1h1.7v1.7h-1.7zM350.3,198.0h1.7v1.7h-1.7zM344.3,186.2h1.7v1.7h-1.7zM309.3,185.8h1.7v1.7h-1.7zM291.8,190.3h1.7v1.7h-1.7zM320.1,182.3h1.7v1.7h-1.7zM344.9,182.3h1.7v1.7h-1.7zM321.3,186.6h1.7v1.7h-1.7zM345.3,191.5h1.7v1.7h-1.7zM285.0,183.3h1.7v1.7h-1.7zM310.8,197.5h1.7v1.7h-1.7zM288.7,178.8h1.7v1.7h-1.7zM289.1,179.7h1.7v1.7h-1.7zM341.3,188.8h1.7v1.7h-1.7zM289.7,175.7h1.7v1.7h-1.7zM319.6,184.1h1.7v1.7h-1.7zM335.3,182.0h1.7v1.7h-1.7zM306.1,199.0h1.7v1.7h-1.7zM301.8,188.1h1.7v1.7h-1.7zM327.3,189.5h1.7v1.7h-1.7zM340.0,186.5h1.7v1.7h-1.7zM323.9,187.0h1.7v1.7h-1.7zM307.0,186.8h1.7v1.7h-1.7zM305.9,203.5h1.7v1.7h-1.7zM341.7,183.2h1.7v1.7h-1.7zM347.9,187.3h1.7v1.7h-1.7zM343.0,183.4h1.7v1.7h-1.7zM299.8,188.4h1.7v1.7h-1.7zM316.5,179.2h1.7v1.7h-1.7zM301.3,183.7h1.7v1.7h-1.7zM284.9,191.7h1.7v1.7h-1.7zM293.5,186.0h1.7v1.7h-1.7zM326.5,184.5h1.7v1.7h-1.7zM283.0,201.7h1.7v1.7h-1.7zM330.2,191.8h1.7v1.7h-1.7zM322.5,198.3h1.7v1.7h-1.7zM324.4,185.6h1.7v1.7h-1.7zM349.0,193.7h1.7v1.7h-1.7zM306.2,186.2h1.7v1.7h-1.7zM299.6,185.3h1.7v1.7h-1.7zM345.9,193.3h1.7v1.7h-1.7zM319.7,177.4h1.7v1.7h-1.7zM320.6,174.3h1.7v1.7h-1.7zM298.0,190.8h1.7v1.7h-1.7zM318.5,186.5h1.7v1.7h-1.7zM330.4,183.6h1.7v1.7h-1.7zM343.9,186.8h1.7v1.7h-1.7zM311.2,206.0h1.7v1.7h-1.7zM285.5,182.3h1.7v1.7h-1.7zM317.8,183.2h1.7v1.7h-1.7zM296.3,189.9h1.7v1.7h-1.7zM316.2,184.4h1.7v1.7h-1.7zM306.6,193.3h1.7v1.7h-1.7zM296.7,194.9h1.7v1.7h-1.7zM345.9,180.5h1.7v1.7h-1.7zM288.5,180.1h1.7v1.7h-1.7zM323.8,177.8h1.7v1.7h-1.7zM329.8,176.5h1.7v1.7h-1.7zM319.9,187.4h1.7v1.7h-1.7zM333.0,183.1h1.7v1.7h-1.7zM295.9,187.5h1.7v1.7h-1.7zM287.1,180.0h1.7v1.7h-1.7zM307.1,197.8h1.7v1.7h-1.7zM345.2,195.4h1.7v1.7h-1.7zM307.7,197.7h1.7v1.7h-1.7zM320.4,184.2h1.7v1.7h-1.7zM307.2,182.4h1.7v1.7h-1.7zM333.0,181.5h1.7v1.7h-1.7zM324.8,177.7h1.7v1.7h-1.7zM305.2,188.7h1.7v1.7h-1.7zM306.3,191.4h1.7v1.7h-1.7zM290.8,202.6h1.7v1.7h-1.7zM303.8,181.6h1.7v1.7h-1.7zM353.6,181.0h1.7v1.7h-1.7zM348.0,181.8h1.7v1.7h-1.7zM320.1,182.8h1.7v1.7h-1.7zM308.7,183.5h1.7v1.7h-1.7zM328.0,189.4h1.7v1.7h-1.7zM295.4,187.2h1.7v1.7h-1.7zM347.4,183.7h1.7v1.7h-1.7zM347.2,178.4h1.7v1.7h-1.7zM302.9,181.7h1.7v1.7h-1.7zM300.7,186.6h1.7v1.7h-1.7zM303.7,191.6h1.7v1.7h-1.7zM295.5,178.4h1.7v1.7h-1.7zM330.3,183.7h1.7v1.7h-1.7zM285.5,177.8h1.7v1.7h-1.7zM299.4,182.6h1.7v1.7h-1.7zM308.7,183.4h1.7v1.7h-1.7zM297.0,179.6h1.7v1.7h-1.7zM286.5,177.0h1.7v1.7h-1.7zM326.4,206.4h1.7v1.7h-1.7zM331.2,187.5h1.7v1.7h-1.7zM313.9,176.1h1.7v1.7h-1.7zM297.0,178.4h1.7v1.7h-1.7zM319.5,177.8h1.7v1.7h-1.7zM301.7,200.7h1.7v1.7h-1.7zM347.1,184.3h1.7v1.7h-1.7zM336.5,186.9h1.7v1.7h-1.7zM315.3,179.3h1.7v1.7h-1.7zM351.1,189.5h1.7v1.7h-1.7zM344.0,195.1h1.7v1.7h-1.7zM327.8,192.4h1.7v1.7h-1.7zM342.3,188.9h1.7v1.7h-1.7zM340.2,186.1h1.7v1.7h-1.7zM293.3,181.2h1.7v1.7h-1.7zM306.5,191.7h1.7v1.7h-1.7zM332.2,198.9h1.7v1.7h-1.7zM308.9,212.4h1.7v1.7h-1.7zM312.7,184.1h1.7v1.7h-1.7zM326.1,188.6h1.7v1.7h-1.7zM327.0,185.9h1.7v1.7h-1.7zM345.5,182.7h1.7v1.7h-1.7zM349.3,183.1h1.7v1.7h-1.7zM346.1,188.6h1.7v1.7h-1.7zM330.1,188.2h1.7v1.7h-1.7zM332.8,185.0h1.7v1.7h-1.7zM314.0,189.6h1.7v1.7h-1.7zM300.2,188.3h1.7v1.7h-1.7zM342.3,183.1h1.7v1.7h-1.7zM345.9,183.0h1.7v1.7h-1.7zM334.6,178.8h1.7v1.7h-1.7zM309.5,188.5h1.7v1.7h-1.7zM314.9,187.5h1.7v1.7h-1.7zM330.3,194.1h1.7v1.7h-1.7zM304.6,184.5h1.7v1.7h-1.7zM351.3,174.0h1.7v1.7h-1.7zM319.9,180.7h1.7v1.7h-1.7zM318.8,183.5h1.7v1.7h-1.7zM330.3,191.2h1.7v1.7h-1.7zM300.6,183.3h1.7v1.7h-1.7zM308.9,198.2h1.7v1.7h-1.7zM349.2,193.8h1.7v1.7h-1.7zM310.3,194.7h1.7v1.7h-1.7zM319.7,190.3h1.7v1.7h-1.7zM326.0,194.9h1.7v1.7h-1.7zM317.2,186.6h1.7v1.7h-1.7zM295.3,184.8h1.7v1.7h-1.7zM316.8,188.4h1.7v1.7h-1.7zM345.7,179.3h1.7v1.7h-1.7zM338.3,178.4h1.7v1.7h-1.7zM339.4,192.2h1.7v1.7h-1.7zM321.2,192.6h1.7v1.7h-1.7zM305.2,193.5h1.7v1.7h-1.7zM332.4,182.9h1.7v1.7h-1.7zM321.2,188.2h1.7v1.7h-1.7zM319.5,176.8h1.7v1.7h-1.7zM320.5,182.0h1.7v1.7h-1.7zM346.1,194.3h1.7v1.7h-1.7zM303.4,176.6h1.7v1.7h-1.7zM321.5,187.5h1.7v1.7h-1.7zM283.6,186.1h1.7v1.7h-1.7zM337.2,181.8h1.7v1.7h-1.7zM302.2,188.8h1.7v1.7h-1.7zM307.0,184.0h1.7v1.7h-1.7zM313.5,201.0h1.7v1.7h-1.7zM318.3,174.4h1.7v1.7h-1.7zM323.4,193.5h1.7v1.7h-1.7zM307.4,193.3h1.7v1.7h-1.7zM310.4,191.6h1.7v1.7h-1.7zM308.5,197.3h1.7v1.7h-1.7zM343.0,196.5h1.7v1.7h-1.7zM346.7,188.3h1.7v1.7h-1.7zM285.0,174.5h1.7v1.7h-1.7zM352.3,179.7h1.7v1.7h-1.7zM312.1,180.9h1.7v1.7h-1.7zM305.5,182.7h1.7v1.7h-1.7zM339.1,189.1h1.7v1.7h-1.7zM342.4,180.1h1.7v1.7h-1.7zM343.5,203.0h1.7v1.7h-1.7zM337.3,184.8h1.7v1.7h-1.7zM317.4,179.5h1.7v1.7h-1.7zM290.6,182.5h1.7v1.7h-1.7zM306.5,199.8h1.7v1.7h-1.7zM326.6,183.8h1.7v1.7h-1.7zM301.7,195.2h1.7v1.7h-1.7zM321.4,186.1h1.7v1.7h-1.7zM326.6,182.9h1.7v1.7h-1.7zM314.2,183.5h1.7v1.7h-1.7zM319.0,179.6h1.7v1.7h-1.7zM297.8,187.4h1.7v1.7h-1.7zM326.7,182.1h1.7v1.7h-1.7zM317.7,185.3h1.7v1.7h-1.7zM295.4,191.5h1.7v1.7h-1.7zM338.9,194.5h1.7v1.7h-1.7zM305.1,189.8h1.7v1.7h-1.7zM304.0,178.6h1.7v1.7h-1.7zM319.8,180.8h1.7v1.7h-1.7zM293.2,175.4h1.7v1.7h-1.7zM333.0,189.5h1.7v1.7h-1.7zM321.5,174.9h1.7v1.7h-1.7zM285.1,188.1h1.7v1.7h-1.7zM315.0,185.2h1.7v1.7h-1.7zM334.4,181.0h1.7v1.7h-1.7zM295.2,184.6h1.7v1.7h-1.7zM292.1,180.8h1.7v1.7h-1.7zM337.3,180.9h1.7v1.7h-1.7zM303.3,182.0h1.7v1.7h-1.7zM334.3,195.6h1.7v1.7h-1.7zM282.7,193.9h1.7v1.7h-1.7zM338.2,185.5h1.7v1.7h-1.7zM289.6,192.0h1.7v1.7h-1.7zM309.3,190.1h1.7v1.7h-1.7zM337.8,181.8h1.7v1.7h-1.7zM326.2,181.9h1.7v1.7h-1.7zM336.8,186.2h1.7v1.7h-1.7zM283.6,189.6h1.7v1.7h-1.7zM310.3,180.1h1.7v1.7h-1.7zM329.1,182.0h1.7v1.7h-1.7zM313.2,186.7h1.7v1.7h-1.7zM324.2,186.7h1.7v1.7h-1.7zM338.9,181.2h1.7v1.7h-1.7zM332.1,182.7h1.7v1.7h-1.7zM338.5,191.2h1.7v1.7h-1.7zM308.0,195.8h1.7v1.7h-1.7zM304.5,190.4h1.7v1.7h-1.7zM308.3,184.4h1.7v1.7h-1.7zM339.1,187.4h1.7v1.7h-1.7zM317.9,176.6h1.7v1.7h-1.7zM319.9,184.3h1.7v1.7h-1.7zM301.6,182.3h1.7v1.7h-1.7zM328.7,189.2h1.7v1.7h-1.7zM316.1,181.7h1.7v1.7h-1.7zM326.7,184.2h1.7v1.7h-1.7zM315.7,184.0h1.7v1.7h-1.7zM294.1,190.7h1.7v1.7h-1.7zM301.9,192.4h1.7v1.7h-1.7zM339.9,185.9h1.7v1.7h-1.7zM286.2,188.6h1.7v1.7h-1.7zM321.7,178.3h1.7v1.7h-1.7zM307.5,192.2h1.7v1.7h-1.7zM296.9,178.7h1.7v1.7h-1.7zM328.7,181.2h1.7v1.7h-1.7zM328.2,178.9h1.7v1.7h-1.7zM352.2,182.9h1.7v1.7h-1.7zM327.8,181.0h1.7v1.7h-1.7zM319.8,188.7h1.7v1.7h-1.7zM335.1,184.2h1.7v1.7h-1.7zM313.9,184.5h1.7v1.7h-1.7zM315.1,187.6h1.7v1.7h-1.7zM282.8,185.8h1.7v1.7h-1.7zM304.4,184.1h1.7v1.7h-1.7zM329.3,192.1h1.7v1.7h-1.7zM301.3,185.3h1.7v1.7h-1.7zM300.0,175.0h1.7v1.7h-1.7zM322.8,219.7h1.7v1.7h-1.7zM352.7,177.9h1.7v1.7h-1.7zM318.8,182.7h1.7v1.7h-1.7zM323.7,183.4h1.7v1.7h-1.7zM325.1,189.0h1.7v1.7h-1.7zM318.6,180.8h1.7v1.7h-1.7zM325.4,188.7h1.7v1.7h-1.7zM325.9,186.1h1.7v1.7h-1.7zM336.2,179.8h1.7v1.7h-1.7zM315.1,183.4h1.7v1.7h-1.7zM302.6,185.6h1.7v1.7h-1.7zM335.0,177.9h1.7v1.7h-1.7zM333.1,188.3h1.7v1.7h-1.7zM342.8,210.7h1.7v1.7h-1.7zM336.5,177.4h1.7v1.7h-1.7zM285.0,180.6h1.7v1.7h-1.7zM313.1,178.4h1.7v1.7h-1.7zM307.3,194.0h1.7v1.7h-1.7zM320.0,186.2h1.7v1.7h-1.7zM318.3,179.2h1.7v1.7h-1.7zM309.3,183.6h1.7v1.7h-1.7zM330.9,196.1h1.7v1.7h-1.7zM343.6,187.2h1.7v1.7h-1.7zM336.9,183.6h1.7v1.7h-1.7zM342.9,183.2h1.7v1.7h-1.7zM334.6,184.2h1.7v1.7h-1.7zM331.9,183.2h1.7v1.7h-1.7zM308.1,195.8h1.7v1.7h-1.7zM311.2,183.8h1.7v1.7h-1.7zM293.4,179.8h1.7v1.7h-1.7zM343.3,199.3h1.7v1.7h-1.7zM335.9,187.4h1.7v1.7h-1.7zM306.3,189.9h1.7v1.7h-1.7zM286.0,189.4h1.7v1.7h-1.7zM300.0,190.9h1.7v1.7h-1.7zM303.2,177.7h1.7v1.7h-1.7zM318.1,190.9h1.7v1.7h-1.7zM310.4,201.2h1.7v1.7h-1.7zM293.8,207.0h1.7v1.7h-1.7zM309.7,182.6h1.7v1.7h-1.7zM322.2,187.5h1.7v1.7h-1.7zM294.8,186.8h1.7v1.7h-1.7zM325.0,182.4h1.7v1.7h-1.7zM351.1,176.8h1.7v1.7h-1.7zM339.0,180.5h1.7v1.7h-1.7zM298.1,184.9h1.7v1.7h-1.7zM326.9,176.4h1.7v1.7h-1.7zM327.9,181.2h1.7v1.7h-1.7zM310.4,194.6h1.7v1.7h-1.7zM337.4,183.4h1.7v1.7h-1.7zM307.5,195.4h1.7v1.7h-1.7zM299.5,180.3h1.7v1.7h-1.7zM299.2,181.8h1.7v1.7h-1.7zM304.3,185.6h1.7v1.7h-1.7zM311.9,185.1h1.7v1.7h-1.7zM350.5,187.8h1.7v1.7h-1.7zM323.4,194.4h1.7v1.7h-1.7zM313.0,191.7h1.7v1.7h-1.7zM319.8,185.6h1.7v1.7h-1.7zM320.6,175.9h1.7v1.7h-1.7zM297.9,182.1h1.7v1.7h-1.7zM301.4,182.8h1.7v1.7h-1.7zM314.4,182.7h1.7v1.7h-1.7zM297.9,181.9h1.7v1.7h-1.7zM353.1,177.2h1.7v1.7h-1.7zM349.7,184.0h1.7v1.7h-1.7zM334.5,176.9h1.7v1.7h-1.7zM285.0,184.7h1.7v1.7h-1.7zM339.3,181.7h1.7v1.7h-1.7zM307.3,192.9h1.7v1.7h-1.7zM339.9,187.0h1.7v1.7h-1.7zM283.0,208.4h1.7v1.7h-1.7zM299.7,191.5h1.7v1.7h-1.7zM317.4,182.2h1.7v1.7h-1.7zM294.6,186.0h1.7v1.7h-1.7zM301.6,178.7h1.7v1.7h-1.7zM332.5,190.6h1.7v1.7h-1.7zM299.4,187.9h1.7v1.7h-1.7zM349.0,189.7h1.7v1.7h-1.7zM301.9,191.3h1.7v1.7h-1.7zM307.8,196.6h1.7v1.7h-1.7zM337.6,182.2h1.7v1.7h-1.7zM301.7,180.6h1.7v1.7h-1.7zM339.4,189.5h1.7v1.7h-1.7zM287.1,195.0h1.7v1.7h-1.7zM285.8,187.0h1.7v1.7h-1.7zM291.7,180.6h1.7v1.7h-1.7zM338.1,193.0h1.7v1.7h-1.7zM341.7,193.0h1.7v1.7h-1.7zM338.2,174.8h1.7v1.7h-1.7zM341.5,188.6h1.7v1.7h-1.7zM341.4,185.4h1.7v1.7h-1.7zM347.1,181.1h1.7v1.7h-1.7zM319.2,185.6h1.7v1.7h-1.7zM308.7,194.5h1.7v1.7h-1.7zM326.7,176.8h1.7v1.7h-1.7zM329.2,178.8h1.7v1.7h-1.7zM309.4,180.8h1.7v1.7h-1.7zM299.6,176.9h1.7v1.7h-1.7zM353.1,196.6h1.7v1.7h-1.7zM333.0,185.0h1.7v1.7h-1.7zM347.2,181.9h1.7v1.7h-1.7zM307.3,189.7h1.7v1.7h-1.7zM298.9,181.2h1.7v1.7h-1.7zM352.5,177.0h1.7v1.7h-1.7zM313.5,185.3h1.7v1.7h-1.7zM309.6,190.2h1.7v1.7h-1.7zM312.8,187.0h1.7v1.7h-1.7zM341.0,186.6h1.7v1.7h-1.7zM330.1,185.2h1.7v1.7h-1.7zM293.1,180.9h1.7v1.7h-1.7zM291.6,177.5h1.7v1.7h-1.7zM332.3,191.5h1.7v1.7h-1.7zM352.4,179.2h1.7v1.7h-1.7zM342.8,188.1h1.7v1.7h-1.7zM328.8,183.3h1.7v1.7h-1.7zM336.5,182.7h1.7v1.7h-1.7zM290.5,180.8h1.7v1.7h-1.7zM336.6,180.2h1.7v1.7h-1.7zM298.9,191.2h1.7v1.7h-1.7zM302.7,191.0h1.7v1.7h-1.7zM346.7,180.3h1.7v1.7h-1.7zM301.2,183.6h1.7v1.7h-1.7zM329.7,179.4h1.7v1.7h-1.7zM337.3,182.2h1.7v1.7h-1.7zM289.5,180.1h1.7v1.7h-1.7zM288.3,181.1h1.7v1.7h-1.7zM345.5,200.3h1.7v1.7h-1.7zM287.2,183.1h1.7v1.7h-1.7zM331.7,184.0h1.7v1.7h-1.7zM315.5,182.5h1.7v1.7h-1.7zM350.7,178.3h1.7v1.7h-1.7zM290.1,174.9h1.7v1.7h-1.7zM353.8,176.3h1.7v1.7h-1.7zM294.8,191.8h1.7v1.7h-1.7zM320.0,175.2h1.7v1.7h-1.7zM325.5,180.8h1.7v1.7h-1.7zM326.9,190.2h1.7v1.7h-1.7zM331.6,178.5h1.7v1.7h-1.7zM304.3,187.2h1.7v1.7h-1.7zM346.3,179.1h1.7v1.7h-1.7zM292.2,182.6h1.7v1.7h-1.7zM301.4,181.5h1.7v1.7h-1.7zM315.8,178.7h1.7v1.7h-1.7zM327.5,184.4h1.7v1.7h-1.7zM306.6,195.7h1.7v1.7h-1.7zM309.2,186.5h1.7v1.7h-1.7zM332.1,189.9h1.7v1.7h-1.7zM297.7,186.5h1.7v1.7h-1.7zM288.7,176.6h1.7v1.7h-1.7zM319.1,183.1h1.7v1.7h-1.7zM323.4,188.5h1.7v1.7h-1.7zM321.0,190.1h1.7v1.7h-1.7zM286.0,177.9h1.7v1.7h-1.7zM333.9,175.9h1.7v1.7h-1.7zM315.9,219.7h1.7v1.7h-1.7zM307.5,219.7h1.7v1.7h-1.7zM342.7,219.7h1.7v1.7h-1.7zM352.0,219.7h1.7v1.7h-1.7zM289.6,219.7h1.7v1.7h-1.7zM318.7,219.7h1.7v1.7h-1.7zM348.3,219.7h1.7v1.7h-1.7zM289.7,219.7h1.7v1.7h-1.7zM347.0,219.7h1.7v1.7h-1.7z" fill="#d2e6c4"/>
<path d="M195.40,196.20 C196.30,195.75 198.70,193.50 200.80,193.50 C202.90,193.50 205.60,195.75 208.00,196.20 C210.40,196.65 212.80,196.35 215.20,196.20 C217.60,196.05 220.00,195.60 222.40,195.30 C224.80,195.00 227.20,194.85 229.60,194.40 C232.00,193.95 234.40,192.15 236.80,192.60 C239.20,193.05 241.30,196.95 244.00,197.10 C246.70,197.25 250.62,194.10 253.00,193.50 C255.38,192.90 256.22,193.20 258.30,193.50 C260.38,193.80 263.10,195.60 265.50,195.30 C267.90,195.00 271.50,192.30 272.70,191.70 L272.70,196.90 C271.50,197.50 267.90,200.20 265.50,200.50 C263.10,200.80 260.38,199.00 258.30,198.70 C256.22,198.40 255.38,198.10 253.00,198.70 C250.62,199.30 246.70,202.45 244.00,202.30 C241.30,202.15 239.20,198.25 236.80,197.80 C234.40,197.35 232.00,199.15 229.60,199.60 C227.20,200.05 224.80,200.20 222.40,200.50 C220.00,200.80 217.60,201.25 215.20,201.40 C212.80,201.55 210.40,201.85 208.00,201.40 C205.60,200.95 202.90,198.70 200.80,198.70 C198.70,198.70 196.30,200.95 195.40,201.40 Z" fill="#ee92c2" opacity="0.68"/>
<path d="M195.40,198.80 C196.30,198.35 198.70,196.10 200.80,196.10 C202.90,196.10 205.60,198.35 208.00,198.80 C210.40,199.25 212.80,198.95 215.20,198.80 C217.60,198.65 220.00,198.20 222.40,197.90 C224.80,197.60 227.20,197.45 229.60,197.00 C232.00,196.55 234.40,194.75 236.80,195.20 C239.20,195.65 241.30,199.55 244.00,199.70 C246.70,199.85 250.62,196.70 253.00,196.10 C255.38,195.50 256.22,195.80 258.30,196.10 C260.38,196.40 263.10,198.20 265.50,197.90 C267.90,197.60 271.50,194.90 272.70,194.30" fill="none" stroke="#e2368f" stroke-width="1.7" stroke-linecap="round"/>
<path d="M284.30,187.52 C284.60,186.09 285.35,180.90 286.10,178.95 C286.85,177.00 287.90,175.98 288.80,175.80 C289.70,175.63 290.45,176.16 291.50,177.89 C292.55,179.63 294.05,185.27 295.10,186.22 C296.15,187.18 296.45,184.19 297.80,183.62 C299.15,183.06 301.85,182.51 303.20,182.83 C304.55,183.15 305.00,183.90 305.90,185.55 C306.80,187.21 307.55,193.22 308.60,192.77 C309.65,192.32 311.30,184.98 312.20,182.88 C313.10,180.79 312.80,180.63 314.00,180.19 C315.20,179.74 317.60,179.44 319.40,180.19 C321.20,180.94 323.00,184.24 324.80,184.69 C326.60,185.13 328.10,183.49 330.20,182.87 C332.30,182.26 335.47,180.89 337.40,181.01 C339.33,181.14 340.32,182.77 341.80,183.62 C343.28,184.47 344.95,186.36 346.30,186.12 C347.65,185.88 348.70,184.00 349.90,182.21 C351.10,180.41 352.90,176.48 353.50,175.34 L353.50,186.26 C352.90,187.22 351.10,190.49 349.90,191.99 C348.70,193.50 347.65,195.22 346.30,195.28 C344.95,195.34 343.28,193.33 341.80,192.38 C340.32,191.43 339.33,189.76 337.40,189.59 C335.47,189.41 332.30,190.74 330.20,191.33 C328.10,191.91 326.60,193.57 324.80,193.11 C323.00,192.66 321.20,189.36 319.40,188.61 C317.60,187.86 315.20,188.16 314.00,188.61 C312.80,189.07 313.10,189.21 312.20,191.32 C311.30,193.42 309.65,200.78 308.60,201.23 C307.55,201.68 306.80,195.69 305.90,194.05 C305.00,192.40 304.55,191.65 303.20,191.37 C301.85,191.09 299.15,191.74 297.80,192.38 C296.45,193.01 296.15,196.02 295.10,195.18 C294.05,194.33 292.55,188.87 291.50,187.31 C290.45,185.74 289.70,185.37 288.80,185.80 C287.90,186.22 286.85,187.60 286.10,189.85 C285.35,192.10 284.60,197.71 284.30,199.28 Z" fill="#ee92c2" opacity="0.68"/>
<path d="M284.30,193.40 C284.60,191.90 285.35,186.50 286.10,184.40 C286.85,182.30 287.90,181.10 288.80,180.80 C289.70,180.50 290.45,180.95 291.50,182.60 C292.55,184.25 294.05,189.80 295.10,190.70 C296.15,191.60 296.45,188.60 297.80,188.00 C299.15,187.40 301.85,186.80 303.20,187.10 C304.55,187.40 305.00,188.15 305.90,189.80 C306.80,191.45 307.55,197.45 308.60,197.00 C309.65,196.55 311.30,189.20 312.20,187.10 C313.10,185.00 312.80,184.85 314.00,184.40 C315.20,183.95 317.60,183.65 319.40,184.40 C321.20,185.15 323.00,188.45 324.80,188.90 C326.60,189.35 328.10,187.70 330.20,187.10 C332.30,186.50 335.47,185.15 337.40,185.30 C339.33,185.45 340.32,187.10 341.80,188.00 C343.28,188.90 344.95,190.85 346.30,190.70 C347.65,190.55 348.70,188.75 349.90,187.10 C351.10,185.45 352.90,181.85 353.50,180.80" fill="none" stroke="#e2368f" stroke-width="1.7" stroke-linecap="round"/>
<rect x="191.50" y="173.50" width="85.00" height="49.00" fill="none" stroke="#262626" stroke-width="1" />
<rect x="280.50" y="173.50" width="77.00" height="49.00" fill="none" stroke="#262626" stroke-width="1" />
<line x1="188.50" y1="220.50" x2="191.50" y2="220.50" stroke="#262626" stroke-width="0.8" />
<text x="186.00" y="224.08" font-size="10" text-anchor="end" fill="#222222" >0</text>
<line x1="188.50" y1="198.10" x2="191.50" y2="198.10" stroke="#262626" stroke-width="0.8" />
<text x="186.00" y="201.68" font-size="10" text-anchor="end" fill="#222222" >1</text>
<line x1="188.50" y1="175.70" x2="191.50" y2="175.70" stroke="#262626" stroke-width="0.8" />
<text x="186.00" y="181.48" font-size="10" text-anchor="end" fill="#222222" >2</text>
<g transform="translate(363.40,198.10) rotate(90)"><text x="0" y="3.40" font-size="9.5" text-anchor="middle" fill="#222222" >Skin</text></g>
<line x1="195.20" y1="222.50" x2="195.20" y2="224.50" stroke="#262626" stroke-width="0.7" />
<line x1="216.31" y1="222.50" x2="216.31" y2="224.50" stroke="#262626" stroke-width="0.7" />
<line x1="237.42" y1="222.50" x2="237.42" y2="224.50" stroke="#262626" stroke-width="0.7" />
<line x1="258.53" y1="222.50" x2="258.53" y2="224.50" stroke="#262626" stroke-width="0.7" />
<line x1="284.30" y1="222.50" x2="284.30" y2="224.50" stroke="#262626" stroke-width="0.7" />
<line x1="301.22" y1="222.50" x2="301.22" y2="224.50" stroke="#262626" stroke-width="0.7" />
<line x1="318.14" y1="222.50" x2="318.14" y2="224.50" stroke="#262626" stroke-width="0.7" />
<line x1="335.06" y1="222.50" x2="335.06" y2="224.50" stroke="#262626" stroke-width="0.7" />
<line x1="351.98" y1="222.50" x2="351.98" y2="224.50" stroke="#262626" stroke-width="0.7" />
<text x="233.80" y="10.40" font-size="9.5" text-anchor="middle" fill="#222222" >chr4</text>
<text x="318.00" y="10.40" font-size="9.5" text-anchor="middle" fill="#222222" >chrZ</text>
<g transform="translate(171.00,118.00) rotate(-90)"><text x="0" y="3.40" font-size="9.5" text-anchor="middle" fill="#222222" >Male:Female ratio</text></g>
<path d="M194.60,252.62 L195.20,252.68 L195.80,252.38 L196.40,252.86 L197.00,253.06 L197.60,252.48 L198.20,253.02 L198.80,252.99 L199.40,252.91 L200.00,252.44 L200.60,252.95 L201.20,252.59 L201.80,252.64 L202.40,252.37 L203.00,252.94 L203.60,252.66 L204.20,252.25 L204.80,252.25 L205.40,252.81 L206.00,251.97 L206.60,252.97 L207.20,252.05 L207.80,252.32 L208.40,252.26 L209.00,252.93 L209.60,252.73 L210.20,253.00 L210.20,257.01 L209.60,257.15 L209.00,257.23 L208.40,257.18 L207.80,257.04 L207.20,257.00 L206.60,257.76 L206.00,257.45 L205.40,256.95 L204.80,257.03 L204.20,257.11 L203.60,257.72 L203.00,257.00 L202.40,257.00 L201.80,257.21 L201.20,257.10 L200.60,257.28 L200.00,257.47 L199.40,257.30 L198.80,257.10 L198.20,257.02 L197.60,257.00 L197.00,257.26 L196.40,257.02 L195.80,257.33 L195.20,257.34 L194.60,257.08Z" fill="#111"/>
<path d="M211.60,252.82 L212.20,252.77 L212.80,252.80 L213.40,252.67 L214.00,253.05 L214.60,252.83 L215.20,252.81 L215.80,252.79 L216.40,252.08 L217.00,253.09 L217.60,252.64 L218.20,252.51 L218.80,252.29 L219.40,252.25 L220.00,252.89 L220.60,253.02 L221.20,252.86 L221.80,251.90 L222.40,252.68 L223.00,252.90 L223.60,252.77 L224.20,252.66 L224.80,252.88 L225.40,252.46 L226.00,253.06 L226.60,252.89 L227.20,252.74 L227.80,252.80 L228.40,253.03 L229.00,252.26 L229.60,253.09 L230.20,252.50 L230.80,253.09 L231.40,252.66 L232.00,252.32 L232.60,252.91 L233.20,252.92 L233.80,252.96 L234.40,252.84 L235.00,252.89 L235.60,252.95 L236.20,252.67 L236.80,252.78 L237.40,252.21 L238.00,252.80 L238.60,252.78 L239.20,252.92 L239.80,252.62 L240.40,251.83 L241.00,252.44 L241.60,252.86 L242.20,252.56 L242.80,252.59 L243.40,252.73 L244.00,252.78 L244.60,252.64 L245.20,252.78 L245.80,252.75 L246.40,253.05 L247.00,252.83 L247.60,252.64 L248.20,252.85 L248.80,252.89 L249.40,253.02 L250.00,252.80 L250.60,251.99 L251.20,253.08 L251.80,252.84 L252.40,252.83 L253.00,252.49 L253.60,252.96 L254.20,252.79 L254.80,252.75 L255.40,252.50 L256.00,252.84 L256.60,252.09 L257.20,252.80 L257.80,252.98 L258.40,252.70 L259.00,252.55 L259.60,253.09 L260.20,252.96 L260.80,252.76 L261.40,252.56 L262.00,252.94 L262.60,253.03 L263.20,252.46 L263.80,252.97 L264.40,253.03 L265.00,252.13 L265.60,252.57 L266.20,253.02 L266.80,252.72 L267.40,252.58 L268.00,252.69 L268.60,253.04 L269.20,252.87 L269.80,252.77 L270.40,252.96 L271.00,253.07 L271.60,252.71 L272.20,252.41 L272.80,253.06 L273.40,252.85 L274.00,252.70 L274.60,252.74 L275.20,252.58 L275.80,252.19 L275.80,256.99 L275.20,257.00 L274.60,257.34 L274.00,257.50 L273.40,257.20 L272.80,256.98 L272.20,257.15 L271.60,257.10 L271.00,257.07 L270.40,257.49 L269.80,257.04 L269.20,257.21 L268.60,258.03 L268.00,257.01 L267.40,256.94 L266.80,257.17 L266.20,257.03 L265.60,256.92 L265.00,257.35 L264.40,257.31 L263.80,257.46 L263.20,257.17 L262.60,257.45 L262.00,257.74 L261.40,257.46 L260.80,257.12 L260.20,257.22 L259.60,256.92 L259.00,257.56 L258.40,256.97 L257.80,256.97 L257.20,256.91 L256.60,256.91 L256.00,257.31 L255.40,256.99 L254.80,257.39 L254.20,257.11 L253.60,257.02 L253.00,257.32 L252.40,257.69 L251.80,257.14 L251.20,257.08 L250.60,257.13 L250.00,257.60 L249.40,257.12 L248.80,257.96 L248.20,257.03 L247.60,257.01 L247.00,257.49 L246.40,257.59 L245.80,257.19 L245.20,256.99 L244.60,257.49 L244.00,257.06 L243.40,257.24 L242.80,257.11 L242.20,256.94 L241.60,257.69 L241.00,257.10 L240.40,257.19 L239.80,257.02 L239.20,256.99 L238.60,257.21 L238.00,257.06 L237.40,257.50 L236.80,256.96 L236.20,257.06 L235.60,257.16 L235.00,257.01 L234.40,257.38 L233.80,257.31 L233.20,257.06 L232.60,257.22 L232.00,257.65 L231.40,257.20 L230.80,257.85 L230.20,257.06 L229.60,257.17 L229.00,257.07 L228.40,257.71 L227.80,257.72 L227.20,257.29 L226.60,257.31 L226.00,257.61 L225.40,257.04 L224.80,256.98 L224.20,257.14 L223.60,257.10 L223.00,256.94 L222.40,257.13 L221.80,257.65 L221.20,257.37 L220.60,257.19 L220.00,257.01 L219.40,256.96 L218.80,258.40 L218.20,257.02 L217.60,257.70 L217.00,257.41 L216.40,257.66 L215.80,257.03 L215.20,257.24 L214.60,257.58 L214.00,257.53 L213.40,257.23 L212.80,258.16 L212.20,257.05 L211.60,257.17Z" fill="#111"/>
<path d="M283.20,253.01 L283.80,253.03 L284.40,252.88 L285.00,252.70 L285.60,252.85 L286.20,252.69 L286.80,252.53 L287.40,253.03 L288.00,252.78 L288.60,252.35 L289.20,252.93 L289.80,252.98 L290.40,252.89 L291.00,252.61 L291.60,252.51 L292.20,253.04 L292.80,253.09 L293.40,252.77 L294.00,252.89 L294.60,252.72 L295.20,252.85 L295.80,252.51 L296.40,252.43 L297.00,252.81 L297.60,253.05 L298.20,252.62 L298.80,253.00 L299.40,252.75 L300.00,252.62 L300.60,252.92 L301.20,253.03 L301.80,252.20 L302.40,252.88 L303.00,253.08 L303.60,252.88 L304.20,252.73 L304.80,252.90 L305.40,252.49 L306.00,252.36 L306.60,252.81 L307.20,252.69 L307.80,252.37 L308.40,252.31 L309.00,252.42 L309.60,252.28 L310.20,253.09 L310.80,252.56 L311.40,252.75 L312.00,252.36 L312.60,252.73 L313.20,252.97 L313.80,253.10 L314.40,253.08 L315.00,252.46 L315.60,252.60 L316.20,252.78 L316.80,252.89 L317.40,252.97 L318.00,252.44 L318.60,252.58 L319.20,253.00 L319.80,252.86 L320.40,253.01 L321.00,252.75 L321.60,252.52 L322.20,252.36 L322.80,252.99 L323.40,252.76 L324.00,252.53 L324.60,252.66 L325.20,252.91 L325.80,252.06 L326.40,252.83 L327.00,252.46 L327.60,252.78 L328.20,252.94 L328.80,252.74 L329.40,252.64 L330.00,253.04 L330.60,253.03 L331.20,252.82 L331.80,252.46 L332.40,252.89 L333.00,252.62 L333.60,252.11 L334.20,252.50 L334.80,252.90 L335.40,253.09 L336.00,252.90 L336.60,252.97 L337.20,252.98 L337.80,253.03 L338.40,253.05 L339.00,252.88 L339.60,252.35 L340.20,252.93 L340.80,252.97 L341.40,253.04 L342.00,252.67 L342.60,252.66 L343.20,252.75 L343.80,252.98 L344.40,252.51 L345.00,252.75 L345.60,252.91 L346.20,252.78 L346.80,252.66 L347.40,252.20 L348.00,252.69 L348.60,252.21 L349.20,252.41 L349.80,252.46 L350.40,253.07 L351.00,252.84 L351.60,252.99 L352.20,252.43 L352.80,252.93 L353.40,252.87 L354.00,253.05 L354.60,252.85 L354.60,257.07 L354.00,257.24 L353.40,257.21 L352.80,257.63 L352.20,257.33 L351.60,256.91 L351.00,256.91 L350.40,257.16 L349.80,257.14 L349.20,257.36 L348.60,257.14 L348.00,257.12 L347.40,257.12 L346.80,257.65 L346.20,258.07 L345.60,256.99 L345.00,257.59 L344.40,256.99 L343.80,256.96 L343.20,257.54 L342.60,257.12 L342.00,256.99 L341.40,257.41 L340.80,257.30 L340.20,257.40 L339.60,257.31 L339.00,256.92 L338.40,257.14 L337.80,257.35 L337.20,257.14 L336.60,257.36 L336.00,257.78 L335.40,257.12 L334.80,256.98 L334.20,256.98 L333.60,256.95 L333.00,257.12 L332.40,257.25 L331.80,256.95 L331.20,257.88 L330.60,257.63 L330.00,257.15 L329.40,257.03 L328.80,256.98 L328.20,256.96 L327.60,257.04 L327.00,257.86 L326.40,257.58 L325.80,257.14 L325.20,257.38 L324.60,257.11 L324.00,257.24 L323.40,256.94 L322.80,257.36 L322.20,257.32 L321.60,257.11 L321.00,257.16 L320.40,257.18 L319.80,257.56 L319.20,257.17 L318.60,257.81 L318.00,257.09 L317.40,256.96 L316.80,257.55 L316.20,257.25 L315.60,257.56 L315.00,257.05 L314.40,257.66 L313.80,257.34 L313.20,257.15 L312.60,258.04 L312.00,257.33 L311.40,257.37 L310.80,257.59 L310.20,256.93 L309.60,257.27 L309.00,257.60 L308.40,257.22 L307.80,256.94 L307.20,257.56 L306.60,257.49 L306.00,257.30 L305.40,257.01 L304.80,257.12 L304.20,257.54 L303.60,258.20 L303.00,257.11 L302.40,257.00 L301.80,257.62 L301.20,257.03 L300.60,256.94 L300.00,257.50 L299.40,257.02 L298.80,257.16 L298.20,257.05 L297.60,257.49 L297.00,257.27 L296.40,257.03 L295.80,257.02 L295.20,257.41 L294.60,257.47 L294.00,257.34 L293.40,257.37 L292.80,257.17 L292.20,257.11 L291.60,257.23 L291.00,256.94 L290.40,256.91 L289.80,257.41 L289.20,257.72 L288.60,257.44 L288.00,257.77 L287.40,257.42 L286.80,257.08 L286.20,256.92 L285.60,257.59 L285.00,257.34 L284.40,257.17 L283.80,257.58 L283.20,257.33Z" fill="#111"/>
<rect x="215.20" y="261.20" width="1.6" height="1.6" fill="#111"/>
<rect x="220.40" y="265.20" width="1.6" height="1.6" fill="#111"/>
<rect x="345.10" y="243.10" width="1.6" height="1.6" fill="#111"/>
<rect x="345.40" y="245.50" width="1.6" height="1.6" fill="#111"/>
<rect x="349.50" y="248.80" width="1.6" height="1.6" fill="#111"/>
<rect x="306.90" y="236.60" width="1.6" height="1.6" fill="#111"/>
<polygon points="307.0,239.5 308.4,239.5 308.9,253 306.5,253" fill="#111"/>
<rect x="191.50" y="235.50" width="85.00" height="39.00" fill="none" stroke="#262626" stroke-width="1" />
<rect x="280.50" y="235.50" width="77.00" height="39.00" fill="none" stroke="#262626" stroke-width="1" />
<line x1="188.50" y1="236.00" x2="191.50" y2="236.00" stroke="#262626" stroke-width="0.8" />
<text x="186.00" y="239.58" font-size="10" text-anchor="end" fill="#222222" >1</text>
<line x1="188.50" y1="254.60" x2="191.50" y2="254.60" stroke="#262626" stroke-width="0.8" />
<text x="186.00" y="258.18" font-size="10" text-anchor="end" fill="#222222" >0</text>
<line x1="188.50" y1="273.20" x2="191.50" y2="273.20" stroke="#262626" stroke-width="0.8" />
<text x="186.00" y="276.78" font-size="10" text-anchor="end" fill="#222222" >&#8722;1</text>
<line x1="195.20" y1="274.50" x2="195.20" y2="277.50" stroke="#262626" stroke-width="0.8" />
<text x="195.20" y="289.68" font-size="10" text-anchor="middle" fill="#222222" >0</text>
<line x1="216.31" y1="274.50" x2="216.31" y2="277.50" stroke="#262626" stroke-width="0.8" />
<text x="216.31" y="289.68" font-size="10" text-anchor="middle" fill="#222222" >25</text>
<line x1="237.42" y1="274.50" x2="237.42" y2="277.50" stroke="#262626" stroke-width="0.8" />
<text x="237.42" y="289.68" font-size="10" text-anchor="middle" fill="#222222" >50</text>
<line x1="258.53" y1="274.50" x2="258.53" y2="277.50" stroke="#262626" stroke-width="0.8" />
<text x="258.53" y="289.68" font-size="10" text-anchor="middle" fill="#222222" >75</text>
<line x1="284.30" y1="274.50" x2="284.30" y2="277.50" stroke="#262626" stroke-width="0.8" />
<text x="284.30" y="289.68" font-size="10" text-anchor="middle" fill="#222222" >0</text>
<line x1="301.22" y1="274.50" x2="301.22" y2="277.50" stroke="#262626" stroke-width="0.8" />
<text x="301.22" y="289.68" font-size="10" text-anchor="middle" fill="#222222" >20</text>
<line x1="318.14" y1="274.50" x2="318.14" y2="277.50" stroke="#262626" stroke-width="0.8" />
<text x="318.14" y="289.68" font-size="10" text-anchor="middle" fill="#222222" >40</text>
<line x1="335.06" y1="274.50" x2="335.06" y2="277.50" stroke="#262626" stroke-width="0.8" />
<text x="335.06" y="289.68" font-size="10" text-anchor="middle" fill="#222222" >60</text>
<line x1="351.98" y1="274.50" x2="351.98" y2="277.50" stroke="#262626" stroke-width="0.8" />
<text x="351.98" y="289.68" font-size="10" text-anchor="middle" fill="#222222" >80</text>
<line x1="307.70" y1="260.60" x2="307.70" y2="263.20" stroke="#e8303a" stroke-width="0.8" />
<polygon points="306.40,262.4 309.00,262.4 307.70,265.4" fill="#e8303a"/>
<line x1="346.70" y1="260.60" x2="346.70" y2="263.20" stroke="#e8303a" stroke-width="0.8" />
<polygon points="345.40,262.4 348.00,262.4 346.70,265.4" fill="#e8303a"/>
<text x="307.80" y="273.03" font-size="7.9" text-anchor="middle" fill="#e8303a" font-style="italic">MHM1</text>
<text x="344.40" y="273.03" font-size="7.9" text-anchor="middle" fill="#e8303a" font-style="italic">MHM2</text>
<text x="278.10" y="303.90" font-size="9.5" text-anchor="middle" fill="#222222" >Position (Mbp)</text>
<g transform="translate(170.90,255.70) rotate(-90)"><text x="0" y="3.40" font-size="9.5" text-anchor="middle" fill="#222222" >5mC (M&#8722;F)</text></g>
<line x1="413.30" y1="46.70" x2="413.30" y2="59.00" stroke="#e8409a" stroke-width="0.7" />
<line x1="415.50" y1="46.70" x2="415.50" y2="58.00" stroke="#e8409a" stroke-width="0.7" />
<line x1="417.70" y1="46.70" x2="417.70" y2="57.00" stroke="#e8409a" stroke-width="0.7" />
<line x1="419.90" y1="46.70" x2="419.90" y2="55.10" stroke="#e8409a" stroke-width="0.7" />
<line x1="422.10" y1="46.70" x2="422.10" y2="59.00" stroke="#e8409a" stroke-width="0.7" />
<line x1="424.30" y1="46.70" x2="424.30" y2="51.20" stroke="#e8409a" stroke-width="0.7" />
<line x1="426.50" y1="46.70" x2="426.50" y2="56.10" stroke="#e8409a" stroke-width="0.7" />
<line x1="428.70" y1="46.70" x2="428.70" y2="57.10" stroke="#e8409a" stroke-width="0.7" />
<line x1="430.90" y1="46.70" x2="430.90" y2="56.10" stroke="#e8409a" stroke-width="0.7" />
<line x1="433.10" y1="46.70" x2="433.10" y2="41.40" stroke="#5db548" stroke-width="0.7" />
<line x1="435.30" y1="46.70" x2="435.30" y2="41.00" stroke="#5db548" stroke-width="0.7" />
<line x1="437.50" y1="46.70" x2="437.50" y2="41.40" stroke="#5db548" stroke-width="0.7" />
<line x1="439.70" y1="46.70" x2="439.70" y2="42.40" stroke="#5db548" stroke-width="0.7" />
<line x1="441.90" y1="46.70" x2="441.90" y2="41.40" stroke="#5db548" stroke-width="0.7" />
<line x1="444.10" y1="46.70" x2="444.10" y2="41.40" stroke="#5db548" stroke-width="0.7" />
<line x1="446.30" y1="46.70" x2="446.30" y2="41.50" stroke="#5db548" stroke-width="0.7" />
<line x1="448.50" y1="46.70" x2="448.50" y2="44.30" stroke="#5db548" stroke-width="0.7" />
<line x1="450.70" y1="46.70" x2="450.70" y2="39.00" stroke="#5db548" stroke-width="0.7" />
<circle cx="413.30" cy="59.00" r="2.35" fill="#e8409a" />
<circle cx="415.50" cy="58.00" r="2.35" fill="#e8409a" />
<circle cx="417.70" cy="57.00" r="2.35" fill="#e8409a" />
<circle cx="419.90" cy="55.10" r="2.35" fill="#e8409a" />
<circle cx="422.10" cy="59.00" r="2.35" fill="#e8409a" />
<circle cx="424.30" cy="51.20" r="2.35" fill="#e8409a" />
<circle cx="426.50" cy="56.10" r="2.35" fill="#e8409a" />
<circle cx="428.70" cy="57.10" r="2.35" fill="#e8409a" />
<circle cx="430.90" cy="56.10" r="2.35" fill="#e8409a" />
<circle cx="433.10" cy="41.40" r="2.35" fill="#5db548" />
<circle cx="435.30" cy="41.00" r="2.35" fill="#5db548" />
<circle cx="437.50" cy="41.40" r="2.35" fill="#5db548" />
<circle cx="439.70" cy="42.40" r="2.35" fill="#5db548" />
<circle cx="441.90" cy="41.40" r="2.35" fill="#5db548" />
<circle cx="444.10" cy="41.40" r="2.35" fill="#5db548" />
<circle cx="446.30" cy="41.50" r="2.35" fill="#5db548" />
<circle cx="448.50" cy="44.30" r="2.35" fill="#5db548" />
<circle cx="450.70" cy="39.00" r="2.35" fill="#5db548" />
<rect x="410.50" y="12.50" width="43.00" height="68.00" fill="none" stroke="#2e2e2e" stroke-width="1.0" />
<rect x="454.0" y="12.5" width="1" height="68.0" fill="#a8a8a8"/>
<text x="432.00" y="8.40" font-size="9.5" text-anchor="middle" fill="#222222" >Brain</text>
<text x="413.70" y="20.64" font-size="8.2" text-anchor="start" fill="#222222" >n = 18</text>
<line x1="458.30" y1="46.70" x2="458.30" y2="48.50" stroke="#e8409a" stroke-width="0.7" />
<line x1="460.48" y1="46.70" x2="460.48" y2="48.80" stroke="#e8409a" stroke-width="0.7" />
<line x1="462.67" y1="46.70" x2="462.67" y2="49.00" stroke="#e8409a" stroke-width="0.7" />
<line x1="464.85" y1="46.70" x2="464.85" y2="48.30" stroke="#e8409a" stroke-width="0.7" />
<line x1="467.03" y1="46.70" x2="467.03" y2="49.50" stroke="#e8409a" stroke-width="0.7" />
<line x1="469.22" y1="46.70" x2="469.22" y2="50.00" stroke="#e8409a" stroke-width="0.7" />
<line x1="471.40" y1="46.70" x2="471.40" y2="50.60" stroke="#e8409a" stroke-width="0.7" />
<line x1="473.58" y1="46.70" x2="473.58" y2="50.00" stroke="#e8409a" stroke-width="0.7" />
<line x1="475.77" y1="46.70" x2="475.77" y2="49.80" stroke="#e8409a" stroke-width="0.7" />
<line x1="477.95" y1="46.70" x2="477.95" y2="50.20" stroke="#e8409a" stroke-width="0.7" />
<line x1="480.13" y1="46.70" x2="480.13" y2="49.50" stroke="#e8409a" stroke-width="0.7" />
<line x1="482.32" y1="46.70" x2="482.32" y2="50.70" stroke="#e8409a" stroke-width="0.7" />
<line x1="484.50" y1="46.70" x2="484.50" y2="50.20" stroke="#e8409a" stroke-width="0.7" />
<line x1="486.68" y1="46.70" x2="486.68" y2="49.50" stroke="#e8409a" stroke-width="0.7" />
<line x1="488.87" y1="46.70" x2="488.87" y2="49.20" stroke="#e8409a" stroke-width="0.7" />
<line x1="491.05" y1="46.70" x2="491.05" y2="36.50" stroke="#5db548" stroke-width="0.7" />
<line x1="493.23" y1="46.70" x2="493.23" y2="37.00" stroke="#5db548" stroke-width="0.7" />
<line x1="495.42" y1="46.70" x2="495.42" y2="36.80" stroke="#5db548" stroke-width="0.7" />
<line x1="497.60" y1="46.70" x2="497.60" y2="35.20" stroke="#5db548" stroke-width="0.7" />
<line x1="499.78" y1="46.70" x2="499.78" y2="35.50" stroke="#5db548" stroke-width="0.7" />
<line x1="501.97" y1="46.70" x2="501.97" y2="35.50" stroke="#5db548" stroke-width="0.7" />
<line x1="504.15" y1="46.70" x2="504.15" y2="35.20" stroke="#5db548" stroke-width="0.7" />
<line x1="506.33" y1="46.70" x2="506.33" y2="35.50" stroke="#5db548" stroke-width="0.7" />
<line x1="508.52" y1="46.70" x2="508.52" y2="35.60" stroke="#5db548" stroke-width="0.7" />
<line x1="510.70" y1="46.70" x2="510.70" y2="35.30" stroke="#5db548" stroke-width="0.7" />
<circle cx="458.30" cy="48.50" r="2.35" fill="#e8409a" />
<circle cx="460.48" cy="48.80" r="2.35" fill="#e8409a" />
<circle cx="462.67" cy="49.00" r="2.35" fill="#e8409a" />
<circle cx="464.85" cy="48.30" r="2.35" fill="#e8409a" />
<circle cx="467.03" cy="49.50" r="2.35" fill="#e8409a" />
<circle cx="469.22" cy="50.00" r="2.35" fill="#e8409a" />
<circle cx="471.40" cy="50.60" r="2.35" fill="#e8409a" />
<circle cx="473.58" cy="50.00" r="2.35" fill="#e8409a" />
<circle cx="475.77" cy="49.80" r="2.35" fill="#e8409a" />
<circle cx="477.95" cy="50.20" r="2.35" fill="#e8409a" />
<circle cx="480.13" cy="49.50" r="2.35" fill="#e8409a" />
<circle cx="482.32" cy="50.70" r="2.35" fill="#e8409a" />
<circle cx="484.50" cy="50.20" r="2.35" fill="#e8409a" />
<circle cx="486.68" cy="49.50" r="2.35" fill="#e8409a" />
<circle cx="488.87" cy="49.20" r="2.35" fill="#e8409a" />
<circle cx="491.05" cy="36.50" r="2.35" fill="#5db548" />
<circle cx="493.23" cy="37.00" r="2.35" fill="#5db548" />
<circle cx="495.42" cy="36.80" r="2.35" fill="#5db548" />
<circle cx="497.60" cy="35.20" r="2.35" fill="#5db548" />
<circle cx="499.78" cy="35.50" r="2.35" fill="#5db548" />
<circle cx="501.97" cy="35.50" r="2.35" fill="#5db548" />
<circle cx="504.15" cy="35.20" r="2.35" fill="#5db548" />
<circle cx="506.33" cy="35.50" r="2.35" fill="#5db548" />
<circle cx="508.52" cy="35.60" r="2.35" fill="#5db548" />
<circle cx="510.70" cy="35.30" r="2.35" fill="#5db548" />
<rect x="455.50" y="12.50" width="58.00" height="68.00" fill="none" stroke="#2e2e2e" stroke-width="1.0" />
<rect x="514.0" y="12.5" width="1" height="68.0" fill="#a8a8a8"/>
<text x="484.50" y="8.40" font-size="9.5" text-anchor="middle" fill="#222222" >Kidney</text>
<text x="458.70" y="20.64" font-size="8.2" text-anchor="start" fill="#222222" >n = 25</text>
<line x1="518.30" y1="46.70" x2="518.30" y2="53.00" stroke="#e8409a" stroke-width="0.7" />
<line x1="520.46" y1="46.70" x2="520.46" y2="54.00" stroke="#e8409a" stroke-width="0.7" />
<line x1="522.62" y1="46.70" x2="522.62" y2="55.90" stroke="#e8409a" stroke-width="0.7" />
<line x1="524.78" y1="46.70" x2="524.78" y2="51.00" stroke="#e8409a" stroke-width="0.7" />
<line x1="526.94" y1="46.70" x2="526.94" y2="52.00" stroke="#e8409a" stroke-width="0.7" />
<line x1="529.10" y1="46.70" x2="529.10" y2="50.00" stroke="#e8409a" stroke-width="0.7" />
<line x1="531.26" y1="46.70" x2="531.26" y2="53.00" stroke="#e8409a" stroke-width="0.7" />
<line x1="533.42" y1="46.70" x2="533.42" y2="55.90" stroke="#e8409a" stroke-width="0.7" />
<line x1="535.58" y1="46.70" x2="535.58" y2="50.00" stroke="#e8409a" stroke-width="0.7" />
<line x1="537.74" y1="46.70" x2="537.74" y2="42.20" stroke="#5db548" stroke-width="0.7" />
<line x1="539.90" y1="46.70" x2="539.90" y2="38.20" stroke="#5db548" stroke-width="0.7" />
<line x1="542.06" y1="46.70" x2="542.06" y2="37.30" stroke="#5db548" stroke-width="0.7" />
<line x1="544.22" y1="46.70" x2="544.22" y2="42.20" stroke="#5db548" stroke-width="0.7" />
<line x1="546.38" y1="46.70" x2="546.38" y2="39.20" stroke="#5db548" stroke-width="0.7" />
<line x1="548.54" y1="46.70" x2="548.54" y2="40.20" stroke="#5db548" stroke-width="0.7" />
<line x1="550.70" y1="46.70" x2="550.70" y2="40.00" stroke="#5db548" stroke-width="0.7" />
<circle cx="518.30" cy="53.00" r="2.35" fill="#e8409a" />
<circle cx="520.46" cy="54.00" r="2.35" fill="#e8409a" />
<circle cx="522.62" cy="55.90" r="2.35" fill="#e8409a" />
<circle cx="524.78" cy="51.00" r="2.35" fill="#e8409a" />
<circle cx="526.94" cy="52.00" r="2.35" fill="#e8409a" />
<circle cx="529.10" cy="50.00" r="2.35" fill="#e8409a" />
<circle cx="531.26" cy="53.00" r="2.35" fill="#e8409a" />
<circle cx="533.42" cy="55.90" r="2.35" fill="#e8409a" />
<circle cx="535.58" cy="50.00" r="2.35" fill="#e8409a" />
<circle cx="537.74" cy="42.20" r="2.35" fill="#5db548" />
<circle cx="539.90" cy="38.20" r="2.35" fill="#5db548" />
<circle cx="542.06" cy="37.30" r="2.35" fill="#5db548" />
<circle cx="544.22" cy="42.20" r="2.35" fill="#5db548" />
<circle cx="546.38" cy="39.20" r="2.35" fill="#5db548" />
<circle cx="548.54" cy="40.20" r="2.35" fill="#5db548" />
<circle cx="550.70" cy="40.00" r="2.35" fill="#5db548" />
<rect x="515.50" y="12.50" width="38.00" height="68.00" fill="none" stroke="#2e2e2e" stroke-width="1.0" />
<rect x="554.0" y="12.5" width="1" height="68.0" fill="#a8a8a8"/>
<text x="534.50" y="8.40" font-size="9.5" text-anchor="middle" fill="#222222" >Liver</text>
<text x="518.70" y="20.64" font-size="8.2" text-anchor="start" fill="#222222" >n = 16</text>
<line x1="558.30" y1="46.70" x2="558.30" y2="55.00" stroke="#e8409a" stroke-width="0.7" />
<line x1="560.51" y1="46.70" x2="560.51" y2="54.00" stroke="#e8409a" stroke-width="0.7" />
<line x1="562.72" y1="46.70" x2="562.72" y2="56.90" stroke="#e8409a" stroke-width="0.7" />
<line x1="564.93" y1="46.70" x2="564.93" y2="55.00" stroke="#e8409a" stroke-width="0.7" />
<line x1="567.14" y1="46.70" x2="567.14" y2="54.00" stroke="#e8409a" stroke-width="0.7" />
<line x1="569.35" y1="46.70" x2="569.35" y2="54.00" stroke="#e8409a" stroke-width="0.7" />
<line x1="571.56" y1="46.70" x2="571.56" y2="53.00" stroke="#e8409a" stroke-width="0.7" />
<line x1="573.77" y1="46.70" x2="573.77" y2="52.00" stroke="#e8409a" stroke-width="0.7" />
<line x1="575.98" y1="46.70" x2="575.98" y2="53.00" stroke="#e8409a" stroke-width="0.7" />
<line x1="578.19" y1="46.70" x2="578.19" y2="52.00" stroke="#e8409a" stroke-width="0.7" />
<line x1="580.40" y1="46.70" x2="580.40" y2="53.00" stroke="#e8409a" stroke-width="0.7" />
<line x1="582.60" y1="46.70" x2="582.60" y2="53.00" stroke="#e8409a" stroke-width="0.7" />
<line x1="584.81" y1="46.70" x2="584.81" y2="54.00" stroke="#e8409a" stroke-width="0.7" />
<line x1="587.02" y1="46.70" x2="587.02" y2="53.00" stroke="#e8409a" stroke-width="0.7" />
<line x1="589.23" y1="46.70" x2="589.23" y2="39.40" stroke="#5db548" stroke-width="0.7" />
<line x1="591.44" y1="46.70" x2="591.44" y2="41.40" stroke="#5db548" stroke-width="0.7" />
<line x1="593.65" y1="46.70" x2="593.65" y2="38.50" stroke="#5db548" stroke-width="0.7" />
<line x1="595.86" y1="46.70" x2="595.86" y2="40.40" stroke="#5db548" stroke-width="0.7" />
<line x1="598.07" y1="46.70" x2="598.07" y2="41.40" stroke="#5db548" stroke-width="0.7" />
<line x1="600.28" y1="46.70" x2="600.28" y2="41.40" stroke="#5db548" stroke-width="0.7" />
<line x1="602.49" y1="46.70" x2="602.49" y2="40.00" stroke="#5db548" stroke-width="0.7" />
<line x1="604.70" y1="46.70" x2="604.70" y2="41.00" stroke="#5db548" stroke-width="0.7" />
<circle cx="558.30" cy="55.00" r="2.35" fill="#e8409a" />
<circle cx="560.51" cy="54.00" r="2.35" fill="#e8409a" />
<circle cx="562.72" cy="56.90" r="2.35" fill="#e8409a" />
<circle cx="564.93" cy="55.00" r="2.35" fill="#e8409a" />
<circle cx="567.14" cy="54.00" r="2.35" fill="#e8409a" />
<circle cx="569.35" cy="54.00" r="2.35" fill="#e8409a" />
<circle cx="571.56" cy="53.00" r="2.35" fill="#e8409a" />
<circle cx="573.77" cy="52.00" r="2.35" fill="#e8409a" />
<circle cx="575.98" cy="53.00" r="2.35" fill="#e8409a" />
<circle cx="578.19" cy="52.00" r="2.35" fill="#e8409a" />
<circle cx="580.40" cy="53.00" r="2.35" fill="#e8409a" />
<circle cx="582.60" cy="53.00" r="2.35" fill="#e8409a" />
<circle cx="584.81" cy="54.00" r="2.35" fill="#e8409a" />
<circle cx="587.02" cy="53.00" r="2.35" fill="#e8409a" />
<circle cx="589.23" cy="39.40" r="2.35" fill="#5db548" />
<circle cx="591.44" cy="41.40" r="2.35" fill="#5db548" />
<circle cx="593.65" cy="38.50" r="2.35" fill="#5db548" />
<circle cx="595.86" cy="40.40" r="2.35" fill="#5db548" />
<circle cx="598.07" cy="41.40" r="2.35" fill="#5db548" />
<circle cx="600.28" cy="41.40" r="2.35" fill="#5db548" />
<circle cx="602.49" cy="40.00" r="2.35" fill="#5db548" />
<circle cx="604.70" cy="41.00" r="2.35" fill="#5db548" />
<rect x="555.50" y="12.50" width="52.00" height="68.00" fill="none" stroke="#2e2e2e" stroke-width="1.0" />
<rect x="608.0" y="12.5" width="1" height="68.0" fill="#a8a8a8"/>
<text x="581.50" y="8.40" font-size="9.5" text-anchor="middle" fill="#222222" >Skin</text>
<text x="558.70" y="20.64" font-size="8.2" text-anchor="start" fill="#222222" >n = 22</text>
<line x1="612.30" y1="46.70" x2="612.30" y2="46.40" stroke="#e8409a" stroke-width="0.7" />
<line x1="614.52" y1="46.70" x2="614.52" y2="47.30" stroke="#e8409a" stroke-width="0.7" />
<line x1="616.74" y1="46.70" x2="616.74" y2="45.40" stroke="#e8409a" stroke-width="0.7" />
<line x1="618.95" y1="46.70" x2="618.95" y2="46.40" stroke="#e8409a" stroke-width="0.7" />
<line x1="621.17" y1="46.70" x2="621.17" y2="47.50" stroke="#e8409a" stroke-width="0.7" />
<line x1="623.39" y1="46.70" x2="623.39" y2="48.30" stroke="#e8409a" stroke-width="0.7" />
<line x1="625.61" y1="46.70" x2="625.61" y2="46.40" stroke="#e8409a" stroke-width="0.7" />
<line x1="627.83" y1="46.70" x2="627.83" y2="45.50" stroke="#e8409a" stroke-width="0.7" />
<line x1="630.05" y1="46.70" x2="630.05" y2="44.40" stroke="#e8409a" stroke-width="0.7" />
<line x1="632.26" y1="46.70" x2="632.26" y2="47.30" stroke="#e8409a" stroke-width="0.7" />
<line x1="634.48" y1="46.70" x2="634.48" y2="48.30" stroke="#e8409a" stroke-width="0.7" />
<line x1="636.70" y1="46.70" x2="636.70" y2="48.00" stroke="#e8409a" stroke-width="0.7" />
<circle cx="612.30" cy="46.40" r="2.35" fill="#e8409a" />
<circle cx="614.52" cy="47.30" r="2.35" fill="#e8409a" />
<circle cx="616.74" cy="45.40" r="2.35" fill="#e8409a" />
<circle cx="618.95" cy="46.40" r="2.35" fill="#e8409a" />
<circle cx="621.17" cy="47.50" r="2.35" fill="#e8409a" />
<circle cx="623.39" cy="48.30" r="2.35" fill="#e8409a" />
<circle cx="625.61" cy="46.40" r="2.35" fill="#e8409a" />
<circle cx="627.83" cy="45.50" r="2.35" fill="#e8409a" />
<circle cx="630.05" cy="44.40" r="2.35" fill="#e8409a" />
<circle cx="632.26" cy="47.30" r="2.35" fill="#e8409a" />
<circle cx="634.48" cy="48.30" r="2.35" fill="#e8409a" />
<circle cx="636.70" cy="48.00" r="2.35" fill="#e8409a" />
<rect x="609.50" y="12.50" width="30.00" height="68.00" fill="none" stroke="#2e2e2e" stroke-width="1.0" />
<rect x="640.0" y="12.5" width="1" height="68.0" fill="#a8a8a8"/>
<text x="624.50" y="8.40" font-size="9.5" text-anchor="middle" fill="#222222" >Ovary</text>
<text x="612.70" y="20.64" font-size="8.2" text-anchor="start" fill="#222222" >n = 12</text>
<line x1="644.30" y1="46.70" x2="644.30" y2="37.00" stroke="#5db548" stroke-width="0.7" />
<line x1="646.47" y1="46.70" x2="646.47" y2="36.50" stroke="#5db548" stroke-width="0.7" />
<line x1="648.65" y1="46.70" x2="648.65" y2="36.00" stroke="#5db548" stroke-width="0.7" />
<line x1="650.83" y1="46.70" x2="650.83" y2="36.00" stroke="#5db548" stroke-width="0.7" />
<line x1="653.00" y1="46.70" x2="653.00" y2="38.50" stroke="#5db548" stroke-width="0.7" />
<line x1="655.17" y1="46.70" x2="655.17" y2="35.00" stroke="#5db548" stroke-width="0.7" />
<line x1="657.35" y1="46.70" x2="657.35" y2="36.50" stroke="#5db548" stroke-width="0.7" />
<line x1="659.53" y1="46.70" x2="659.53" y2="37.00" stroke="#5db548" stroke-width="0.7" />
<line x1="661.70" y1="46.70" x2="661.70" y2="36.50" stroke="#5db548" stroke-width="0.7" />
<circle cx="644.30" cy="37.00" r="2.35" fill="#5db548" />
<circle cx="646.47" cy="36.50" r="2.35" fill="#5db548" />
<circle cx="648.65" cy="36.00" r="2.35" fill="#5db548" />
<circle cx="650.83" cy="36.00" r="2.35" fill="#5db548" />
<circle cx="653.00" cy="38.50" r="2.35" fill="#5db548" />
<circle cx="655.17" cy="35.00" r="2.35" fill="#5db548" />
<circle cx="657.35" cy="36.50" r="2.35" fill="#5db548" />
<circle cx="659.53" cy="37.00" r="2.35" fill="#5db548" />
<circle cx="661.70" cy="36.50" r="2.35" fill="#5db548" />
<rect x="641.50" y="12.50" width="23.00" height="68.00" fill="none" stroke="#2e2e2e" stroke-width="1.0" />
<text x="653.00" y="8.40" font-size="9.5" text-anchor="middle" fill="#222222" >Testis</text>
<text x="644.70" y="20.64" font-size="8.2" text-anchor="start" fill="#222222" >n=9</text>
<line x1="407.50" y1="15.40" x2="410.50" y2="15.40" stroke="#262626" stroke-width="0.8" />
<text x="404.50" y="18.98" font-size="10" text-anchor="end" fill="#222222" >2.0</text>
<line x1="407.50" y1="46.70" x2="410.50" y2="46.70" stroke="#262626" stroke-width="0.8" />
<text x="404.50" y="50.28" font-size="10" text-anchor="end" fill="#222222" >1.0</text>
<line x1="407.50" y1="78.00" x2="410.50" y2="78.00" stroke="#262626" stroke-width="0.8" />
<text x="404.50" y="81.58" font-size="10" text-anchor="end" fill="#222222" >0.5</text>
<g transform="translate(383.50,46.50) rotate(-90)"><text x="0" y="3.40" font-size="9.5" text-anchor="middle" fill="#222222" >Z:A ratio</text></g>
<text x="537.30" y="91.90" font-size="9.5" text-anchor="middle" fill="#222222" >Individual samples</text>
<text x="665.80" y="31.60" font-size="9.5" text-anchor="start" fill="#222222" >Sex</text>
<circle cx="669.40" cy="42.60" r="2.90" fill="#e8409a" />
<text x="675.80" y="46.00" font-size="9.5" text-anchor="start" fill="#222222" >F</text>
<circle cx="669.40" cy="55.70" r="2.90" fill="#5db548" />
<text x="675.80" y="59.10" font-size="9.5" text-anchor="start" fill="#222222" >M</text>
<line x1="408.50" y1="152.30" x2="538.50" y2="152.30" stroke="#b8b8b8" stroke-width="0.7" stroke-dasharray="2.4,2.2"/>
<line x1="413.00" y1="154.13" x2="413.00" y2="176.10" stroke="#333" stroke-width="0.75" />
<rect x="410.70" y="161.80" width="4.6" height="7.50" fill="#fff" fill-opacity="0.5" stroke="#222" stroke-width="0.85"/>
<circle cx="412.66" cy="167.44" r="1.1" fill="#e0262b" opacity="0.95"/>
<circle cx="412.98" cy="170.66" r="1.1" fill="#e0262b" opacity="0.95"/>
<circle cx="413.57" cy="166.04" r="1.1" fill="#e0262b" opacity="0.95"/>
<circle cx="411.59" cy="163.06" r="1.1" fill="#e0262b" opacity="0.95"/>
<circle cx="413.18" cy="162.02" r="1.1" fill="#e0262b" opacity="0.95"/>
<circle cx="412.27" cy="168.92" r="1.1" fill="#e0262b" opacity="0.95"/>
<circle cx="414.21" cy="172.91" r="1.1" fill="#e0262b" opacity="0.95"/>
<circle cx="411.61" cy="166.78" r="1.1" fill="#e0262b" opacity="0.95"/>
<circle cx="413.57" cy="160.00" r="1.1" fill="#e0262b" opacity="0.95"/>
<circle cx="414.18" cy="161.24" r="1.1" fill="#e0262b" opacity="0.95"/>
<circle cx="412.13" cy="172.75" r="1.1" fill="#e0262b" opacity="0.95"/>
<circle cx="414.27" cy="166.46" r="1.1" fill="#e0262b" opacity="0.95"/>
<circle cx="414.19" cy="157.76" r="1.1" fill="#e0262b" opacity="0.95"/>
<line x1="410.70" y1="166.69" x2="415.30" y2="166.69" stroke="#1a1a1a" stroke-width="1.2" />
<line x1="418.20" y1="164.78" x2="418.20" y2="177.93" stroke="#333" stroke-width="0.75" />
<rect x="415.90" y="169.60" width="4.6" height="4.90" fill="#fff" fill-opacity="0.5" stroke="#222" stroke-width="0.85"/>
<circle cx="418.22" cy="171.94" r="1.1" fill="#3579bd" opacity="0.95"/>
<circle cx="418.22" cy="171.16" r="1.1" fill="#3579bd" opacity="0.95"/>
<circle cx="417.36" cy="168.97" r="1.1" fill="#3579bd" opacity="0.95"/>
<circle cx="416.65" cy="170.89" r="1.1" fill="#3579bd" opacity="0.95"/>
<circle cx="419.59" cy="168.84" r="1.1" fill="#3579bd" opacity="0.95"/>
<circle cx="416.87" cy="168.07" r="1.1" fill="#3579bd" opacity="0.95"/>
<circle cx="419.30" cy="172.71" r="1.1" fill="#3579bd" opacity="0.95"/>
<circle cx="417.78" cy="168.79" r="1.1" fill="#3579bd" opacity="0.95"/>
<circle cx="419.64" cy="175.49" r="1.1" fill="#3579bd" opacity="0.95"/>
<circle cx="417.88" cy="174.16" r="1.1" fill="#3579bd" opacity="0.95"/>
<circle cx="419.60" cy="166.18" r="1.1" fill="#3579bd" opacity="0.95"/>
<circle cx="418.38" cy="172.85" r="1.1" fill="#3579bd" opacity="0.95"/>
<circle cx="417.37" cy="168.81" r="1.1" fill="#3579bd" opacity="0.95"/>
<line x1="415.90" y1="170.87" x2="420.50" y2="170.87" stroke="#1a1a1a" stroke-width="1.2" />
<line x1="425.93" y1="152.67" x2="425.93" y2="179.16" stroke="#333" stroke-width="0.75" />
<rect x="423.63" y="161.40" width="4.6" height="9.00" fill="#fff" fill-opacity="0.5" stroke="#222" stroke-width="0.85"/>
<circle cx="426.29" cy="170.44" r="1.1" fill="#e0262b" opacity="0.95"/>
<circle cx="427.34" cy="162.62" r="1.1" fill="#e0262b" opacity="0.95"/>
<circle cx="427.50" cy="165.52" r="1.1" fill="#e0262b" opacity="0.95"/>
<circle cx="426.65" cy="173.19" r="1.1" fill="#e0262b" opacity="0.95"/>
<circle cx="426.92" cy="163.76" r="1.1" fill="#e0262b" opacity="0.95"/>
<circle cx="424.82" cy="166.92" r="1.1" fill="#e0262b" opacity="0.95"/>
<circle cx="426.61" cy="165.79" r="1.1" fill="#e0262b" opacity="0.95"/>
<circle cx="427.04" cy="169.19" r="1.1" fill="#e0262b" opacity="0.95"/>
<circle cx="425.61" cy="163.93" r="1.1" fill="#e0262b" opacity="0.95"/>
<circle cx="426.10" cy="165.08" r="1.1" fill="#e0262b" opacity="0.95"/>
<circle cx="425.86" cy="167.21" r="1.1" fill="#e0262b" opacity="0.95"/>
<circle cx="427.40" cy="166.46" r="1.1" fill="#e0262b" opacity="0.95"/>
<circle cx="425.35" cy="161.23" r="1.1" fill="#e0262b" opacity="0.95"/>
<line x1="423.63" y1="166.99" x2="428.23" y2="166.99" stroke="#1a1a1a" stroke-width="1.2" />
<line x1="431.13" y1="160.71" x2="431.13" y2="175.35" stroke="#333" stroke-width="0.75" />
<rect x="428.83" y="164.70" width="4.6" height="5.70" fill="#fff" fill-opacity="0.5" stroke="#222" stroke-width="0.85"/>
<circle cx="431.22" cy="167.36" r="1.1" fill="#3579bd" opacity="0.95"/>
<circle cx="430.36" cy="172.13" r="1.1" fill="#3579bd" opacity="0.95"/>
<circle cx="431.10" cy="165.78" r="1.1" fill="#3579bd" opacity="0.95"/>
<circle cx="431.30" cy="163.24" r="1.1" fill="#3579bd" opacity="0.95"/>
<circle cx="429.87" cy="161.27" r="1.1" fill="#3579bd" opacity="0.95"/>
<circle cx="432.30" cy="166.85" r="1.1" fill="#3579bd" opacity="0.95"/>
<circle cx="430.42" cy="166.35" r="1.1" fill="#3579bd" opacity="0.95"/>
<circle cx="430.96" cy="168.46" r="1.1" fill="#3579bd" opacity="0.95"/>
<circle cx="429.71" cy="165.96" r="1.1" fill="#3579bd" opacity="0.95"/>
<circle cx="429.54" cy="165.91" r="1.1" fill="#3579bd" opacity="0.95"/>
<circle cx="430.15" cy="165.08" r="1.1" fill="#3579bd" opacity="0.95"/>
<circle cx="430.62" cy="165.77" r="1.1" fill="#3579bd" opacity="0.95"/>
<circle cx="432.50" cy="168.10" r="1.1" fill="#3579bd" opacity="0.95"/>
<line x1="428.83" y1="167.27" x2="433.43" y2="167.27" stroke="#1a1a1a" stroke-width="1.2" />
<line x1="438.86" y1="160.33" x2="438.86" y2="173.92" stroke="#333" stroke-width="0.75" />
<rect x="436.56" y="164.70" width="4.6" height="4.90" fill="#fff" fill-opacity="0.5" stroke="#222" stroke-width="0.85"/>
<circle cx="437.94" cy="168.39" r="1.1" fill="#e0262b" opacity="0.95"/>
<circle cx="437.91" cy="172.66" r="1.1" fill="#e0262b" opacity="0.95"/>
<circle cx="437.42" cy="163.58" r="1.1" fill="#e0262b" opacity="0.95"/>
<circle cx="437.96" cy="167.91" r="1.1" fill="#e0262b" opacity="0.95"/>
<circle cx="439.18" cy="166.25" r="1.1" fill="#e0262b" opacity="0.95"/>
<circle cx="440.10" cy="164.04" r="1.1" fill="#e0262b" opacity="0.95"/>
<circle cx="438.38" cy="164.13" r="1.1" fill="#e0262b" opacity="0.95"/>
<circle cx="438.43" cy="167.11" r="1.1" fill="#e0262b" opacity="0.95"/>
<circle cx="438.59" cy="168.43" r="1.1" fill="#e0262b" opacity="0.95"/>
<circle cx="439.44" cy="165.59" r="1.1" fill="#e0262b" opacity="0.95"/>
<circle cx="439.77" cy="167.31" r="1.1" fill="#e0262b" opacity="0.95"/>
<circle cx="440.27" cy="169.27" r="1.1" fill="#e0262b" opacity="0.95"/>
<circle cx="438.46" cy="168.02" r="1.1" fill="#e0262b" opacity="0.95"/>
<line x1="436.56" y1="168.10" x2="441.16" y2="168.10" stroke="#1a1a1a" stroke-width="1.2" />
<line x1="444.06" y1="161.76" x2="444.06" y2="180.39" stroke="#333" stroke-width="0.75" />
<rect x="441.76" y="167.20" width="4.6" height="6.50" fill="#fff" fill-opacity="0.5" stroke="#222" stroke-width="0.85"/>
<circle cx="444.24" cy="166.32" r="1.1" fill="#3579bd" opacity="0.95"/>
<circle cx="444.03" cy="175.82" r="1.1" fill="#3579bd" opacity="0.95"/>
<circle cx="444.37" cy="170.58" r="1.1" fill="#3579bd" opacity="0.95"/>
<circle cx="444.79" cy="163.38" r="1.1" fill="#3579bd" opacity="0.95"/>
<circle cx="444.14" cy="168.81" r="1.1" fill="#3579bd" opacity="0.95"/>
<circle cx="444.26" cy="168.47" r="1.1" fill="#3579bd" opacity="0.95"/>
<circle cx="444.03" cy="176.65" r="1.1" fill="#3579bd" opacity="0.95"/>
<circle cx="444.43" cy="167.36" r="1.1" fill="#3579bd" opacity="0.95"/>
<circle cx="443.25" cy="169.46" r="1.1" fill="#3579bd" opacity="0.95"/>
<circle cx="444.23" cy="169.37" r="1.1" fill="#3579bd" opacity="0.95"/>
<circle cx="444.61" cy="168.97" r="1.1" fill="#3579bd" opacity="0.95"/>
<circle cx="443.07" cy="166.89" r="1.1" fill="#3579bd" opacity="0.95"/>
<circle cx="445.63" cy="171.30" r="1.1" fill="#3579bd" opacity="0.95"/>
<line x1="441.76" y1="171.12" x2="446.36" y2="171.12" stroke="#1a1a1a" stroke-width="1.2" />
<line x1="451.79" y1="156.80" x2="451.79" y2="177.97" stroke="#333" stroke-width="0.75" />
<rect x="449.49" y="164.70" width="4.6" height="7.30" fill="#fff" fill-opacity="0.5" stroke="#222" stroke-width="0.85"/>
<circle cx="451.64" cy="171.19" r="1.1" fill="#e0262b" opacity="0.95"/>
<circle cx="451.07" cy="167.82" r="1.1" fill="#e0262b" opacity="0.95"/>
<circle cx="451.75" cy="167.34" r="1.1" fill="#e0262b" opacity="0.95"/>
<circle cx="453.14" cy="168.09" r="1.1" fill="#e0262b" opacity="0.95"/>
<circle cx="450.83" cy="176.47" r="1.1" fill="#e0262b" opacity="0.95"/>
<circle cx="452.53" cy="177.81" r="1.1" fill="#e0262b" opacity="0.95"/>
<circle cx="450.99" cy="166.05" r="1.1" fill="#e0262b" opacity="0.95"/>
<circle cx="450.81" cy="164.29" r="1.1" fill="#e0262b" opacity="0.95"/>
<circle cx="451.23" cy="180.14" r="1.1" fill="#e0262b" opacity="0.95"/>
<circle cx="450.49" cy="164.06" r="1.1" fill="#e0262b" opacity="0.95"/>
<circle cx="453.18" cy="165.84" r="1.1" fill="#e0262b" opacity="0.95"/>
<circle cx="451.36" cy="168.51" r="1.1" fill="#e0262b" opacity="0.95"/>
<circle cx="450.75" cy="170.47" r="1.1" fill="#e0262b" opacity="0.95"/>
<line x1="449.49" y1="169.25" x2="454.09" y2="169.25" stroke="#1a1a1a" stroke-width="1.2" />
<line x1="456.99" y1="165.10" x2="456.99" y2="175.14" stroke="#333" stroke-width="0.75" />
<rect x="454.69" y="168.00" width="4.6" height="4.00" fill="#fff" fill-opacity="0.5" stroke="#222" stroke-width="0.85"/>
<circle cx="457.01" cy="171.60" r="1.1" fill="#3579bd" opacity="0.95"/>
<circle cx="455.72" cy="171.91" r="1.1" fill="#3579bd" opacity="0.95"/>
<circle cx="457.82" cy="168.32" r="1.1" fill="#3579bd" opacity="0.95"/>
<circle cx="458.02" cy="169.55" r="1.1" fill="#3579bd" opacity="0.95"/>
<circle cx="456.94" cy="174.25" r="1.1" fill="#3579bd" opacity="0.95"/>
<circle cx="456.63" cy="174.13" r="1.1" fill="#3579bd" opacity="0.95"/>
<circle cx="458.42" cy="172.05" r="1.1" fill="#3579bd" opacity="0.95"/>
<circle cx="456.59" cy="170.80" r="1.1" fill="#3579bd" opacity="0.95"/>
<circle cx="458.20" cy="172.73" r="1.1" fill="#3579bd" opacity="0.95"/>
<circle cx="456.73" cy="169.66" r="1.1" fill="#3579bd" opacity="0.95"/>
<circle cx="456.59" cy="169.77" r="1.1" fill="#3579bd" opacity="0.95"/>
<circle cx="456.55" cy="167.94" r="1.1" fill="#3579bd" opacity="0.95"/>
<circle cx="455.58" cy="170.01" r="1.1" fill="#3579bd" opacity="0.95"/>
<line x1="454.69" y1="169.00" x2="459.29" y2="169.00" stroke="#1a1a1a" stroke-width="1.2" />
<line x1="464.72" y1="166.02" x2="464.72" y2="173.57" stroke="#333" stroke-width="0.75" />
<rect x="462.42" y="168.40" width="4.6" height="3.00" fill="#fff" fill-opacity="0.5" stroke="#222" stroke-width="0.85"/>
<circle cx="463.96" cy="168.92" r="1.1" fill="#e0262b" opacity="0.95"/>
<circle cx="464.66" cy="171.20" r="1.1" fill="#e0262b" opacity="0.95"/>
<circle cx="463.92" cy="170.72" r="1.1" fill="#e0262b" opacity="0.95"/>
<circle cx="465.98" cy="169.40" r="1.1" fill="#e0262b" opacity="0.95"/>
<circle cx="466.16" cy="168.70" r="1.1" fill="#e0262b" opacity="0.95"/>
<circle cx="463.35" cy="169.80" r="1.1" fill="#e0262b" opacity="0.95"/>
<circle cx="464.80" cy="172.29" r="1.1" fill="#e0262b" opacity="0.95"/>
<circle cx="463.71" cy="170.53" r="1.1" fill="#e0262b" opacity="0.95"/>
<circle cx="464.41" cy="171.05" r="1.1" fill="#e0262b" opacity="0.95"/>
<circle cx="465.49" cy="169.63" r="1.1" fill="#e0262b" opacity="0.95"/>
<circle cx="465.40" cy="167.57" r="1.1" fill="#e0262b" opacity="0.95"/>
<circle cx="463.73" cy="168.62" r="1.1" fill="#e0262b" opacity="0.95"/>
<circle cx="464.18" cy="171.07" r="1.1" fill="#e0262b" opacity="0.95"/>
<line x1="462.42" y1="169.57" x2="467.02" y2="169.57" stroke="#1a1a1a" stroke-width="1.2" />
<line x1="469.92" y1="161.73" x2="469.92" y2="175.86" stroke="#333" stroke-width="0.75" />
<rect x="467.62" y="166.00" width="4.6" height="5.00" fill="#fff" fill-opacity="0.5" stroke="#222" stroke-width="0.85"/>
<circle cx="471.16" cy="167.57" r="1.1" fill="#3579bd" opacity="0.95"/>
<circle cx="469.92" cy="170.15" r="1.1" fill="#3579bd" opacity="0.95"/>
<circle cx="471.39" cy="171.96" r="1.1" fill="#3579bd" opacity="0.95"/>
<circle cx="468.76" cy="166.10" r="1.1" fill="#3579bd" opacity="0.95"/>
<circle cx="470.83" cy="163.19" r="1.1" fill="#3579bd" opacity="0.95"/>
<circle cx="469.83" cy="172.08" r="1.1" fill="#3579bd" opacity="0.95"/>
<circle cx="469.84" cy="168.55" r="1.1" fill="#3579bd" opacity="0.95"/>
<circle cx="471.14" cy="170.63" r="1.1" fill="#3579bd" opacity="0.95"/>
<circle cx="468.74" cy="164.50" r="1.1" fill="#3579bd" opacity="0.95"/>
<circle cx="469.97" cy="173.70" r="1.1" fill="#3579bd" opacity="0.95"/>
<circle cx="469.12" cy="170.72" r="1.1" fill="#3579bd" opacity="0.95"/>
<circle cx="469.42" cy="168.12" r="1.1" fill="#3579bd" opacity="0.95"/>
<circle cx="470.94" cy="167.44" r="1.1" fill="#3579bd" opacity="0.95"/>
<line x1="467.62" y1="168.31" x2="472.22" y2="168.31" stroke="#1a1a1a" stroke-width="1.2" />
<line x1="477.65" y1="164.45" x2="477.65" y2="173.97" stroke="#333" stroke-width="0.75" />
<rect x="475.35" y="168.00" width="4.6" height="3.50" fill="#fff" fill-opacity="0.5" stroke="#222" stroke-width="0.85"/>
<circle cx="476.24" cy="167.71" r="1.1" fill="#e0262b" opacity="0.95"/>
<circle cx="476.24" cy="171.52" r="1.1" fill="#e0262b" opacity="0.95"/>
<circle cx="479.03" cy="168.29" r="1.1" fill="#e0262b" opacity="0.95"/>
<circle cx="478.67" cy="167.85" r="1.1" fill="#e0262b" opacity="0.95"/>
<circle cx="476.10" cy="167.94" r="1.1" fill="#e0262b" opacity="0.95"/>
<circle cx="479.03" cy="170.08" r="1.1" fill="#e0262b" opacity="0.95"/>
<circle cx="476.77" cy="171.32" r="1.1" fill="#e0262b" opacity="0.95"/>
<circle cx="476.90" cy="168.50" r="1.1" fill="#e0262b" opacity="0.95"/>
<circle cx="477.92" cy="166.58" r="1.1" fill="#e0262b" opacity="0.95"/>
<circle cx="476.71" cy="171.98" r="1.1" fill="#e0262b" opacity="0.95"/>
<circle cx="479.17" cy="167.51" r="1.1" fill="#e0262b" opacity="0.95"/>
<circle cx="477.22" cy="172.26" r="1.1" fill="#e0262b" opacity="0.95"/>
<circle cx="477.88" cy="169.64" r="1.1" fill="#e0262b" opacity="0.95"/>
<line x1="475.35" y1="169.57" x2="479.95" y2="169.57" stroke="#1a1a1a" stroke-width="1.2" />
<line x1="482.85" y1="163.75" x2="482.85" y2="174.98" stroke="#333" stroke-width="0.75" />
<rect x="480.55" y="167.00" width="4.6" height="4.00" fill="#fff" fill-opacity="0.5" stroke="#222" stroke-width="0.85"/>
<circle cx="482.06" cy="165.83" r="1.1" fill="#3579bd" opacity="0.95"/>
<circle cx="484.13" cy="173.84" r="1.1" fill="#3579bd" opacity="0.95"/>
<circle cx="483.13" cy="171.49" r="1.1" fill="#3579bd" opacity="0.95"/>
<circle cx="482.03" cy="170.25" r="1.1" fill="#3579bd" opacity="0.95"/>
<circle cx="483.49" cy="170.10" r="1.1" fill="#3579bd" opacity="0.95"/>
<circle cx="484.44" cy="173.25" r="1.1" fill="#3579bd" opacity="0.95"/>
<circle cx="484.12" cy="170.29" r="1.1" fill="#3579bd" opacity="0.95"/>
<circle cx="483.81" cy="169.19" r="1.1" fill="#3579bd" opacity="0.95"/>
<circle cx="482.31" cy="166.05" r="1.1" fill="#3579bd" opacity="0.95"/>
<circle cx="483.12" cy="168.82" r="1.1" fill="#3579bd" opacity="0.95"/>
<circle cx="483.12" cy="167.24" r="1.1" fill="#3579bd" opacity="0.95"/>
<circle cx="481.53" cy="167.31" r="1.1" fill="#3579bd" opacity="0.95"/>
<circle cx="483.47" cy="167.29" r="1.1" fill="#3579bd" opacity="0.95"/>
<line x1="480.55" y1="169.14" x2="485.15" y2="169.14" stroke="#1a1a1a" stroke-width="1.2" />
<line x1="490.58" y1="155.41" x2="490.58" y2="181.25" stroke="#333" stroke-width="0.75" />
<rect x="488.28" y="163.50" width="4.6" height="8.90" fill="#fff" fill-opacity="0.5" stroke="#222" stroke-width="0.85"/>
<circle cx="492.06" cy="165.47" r="1.1" fill="#e0262b" opacity="0.95"/>
<circle cx="491.91" cy="161.27" r="1.1" fill="#e0262b" opacity="0.95"/>
<circle cx="490.39" cy="159.06" r="1.1" fill="#e0262b" opacity="0.95"/>
<circle cx="489.19" cy="169.08" r="1.1" fill="#e0262b" opacity="0.95"/>
<circle cx="490.10" cy="167.72" r="1.1" fill="#e0262b" opacity="0.95"/>
<circle cx="490.66" cy="164.28" r="1.1" fill="#e0262b" opacity="0.95"/>
<circle cx="490.20" cy="162.87" r="1.1" fill="#e0262b" opacity="0.95"/>
<circle cx="491.32" cy="165.06" r="1.1" fill="#e0262b" opacity="0.95"/>
<circle cx="491.36" cy="165.85" r="1.1" fill="#e0262b" opacity="0.95"/>
<circle cx="491.85" cy="165.77" r="1.1" fill="#e0262b" opacity="0.95"/>
<circle cx="490.48" cy="167.67" r="1.1" fill="#e0262b" opacity="0.95"/>
<circle cx="489.74" cy="165.62" r="1.1" fill="#e0262b" opacity="0.95"/>
<circle cx="491.90" cy="170.02" r="1.1" fill="#e0262b" opacity="0.95"/>
<line x1="488.28" y1="168.04" x2="492.88" y2="168.04" stroke="#1a1a1a" stroke-width="1.2" />
<line x1="495.78" y1="155.42" x2="495.78" y2="172.91" stroke="#333" stroke-width="0.75" />
<rect x="493.48" y="160.60" width="4.6" height="6.90" fill="#fff" fill-opacity="0.5" stroke="#222" stroke-width="0.85"/>
<circle cx="497.21" cy="167.71" r="1.1" fill="#3579bd" opacity="0.95"/>
<circle cx="494.79" cy="161.55" r="1.1" fill="#3579bd" opacity="0.95"/>
<circle cx="494.58" cy="166.13" r="1.1" fill="#3579bd" opacity="0.95"/>
<circle cx="495.31" cy="164.88" r="1.1" fill="#3579bd" opacity="0.95"/>
<circle cx="495.22" cy="165.18" r="1.1" fill="#3579bd" opacity="0.95"/>
<circle cx="495.63" cy="167.75" r="1.1" fill="#3579bd" opacity="0.95"/>
<circle cx="494.73" cy="162.02" r="1.1" fill="#3579bd" opacity="0.95"/>
<circle cx="496.44" cy="162.45" r="1.1" fill="#3579bd" opacity="0.95"/>
<circle cx="496.81" cy="160.51" r="1.1" fill="#3579bd" opacity="0.95"/>
<circle cx="494.20" cy="162.49" r="1.1" fill="#3579bd" opacity="0.95"/>
<circle cx="497.09" cy="170.95" r="1.1" fill="#3579bd" opacity="0.95"/>
<circle cx="494.47" cy="162.55" r="1.1" fill="#3579bd" opacity="0.95"/>
<circle cx="495.16" cy="168.96" r="1.1" fill="#3579bd" opacity="0.95"/>
<line x1="493.48" y1="165.38" x2="498.08" y2="165.38" stroke="#1a1a1a" stroke-width="1.2" />
<line x1="503.51" y1="158.85" x2="503.51" y2="176.11" stroke="#333" stroke-width="0.75" />
<rect x="501.21" y="164.50" width="4.6" height="6.50" fill="#fff" fill-opacity="0.5" stroke="#222" stroke-width="0.85"/>
<circle cx="502.25" cy="174.73" r="1.1" fill="#e0262b" opacity="0.95"/>
<circle cx="502.03" cy="171.54" r="1.1" fill="#e0262b" opacity="0.95"/>
<circle cx="504.06" cy="169.77" r="1.1" fill="#e0262b" opacity="0.95"/>
<circle cx="502.53" cy="169.83" r="1.1" fill="#e0262b" opacity="0.95"/>
<circle cx="504.97" cy="166.35" r="1.1" fill="#e0262b" opacity="0.95"/>
<circle cx="503.72" cy="166.88" r="1.1" fill="#e0262b" opacity="0.95"/>
<circle cx="503.75" cy="170.57" r="1.1" fill="#e0262b" opacity="0.95"/>
<circle cx="504.77" cy="171.33" r="1.1" fill="#e0262b" opacity="0.95"/>
<circle cx="502.86" cy="171.39" r="1.1" fill="#e0262b" opacity="0.95"/>
<circle cx="501.94" cy="168.58" r="1.1" fill="#e0262b" opacity="0.95"/>
<circle cx="502.61" cy="165.93" r="1.1" fill="#e0262b" opacity="0.95"/>
<circle cx="503.38" cy="167.00" r="1.1" fill="#e0262b" opacity="0.95"/>
<circle cx="502.40" cy="172.08" r="1.1" fill="#e0262b" opacity="0.95"/>
<line x1="501.21" y1="167.71" x2="505.81" y2="167.71" stroke="#1a1a1a" stroke-width="1.2" />
<line x1="508.71" y1="161.62" x2="508.71" y2="175.57" stroke="#333" stroke-width="0.75" />
<rect x="506.41" y="166.50" width="4.6" height="4.90" fill="#fff" fill-opacity="0.5" stroke="#222" stroke-width="0.85"/>
<circle cx="509.44" cy="172.87" r="1.1" fill="#3579bd" opacity="0.95"/>
<circle cx="508.60" cy="164.34" r="1.1" fill="#3579bd" opacity="0.95"/>
<circle cx="508.53" cy="169.85" r="1.1" fill="#3579bd" opacity="0.95"/>
<circle cx="509.89" cy="171.00" r="1.1" fill="#3579bd" opacity="0.95"/>
<circle cx="507.13" cy="166.92" r="1.1" fill="#3579bd" opacity="0.95"/>
<circle cx="507.75" cy="171.35" r="1.1" fill="#3579bd" opacity="0.95"/>
<circle cx="510.17" cy="167.98" r="1.1" fill="#3579bd" opacity="0.95"/>
<circle cx="509.20" cy="172.57" r="1.1" fill="#3579bd" opacity="0.95"/>
<circle cx="509.76" cy="170.50" r="1.1" fill="#3579bd" opacity="0.95"/>
<circle cx="508.82" cy="169.61" r="1.1" fill="#3579bd" opacity="0.95"/>
<circle cx="507.24" cy="174.86" r="1.1" fill="#3579bd" opacity="0.95"/>
<circle cx="508.83" cy="171.40" r="1.1" fill="#3579bd" opacity="0.95"/>
<circle cx="509.13" cy="172.80" r="1.1" fill="#3579bd" opacity="0.95"/>
<line x1="506.41" y1="168.41" x2="511.01" y2="168.41" stroke="#1a1a1a" stroke-width="1.2" />
<line x1="516.44" y1="161.13" x2="516.44" y2="175.68" stroke="#333" stroke-width="0.75" />
<rect x="514.14" y="165.50" width="4.6" height="4.90" fill="#fff" fill-opacity="0.5" stroke="#222" stroke-width="0.85"/>
<circle cx="515.98" cy="171.09" r="1.1" fill="#e0262b" opacity="0.95"/>
<circle cx="517.39" cy="166.70" r="1.1" fill="#e0262b" opacity="0.95"/>
<circle cx="516.29" cy="173.15" r="1.1" fill="#e0262b" opacity="0.95"/>
<circle cx="517.86" cy="168.60" r="1.1" fill="#e0262b" opacity="0.95"/>
<circle cx="516.12" cy="168.22" r="1.1" fill="#e0262b" opacity="0.95"/>
<circle cx="517.47" cy="169.00" r="1.1" fill="#e0262b" opacity="0.95"/>
<circle cx="515.08" cy="173.07" r="1.1" fill="#e0262b" opacity="0.95"/>
<circle cx="515.92" cy="169.88" r="1.1" fill="#e0262b" opacity="0.95"/>
<circle cx="515.31" cy="169.47" r="1.1" fill="#e0262b" opacity="0.95"/>
<circle cx="516.13" cy="168.69" r="1.1" fill="#e0262b" opacity="0.95"/>
<circle cx="516.14" cy="163.36" r="1.1" fill="#e0262b" opacity="0.95"/>
<circle cx="515.61" cy="165.35" r="1.1" fill="#e0262b" opacity="0.95"/>
<circle cx="516.18" cy="172.31" r="1.1" fill="#e0262b" opacity="0.95"/>
<line x1="514.14" y1="166.94" x2="518.74" y2="166.94" stroke="#1a1a1a" stroke-width="1.2" />
<line x1="521.64" y1="152.41" x2="521.64" y2="176.42" stroke="#333" stroke-width="0.75" />
<rect x="519.34" y="160.60" width="4.6" height="8.80" fill="#fff" fill-opacity="0.5" stroke="#222" stroke-width="0.85"/>
<circle cx="522.01" cy="156.57" r="1.1" fill="#3579bd" opacity="0.95"/>
<circle cx="521.31" cy="168.25" r="1.1" fill="#3579bd" opacity="0.95"/>
<circle cx="522.23" cy="169.97" r="1.1" fill="#3579bd" opacity="0.95"/>
<circle cx="520.11" cy="175.62" r="1.1" fill="#3579bd" opacity="0.95"/>
<circle cx="523.01" cy="168.99" r="1.1" fill="#3579bd" opacity="0.95"/>
<circle cx="521.52" cy="169.38" r="1.1" fill="#3579bd" opacity="0.95"/>
<circle cx="521.48" cy="160.34" r="1.1" fill="#3579bd" opacity="0.95"/>
<circle cx="521.47" cy="168.97" r="1.1" fill="#3579bd" opacity="0.95"/>
<circle cx="520.92" cy="168.56" r="1.1" fill="#3579bd" opacity="0.95"/>
<circle cx="522.65" cy="159.43" r="1.1" fill="#3579bd" opacity="0.95"/>
<circle cx="521.49" cy="160.27" r="1.1" fill="#3579bd" opacity="0.95"/>
<circle cx="520.35" cy="164.41" r="1.1" fill="#3579bd" opacity="0.95"/>
<circle cx="521.16" cy="166.52" r="1.1" fill="#3579bd" opacity="0.95"/>
<line x1="519.34" y1="165.80" x2="523.94" y2="165.80" stroke="#1a1a1a" stroke-width="1.2" />
<rect x="527.07" y="196.70" width="4.6" height="2.0" fill="#6b1a1a"/>
<line x1="534.57" y1="141.95" x2="534.57" y2="164.04" stroke="#333" stroke-width="0.75" />
<rect x="532.27" y="147.80" width="4.6" height="7.90" fill="#fff" fill-opacity="0.5" stroke="#222" stroke-width="0.85"/>
<circle cx="534.04" cy="151.47" r="1.1" fill="#3579bd" opacity="0.95"/>
<circle cx="533.34" cy="148.02" r="1.1" fill="#3579bd" opacity="0.95"/>
<circle cx="534.13" cy="147.29" r="1.1" fill="#3579bd" opacity="0.95"/>
<circle cx="535.12" cy="142.14" r="1.1" fill="#3579bd" opacity="0.95"/>
<circle cx="535.59" cy="152.56" r="1.1" fill="#3579bd" opacity="0.95"/>
<circle cx="535.42" cy="152.98" r="1.1" fill="#3579bd" opacity="0.95"/>
<circle cx="532.98" cy="142.38" r="1.1" fill="#3579bd" opacity="0.95"/>
<circle cx="534.05" cy="146.81" r="1.1" fill="#3579bd" opacity="0.95"/>
<circle cx="534.54" cy="148.22" r="1.1" fill="#3579bd" opacity="0.95"/>
<circle cx="535.58" cy="151.63" r="1.1" fill="#3579bd" opacity="0.95"/>
<circle cx="534.78" cy="152.91" r="1.1" fill="#3579bd" opacity="0.95"/>
<circle cx="535.54" cy="157.09" r="1.1" fill="#3579bd" opacity="0.95"/>
<circle cx="535.18" cy="158.22" r="1.1" fill="#3579bd" opacity="0.95"/>
<line x1="532.27" y1="151.20" x2="536.87" y2="151.20" stroke="#1a1a1a" stroke-width="1.2" />
<rect x="408.50" y="129.50" width="130.00" height="72.00" fill="none" stroke="#262626" stroke-width="1.0" />
<text x="411.90" y="138.83" font-size="7.9" text-anchor="start" fill="#222222" >n = 13</text>
<line x1="543.50" y1="152.30" x2="674.50" y2="152.30" stroke="#b8b8b8" stroke-width="0.7" stroke-dasharray="2.4,2.2"/>
<line x1="548.80" y1="168.30" x2="548.80" y2="172.50" stroke="#333" stroke-width="0.75" />
<rect x="546.50" y="168.80" width="4.6" height="3.20" fill="#fff" fill-opacity="0.9" stroke="#222" stroke-width="0.85"/>
<circle cx="550.39" cy="167.40" r="1.1" fill="#e0262b" opacity="0.95"/>
<circle cx="548.30" cy="173.00" r="1.1" fill="#e0262b" opacity="0.95"/>
<line x1="546.50" y1="169.72" x2="551.10" y2="169.72" stroke="#1a1a1a" stroke-width="1.2" />
<line x1="554.00" y1="166.50" x2="554.00" y2="171.50" stroke="#333" stroke-width="0.75" />
<rect x="551.70" y="167.00" width="4.6" height="4.00" fill="#fff" fill-opacity="0.9" stroke="#222" stroke-width="0.85"/>
<circle cx="554.15" cy="165.60" r="1.1" fill="#3579bd" opacity="0.95"/>
<circle cx="555.37" cy="172.00" r="1.1" fill="#3579bd" opacity="0.95"/>
<line x1="551.70" y1="168.98" x2="556.30" y2="168.98" stroke="#1a1a1a" stroke-width="1.2" />
<line x1="561.66" y1="167.50" x2="561.66" y2="173.40" stroke="#333" stroke-width="0.75" />
<rect x="559.36" y="168.00" width="4.6" height="4.90" fill="#fff" fill-opacity="0.9" stroke="#222" stroke-width="0.85"/>
<circle cx="563.00" cy="166.60" r="1.1" fill="#e0262b" opacity="0.95"/>
<circle cx="562.65" cy="173.90" r="1.1" fill="#e0262b" opacity="0.95"/>
<line x1="559.36" y1="171.23" x2="563.96" y2="171.23" stroke="#1a1a1a" stroke-width="1.2" />
<line x1="566.86" y1="165.00" x2="566.86" y2="170.90" stroke="#333" stroke-width="0.75" />
<rect x="564.56" y="165.50" width="4.6" height="4.90" fill="#fff" fill-opacity="0.9" stroke="#222" stroke-width="0.85"/>
<circle cx="567.21" cy="164.10" r="1.1" fill="#3579bd" opacity="0.95"/>
<circle cx="565.72" cy="171.40" r="1.1" fill="#3579bd" opacity="0.95"/>
<line x1="564.56" y1="167.35" x2="569.16" y2="167.35" stroke="#1a1a1a" stroke-width="1.2" />
<line x1="574.52" y1="166.50" x2="574.52" y2="171.50" stroke="#333" stroke-width="0.75" />
<rect x="572.22" y="167.00" width="4.6" height="4.00" fill="#fff" fill-opacity="0.9" stroke="#222" stroke-width="0.85"/>
<circle cx="574.23" cy="165.60" r="1.1" fill="#e0262b" opacity="0.95"/>
<circle cx="574.51" cy="172.00" r="1.1" fill="#e0262b" opacity="0.95"/>
<line x1="572.22" y1="169.67" x2="576.82" y2="169.67" stroke="#1a1a1a" stroke-width="1.2" />
<line x1="579.72" y1="167.00" x2="579.72" y2="172.00" stroke="#333" stroke-width="0.75" />
<rect x="577.42" y="167.50" width="4.6" height="4.00" fill="#fff" fill-opacity="0.9" stroke="#222" stroke-width="0.85"/>
<circle cx="580.54" cy="166.10" r="1.1" fill="#3579bd" opacity="0.95"/>
<circle cx="579.41" cy="172.50" r="1.1" fill="#3579bd" opacity="0.95"/>
<line x1="577.42" y1="168.75" x2="582.02" y2="168.75" stroke="#1a1a1a" stroke-width="1.2" />
<line x1="587.38" y1="163.40" x2="587.38" y2="169.30" stroke="#333" stroke-width="0.75" />
<rect x="585.08" y="163.90" width="4.6" height="4.90" fill="#fff" fill-opacity="0.9" stroke="#222" stroke-width="0.85"/>
<circle cx="587.34" cy="162.50" r="1.1" fill="#e0262b" opacity="0.95"/>
<circle cx="586.11" cy="169.80" r="1.1" fill="#e0262b" opacity="0.95"/>
<line x1="585.08" y1="165.16" x2="589.68" y2="165.16" stroke="#1a1a1a" stroke-width="1.2" />
<line x1="592.58" y1="168.30" x2="592.58" y2="175.00" stroke="#333" stroke-width="0.75" />
<rect x="590.28" y="168.80" width="4.6" height="5.70" fill="#fff" fill-opacity="0.9" stroke="#222" stroke-width="0.85"/>
<circle cx="594.00" cy="167.40" r="1.1" fill="#3579bd" opacity="0.95"/>
<circle cx="591.67" cy="175.50" r="1.1" fill="#3579bd" opacity="0.95"/>
<line x1="590.28" y1="171.69" x2="594.88" y2="171.69" stroke="#1a1a1a" stroke-width="1.2" />
<line x1="600.24" y1="167.50" x2="600.24" y2="172.50" stroke="#333" stroke-width="0.75" />
<rect x="597.94" y="168.00" width="4.6" height="4.00" fill="#fff" fill-opacity="0.9" stroke="#222" stroke-width="0.85"/>
<circle cx="601.33" cy="166.60" r="1.1" fill="#e0262b" opacity="0.95"/>
<circle cx="599.11" cy="173.00" r="1.1" fill="#e0262b" opacity="0.95"/>
<line x1="597.94" y1="170.98" x2="602.54" y2="170.98" stroke="#1a1a1a" stroke-width="1.2" />
<line x1="605.44" y1="166.50" x2="605.44" y2="171.50" stroke="#333" stroke-width="0.75" />
<rect x="603.14" y="167.00" width="4.6" height="4.00" fill="#fff" fill-opacity="0.9" stroke="#222" stroke-width="0.85"/>
<circle cx="605.83" cy="165.60" r="1.1" fill="#3579bd" opacity="0.95"/>
<circle cx="604.85" cy="172.00" r="1.1" fill="#3579bd" opacity="0.95"/>
<line x1="603.14" y1="169.78" x2="607.74" y2="169.78" stroke="#1a1a1a" stroke-width="1.2" />
<line x1="613.10" y1="173.20" x2="613.10" y2="176.50" stroke="#333" stroke-width="0.75" />
<rect x="610.80" y="173.70" width="4.6" height="2.30" fill="#fff" fill-opacity="0.9" stroke="#222" stroke-width="0.85"/>
<circle cx="613.82" cy="172.30" r="1.1" fill="#e0262b" opacity="0.95"/>
<circle cx="614.68" cy="177.00" r="1.1" fill="#e0262b" opacity="0.95"/>
<line x1="610.80" y1="174.93" x2="615.40" y2="174.93" stroke="#1a1a1a" stroke-width="1.2" />
<line x1="618.30" y1="169.90" x2="618.30" y2="172.50" stroke="#333" stroke-width="0.75" />
<rect x="616.00" y="170.40" width="4.6" height="1.60" fill="#fff" fill-opacity="0.9" stroke="#222" stroke-width="0.85"/>
<circle cx="619.15" cy="169.00" r="1.1" fill="#3579bd" opacity="0.95"/>
<circle cx="617.05" cy="173.00" r="1.1" fill="#3579bd" opacity="0.95"/>
<line x1="616.00" y1="171.07" x2="620.60" y2="171.07" stroke="#1a1a1a" stroke-width="1.2" />
<line x1="625.96" y1="169.10" x2="625.96" y2="172.50" stroke="#333" stroke-width="0.75" />
<rect x="623.66" y="169.60" width="4.6" height="2.40" fill="#fff" fill-opacity="0.9" stroke="#222" stroke-width="0.85"/>
<circle cx="626.12" cy="168.20" r="1.1" fill="#e0262b" opacity="0.95"/>
<circle cx="626.30" cy="173.00" r="1.1" fill="#e0262b" opacity="0.95"/>
<line x1="623.66" y1="170.39" x2="628.26" y2="170.39" stroke="#1a1a1a" stroke-width="1.2" />
<line x1="631.16" y1="165.80" x2="631.16" y2="170.10" stroke="#333" stroke-width="0.75" />
<rect x="628.86" y="166.30" width="4.6" height="3.30" fill="#fff" fill-opacity="0.9" stroke="#222" stroke-width="0.85"/>
<circle cx="630.39" cy="164.90" r="1.1" fill="#3579bd" opacity="0.95"/>
<circle cx="629.69" cy="170.60" r="1.1" fill="#3579bd" opacity="0.95"/>
<line x1="628.86" y1="167.68" x2="633.46" y2="167.68" stroke="#1a1a1a" stroke-width="1.2" />
<line x1="638.82" y1="165.80" x2="638.82" y2="170.10" stroke="#333" stroke-width="0.75" />
<rect x="636.52" y="166.30" width="4.6" height="3.30" fill="#fff" fill-opacity="0.9" stroke="#222" stroke-width="0.85"/>
<circle cx="637.78" cy="164.90" r="1.1" fill="#e0262b" opacity="0.95"/>
<circle cx="638.35" cy="170.60" r="1.1" fill="#e0262b" opacity="0.95"/>
<line x1="636.52" y1="167.22" x2="641.12" y2="167.22" stroke="#1a1a1a" stroke-width="1.2" />
<line x1="644.02" y1="168.80" x2="644.02" y2="173.40" stroke="#333" stroke-width="0.75" />
<rect x="641.72" y="169.30" width="4.6" height="3.60" fill="#fff" fill-opacity="0.9" stroke="#222" stroke-width="0.85"/>
<circle cx="644.84" cy="167.90" r="1.1" fill="#3579bd" opacity="0.95"/>
<circle cx="645.28" cy="173.90" r="1.1" fill="#3579bd" opacity="0.95"/>
<line x1="641.72" y1="171.25" x2="646.32" y2="171.25" stroke="#1a1a1a" stroke-width="1.2" />
<line x1="651.68" y1="170.50" x2="651.68" y2="174.20" stroke="#333" stroke-width="0.75" />
<rect x="649.38" y="171.00" width="4.6" height="2.70" fill="#fff" fill-opacity="0.9" stroke="#222" stroke-width="0.85"/>
<circle cx="651.61" cy="169.60" r="1.1" fill="#e0262b" opacity="0.95"/>
<circle cx="650.78" cy="174.70" r="1.1" fill="#e0262b" opacity="0.95"/>
<line x1="649.38" y1="171.87" x2="653.98" y2="171.87" stroke="#1a1a1a" stroke-width="1.2" />
<line x1="656.88" y1="169.10" x2="656.88" y2="173.40" stroke="#333" stroke-width="0.75" />
<rect x="654.58" y="169.60" width="4.6" height="3.30" fill="#fff" fill-opacity="0.9" stroke="#222" stroke-width="0.85"/>
<circle cx="657.11" cy="168.20" r="1.1" fill="#3579bd" opacity="0.95"/>
<circle cx="655.63" cy="173.90" r="1.1" fill="#3579bd" opacity="0.95"/>
<line x1="654.58" y1="171.96" x2="659.18" y2="171.96" stroke="#1a1a1a" stroke-width="1.2" />
<line x1="664.54" y1="169.10" x2="664.54" y2="174.20" stroke="#333" stroke-width="0.75" />
<rect x="662.24" y="169.60" width="4.6" height="4.10" fill="#fff" fill-opacity="0.9" stroke="#222" stroke-width="0.85"/>
<circle cx="663.44" cy="168.20" r="1.1" fill="#e0262b" opacity="0.95"/>
<circle cx="664.81" cy="174.70" r="1.1" fill="#e0262b" opacity="0.95"/>
<line x1="662.24" y1="170.85" x2="666.84" y2="170.85" stroke="#1a1a1a" stroke-width="1.2" />
<line x1="669.74" y1="158.50" x2="669.74" y2="164.50" stroke="#333" stroke-width="0.75" />
<rect x="667.44" y="159.00" width="4.6" height="5.00" fill="#fff" fill-opacity="0.9" stroke="#222" stroke-width="0.85"/>
<circle cx="669.12" cy="157.60" r="1.1" fill="#3579bd" opacity="0.95"/>
<circle cx="671.19" cy="165.00" r="1.1" fill="#3579bd" opacity="0.95"/>
<line x1="667.44" y1="160.28" x2="672.04" y2="160.28" stroke="#1a1a1a" stroke-width="1.2" />
<rect x="543.50" y="129.50" width="131.00" height="72.00" fill="none" stroke="#262626" stroke-width="1.0" />
<text x="546.90" y="138.83" font-size="7.9" text-anchor="start" fill="#222222" >n = 3</text>
<line x1="405.30" y1="197.60" x2="408.30" y2="197.60" stroke="#262626" stroke-width="0.8" />
<text x="402.30" y="201.18" font-size="10" text-anchor="end" fill="#222222" >0</text>
<line x1="405.30" y1="181.20" x2="408.30" y2="181.20" stroke="#262626" stroke-width="0.8" />
<text x="402.30" y="184.78" font-size="10" text-anchor="end" fill="#222222" >5</text>
<line x1="405.30" y1="164.80" x2="408.30" y2="164.80" stroke="#262626" stroke-width="0.8" />
<text x="402.30" y="168.38" font-size="10" text-anchor="end" fill="#222222" >10</text>
<line x1="405.30" y1="148.40" x2="408.30" y2="148.40" stroke="#262626" stroke-width="0.8" />
<text x="402.30" y="151.98" font-size="10" text-anchor="end" fill="#222222" >15</text>
<line x1="405.30" y1="132.00" x2="408.30" y2="132.00" stroke="#262626" stroke-width="0.8" />
<text x="402.30" y="135.58" font-size="10" text-anchor="end" fill="#222222" >20</text>
<line x1="408.50" y1="230.20" x2="538.50" y2="230.20" stroke="#b8b8b8" stroke-width="0.7" stroke-dasharray="2.4,2.2"/>
<line x1="413.00" y1="233.27" x2="413.00" y2="258.32" stroke="#333" stroke-width="0.75" />
<rect x="410.70" y="241.30" width="4.6" height="9.00" fill="#fff" fill-opacity="0.5" stroke="#222" stroke-width="0.85"/>
<circle cx="413.73" cy="240.80" r="1.1" fill="#e0262b" opacity="0.95"/>
<circle cx="414.08" cy="240.13" r="1.1" fill="#e0262b" opacity="0.95"/>
<circle cx="414.48" cy="246.69" r="1.1" fill="#e0262b" opacity="0.95"/>
<circle cx="413.90" cy="247.98" r="1.1" fill="#e0262b" opacity="0.95"/>
<circle cx="414.02" cy="245.96" r="1.1" fill="#e0262b" opacity="0.95"/>
<circle cx="414.40" cy="241.87" r="1.1" fill="#e0262b" opacity="0.95"/>
<circle cx="412.63" cy="242.95" r="1.1" fill="#e0262b" opacity="0.95"/>
<circle cx="412.50" cy="252.21" r="1.1" fill="#e0262b" opacity="0.95"/>
<circle cx="411.49" cy="251.83" r="1.1" fill="#e0262b" opacity="0.95"/>
<circle cx="412.85" cy="246.51" r="1.1" fill="#e0262b" opacity="0.95"/>
<circle cx="411.58" cy="238.72" r="1.1" fill="#e0262b" opacity="0.95"/>
<circle cx="412.09" cy="249.19" r="1.1" fill="#e0262b" opacity="0.95"/>
<circle cx="412.72" cy="247.35" r="1.1" fill="#e0262b" opacity="0.95"/>
<circle cx="412.72" cy="247.16" r="1.1" fill="#e0262b" opacity="0.95"/>
<circle cx="413.85" cy="255.14" r="1.1" fill="#e0262b" opacity="0.95"/>
<circle cx="412.88" cy="250.23" r="1.1" fill="#e0262b" opacity="0.95"/>
<line x1="410.70" y1="244.89" x2="415.30" y2="244.89" stroke="#1a1a1a" stroke-width="1.2" />
<line x1="418.20" y1="234.69" x2="418.20" y2="256.81" stroke="#333" stroke-width="0.75" />
<rect x="415.90" y="240.50" width="4.6" height="8.20" fill="#fff" fill-opacity="0.5" stroke="#222" stroke-width="0.85"/>
<circle cx="416.79" cy="245.44" r="1.1" fill="#3579bd" opacity="0.95"/>
<circle cx="417.52" cy="245.15" r="1.1" fill="#3579bd" opacity="0.95"/>
<circle cx="418.43" cy="242.98" r="1.1" fill="#3579bd" opacity="0.95"/>
<circle cx="417.31" cy="245.18" r="1.1" fill="#3579bd" opacity="0.95"/>
<circle cx="417.95" cy="245.07" r="1.1" fill="#3579bd" opacity="0.95"/>
<circle cx="417.72" cy="239.28" r="1.1" fill="#3579bd" opacity="0.95"/>
<circle cx="418.73" cy="247.77" r="1.1" fill="#3579bd" opacity="0.95"/>
<circle cx="418.26" cy="243.29" r="1.1" fill="#3579bd" opacity="0.95"/>
<circle cx="419.26" cy="240.23" r="1.1" fill="#3579bd" opacity="0.95"/>
<circle cx="418.59" cy="247.48" r="1.1" fill="#3579bd" opacity="0.95"/>
<circle cx="418.91" cy="242.67" r="1.1" fill="#3579bd" opacity="0.95"/>
<circle cx="416.65" cy="253.64" r="1.1" fill="#3579bd" opacity="0.95"/>
<circle cx="418.76" cy="247.41" r="1.1" fill="#3579bd" opacity="0.95"/>
<circle cx="419.51" cy="245.43" r="1.1" fill="#3579bd" opacity="0.95"/>
<circle cx="417.03" cy="241.32" r="1.1" fill="#3579bd" opacity="0.95"/>
<circle cx="419.11" cy="243.03" r="1.1" fill="#3579bd" opacity="0.95"/>
<line x1="415.90" y1="245.45" x2="420.50" y2="245.45" stroke="#1a1a1a" stroke-width="1.2" />
<line x1="425.93" y1="233.55" x2="425.93" y2="253.11" stroke="#333" stroke-width="0.75" />
<rect x="423.63" y="238.90" width="4.6" height="7.30" fill="#fff" fill-opacity="0.5" stroke="#222" stroke-width="0.85"/>
<circle cx="426.85" cy="238.39" r="1.1" fill="#e0262b" opacity="0.95"/>
<circle cx="427.53" cy="236.33" r="1.1" fill="#e0262b" opacity="0.95"/>
<circle cx="425.11" cy="240.34" r="1.1" fill="#e0262b" opacity="0.95"/>
<circle cx="424.44" cy="237.61" r="1.1" fill="#e0262b" opacity="0.95"/>
<circle cx="427.47" cy="239.08" r="1.1" fill="#e0262b" opacity="0.95"/>
<circle cx="424.34" cy="244.78" r="1.1" fill="#e0262b" opacity="0.95"/>
<circle cx="427.41" cy="243.31" r="1.1" fill="#e0262b" opacity="0.95"/>
<circle cx="427.19" cy="242.78" r="1.1" fill="#e0262b" opacity="0.95"/>
<circle cx="427.21" cy="250.17" r="1.1" fill="#e0262b" opacity="0.95"/>
<circle cx="425.62" cy="240.89" r="1.1" fill="#e0262b" opacity="0.95"/>
<circle cx="424.97" cy="241.25" r="1.1" fill="#e0262b" opacity="0.95"/>
<circle cx="426.24" cy="248.47" r="1.1" fill="#e0262b" opacity="0.95"/>
<circle cx="425.71" cy="238.06" r="1.1" fill="#e0262b" opacity="0.95"/>
<circle cx="426.60" cy="235.79" r="1.1" fill="#e0262b" opacity="0.95"/>
<circle cx="424.94" cy="248.67" r="1.1" fill="#e0262b" opacity="0.95"/>
<circle cx="425.84" cy="244.43" r="1.1" fill="#e0262b" opacity="0.95"/>
<line x1="423.63" y1="243.59" x2="428.23" y2="243.59" stroke="#1a1a1a" stroke-width="1.2" />
<line x1="431.13" y1="228.22" x2="431.13" y2="257.39" stroke="#333" stroke-width="0.75" />
<rect x="428.83" y="237.30" width="4.6" height="9.70" fill="#fff" fill-opacity="0.5" stroke="#222" stroke-width="0.85"/>
<circle cx="432.16" cy="242.18" r="1.1" fill="#3579bd" opacity="0.95"/>
<circle cx="432.52" cy="240.93" r="1.1" fill="#3579bd" opacity="0.95"/>
<circle cx="429.89" cy="244.36" r="1.1" fill="#3579bd" opacity="0.95"/>
<circle cx="429.71" cy="248.39" r="1.1" fill="#3579bd" opacity="0.95"/>
<circle cx="431.93" cy="248.11" r="1.1" fill="#3579bd" opacity="0.95"/>
<circle cx="430.81" cy="256.31" r="1.1" fill="#3579bd" opacity="0.95"/>
<circle cx="429.70" cy="240.95" r="1.1" fill="#3579bd" opacity="0.95"/>
<circle cx="431.23" cy="246.63" r="1.1" fill="#3579bd" opacity="0.95"/>
<circle cx="430.56" cy="240.54" r="1.1" fill="#3579bd" opacity="0.95"/>
<circle cx="430.21" cy="247.60" r="1.1" fill="#3579bd" opacity="0.95"/>
<circle cx="431.66" cy="243.82" r="1.1" fill="#3579bd" opacity="0.95"/>
<circle cx="431.88" cy="239.58" r="1.1" fill="#3579bd" opacity="0.95"/>
<circle cx="430.36" cy="235.34" r="1.1" fill="#3579bd" opacity="0.95"/>
<circle cx="431.66" cy="238.58" r="1.1" fill="#3579bd" opacity="0.95"/>
<circle cx="430.25" cy="244.46" r="1.1" fill="#3579bd" opacity="0.95"/>
<circle cx="432.36" cy="251.62" r="1.1" fill="#3579bd" opacity="0.95"/>
<line x1="428.83" y1="244.15" x2="433.43" y2="244.15" stroke="#1a1a1a" stroke-width="1.2" />
<line x1="438.86" y1="230.90" x2="438.86" y2="254.80" stroke="#333" stroke-width="0.75" />
<rect x="436.56" y="238.90" width="4.6" height="9.00" fill="#fff" fill-opacity="0.5" stroke="#222" stroke-width="0.85"/>
<circle cx="437.33" cy="233.14" r="1.1" fill="#e0262b" opacity="0.95"/>
<circle cx="439.26" cy="245.67" r="1.1" fill="#e0262b" opacity="0.95"/>
<circle cx="438.74" cy="245.49" r="1.1" fill="#e0262b" opacity="0.95"/>
<circle cx="438.80" cy="242.13" r="1.1" fill="#e0262b" opacity="0.95"/>
<circle cx="439.92" cy="241.17" r="1.1" fill="#e0262b" opacity="0.95"/>
<circle cx="439.25" cy="246.39" r="1.1" fill="#e0262b" opacity="0.95"/>
<circle cx="438.03" cy="246.71" r="1.1" fill="#e0262b" opacity="0.95"/>
<circle cx="440.33" cy="245.46" r="1.1" fill="#e0262b" opacity="0.95"/>
<circle cx="440.22" cy="237.72" r="1.1" fill="#e0262b" opacity="0.95"/>
<circle cx="439.48" cy="241.70" r="1.1" fill="#e0262b" opacity="0.95"/>
<circle cx="437.65" cy="234.62" r="1.1" fill="#e0262b" opacity="0.95"/>
<circle cx="439.29" cy="234.94" r="1.1" fill="#e0262b" opacity="0.95"/>
<circle cx="437.27" cy="239.97" r="1.1" fill="#e0262b" opacity="0.95"/>
<circle cx="438.18" cy="237.28" r="1.1" fill="#e0262b" opacity="0.95"/>
<circle cx="438.65" cy="240.72" r="1.1" fill="#e0262b" opacity="0.95"/>
<circle cx="438.74" cy="256.32" r="1.1" fill="#e0262b" opacity="0.95"/>
<line x1="436.56" y1="242.94" x2="441.16" y2="242.94" stroke="#1a1a1a" stroke-width="1.2" />
<line x1="444.06" y1="235.07" x2="444.06" y2="256.69" stroke="#333" stroke-width="0.75" />
<rect x="441.76" y="242.00" width="4.6" height="7.50" fill="#fff" fill-opacity="0.5" stroke="#222" stroke-width="0.85"/>
<circle cx="444.23" cy="239.04" r="1.1" fill="#3579bd" opacity="0.95"/>
<circle cx="445.21" cy="239.59" r="1.1" fill="#3579bd" opacity="0.95"/>
<circle cx="443.32" cy="240.58" r="1.1" fill="#3579bd" opacity="0.95"/>
<circle cx="443.13" cy="245.27" r="1.1" fill="#3579bd" opacity="0.95"/>
<circle cx="444.97" cy="247.40" r="1.1" fill="#3579bd" opacity="0.95"/>
<circle cx="444.27" cy="247.41" r="1.1" fill="#3579bd" opacity="0.95"/>
<circle cx="444.28" cy="250.61" r="1.1" fill="#3579bd" opacity="0.95"/>
<circle cx="444.36" cy="244.37" r="1.1" fill="#3579bd" opacity="0.95"/>
<circle cx="445.05" cy="249.08" r="1.1" fill="#3579bd" opacity="0.95"/>
<circle cx="444.96" cy="246.82" r="1.1" fill="#3579bd" opacity="0.95"/>
<circle cx="443.31" cy="248.56" r="1.1" fill="#3579bd" opacity="0.95"/>
<circle cx="443.62" cy="237.13" r="1.1" fill="#3579bd" opacity="0.95"/>
<circle cx="445.65" cy="251.06" r="1.1" fill="#3579bd" opacity="0.95"/>
<circle cx="445.14" cy="238.52" r="1.1" fill="#3579bd" opacity="0.95"/>
<circle cx="444.19" cy="240.43" r="1.1" fill="#3579bd" opacity="0.95"/>
<circle cx="443.48" cy="249.03" r="1.1" fill="#3579bd" opacity="0.95"/>
<line x1="441.76" y1="246.83" x2="446.36" y2="246.83" stroke="#1a1a1a" stroke-width="1.2" />
<line x1="451.79" y1="228.03" x2="451.79" y2="258.79" stroke="#333" stroke-width="0.75" />
<rect x="449.49" y="237.30" width="4.6" height="11.40" fill="#fff" fill-opacity="0.5" stroke="#222" stroke-width="0.85"/>
<circle cx="452.90" cy="251.03" r="1.1" fill="#e0262b" opacity="0.95"/>
<circle cx="451.57" cy="242.14" r="1.1" fill="#e0262b" opacity="0.95"/>
<circle cx="450.81" cy="233.18" r="1.1" fill="#e0262b" opacity="0.95"/>
<circle cx="451.91" cy="235.24" r="1.1" fill="#e0262b" opacity="0.95"/>
<circle cx="450.96" cy="236.84" r="1.1" fill="#e0262b" opacity="0.95"/>
<circle cx="450.70" cy="254.61" r="1.1" fill="#e0262b" opacity="0.95"/>
<circle cx="451.97" cy="247.69" r="1.1" fill="#e0262b" opacity="0.95"/>
<circle cx="452.02" cy="233.82" r="1.1" fill="#e0262b" opacity="0.95"/>
<circle cx="453.34" cy="255.66" r="1.1" fill="#e0262b" opacity="0.95"/>
<circle cx="452.76" cy="252.13" r="1.1" fill="#e0262b" opacity="0.95"/>
<circle cx="450.25" cy="235.74" r="1.1" fill="#e0262b" opacity="0.95"/>
<circle cx="450.74" cy="224.80" r="1.1" fill="#e0262b" opacity="0.95"/>
<circle cx="451.98" cy="249.58" r="1.1" fill="#e0262b" opacity="0.95"/>
<circle cx="452.45" cy="238.88" r="1.1" fill="#e0262b" opacity="0.95"/>
<circle cx="453.35" cy="242.07" r="1.1" fill="#e0262b" opacity="0.95"/>
<circle cx="451.95" cy="239.41" r="1.1" fill="#e0262b" opacity="0.95"/>
<line x1="449.49" y1="245.28" x2="454.09" y2="245.28" stroke="#1a1a1a" stroke-width="1.2" />
<line x1="456.99" y1="236.15" x2="456.99" y2="257.55" stroke="#333" stroke-width="0.75" />
<rect x="454.69" y="242.00" width="4.6" height="8.30" fill="#fff" fill-opacity="0.5" stroke="#222" stroke-width="0.85"/>
<circle cx="456.37" cy="250.51" r="1.1" fill="#3579bd" opacity="0.95"/>
<circle cx="456.15" cy="242.21" r="1.1" fill="#3579bd" opacity="0.95"/>
<circle cx="458.30" cy="246.90" r="1.1" fill="#3579bd" opacity="0.95"/>
<circle cx="457.70" cy="250.92" r="1.1" fill="#3579bd" opacity="0.95"/>
<circle cx="458.13" cy="251.30" r="1.1" fill="#3579bd" opacity="0.95"/>
<circle cx="457.90" cy="247.28" r="1.1" fill="#3579bd" opacity="0.95"/>
<circle cx="457.03" cy="253.29" r="1.1" fill="#3579bd" opacity="0.95"/>
<circle cx="455.98" cy="252.68" r="1.1" fill="#3579bd" opacity="0.95"/>
<circle cx="457.61" cy="237.81" r="1.1" fill="#3579bd" opacity="0.95"/>
<circle cx="457.14" cy="248.07" r="1.1" fill="#3579bd" opacity="0.95"/>
<circle cx="457.72" cy="247.18" r="1.1" fill="#3579bd" opacity="0.95"/>
<circle cx="457.55" cy="244.81" r="1.1" fill="#3579bd" opacity="0.95"/>
<circle cx="457.92" cy="243.13" r="1.1" fill="#3579bd" opacity="0.95"/>
<circle cx="455.57" cy="246.52" r="1.1" fill="#3579bd" opacity="0.95"/>
<circle cx="455.92" cy="248.24" r="1.1" fill="#3579bd" opacity="0.95"/>
<circle cx="458.22" cy="247.69" r="1.1" fill="#3579bd" opacity="0.95"/>
<line x1="454.69" y1="246.02" x2="459.29" y2="246.02" stroke="#1a1a1a" stroke-width="1.2" />
<line x1="464.72" y1="236.19" x2="464.72" y2="254.47" stroke="#333" stroke-width="0.75" />
<rect x="462.42" y="243.10" width="4.6" height="6.60" fill="#fff" fill-opacity="0.5" stroke="#222" stroke-width="0.85"/>
<circle cx="465.52" cy="248.00" r="1.1" fill="#e0262b" opacity="0.95"/>
<circle cx="463.87" cy="247.12" r="1.1" fill="#e0262b" opacity="0.95"/>
<circle cx="463.55" cy="243.79" r="1.1" fill="#e0262b" opacity="0.95"/>
<circle cx="464.63" cy="245.25" r="1.1" fill="#e0262b" opacity="0.95"/>
<circle cx="466.01" cy="248.37" r="1.1" fill="#e0262b" opacity="0.95"/>
<circle cx="463.95" cy="246.64" r="1.1" fill="#e0262b" opacity="0.95"/>
<circle cx="465.56" cy="251.16" r="1.1" fill="#e0262b" opacity="0.95"/>
<circle cx="465.37" cy="247.03" r="1.1" fill="#e0262b" opacity="0.95"/>
<circle cx="464.29" cy="243.31" r="1.1" fill="#e0262b" opacity="0.95"/>
<circle cx="465.36" cy="248.98" r="1.1" fill="#e0262b" opacity="0.95"/>
<circle cx="466.07" cy="244.05" r="1.1" fill="#e0262b" opacity="0.95"/>
<circle cx="463.80" cy="247.41" r="1.1" fill="#e0262b" opacity="0.95"/>
<circle cx="463.95" cy="239.38" r="1.1" fill="#e0262b" opacity="0.95"/>
<circle cx="464.37" cy="245.16" r="1.1" fill="#e0262b" opacity="0.95"/>
<circle cx="463.75" cy="248.75" r="1.1" fill="#e0262b" opacity="0.95"/>
<circle cx="464.40" cy="243.96" r="1.1" fill="#e0262b" opacity="0.95"/>
<line x1="462.42" y1="247.01" x2="467.02" y2="247.01" stroke="#1a1a1a" stroke-width="1.2" />
<line x1="469.92" y1="226.95" x2="469.92" y2="258.54" stroke="#333" stroke-width="0.75" />
<rect x="467.62" y="237.90" width="4.6" height="10.50" fill="#fff" fill-opacity="0.5" stroke="#222" stroke-width="0.85"/>
<circle cx="470.42" cy="247.61" r="1.1" fill="#3579bd" opacity="0.95"/>
<circle cx="468.76" cy="246.83" r="1.1" fill="#3579bd" opacity="0.95"/>
<circle cx="470.40" cy="250.59" r="1.1" fill="#3579bd" opacity="0.95"/>
<circle cx="470.32" cy="249.83" r="1.1" fill="#3579bd" opacity="0.95"/>
<circle cx="471.11" cy="243.59" r="1.1" fill="#3579bd" opacity="0.95"/>
<circle cx="469.27" cy="239.86" r="1.1" fill="#3579bd" opacity="0.95"/>
<circle cx="468.76" cy="249.57" r="1.1" fill="#3579bd" opacity="0.95"/>
<circle cx="470.06" cy="243.74" r="1.1" fill="#3579bd" opacity="0.95"/>
<circle cx="471.07" cy="249.49" r="1.1" fill="#3579bd" opacity="0.95"/>
<circle cx="468.70" cy="252.00" r="1.1" fill="#3579bd" opacity="0.95"/>
<circle cx="468.98" cy="244.78" r="1.1" fill="#3579bd" opacity="0.95"/>
<circle cx="468.66" cy="237.86" r="1.1" fill="#3579bd" opacity="0.95"/>
<circle cx="471.48" cy="241.96" r="1.1" fill="#3579bd" opacity="0.95"/>
<circle cx="470.75" cy="248.55" r="1.1" fill="#3579bd" opacity="0.95"/>
<circle cx="468.62" cy="242.12" r="1.1" fill="#3579bd" opacity="0.95"/>
<circle cx="471.03" cy="251.06" r="1.1" fill="#3579bd" opacity="0.95"/>
<line x1="467.62" y1="244.37" x2="472.22" y2="244.37" stroke="#1a1a1a" stroke-width="1.2" />
<line x1="477.65" y1="240.64" x2="477.65" y2="253.54" stroke="#333" stroke-width="0.75" />
<rect x="475.35" y="244.40" width="4.6" height="5.30" fill="#fff" fill-opacity="0.5" stroke="#222" stroke-width="0.85"/>
<circle cx="478.47" cy="241.59" r="1.1" fill="#e0262b" opacity="0.95"/>
<circle cx="476.93" cy="245.64" r="1.1" fill="#e0262b" opacity="0.95"/>
<circle cx="478.91" cy="248.07" r="1.1" fill="#e0262b" opacity="0.95"/>
<circle cx="478.84" cy="248.41" r="1.1" fill="#e0262b" opacity="0.95"/>
<circle cx="476.19" cy="247.59" r="1.1" fill="#e0262b" opacity="0.95"/>
<circle cx="479.11" cy="249.69" r="1.1" fill="#e0262b" opacity="0.95"/>
<circle cx="478.51" cy="249.46" r="1.1" fill="#e0262b" opacity="0.95"/>
<circle cx="478.78" cy="242.84" r="1.1" fill="#e0262b" opacity="0.95"/>
<circle cx="477.58" cy="246.01" r="1.1" fill="#e0262b" opacity="0.95"/>
<circle cx="478.59" cy="245.60" r="1.1" fill="#e0262b" opacity="0.95"/>
<circle cx="478.97" cy="250.49" r="1.1" fill="#e0262b" opacity="0.95"/>
<circle cx="478.92" cy="245.66" r="1.1" fill="#e0262b" opacity="0.95"/>
<circle cx="476.94" cy="250.42" r="1.1" fill="#e0262b" opacity="0.95"/>
<circle cx="476.60" cy="247.52" r="1.1" fill="#e0262b" opacity="0.95"/>
<circle cx="478.12" cy="254.68" r="1.1" fill="#e0262b" opacity="0.95"/>
<circle cx="477.47" cy="247.07" r="1.1" fill="#e0262b" opacity="0.95"/>
<line x1="475.35" y1="246.88" x2="479.95" y2="246.88" stroke="#1a1a1a" stroke-width="1.2" />
<line x1="482.85" y1="235.99" x2="482.85" y2="253.44" stroke="#333" stroke-width="0.75" />
<rect x="480.55" y="241.80" width="4.6" height="6.60" fill="#fff" fill-opacity="0.5" stroke="#222" stroke-width="0.85"/>
<circle cx="483.16" cy="245.10" r="1.1" fill="#3579bd" opacity="0.95"/>
<circle cx="482.07" cy="237.74" r="1.1" fill="#3579bd" opacity="0.95"/>
<circle cx="482.59" cy="243.16" r="1.1" fill="#3579bd" opacity="0.95"/>
<circle cx="484.06" cy="246.59" r="1.1" fill="#3579bd" opacity="0.95"/>
<circle cx="482.09" cy="246.33" r="1.1" fill="#3579bd" opacity="0.95"/>
<circle cx="482.63" cy="245.73" r="1.1" fill="#3579bd" opacity="0.95"/>
<circle cx="481.56" cy="248.59" r="1.1" fill="#3579bd" opacity="0.95"/>
<circle cx="482.50" cy="245.60" r="1.1" fill="#3579bd" opacity="0.95"/>
<circle cx="481.52" cy="243.70" r="1.1" fill="#3579bd" opacity="0.95"/>
<circle cx="483.72" cy="251.57" r="1.1" fill="#3579bd" opacity="0.95"/>
<circle cx="484.44" cy="237.65" r="1.1" fill="#3579bd" opacity="0.95"/>
<circle cx="481.49" cy="240.65" r="1.1" fill="#3579bd" opacity="0.95"/>
<circle cx="482.40" cy="242.30" r="1.1" fill="#3579bd" opacity="0.95"/>
<circle cx="484.30" cy="242.33" r="1.1" fill="#3579bd" opacity="0.95"/>
<circle cx="481.64" cy="242.15" r="1.1" fill="#3579bd" opacity="0.95"/>
<circle cx="483.84" cy="244.31" r="1.1" fill="#3579bd" opacity="0.95"/>
<line x1="480.55" y1="246.28" x2="485.15" y2="246.28" stroke="#1a1a1a" stroke-width="1.2" />
<line x1="490.58" y1="232.15" x2="490.58" y2="250.99" stroke="#333" stroke-width="0.75" />
<rect x="488.28" y="237.90" width="4.6" height="6.50" fill="#fff" fill-opacity="0.5" stroke="#222" stroke-width="0.85"/>
<circle cx="490.45" cy="240.69" r="1.1" fill="#e0262b" opacity="0.95"/>
<circle cx="490.49" cy="241.83" r="1.1" fill="#e0262b" opacity="0.95"/>
<circle cx="489.03" cy="234.78" r="1.1" fill="#e0262b" opacity="0.95"/>
<circle cx="490.02" cy="240.23" r="1.1" fill="#e0262b" opacity="0.95"/>
<circle cx="490.45" cy="241.05" r="1.1" fill="#e0262b" opacity="0.95"/>
<circle cx="489.13" cy="245.04" r="1.1" fill="#e0262b" opacity="0.95"/>
<circle cx="489.02" cy="238.65" r="1.1" fill="#e0262b" opacity="0.95"/>
<circle cx="489.00" cy="241.71" r="1.1" fill="#e0262b" opacity="0.95"/>
<circle cx="490.96" cy="248.28" r="1.1" fill="#e0262b" opacity="0.95"/>
<circle cx="489.00" cy="239.15" r="1.1" fill="#e0262b" opacity="0.95"/>
<circle cx="492.03" cy="244.46" r="1.1" fill="#e0262b" opacity="0.95"/>
<circle cx="490.98" cy="239.13" r="1.1" fill="#e0262b" opacity="0.95"/>
<circle cx="491.28" cy="240.81" r="1.1" fill="#e0262b" opacity="0.95"/>
<circle cx="489.11" cy="242.98" r="1.1" fill="#e0262b" opacity="0.95"/>
<circle cx="490.61" cy="244.62" r="1.1" fill="#e0262b" opacity="0.95"/>
<circle cx="489.64" cy="239.29" r="1.1" fill="#e0262b" opacity="0.95"/>
<line x1="488.28" y1="239.88" x2="492.88" y2="239.88" stroke="#1a1a1a" stroke-width="1.2" />
<line x1="495.78" y1="226.34" x2="495.78" y2="250.19" stroke="#333" stroke-width="0.75" />
<rect x="493.48" y="234.00" width="4.6" height="9.10" fill="#fff" fill-opacity="0.5" stroke="#222" stroke-width="0.85"/>
<circle cx="495.66" cy="240.91" r="1.1" fill="#3579bd" opacity="0.95"/>
<circle cx="495.27" cy="235.83" r="1.1" fill="#3579bd" opacity="0.95"/>
<circle cx="496.84" cy="237.80" r="1.1" fill="#3579bd" opacity="0.95"/>
<circle cx="495.02" cy="236.65" r="1.1" fill="#3579bd" opacity="0.95"/>
<circle cx="495.48" cy="229.94" r="1.1" fill="#3579bd" opacity="0.95"/>
<circle cx="496.82" cy="235.86" r="1.1" fill="#3579bd" opacity="0.95"/>
<circle cx="495.43" cy="229.89" r="1.1" fill="#3579bd" opacity="0.95"/>
<circle cx="496.28" cy="246.08" r="1.1" fill="#3579bd" opacity="0.95"/>
<circle cx="494.67" cy="244.22" r="1.1" fill="#3579bd" opacity="0.95"/>
<circle cx="494.85" cy="238.85" r="1.1" fill="#3579bd" opacity="0.95"/>
<circle cx="497.32" cy="240.12" r="1.1" fill="#3579bd" opacity="0.95"/>
<circle cx="494.80" cy="238.93" r="1.1" fill="#3579bd" opacity="0.95"/>
<circle cx="494.71" cy="239.68" r="1.1" fill="#3579bd" opacity="0.95"/>
<circle cx="494.23" cy="239.67" r="1.1" fill="#3579bd" opacity="0.95"/>
<circle cx="494.43" cy="237.33" r="1.1" fill="#3579bd" opacity="0.95"/>
<circle cx="495.46" cy="237.72" r="1.1" fill="#3579bd" opacity="0.95"/>
<line x1="493.48" y1="240.46" x2="498.08" y2="240.46" stroke="#1a1a1a" stroke-width="1.2" />
<line x1="503.51" y1="232.25" x2="503.51" y2="253.03" stroke="#333" stroke-width="0.75" />
<rect x="501.21" y="239.20" width="4.6" height="6.60" fill="#fff" fill-opacity="0.5" stroke="#222" stroke-width="0.85"/>
<circle cx="502.63" cy="248.19" r="1.1" fill="#e0262b" opacity="0.95"/>
<circle cx="504.48" cy="246.95" r="1.1" fill="#e0262b" opacity="0.95"/>
<circle cx="504.92" cy="243.19" r="1.1" fill="#e0262b" opacity="0.95"/>
<circle cx="502.95" cy="236.33" r="1.1" fill="#e0262b" opacity="0.95"/>
<circle cx="503.84" cy="237.36" r="1.1" fill="#e0262b" opacity="0.95"/>
<circle cx="503.37" cy="243.86" r="1.1" fill="#e0262b" opacity="0.95"/>
<circle cx="502.97" cy="245.13" r="1.1" fill="#e0262b" opacity="0.95"/>
<circle cx="504.76" cy="231.31" r="1.1" fill="#e0262b" opacity="0.95"/>
<circle cx="502.92" cy="240.76" r="1.1" fill="#e0262b" opacity="0.95"/>
<circle cx="504.45" cy="247.06" r="1.1" fill="#e0262b" opacity="0.95"/>
<circle cx="504.32" cy="246.30" r="1.1" fill="#e0262b" opacity="0.95"/>
<circle cx="502.27" cy="240.68" r="1.1" fill="#e0262b" opacity="0.95"/>
<circle cx="504.56" cy="245.07" r="1.1" fill="#e0262b" opacity="0.95"/>
<circle cx="503.11" cy="242.73" r="1.1" fill="#e0262b" opacity="0.95"/>
<circle cx="503.09" cy="241.77" r="1.1" fill="#e0262b" opacity="0.95"/>
<circle cx="503.33" cy="246.95" r="1.1" fill="#e0262b" opacity="0.95"/>
<line x1="501.21" y1="242.88" x2="505.81" y2="242.88" stroke="#1a1a1a" stroke-width="1.2" />
<line x1="508.71" y1="233.64" x2="508.71" y2="256.31" stroke="#333" stroke-width="0.75" />
<rect x="506.41" y="240.50" width="4.6" height="7.90" fill="#fff" fill-opacity="0.5" stroke="#222" stroke-width="0.85"/>
<circle cx="508.00" cy="241.68" r="1.1" fill="#3579bd" opacity="0.95"/>
<circle cx="509.98" cy="243.62" r="1.1" fill="#3579bd" opacity="0.95"/>
<circle cx="510.06" cy="244.91" r="1.1" fill="#3579bd" opacity="0.95"/>
<circle cx="510.06" cy="247.01" r="1.1" fill="#3579bd" opacity="0.95"/>
<circle cx="508.51" cy="244.93" r="1.1" fill="#3579bd" opacity="0.95"/>
<circle cx="509.11" cy="242.09" r="1.1" fill="#3579bd" opacity="0.95"/>
<circle cx="508.63" cy="243.34" r="1.1" fill="#3579bd" opacity="0.95"/>
<circle cx="507.33" cy="248.81" r="1.1" fill="#3579bd" opacity="0.95"/>
<circle cx="507.99" cy="243.67" r="1.1" fill="#3579bd" opacity="0.95"/>
<circle cx="509.79" cy="240.16" r="1.1" fill="#3579bd" opacity="0.95"/>
<circle cx="507.69" cy="239.97" r="1.1" fill="#3579bd" opacity="0.95"/>
<circle cx="508.53" cy="245.92" r="1.1" fill="#3579bd" opacity="0.95"/>
<circle cx="509.27" cy="247.20" r="1.1" fill="#3579bd" opacity="0.95"/>
<circle cx="508.43" cy="250.26" r="1.1" fill="#3579bd" opacity="0.95"/>
<circle cx="508.98" cy="243.12" r="1.1" fill="#3579bd" opacity="0.95"/>
<circle cx="508.92" cy="250.96" r="1.1" fill="#3579bd" opacity="0.95"/>
<line x1="506.41" y1="244.05" x2="511.01" y2="244.05" stroke="#1a1a1a" stroke-width="1.2" />
<line x1="516.44" y1="235.85" x2="516.44" y2="252.91" stroke="#333" stroke-width="0.75" />
<rect x="514.14" y="240.50" width="4.6" height="6.50" fill="#fff" fill-opacity="0.5" stroke="#222" stroke-width="0.85"/>
<circle cx="514.94" cy="243.36" r="1.1" fill="#e0262b" opacity="0.95"/>
<circle cx="517.77" cy="238.65" r="1.1" fill="#e0262b" opacity="0.95"/>
<circle cx="516.19" cy="247.17" r="1.1" fill="#e0262b" opacity="0.95"/>
<circle cx="517.18" cy="246.09" r="1.1" fill="#e0262b" opacity="0.95"/>
<circle cx="517.94" cy="249.34" r="1.1" fill="#e0262b" opacity="0.95"/>
<circle cx="516.92" cy="241.51" r="1.1" fill="#e0262b" opacity="0.95"/>
<circle cx="515.68" cy="244.31" r="1.1" fill="#e0262b" opacity="0.95"/>
<circle cx="516.78" cy="240.33" r="1.1" fill="#e0262b" opacity="0.95"/>
<circle cx="516.22" cy="244.74" r="1.1" fill="#e0262b" opacity="0.95"/>
<circle cx="515.42" cy="243.36" r="1.1" fill="#e0262b" opacity="0.95"/>
<circle cx="515.33" cy="246.39" r="1.1" fill="#e0262b" opacity="0.95"/>
<circle cx="517.29" cy="243.28" r="1.1" fill="#e0262b" opacity="0.95"/>
<circle cx="516.22" cy="246.27" r="1.1" fill="#e0262b" opacity="0.95"/>
<circle cx="516.25" cy="241.98" r="1.1" fill="#e0262b" opacity="0.95"/>
<circle cx="515.98" cy="246.08" r="1.1" fill="#e0262b" opacity="0.95"/>
<circle cx="516.79" cy="242.69" r="1.1" fill="#e0262b" opacity="0.95"/>
<line x1="514.14" y1="242.54" x2="518.74" y2="242.54" stroke="#1a1a1a" stroke-width="1.2" />
<line x1="521.64" y1="232.46" x2="521.64" y2="254.89" stroke="#333" stroke-width="0.75" />
<rect x="519.34" y="240.50" width="4.6" height="7.90" fill="#fff" fill-opacity="0.5" stroke="#222" stroke-width="0.85"/>
<circle cx="522.13" cy="238.10" r="1.1" fill="#3579bd" opacity="0.95"/>
<circle cx="520.35" cy="245.48" r="1.1" fill="#3579bd" opacity="0.95"/>
<circle cx="521.19" cy="249.61" r="1.1" fill="#3579bd" opacity="0.95"/>
<circle cx="521.45" cy="250.33" r="1.1" fill="#3579bd" opacity="0.95"/>
<circle cx="522.65" cy="236.40" r="1.1" fill="#3579bd" opacity="0.95"/>
<circle cx="520.39" cy="238.99" r="1.1" fill="#3579bd" opacity="0.95"/>
<circle cx="520.53" cy="244.13" r="1.1" fill="#3579bd" opacity="0.95"/>
<circle cx="521.01" cy="242.14" r="1.1" fill="#3579bd" opacity="0.95"/>
<circle cx="521.34" cy="246.06" r="1.1" fill="#3579bd" opacity="0.95"/>
<circle cx="522.30" cy="245.19" r="1.1" fill="#3579bd" opacity="0.95"/>
<circle cx="521.30" cy="252.68" r="1.1" fill="#3579bd" opacity="0.95"/>
<circle cx="522.34" cy="244.29" r="1.1" fill="#3579bd" opacity="0.95"/>
<circle cx="520.77" cy="245.42" r="1.1" fill="#3579bd" opacity="0.95"/>
<circle cx="521.20" cy="244.93" r="1.1" fill="#3579bd" opacity="0.95"/>
<circle cx="522.52" cy="249.67" r="1.1" fill="#3579bd" opacity="0.95"/>
<circle cx="521.43" cy="239.48" r="1.1" fill="#3579bd" opacity="0.95"/>
<line x1="519.34" y1="244.95" x2="523.94" y2="244.95" stroke="#1a1a1a" stroke-width="1.2" />
<line x1="529.37" y1="212.11" x2="529.37" y2="246.26" stroke="#333" stroke-width="0.75" />
<rect x="527.07" y="223.50" width="4.6" height="13.10" fill="#fff" fill-opacity="0.5" stroke="#222" stroke-width="0.85"/>
<circle cx="529.81" cy="231.53" r="1.1" fill="#e0262b" opacity="0.95"/>
<circle cx="528.51" cy="223.21" r="1.1" fill="#e0262b" opacity="0.95"/>
<circle cx="530.84" cy="232.29" r="1.1" fill="#e0262b" opacity="0.95"/>
<circle cx="529.79" cy="235.43" r="1.1" fill="#e0262b" opacity="0.95"/>
<circle cx="529.36" cy="211.63" r="1.1" fill="#e0262b" opacity="0.95"/>
<circle cx="528.15" cy="237.95" r="1.1" fill="#e0262b" opacity="0.95"/>
<circle cx="528.65" cy="238.84" r="1.1" fill="#e0262b" opacity="0.95"/>
<circle cx="528.66" cy="216.88" r="1.1" fill="#e0262b" opacity="0.95"/>
<circle cx="530.75" cy="229.28" r="1.1" fill="#e0262b" opacity="0.95"/>
<circle cx="529.42" cy="236.78" r="1.1" fill="#e0262b" opacity="0.95"/>
<circle cx="529.41" cy="221.57" r="1.1" fill="#e0262b" opacity="0.95"/>
<circle cx="529.28" cy="227.23" r="1.1" fill="#e0262b" opacity="0.95"/>
<circle cx="528.90" cy="227.85" r="1.1" fill="#e0262b" opacity="0.95"/>
<circle cx="529.91" cy="234.77" r="1.1" fill="#e0262b" opacity="0.95"/>
<circle cx="529.26" cy="239.04" r="1.1" fill="#e0262b" opacity="0.95"/>
<circle cx="529.57" cy="230.23" r="1.1" fill="#e0262b" opacity="0.95"/>
<line x1="527.07" y1="230.11" x2="531.67" y2="230.11" stroke="#1a1a1a" stroke-width="1.2" />
<ellipse cx="534.57" cy="273.80" rx="2.7" ry="1.9" fill="#1d4466"/>
<rect x="408.50" y="206.50" width="130.00" height="71.00" fill="none" stroke="#262626" stroke-width="1.0" />
<text x="411.90" y="215.83" font-size="7.9" text-anchor="start" fill="#222222" >n = 16</text>
<line x1="543.50" y1="230.20" x2="674.50" y2="230.20" stroke="#b8b8b8" stroke-width="0.7" stroke-dasharray="2.4,2.2"/>
<line x1="548.80" y1="236.71" x2="548.80" y2="255.42" stroke="#333" stroke-width="0.75" />
<rect x="546.50" y="241.80" width="4.6" height="6.60" fill="#fff" fill-opacity="0.5" stroke="#222" stroke-width="0.85"/>
<circle cx="549.62" cy="246.11" r="1.1" fill="#e0262b" opacity="0.95"/>
<circle cx="550.39" cy="243.91" r="1.1" fill="#e0262b" opacity="0.95"/>
<circle cx="547.21" cy="246.34" r="1.1" fill="#e0262b" opacity="0.95"/>
<circle cx="550.39" cy="240.47" r="1.1" fill="#e0262b" opacity="0.95"/>
<circle cx="548.77" cy="239.53" r="1.1" fill="#e0262b" opacity="0.95"/>
<circle cx="549.73" cy="243.62" r="1.1" fill="#e0262b" opacity="0.95"/>
<circle cx="548.79" cy="245.89" r="1.1" fill="#e0262b" opacity="0.95"/>
<circle cx="548.69" cy="249.12" r="1.1" fill="#e0262b" opacity="0.95"/>
<circle cx="547.45" cy="244.41" r="1.1" fill="#e0262b" opacity="0.95"/>
<circle cx="548.07" cy="243.03" r="1.1" fill="#e0262b" opacity="0.95"/>
<circle cx="547.32" cy="247.90" r="1.1" fill="#e0262b" opacity="0.95"/>
<line x1="546.50" y1="245.58" x2="551.10" y2="245.58" stroke="#1a1a1a" stroke-width="1.2" />
<line x1="554.00" y1="234.23" x2="554.00" y2="252.60" stroke="#333" stroke-width="0.75" />
<rect x="551.70" y="240.50" width="4.6" height="6.50" fill="#fff" fill-opacity="0.5" stroke="#222" stroke-width="0.85"/>
<circle cx="555.43" cy="244.40" r="1.1" fill="#3579bd" opacity="0.95"/>
<circle cx="552.56" cy="238.38" r="1.1" fill="#3579bd" opacity="0.95"/>
<circle cx="554.08" cy="239.01" r="1.1" fill="#3579bd" opacity="0.95"/>
<circle cx="553.35" cy="241.28" r="1.1" fill="#3579bd" opacity="0.95"/>
<circle cx="554.74" cy="244.56" r="1.1" fill="#3579bd" opacity="0.95"/>
<circle cx="553.44" cy="239.59" r="1.1" fill="#3579bd" opacity="0.95"/>
<circle cx="552.81" cy="242.61" r="1.1" fill="#3579bd" opacity="0.95"/>
<circle cx="555.45" cy="244.54" r="1.1" fill="#3579bd" opacity="0.95"/>
<circle cx="555.47" cy="249.56" r="1.1" fill="#3579bd" opacity="0.95"/>
<circle cx="555.38" cy="244.57" r="1.1" fill="#3579bd" opacity="0.95"/>
<circle cx="552.92" cy="242.27" r="1.1" fill="#3579bd" opacity="0.95"/>
<line x1="551.70" y1="243.88" x2="556.30" y2="243.88" stroke="#1a1a1a" stroke-width="1.2" />
<line x1="561.66" y1="226.25" x2="561.66" y2="250.95" stroke="#333" stroke-width="0.75" />
<rect x="559.36" y="234.00" width="4.6" height="9.10" fill="#fff" fill-opacity="0.5" stroke="#222" stroke-width="0.85"/>
<circle cx="562.36" cy="240.31" r="1.1" fill="#e0262b" opacity="0.95"/>
<circle cx="562.20" cy="241.35" r="1.1" fill="#e0262b" opacity="0.95"/>
<circle cx="561.90" cy="239.46" r="1.1" fill="#e0262b" opacity="0.95"/>
<circle cx="561.79" cy="234.26" r="1.1" fill="#e0262b" opacity="0.95"/>
<circle cx="560.94" cy="243.22" r="1.1" fill="#e0262b" opacity="0.95"/>
<circle cx="562.99" cy="232.31" r="1.1" fill="#e0262b" opacity="0.95"/>
<circle cx="561.69" cy="237.69" r="1.1" fill="#e0262b" opacity="0.95"/>
<circle cx="562.99" cy="242.14" r="1.1" fill="#e0262b" opacity="0.95"/>
<circle cx="562.64" cy="236.02" r="1.1" fill="#e0262b" opacity="0.95"/>
<circle cx="562.45" cy="243.77" r="1.1" fill="#e0262b" opacity="0.95"/>
<circle cx="560.59" cy="246.29" r="1.1" fill="#e0262b" opacity="0.95"/>
<line x1="559.36" y1="237.74" x2="563.96" y2="237.74" stroke="#1a1a1a" stroke-width="1.2" />
<line x1="566.86" y1="226.61" x2="566.86" y2="261.15" stroke="#333" stroke-width="0.75" />
<rect x="564.56" y="236.60" width="4.6" height="11.80" fill="#fff" fill-opacity="0.5" stroke="#222" stroke-width="0.85"/>
<circle cx="567.36" cy="242.81" r="1.1" fill="#3579bd" opacity="0.95"/>
<circle cx="567.78" cy="247.06" r="1.1" fill="#3579bd" opacity="0.95"/>
<circle cx="566.46" cy="245.74" r="1.1" fill="#3579bd" opacity="0.95"/>
<circle cx="567.89" cy="242.36" r="1.1" fill="#3579bd" opacity="0.95"/>
<circle cx="565.40" cy="240.44" r="1.1" fill="#3579bd" opacity="0.95"/>
<circle cx="566.97" cy="234.70" r="1.1" fill="#3579bd" opacity="0.95"/>
<circle cx="566.94" cy="243.10" r="1.1" fill="#3579bd" opacity="0.95"/>
<circle cx="565.54" cy="251.04" r="1.1" fill="#3579bd" opacity="0.95"/>
<circle cx="567.08" cy="232.60" r="1.1" fill="#3579bd" opacity="0.95"/>
<circle cx="568.40" cy="237.44" r="1.1" fill="#3579bd" opacity="0.95"/>
<circle cx="567.47" cy="246.45" r="1.1" fill="#3579bd" opacity="0.95"/>
<line x1="564.56" y1="240.38" x2="569.16" y2="240.38" stroke="#1a1a1a" stroke-width="1.2" />
<line x1="574.52" y1="229.25" x2="574.52" y2="252.29" stroke="#333" stroke-width="0.75" />
<rect x="572.22" y="236.60" width="4.6" height="7.80" fill="#fff" fill-opacity="0.5" stroke="#222" stroke-width="0.85"/>
<circle cx="576.07" cy="240.66" r="1.1" fill="#e0262b" opacity="0.95"/>
<circle cx="575.00" cy="232.78" r="1.1" fill="#e0262b" opacity="0.95"/>
<circle cx="574.73" cy="244.30" r="1.1" fill="#e0262b" opacity="0.95"/>
<circle cx="575.00" cy="242.09" r="1.1" fill="#e0262b" opacity="0.95"/>
<circle cx="574.30" cy="234.68" r="1.1" fill="#e0262b" opacity="0.95"/>
<circle cx="573.06" cy="234.85" r="1.1" fill="#e0262b" opacity="0.95"/>
<circle cx="574.31" cy="246.27" r="1.1" fill="#e0262b" opacity="0.95"/>
<circle cx="573.72" cy="237.16" r="1.1" fill="#e0262b" opacity="0.95"/>
<circle cx="575.93" cy="246.90" r="1.1" fill="#e0262b" opacity="0.95"/>
<circle cx="575.25" cy="238.82" r="1.1" fill="#e0262b" opacity="0.95"/>
<circle cx="573.30" cy="231.77" r="1.1" fill="#e0262b" opacity="0.95"/>
<line x1="572.22" y1="239.80" x2="576.82" y2="239.80" stroke="#1a1a1a" stroke-width="1.2" />
<line x1="579.72" y1="238.74" x2="579.72" y2="260.33" stroke="#333" stroke-width="0.75" />
<rect x="577.42" y="244.40" width="4.6" height="7.90" fill="#fff" fill-opacity="0.5" stroke="#222" stroke-width="0.85"/>
<circle cx="580.96" cy="239.94" r="1.1" fill="#3579bd" opacity="0.95"/>
<circle cx="580.19" cy="252.47" r="1.1" fill="#3579bd" opacity="0.95"/>
<circle cx="579.61" cy="246.06" r="1.1" fill="#3579bd" opacity="0.95"/>
<circle cx="580.48" cy="247.60" r="1.1" fill="#3579bd" opacity="0.95"/>
<circle cx="580.92" cy="253.49" r="1.1" fill="#3579bd" opacity="0.95"/>
<circle cx="579.35" cy="248.71" r="1.1" fill="#3579bd" opacity="0.95"/>
<circle cx="579.90" cy="251.48" r="1.1" fill="#3579bd" opacity="0.95"/>
<circle cx="579.83" cy="249.49" r="1.1" fill="#3579bd" opacity="0.95"/>
<circle cx="578.16" cy="251.04" r="1.1" fill="#3579bd" opacity="0.95"/>
<circle cx="580.90" cy="249.28" r="1.1" fill="#3579bd" opacity="0.95"/>
<circle cx="580.82" cy="252.40" r="1.1" fill="#3579bd" opacity="0.95"/>
<line x1="577.42" y1="247.09" x2="582.02" y2="247.09" stroke="#1a1a1a" stroke-width="1.2" />
<line x1="587.38" y1="231.61" x2="587.38" y2="248.27" stroke="#333" stroke-width="0.75" />
<rect x="585.08" y="236.60" width="4.6" height="6.50" fill="#fff" fill-opacity="0.5" stroke="#222" stroke-width="0.85"/>
<circle cx="585.81" cy="236.63" r="1.1" fill="#e0262b" opacity="0.95"/>
<circle cx="586.41" cy="237.44" r="1.1" fill="#e0262b" opacity="0.95"/>
<circle cx="588.17" cy="239.42" r="1.1" fill="#e0262b" opacity="0.95"/>
<circle cx="587.68" cy="239.65" r="1.1" fill="#e0262b" opacity="0.95"/>
<circle cx="587.11" cy="242.97" r="1.1" fill="#e0262b" opacity="0.95"/>
<circle cx="588.84" cy="238.57" r="1.1" fill="#e0262b" opacity="0.95"/>
<circle cx="586.13" cy="239.70" r="1.1" fill="#e0262b" opacity="0.95"/>
<circle cx="587.65" cy="240.13" r="1.1" fill="#e0262b" opacity="0.95"/>
<circle cx="588.47" cy="237.24" r="1.1" fill="#e0262b" opacity="0.95"/>
<circle cx="588.65" cy="238.88" r="1.1" fill="#e0262b" opacity="0.95"/>
<circle cx="586.09" cy="247.87" r="1.1" fill="#e0262b" opacity="0.95"/>
<line x1="585.08" y1="241.07" x2="589.68" y2="241.07" stroke="#1a1a1a" stroke-width="1.2" />
<line x1="592.58" y1="235.77" x2="592.58" y2="260.06" stroke="#333" stroke-width="0.75" />
<rect x="590.28" y="243.10" width="4.6" height="9.20" fill="#fff" fill-opacity="0.5" stroke="#222" stroke-width="0.85"/>
<circle cx="593.33" cy="255.30" r="1.1" fill="#3579bd" opacity="0.95"/>
<circle cx="593.40" cy="243.05" r="1.1" fill="#3579bd" opacity="0.95"/>
<circle cx="593.23" cy="240.33" r="1.1" fill="#3579bd" opacity="0.95"/>
<circle cx="593.07" cy="241.88" r="1.1" fill="#3579bd" opacity="0.95"/>
<circle cx="594.10" cy="250.39" r="1.1" fill="#3579bd" opacity="0.95"/>
<circle cx="591.58" cy="252.10" r="1.1" fill="#3579bd" opacity="0.95"/>
<circle cx="592.57" cy="248.39" r="1.1" fill="#3579bd" opacity="0.95"/>
<circle cx="591.95" cy="245.16" r="1.1" fill="#3579bd" opacity="0.95"/>
<circle cx="592.49" cy="247.24" r="1.1" fill="#3579bd" opacity="0.95"/>
<circle cx="593.42" cy="249.96" r="1.1" fill="#3579bd" opacity="0.95"/>
<circle cx="593.53" cy="242.60" r="1.1" fill="#3579bd" opacity="0.95"/>
<line x1="590.28" y1="248.03" x2="594.88" y2="248.03" stroke="#1a1a1a" stroke-width="1.2" />
<line x1="600.24" y1="228.95" x2="600.24" y2="255.06" stroke="#333" stroke-width="0.75" />
<rect x="597.94" y="236.60" width="4.6" height="10.40" fill="#fff" fill-opacity="0.5" stroke="#222" stroke-width="0.85"/>
<circle cx="600.28" cy="241.31" r="1.1" fill="#e0262b" opacity="0.95"/>
<circle cx="600.21" cy="238.88" r="1.1" fill="#e0262b" opacity="0.95"/>
<circle cx="599.00" cy="244.05" r="1.1" fill="#e0262b" opacity="0.95"/>
<circle cx="598.81" cy="241.42" r="1.1" fill="#e0262b" opacity="0.95"/>
<circle cx="601.46" cy="239.23" r="1.1" fill="#e0262b" opacity="0.95"/>
<circle cx="599.35" cy="238.89" r="1.1" fill="#e0262b" opacity="0.95"/>
<circle cx="600.53" cy="245.29" r="1.1" fill="#e0262b" opacity="0.95"/>
<circle cx="599.33" cy="237.25" r="1.1" fill="#e0262b" opacity="0.95"/>
<circle cx="601.69" cy="240.60" r="1.1" fill="#e0262b" opacity="0.95"/>
<circle cx="600.44" cy="240.38" r="1.1" fill="#e0262b" opacity="0.95"/>
<circle cx="599.52" cy="243.10" r="1.1" fill="#e0262b" opacity="0.95"/>
<line x1="597.94" y1="241.56" x2="602.54" y2="241.56" stroke="#1a1a1a" stroke-width="1.2" />
<line x1="605.44" y1="230.61" x2="605.44" y2="261.51" stroke="#333" stroke-width="0.75" />
<rect x="603.14" y="240.50" width="4.6" height="11.80" fill="#fff" fill-opacity="0.5" stroke="#222" stroke-width="0.85"/>
<circle cx="606.60" cy="246.71" r="1.1" fill="#3579bd" opacity="0.95"/>
<circle cx="605.76" cy="242.20" r="1.1" fill="#3579bd" opacity="0.95"/>
<circle cx="604.89" cy="235.83" r="1.1" fill="#3579bd" opacity="0.95"/>
<circle cx="604.30" cy="236.59" r="1.1" fill="#3579bd" opacity="0.95"/>
<circle cx="606.99" cy="250.44" r="1.1" fill="#3579bd" opacity="0.95"/>
<circle cx="605.62" cy="250.57" r="1.1" fill="#3579bd" opacity="0.95"/>
<circle cx="606.04" cy="248.94" r="1.1" fill="#3579bd" opacity="0.95"/>
<circle cx="605.16" cy="246.47" r="1.1" fill="#3579bd" opacity="0.95"/>
<circle cx="605.01" cy="248.24" r="1.1" fill="#3579bd" opacity="0.95"/>
<circle cx="604.58" cy="248.85" r="1.1" fill="#3579bd" opacity="0.95"/>
<circle cx="605.44" cy="247.57" r="1.1" fill="#3579bd" opacity="0.95"/>
<line x1="603.14" y1="247.14" x2="607.74" y2="247.14" stroke="#1a1a1a" stroke-width="1.2" />
<line x1="613.10" y1="244.13" x2="613.10" y2="254.68" stroke="#333" stroke-width="0.75" />
<rect x="610.80" y="247.00" width="4.6" height="4.00" fill="#fff" fill-opacity="0.5" stroke="#222" stroke-width="0.85"/>
<circle cx="612.27" cy="249.93" r="1.1" fill="#e0262b" opacity="0.95"/>
<circle cx="614.32" cy="250.24" r="1.1" fill="#e0262b" opacity="0.95"/>
<circle cx="613.23" cy="248.05" r="1.1" fill="#e0262b" opacity="0.95"/>
<circle cx="612.41" cy="250.46" r="1.1" fill="#e0262b" opacity="0.95"/>
<circle cx="614.32" cy="252.12" r="1.1" fill="#e0262b" opacity="0.95"/>
<circle cx="612.70" cy="250.70" r="1.1" fill="#e0262b" opacity="0.95"/>
<circle cx="612.04" cy="247.41" r="1.1" fill="#e0262b" opacity="0.95"/>
<circle cx="612.19" cy="248.72" r="1.1" fill="#e0262b" opacity="0.95"/>
<circle cx="612.41" cy="248.02" r="1.1" fill="#e0262b" opacity="0.95"/>
<circle cx="613.86" cy="251.81" r="1.1" fill="#e0262b" opacity="0.95"/>
<circle cx="612.38" cy="248.64" r="1.1" fill="#e0262b" opacity="0.95"/>
<line x1="610.80" y1="249.67" x2="615.40" y2="249.67" stroke="#1a1a1a" stroke-width="1.2" />
<line x1="618.30" y1="231.98" x2="618.30" y2="252.65" stroke="#333" stroke-width="0.75" />
<rect x="616.00" y="237.90" width="4.6" height="7.90" fill="#fff" fill-opacity="0.5" stroke="#222" stroke-width="0.85"/>
<circle cx="619.15" cy="242.77" r="1.1" fill="#3579bd" opacity="0.95"/>
<circle cx="616.85" cy="233.28" r="1.1" fill="#3579bd" opacity="0.95"/>
<circle cx="618.58" cy="250.33" r="1.1" fill="#3579bd" opacity="0.95"/>
<circle cx="616.84" cy="247.08" r="1.1" fill="#3579bd" opacity="0.95"/>
<circle cx="618.10" cy="246.43" r="1.1" fill="#3579bd" opacity="0.95"/>
<circle cx="619.88" cy="242.37" r="1.1" fill="#3579bd" opacity="0.95"/>
<circle cx="617.67" cy="244.32" r="1.1" fill="#3579bd" opacity="0.95"/>
<circle cx="619.85" cy="252.09" r="1.1" fill="#3579bd" opacity="0.95"/>
<circle cx="618.61" cy="239.52" r="1.1" fill="#3579bd" opacity="0.95"/>
<circle cx="619.21" cy="244.61" r="1.1" fill="#3579bd" opacity="0.95"/>
<circle cx="617.59" cy="244.10" r="1.1" fill="#3579bd" opacity="0.95"/>
<line x1="616.00" y1="243.52" x2="620.60" y2="243.52" stroke="#1a1a1a" stroke-width="1.2" />
<line x1="625.96" y1="232.43" x2="625.96" y2="249.36" stroke="#333" stroke-width="0.75" />
<rect x="623.66" y="237.90" width="4.6" height="6.50" fill="#fff" fill-opacity="0.5" stroke="#222" stroke-width="0.85"/>
<circle cx="624.50" cy="240.00" r="1.1" fill="#e0262b" opacity="0.95"/>
<circle cx="626.05" cy="237.27" r="1.1" fill="#e0262b" opacity="0.95"/>
<circle cx="626.95" cy="241.01" r="1.1" fill="#e0262b" opacity="0.95"/>
<circle cx="624.85" cy="240.79" r="1.1" fill="#e0262b" opacity="0.95"/>
<circle cx="625.53" cy="243.27" r="1.1" fill="#e0262b" opacity="0.95"/>
<circle cx="625.77" cy="244.44" r="1.1" fill="#e0262b" opacity="0.95"/>
<circle cx="625.59" cy="241.47" r="1.1" fill="#e0262b" opacity="0.95"/>
<circle cx="627.52" cy="242.73" r="1.1" fill="#e0262b" opacity="0.95"/>
<circle cx="626.63" cy="245.55" r="1.1" fill="#e0262b" opacity="0.95"/>
<circle cx="626.29" cy="243.19" r="1.1" fill="#e0262b" opacity="0.95"/>
<circle cx="624.65" cy="240.63" r="1.1" fill="#e0262b" opacity="0.95"/>
<line x1="623.66" y1="241.34" x2="628.26" y2="241.34" stroke="#1a1a1a" stroke-width="1.2" />
<line x1="631.16" y1="232.37" x2="631.16" y2="250.27" stroke="#333" stroke-width="0.75" />
<rect x="628.86" y="237.90" width="4.6" height="6.50" fill="#fff" fill-opacity="0.5" stroke="#222" stroke-width="0.85"/>
<circle cx="631.51" cy="241.30" r="1.1" fill="#3579bd" opacity="0.95"/>
<circle cx="629.61" cy="243.80" r="1.1" fill="#3579bd" opacity="0.95"/>
<circle cx="632.49" cy="239.27" r="1.1" fill="#3579bd" opacity="0.95"/>
<circle cx="630.51" cy="237.99" r="1.1" fill="#3579bd" opacity="0.95"/>
<circle cx="632.41" cy="240.64" r="1.1" fill="#3579bd" opacity="0.95"/>
<circle cx="632.27" cy="246.89" r="1.1" fill="#3579bd" opacity="0.95"/>
<circle cx="632.51" cy="240.19" r="1.1" fill="#3579bd" opacity="0.95"/>
<circle cx="630.15" cy="238.40" r="1.1" fill="#3579bd" opacity="0.95"/>
<circle cx="631.50" cy="238.63" r="1.1" fill="#3579bd" opacity="0.95"/>
<circle cx="630.24" cy="241.80" r="1.1" fill="#3579bd" opacity="0.95"/>
<circle cx="631.77" cy="244.74" r="1.1" fill="#3579bd" opacity="0.95"/>
<line x1="628.86" y1="240.43" x2="633.46" y2="240.43" stroke="#1a1a1a" stroke-width="1.2" />
<line x1="638.82" y1="233.38" x2="638.82" y2="247.30" stroke="#333" stroke-width="0.75" />
<rect x="636.52" y="237.90" width="4.6" height="5.20" fill="#fff" fill-opacity="0.5" stroke="#222" stroke-width="0.85"/>
<circle cx="638.73" cy="241.06" r="1.1" fill="#e0262b" opacity="0.95"/>
<circle cx="638.76" cy="242.20" r="1.1" fill="#e0262b" opacity="0.95"/>
<circle cx="637.79" cy="239.60" r="1.1" fill="#e0262b" opacity="0.95"/>
<circle cx="637.52" cy="239.10" r="1.1" fill="#e0262b" opacity="0.95"/>
<circle cx="639.46" cy="238.13" r="1.1" fill="#e0262b" opacity="0.95"/>
<circle cx="638.23" cy="238.57" r="1.1" fill="#e0262b" opacity="0.95"/>
<circle cx="637.37" cy="238.71" r="1.1" fill="#e0262b" opacity="0.95"/>
<circle cx="638.32" cy="243.26" r="1.1" fill="#e0262b" opacity="0.95"/>
<circle cx="637.79" cy="241.23" r="1.1" fill="#e0262b" opacity="0.95"/>
<circle cx="638.02" cy="241.85" r="1.1" fill="#e0262b" opacity="0.95"/>
<circle cx="637.86" cy="239.25" r="1.1" fill="#e0262b" opacity="0.95"/>
<line x1="636.52" y1="241.33" x2="641.12" y2="241.33" stroke="#1a1a1a" stroke-width="1.2" />
<line x1="644.02" y1="232.81" x2="644.02" y2="257.35" stroke="#333" stroke-width="0.75" />
<rect x="641.72" y="240.50" width="4.6" height="9.20" fill="#fff" fill-opacity="0.5" stroke="#222" stroke-width="0.85"/>
<circle cx="643.35" cy="248.95" r="1.1" fill="#3579bd" opacity="0.95"/>
<circle cx="642.66" cy="240.83" r="1.1" fill="#3579bd" opacity="0.95"/>
<circle cx="642.48" cy="245.54" r="1.1" fill="#3579bd" opacity="0.95"/>
<circle cx="643.13" cy="244.07" r="1.1" fill="#3579bd" opacity="0.95"/>
<circle cx="643.23" cy="244.50" r="1.1" fill="#3579bd" opacity="0.95"/>
<circle cx="643.19" cy="248.32" r="1.1" fill="#3579bd" opacity="0.95"/>
<circle cx="642.44" cy="254.08" r="1.1" fill="#3579bd" opacity="0.95"/>
<circle cx="642.45" cy="244.66" r="1.1" fill="#3579bd" opacity="0.95"/>
<circle cx="645.54" cy="250.58" r="1.1" fill="#3579bd" opacity="0.95"/>
<circle cx="644.77" cy="246.63" r="1.1" fill="#3579bd" opacity="0.95"/>
<circle cx="643.39" cy="248.23" r="1.1" fill="#3579bd" opacity="0.95"/>
<line x1="641.72" y1="245.72" x2="646.32" y2="245.72" stroke="#1a1a1a" stroke-width="1.2" />
<line x1="651.68" y1="238.89" x2="651.68" y2="252.72" stroke="#333" stroke-width="0.75" />
<rect x="649.38" y="243.10" width="4.6" height="5.30" fill="#fff" fill-opacity="0.5" stroke="#222" stroke-width="0.85"/>
<circle cx="651.82" cy="245.33" r="1.1" fill="#e0262b" opacity="0.95"/>
<circle cx="650.27" cy="243.77" r="1.1" fill="#e0262b" opacity="0.95"/>
<circle cx="650.50" cy="241.53" r="1.1" fill="#e0262b" opacity="0.95"/>
<circle cx="651.28" cy="245.70" r="1.1" fill="#e0262b" opacity="0.95"/>
<circle cx="652.54" cy="250.38" r="1.1" fill="#e0262b" opacity="0.95"/>
<circle cx="652.86" cy="245.30" r="1.1" fill="#e0262b" opacity="0.95"/>
<circle cx="653.26" cy="246.72" r="1.1" fill="#e0262b" opacity="0.95"/>
<circle cx="652.20" cy="246.67" r="1.1" fill="#e0262b" opacity="0.95"/>
<circle cx="652.90" cy="246.95" r="1.1" fill="#e0262b" opacity="0.95"/>
<circle cx="652.19" cy="247.64" r="1.1" fill="#e0262b" opacity="0.95"/>
<circle cx="653.05" cy="241.02" r="1.1" fill="#e0262b" opacity="0.95"/>
<line x1="649.38" y1="244.88" x2="653.98" y2="244.88" stroke="#1a1a1a" stroke-width="1.2" />
<line x1="656.88" y1="236.31" x2="656.88" y2="253.60" stroke="#333" stroke-width="0.75" />
<rect x="654.58" y="242.00" width="4.6" height="6.40" fill="#fff" fill-opacity="0.5" stroke="#222" stroke-width="0.85"/>
<circle cx="657.74" cy="247.81" r="1.1" fill="#3579bd" opacity="0.95"/>
<circle cx="657.62" cy="247.01" r="1.1" fill="#3579bd" opacity="0.95"/>
<circle cx="656.36" cy="242.95" r="1.1" fill="#3579bd" opacity="0.95"/>
<circle cx="656.99" cy="249.94" r="1.1" fill="#3579bd" opacity="0.95"/>
<circle cx="656.75" cy="245.63" r="1.1" fill="#3579bd" opacity="0.95"/>
<circle cx="657.73" cy="243.52" r="1.1" fill="#3579bd" opacity="0.95"/>
<circle cx="656.32" cy="246.85" r="1.1" fill="#3579bd" opacity="0.95"/>
<circle cx="657.93" cy="249.08" r="1.1" fill="#3579bd" opacity="0.95"/>
<circle cx="657.48" cy="245.13" r="1.1" fill="#3579bd" opacity="0.95"/>
<circle cx="656.79" cy="240.95" r="1.1" fill="#3579bd" opacity="0.95"/>
<circle cx="656.30" cy="243.74" r="1.1" fill="#3579bd" opacity="0.95"/>
<line x1="654.58" y1="246.72" x2="659.18" y2="246.72" stroke="#1a1a1a" stroke-width="1.2" />
<line x1="664.54" y1="239.03" x2="664.54" y2="249.89" stroke="#333" stroke-width="0.75" />
<rect x="662.24" y="243.10" width="4.6" height="3.90" fill="#fff" fill-opacity="0.5" stroke="#222" stroke-width="0.85"/>
<circle cx="665.15" cy="245.98" r="1.1" fill="#e0262b" opacity="0.95"/>
<circle cx="664.75" cy="244.51" r="1.1" fill="#e0262b" opacity="0.95"/>
<circle cx="665.99" cy="247.72" r="1.1" fill="#e0262b" opacity="0.95"/>
<circle cx="665.33" cy="244.65" r="1.1" fill="#e0262b" opacity="0.95"/>
<circle cx="665.16" cy="245.89" r="1.1" fill="#e0262b" opacity="0.95"/>
<circle cx="664.37" cy="247.14" r="1.1" fill="#e0262b" opacity="0.95"/>
<circle cx="664.52" cy="245.54" r="1.1" fill="#e0262b" opacity="0.95"/>
<circle cx="664.72" cy="247.75" r="1.1" fill="#e0262b" opacity="0.95"/>
<circle cx="666.04" cy="244.90" r="1.1" fill="#e0262b" opacity="0.95"/>
<circle cx="665.68" cy="244.88" r="1.1" fill="#e0262b" opacity="0.95"/>
<circle cx="663.34" cy="245.39" r="1.1" fill="#e0262b" opacity="0.95"/>
<line x1="662.24" y1="245.21" x2="666.84" y2="245.21" stroke="#1a1a1a" stroke-width="1.2" />
<line x1="669.74" y1="222.35" x2="669.74" y2="247.94" stroke="#333" stroke-width="0.75" />
<rect x="667.44" y="231.40" width="4.6" height="9.10" fill="#fff" fill-opacity="0.5" stroke="#222" stroke-width="0.85"/>
<circle cx="668.22" cy="240.89" r="1.1" fill="#3579bd" opacity="0.95"/>
<circle cx="668.22" cy="239.07" r="1.1" fill="#3579bd" opacity="0.95"/>
<circle cx="669.95" cy="234.18" r="1.1" fill="#3579bd" opacity="0.95"/>
<circle cx="668.72" cy="231.01" r="1.1" fill="#3579bd" opacity="0.95"/>
<circle cx="670.32" cy="227.94" r="1.1" fill="#3579bd" opacity="0.95"/>
<circle cx="668.29" cy="243.92" r="1.1" fill="#3579bd" opacity="0.95"/>
<circle cx="670.12" cy="230.11" r="1.1" fill="#3579bd" opacity="0.95"/>
<circle cx="669.34" cy="231.28" r="1.1" fill="#3579bd" opacity="0.95"/>
<circle cx="669.17" cy="239.77" r="1.1" fill="#3579bd" opacity="0.95"/>
<circle cx="670.83" cy="238.16" r="1.1" fill="#3579bd" opacity="0.95"/>
<circle cx="670.58" cy="237.07" r="1.1" fill="#3579bd" opacity="0.95"/>
<line x1="667.44" y1="234.27" x2="672.04" y2="234.27" stroke="#1a1a1a" stroke-width="1.2" />
<rect x="543.50" y="206.50" width="131.00" height="71.00" fill="none" stroke="#262626" stroke-width="1.0" />
<text x="546.90" y="215.83" font-size="7.9" text-anchor="start" fill="#222222" >n = 11</text>
<line x1="405.30" y1="274.50" x2="408.30" y2="274.50" stroke="#262626" stroke-width="0.8" />
<text x="402.30" y="278.08" font-size="10" text-anchor="end" fill="#222222" >0</text>
<line x1="405.30" y1="258.10" x2="408.30" y2="258.10" stroke="#262626" stroke-width="0.8" />
<text x="402.30" y="261.68" font-size="10" text-anchor="end" fill="#222222" >5</text>
<line x1="405.30" y1="241.70" x2="408.30" y2="241.70" stroke="#262626" stroke-width="0.8" />
<text x="402.30" y="245.28" font-size="10" text-anchor="end" fill="#222222" >10</text>
<line x1="405.30" y1="225.30" x2="408.30" y2="225.30" stroke="#262626" stroke-width="0.8" />
<text x="402.30" y="228.88" font-size="10" text-anchor="end" fill="#222222" >15</text>
<line x1="405.30" y1="208.90" x2="408.30" y2="208.90" stroke="#262626" stroke-width="0.8" />
<text x="402.30" y="212.48" font-size="10" text-anchor="end" fill="#222222" >20</text>
<circle cx="521.80" cy="145.80" r="1.10" fill="#3579bd" />
<circle cx="412.50" cy="151.50" r="1.10" fill="#e0262b" />
<circle cx="588.30" cy="219.60" r="1.10" fill="#e0262b" />
<circle cx="605.30" cy="219.60" r="1.10" fill="#3579bd" />
<circle cx="618.30" cy="219.60" r="1.10" fill="#3579bd" />
<circle cx="554.40" cy="230.00" r="1.10" fill="#3579bd" />
<circle cx="631.40" cy="227.40" r="1.10" fill="#3579bd" />
<circle cx="639.20" cy="225.60" r="1.10" fill="#e0262b" />
<circle cx="490.00" cy="222.20" r="1.10" fill="#e0262b" />
<circle cx="515.00" cy="219.60" r="1.10" fill="#e0262b" />
<line x1="415.60" y1="277.70" x2="415.60" y2="280.70" stroke="#262626" stroke-width="0.8" />
<text x="415.60" y="291.88" font-size="10" text-anchor="middle" fill="#222222" >1</text>
<line x1="428.53" y1="277.70" x2="428.53" y2="280.70" stroke="#262626" stroke-width="0.8" />
<text x="428.53" y="291.88" font-size="10" text-anchor="middle" fill="#222222" >2</text>
<line x1="441.46" y1="277.70" x2="441.46" y2="280.70" stroke="#262626" stroke-width="0.8" />
<text x="441.46" y="291.88" font-size="10" text-anchor="middle" fill="#222222" >3</text>
<line x1="454.39" y1="277.70" x2="454.39" y2="280.70" stroke="#262626" stroke-width="0.8" />
<text x="454.39" y="291.88" font-size="10" text-anchor="middle" fill="#222222" >4</text>
<line x1="467.32" y1="277.70" x2="467.32" y2="280.70" stroke="#262626" stroke-width="0.8" />
<text x="467.32" y="291.88" font-size="10" text-anchor="middle" fill="#222222" >5</text>
<line x1="480.25" y1="277.70" x2="480.25" y2="280.70" stroke="#262626" stroke-width="0.8" />
<text x="480.25" y="291.88" font-size="10" text-anchor="middle" fill="#222222" >6</text>
<line x1="493.18" y1="277.70" x2="493.18" y2="280.70" stroke="#262626" stroke-width="0.8" />
<text x="493.18" y="291.88" font-size="10" text-anchor="middle" fill="#222222" >7</text>
<line x1="506.11" y1="277.70" x2="506.11" y2="280.70" stroke="#262626" stroke-width="0.8" />
<text x="506.11" y="291.88" font-size="10" text-anchor="middle" fill="#222222" >8</text>
<line x1="519.04" y1="277.70" x2="519.04" y2="280.70" stroke="#262626" stroke-width="0.8" />
<text x="519.04" y="291.88" font-size="10" text-anchor="middle" fill="#222222" >&#956;</text>
<line x1="531.97" y1="277.70" x2="531.97" y2="280.70" stroke="#262626" stroke-width="0.8" />
<text x="531.97" y="291.88" font-size="10" text-anchor="middle" fill="#222222" >Z</text>
<line x1="551.40" y1="277.70" x2="551.40" y2="280.70" stroke="#262626" stroke-width="0.8" />
<text x="551.40" y="291.88" font-size="10" text-anchor="middle" fill="#222222" >1</text>
<line x1="564.26" y1="277.70" x2="564.26" y2="280.70" stroke="#262626" stroke-width="0.8" />
<text x="564.26" y="291.88" font-size="10" text-anchor="middle" fill="#222222" >2</text>
<line x1="577.12" y1="277.70" x2="577.12" y2="280.70" stroke="#262626" stroke-width="0.8" />
<text x="577.12" y="291.88" font-size="10" text-anchor="middle" fill="#222222" >3</text>
<line x1="589.98" y1="277.70" x2="589.98" y2="280.70" stroke="#262626" stroke-width="0.8" />
<text x="589.98" y="291.88" font-size="10" text-anchor="middle" fill="#222222" >4</text>
<line x1="602.84" y1="277.70" x2="602.84" y2="280.70" stroke="#262626" stroke-width="0.8" />
<text x="602.84" y="291.88" font-size="10" text-anchor="middle" fill="#222222" >5</text>
<line x1="615.70" y1="277.70" x2="615.70" y2="280.70" stroke="#262626" stroke-width="0.8" />
<text x="615.70" y="291.88" font-size="10" text-anchor="middle" fill="#222222" >6</text>
<line x1="628.56" y1="277.70" x2="628.56" y2="280.70" stroke="#262626" stroke-width="0.8" />
<text x="628.56" y="291.88" font-size="10" text-anchor="middle" fill="#222222" >7</text>
<line x1="641.42" y1="277.70" x2="641.42" y2="280.70" stroke="#262626" stroke-width="0.8" />
<text x="641.42" y="291.88" font-size="10" text-anchor="middle" fill="#222222" >8</text>
<line x1="654.28" y1="277.70" x2="654.28" y2="280.70" stroke="#262626" stroke-width="0.8" />
<text x="654.28" y="291.88" font-size="10" text-anchor="middle" fill="#222222" >&#956;</text>
<line x1="667.14" y1="277.70" x2="667.14" y2="280.70" stroke="#262626" stroke-width="0.8" />
<text x="667.14" y="291.88" font-size="10" text-anchor="middle" fill="#222222" >Z</text>
<text x="467.30" y="303.80" font-size="9.5" text-anchor="middle" fill="#222222" >Chromosome(s)</text>
<text x="558.60" y="303.40" font-size="9.5" text-anchor="start" fill="#222222" >Allele:</text>
<circle cx="596.60" cy="299.70" r="2.90" fill="#e0262b" />
<text x="603.80" y="303.40" font-size="9.5" text-anchor="start" fill="#222222" >RJF</text>
<circle cx="636.00" cy="299.70" r="2.90" fill="#3579bd" />
<text x="642.60" y="303.40" font-size="9.5" text-anchor="start" fill="#222222" >WL</text>
<g transform="translate(383.50,203.30) rotate(-90)"><text x="0" y="3.40" font-size="9.5" text-anchor="middle" fill="#222222" >Allelic expression (FPKM)</text></g>
<g transform="translate(680.60,164.50) rotate(90)"><text x="0" y="3.40" font-size="9.5" text-anchor="middle" fill="#222222" >F1&#8722;F</text></g>
<g transform="translate(680.60,242.00) rotate(90)"><text x="0" y="3.40" font-size="9.5" text-anchor="middle" fill="#222222" >F1&#8722;R</text></g>
<text x="453.00" y="125.10" font-size="9.5" text-anchor="start" fill="#222222" >Female (ZW)</text>
<text x="590.00" y="125.10" font-size="9.5" text-anchor="start" fill="#222222" >Male (ZZ)</text>
<g stroke="#e8409a" stroke-width="1.2" fill="none"><circle cx="442.7" cy="118.8" r="2.3"/><line x1="442.7" y1="121.1" x2="442.7" y2="126"/><line x1="440.3" y1="123.4" x2="445.1" y2="123.4"/></g>
<g stroke="#5cb548" stroke-width="1.2" fill="none"><circle cx="580.0" cy="122.7" r="2.4"/><line x1="581.7" y1="121.0" x2="585.6" y2="117.0"/></g>
</svg></body></html>
